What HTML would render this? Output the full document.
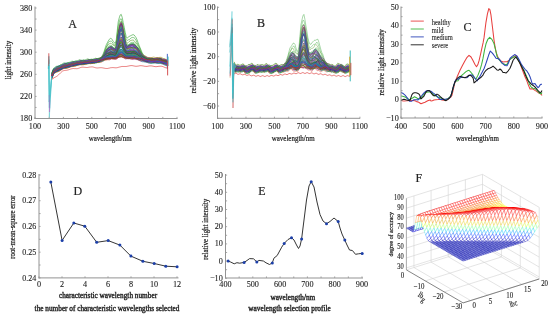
<!DOCTYPE html>
<html><head><meta charset="utf-8"><style>
html,body{margin:0;padding:0;background:#fff;}
svg{display:block;font-family:"Liberation Serif",serif;will-change:transform;}
text{stroke:#2a2a2a;stroke-width:0.12px;}
</style></head><body>
<svg width="550" height="317" viewBox="0 0 550 317" xmlns="http://www.w3.org/2000/svg">
<defs>
<clipPath id="clipA"><rect x="35" y="0" width="145" height="118"/></clipPath>
<clipPath id="clipB"><rect x="218" y="0" width="145" height="118"/></clipPath>
</defs>
<rect width="550" height="317" fill="#fff"/>
<g fill="none" stroke-linejoin="round" clip-path="url(#clipA)">
<path d="M51.6,76.3l1-2.6 1-2.5 1-.6 1-.9 1-.5 1,.1 1-.3 1-.8 1-.6 1-.4 .9-.7 1-.7 1,0 1,.3 1-.2 1-.5 1-.3 1-.2 1-.5 1-.5 1,.1 1,.2 1-.2 1-.4 1-.2 1-.3 1-.5 .9-.3 1,.3 1,.2 1-.2 1-.2 1,0 1-.3 1-.5 1-.2 1,.3 1,.1 1-.2 1-.1 1,.1 1-.3 1-.5 .9,0 1,.2 1-.2 1-.7 1-.4 1-.8 1-1.5 1-1.9 1-2 1-2.6 1-3.3 1-2.9 1-1.9 1-1.8 1-1.7 1-.9 1,.1 .9,1.2 1,1.6 1,1.4 1,.6 1-3 1-9 1-9.3 1-4 1-3 1-.7 1,3.1 1,5.1 1,4.7 1,5.1 1,4.4 1,1.4 1-.9 .9-.7 1-.5 1-.5 1-.5 1-.4 1,.4 1,1.2 1,1.5 1,2.2 1,2.8 1,2.6 1,2.4 1,2.5 1,2.5 1,1.6 1,1 1,1.4 .9,1.4 1,.9 1,.4 1,.3 1,.3 1-.1 1-.1 1,.4 1,.5 1-.1 1-.3 1,0 1,0 1-.4 1-.1 1,.7 .9,.7 1,.2 1,.1 1,.4 1,.2 1-.1" stroke="#2f9f2f" stroke-width="0.65" stroke-opacity="0.9"/>
<path d="M51.6,76.5l1-2.2 1-2.6 1-.9 1-.4 1-.1 1-.4 1-.8 1-.6 1-.4 1-.7 .9-.6 1-.1 1,.2 1-.3 1-.5 1-.3 1-.2 1-.6 1-.4 1,.2 1,.2 1-.4 1-.4 1-.2 1-.3 1-.7 1-.1 .9,.3 1,.1 1-.2 1-.2 1,0 1-.4 1-.5 1,0 1,.3 1,0 1-.2 1-.1 1,0 1-.5 1-.4 1,.2 .9,.3 1-.2 1-.4 1-.2 1-.7 1-1.2 1-1.4 1-1.1 1-1.6 1-2.7 1-2.8 1-2.3 1-2.1 1-2.2 1-1.2 1-.3 1,0 .9,.8 1,1.7 1,1.4 1,0 1-3.1 1-7.7 1-8 1-4.1 1-3.1 1-.3 1,2.9 1,4.2 1,4.2 1,5.2 1,4.1 1,1.1 1-.7 .9-.1 1-.7 1-1.1 1-.5 1,.1 1,.3 1,.9 1,1.7 1,2.4 1,2.1 1,1.7 1,2.2 1,2.6 1,2 1,1.3 1,1.5 1,1.5 .9,.8 1,.4 1,.6 1,.4 1-.1 1,0 1,.5 1,.4 1-.1 1-.3 1,0 1-.1 1-.4 1,0 1,.5 1,.6 .9,.1 1,.2 1,.4 1,.1 1-.1 1,.4" stroke="#3aa83a" stroke-width="0.65" stroke-opacity="0.9"/>
<path d="M51.6,76.6l1-2.5 1-2.6 1-.3 1-.2 1-.6 1-.9 1-.5 1-.4 1-.7 1-.6 .9,0 1-.1 1-.4 1-.5 1-.1 1-.4 1-.5 1-.3 1,.3 1,0 1-.4 1-.4 1-.1 1-.5 1-.6 1-.1 1,.4 .9,0 1-.3 1-.1 1,0 1-.5 1-.5 1,.2 1,.3 1-.1 1-.2 1,0 1-.1 1-.6 1-.4 1,.3 1,.3 .9-.2 1-.1 1-.1 1-.5 1-1 1-.8 1-.6 1-.9 1-1.6 1-1.9 1-2.1 1-2.3 1-2.1 1-1.3 1-.6 1-.4 1-.2 .9,1 1,1.4 1,.5 1-.4 1-2.1 1-6.2 1-7.7 1-5 1-3.9 1-1.3 1,2.6 1,5.1 1,5.6 1,5.2 1,3.5 1,1.3 1-.1 .9-.5 1-1 1-.7 1-.1 1-.1 1,.2 1,1.1 1,1.7 1,1.4 1,1.3 1,1.6 1,2 1,1.7 1,1.7 1,1.6 1,1.3 1,.7 .9,.4 1,.6 1,.5 1,0 1,.2 1,.6 1,.3 1-.2 1-.2 1,.1 1-.2 1-.4 1,.2 1,.5 1,.1 1,.1 .9,.3 1,.3 1,0 1,0 1,.6 1,.8" stroke="#48b048" stroke-width="0.65" stroke-opacity="0.9"/>
<path d="M51.6,75.3l1-2.3 1-2.1 1-.3 1-.8 1-.9 1-.5 1-.4 1-.8 1-.4 1,0 .9-.2 1-.7 1-.4 1-.1 1-.4 1-.6 1,0 1,.3 1-.2 1-.4 1-.3 1-.2 1-.5 1-.5 1,0 1,.2 1-.1 .9-.3 1,0 1-.1 1-.5 1-.4 1,.3 1,.2 1-.2 1-.1 1,0 1-.2 1-.6 1-.2 1,.3 1,.1 1-.1 .9,0 1,.1 1-.6 1-.9 1-.6 1-.3 1-.8 1-1.2 1-1.5 1-2.1 1-2.8 1-2.8 1-1.6 1-1.1 1-.9 1-.5 1,.2 .9,.9 1,.8 1,.6 1,.3 1-2.1 1-6.8 1-7.4 1-3.7 1-3.4 1-1.4 1,2.4 1,4.8 1,4.6 1,4.8 1,3.9 1,1.5 1-.7 .9-1 1-.8 1-.4 1-.3 1-.1 1,.7 1,1.3 1,1 1,1.3 1,1.9 1,1.8 1,1.9 1,2.2 1,2.4 1,1.5 1,.7 1,.7 .9,.8 1,.6 1,.3 1,.5 1,.7 1,.2 1-.2 1-.1 1,.1 1-.3 1-.3 1,.3 1,.5 1,0 1-.2 1,.3 .9,.3 1,0 1,.1 1,.7 1,.7 1,.2" stroke="#5a9a2a" stroke-width="0.65" stroke-opacity="0.9"/>
<path d="M51.6,75.7l1-2.1 1-2.8 1-.9 1-.6 1-.6 1-.7 1-.3 1,0 1-.3 1-.8 .9-.6 1-.4 1-.5 1-.5 1,.1 1,.3 1-.3 1-.5 1-.2 1-.3 1-.6 1-.4 1,.2 1,.1 1-.3 1-.4 1,0 .9-.3 1-.5 1-.2 1,.3 1,.2 1-.3 1-.1 1,0 1-.4 1-.5 1-.1 1,.3 1,0 1-.2 1,0 1,0 .9-.5 1-.5 1-.1 1,.1 1-.2 1-.4 1-.2 1-.5 1-1.2 1-1.3 1-.8 1-.7 1-.8 1-.4 1-.1 1-.3 1-.6 .9,0 1,.6 1,.4 1-.1 1-.7 1-2.3 1-3.5 1-2.9 1-2.2 1-.5 1,1.3 1,2.6 1,2.8 1,2.6 1,1.3 1,0 1-.2 .9,0 1-.4 1-.1 1,.4 1,.2 1-.2 1,0 1,.7 1,.6 1,.5 1,1 1,1.3 1,.9 1,.4 1,.4 1,.5 1,.3 .9,.1 1,.6 1,.8 1,.1 1-.3 1,0 1,.1 1-.3 1-.2 1,.4 1,.4 1-.1 1-.2 1,0 1-.1 1-.1 .9,.3 1,.8 1,.6 1,.1 1,.2 1,.4" stroke="#1878a0" stroke-width="0.65" stroke-opacity="0.9"/>
<path d="M51.6,76.9l1-2.7 1-2.8 1-.5 1-.8 1-.8 1-.2 1,0 1-.4 1-.8 1-.6 .9-.4 1-.7 1-.4 1,.1 1,.2 1-.3 1-.5 1-.2 1-.3 1-.6 1-.3 1,.2 1,.1 1-.4 1-.4 1-.1 1-.3 .9-.5 1-.2 1,.4 1,.1 1-.3 1-.1 1,0 1-.4 1-.6 1,0 1,.3 1,0 1-.2 1,0 1,0 1-.6 .9-.5 1,.1 1,.2 1-.2 1-.2 1,0 1-.3 1-.8 1-.7 1-.2 1-.3 1-.5 1-.2 1,0 1-.3 1-.6 1-.3 .9,.3 1,.2 1,0 1,.2 1-.1 1-1.3 1-1.7 1-.8 1-.5 1-.2 1,.5 1,1.2 1,1 1,.5 1,.1 1,.3 1,0 .9-.2 1,.1 1,.4 1,.1 1-.3 1-.2 1,.2 1,.3 1,.1 1,.6 1,.8 1,.4 1,.1 1,.2 1,.3 1,.1 1,0 .9,.5 1,.7 1,.1 1-.2 1,0 1,0 1-.3 1-.1 1,.4 1,.4 1-.2 1-.2 1,0 1-.1 1-.4 1,.3 .9,.8 1,.6 1,.1 1,.2 1,.4 1,.1" stroke="#d85028" stroke-width="0.65" stroke-opacity="0.9"/>
<path d="M51.6,77.1l1-1.9 1-2.6 1-1 1-.7 1-.5 1-.7 1-.6 1-.1 1-.1 1-.6 .9-.7 1-.5 1-.3 1-.5 1-.3 1,.2 1,.1 1-.4 1-.4 1-.2 1-.4 1-.6 1-.2 1,.3 1-.1 1-.4 1-.2 .9-.1 1-.4 1-.5 1,.1 1,.3 1,0 1-.3 1,0 1-.1 1-.6 1-.4 1,.1 1,.3 1-.2 1-.1 1,0 .9-.2 1-.6 1-.4 1,.2 1,.1 1-.2 1-.2 1,0 1-.4 1-.9 1-.3 1,0 1,0 1-.2 1,.1 1,.1 1-.4 .9-.5 1,0 1,.2 1-.1 1-.2 1,0 1-.3 1-.7 1-.6 1,.1 1,.3 1,.1 1,.4 1,.7 1,.2 1-.3 1-.3 .9,.1 1,0 1-.1 1,.3 1,.5 1-.1 1-.3 1,.1 1,.2 1,0 1,.1 1,.6 1,.6 1,0 1-.2 1,.2 1,.1 .9-.1 1,.1 1,.6 1,.4 1-.3 1-.2 1,0 1-.1 1-.3 1,0 1,.5 1,.2 1-.2 1-.1 1,0 1,.1 .9-.1 1,.5 1,.8 1,.4 1,.1 1,.3" stroke="#2626b0" stroke-width="0.65" stroke-opacity="0.9"/>
<path d="M51.6,76.1l1-2.3 1-2.8 1-.6 1-.1 1-.4 1-.7 1-.7 1-.5 1-.5 1-.8 .9-.3 1,.1 1-.2 1-.5 1-.3 1-.2 1-.5 1-.5 1,0 1,.2 1-.2 1-.5 1-.2 1-.2 1-.7 1-.4 1,.2 .9,.3 1-.2 1-.3 1,0 1-.2 1-.6 1-.2 1,.3 1,.1 1-.2 1-.1 1,0 1-.4 1-.6 1,0 1,.3 .9,0 1-.2 1-.1 1-.2 1-.7 1-.9 1-.5 1-.4 1-.9 1-1.3 1-1.2 1-1.2 1-1.5 1-1.1 1-.3 1-.1 1-.2 .9,.5 1,.9 1,.4 1-.5 1-1.6 1-4 1-5.3 1-4.5 1-3.9 1-1.1 1,2.3 1,4.3 1,4.5 1,4.1 1,2.4 1,.7 1,.1 .9,0 1-.6 1-.7 1-.1 1,.1 1,0 1,.6 1,1.2 1,1.1 1,.7 1,.7 1,1.3 1,1.1 1,.8 1,.9 1,1.1 1,.6 .9,.1 1,.3 1,.4 1,0 1-.2 1,.4 1,.5 1,0 1-.3 1,0 1-.1 1-.3 1-.2 1,.4 1,.4 1,.2 .9,.1 1,.4 1,.2 1-.1 1,.2 1,.7" stroke="#a08a10" stroke-width="0.65" stroke-opacity="0.9"/>
<path d="M51.6,77.6l1-2 1-2.9 1-.9 1-.5 1-.7 1-.7 1-.3 1,.1 1-.4 1-.7 .9-.7 1-.3 1-.5 1-.4 1,0 1,.3 1-.3 1-.5 1-.2 1-.2 1-.6 1-.4 1,.1 1,.2 1-.3 1-.4 1,0 .9-.3 1-.5 1-.2 1,.3 1,.2 1-.2 1-.2 1,0 1-.3 1-.6 1-.1 1,.3 1,.1 1-.2 1,0 1,.1 .9-.5 1-.5 1-.2 1,0 1-.3 1-.6 1-.4 1-.8 1-1.7 1-1.9 1-1.6 1-1.4 1-1.2 1-.9 1-.3 1-.4 1-.6 .9,.2 1,1.1 1,.7 1,0 1-1.4 1-4.3 1-5.7 1-3.8 1-2.9 1-.6 1,2 1,3.6 1,4 1,3.9 1,2.3 1,.4 1-.4 .9-.3 1-.5 1-.4 1,.4 1,.2 1-.1 1,.3 1,1 1,1.2 1,1 1,1.5 1,1.9 1,1.6 1,1 1,.8 1,.8 1,.5 .9,.3 1,.7 1,1 1,.2 1-.2 1,.1 1,0 1-.2 1-.2 1,.4 1,.4 1-.1 1-.2 1,0 1-.1 1,0 .9,.2 1,.7 1,.7 1,.1 1,.3 1,.4" stroke="#3a3a3a" stroke-width="0.65" stroke-opacity="0.9"/>
<path d="M51.6,76.7l1-2.3 1-2.7 1-.7 1-.2 1-.2 1-.6 1-.8 1-.5 1-.5 1-.8 .9-.5 1,.1 1,0 1-.4 1-.5 1-.1 1-.4 1-.6 1-.2 1,.3 1,0 1-.5 1-.3 1-.2 1-.5 1-.6 1,.1 .9,.3 1,0 1-.3 1-.1 1-.1 1-.5 1-.4 1,.1 1,.3 1-.1 1-.2 1,0 1-.2 1-.6 1-.3 1,.2 .9,.1 1-.2 1-.1 1,.1 1-.4 1-.8 1-.4 1,0 1-.3 1-.6 1-.4 1-.3 1-.7 1-.8 1-.2 1,.2 1-.1 .9,0 1,.5 1,.2 1-.4 1-.9 1-1.1 1-1.4 1-1.1 1-.9 1,.2 1,.6 1,.7 1,.8 1,1.2 1,.7 1,.1 1,.2 .9,.3 1-.1 1-.5 1-.2 1,.2 1-.1 1,.1 1,.7 1,.8 1,.2 1,0 1,.4 1,.5 1,.2 1,.2 1,.8 1,.5 .9,0 1-.1 1,.2 1,.1 1-.3 1,.1 1,.5 1,.2 1-.3 1-.1 1,0 1-.2 1-.3 1,.1 1,.5 1,.4 .9,.1 1,.3 1,.3 1,0 1,0 1,.6" stroke="#c02020" stroke-width="0.65" stroke-opacity="0.9"/>
<path d="M51.6,74.8l1-2.6 1-2.8 1-.6 1-.6 1-.8 1-.4 1,0 1-.2 1-.7 1-.7 .9-.3 1-.6 1-.5 1-.1 1,.3 1,0 1-.5 1-.3 1-.2 1-.5 1-.5 1,.1 1,.3 1-.3 1-.4 1-.1 1-.2 .9-.5 1-.3 1,.3 1,.3 1-.2 1-.2 1,.1 1-.3 1-.5 1-.2 1,.3 1,.1 1-.2 1,0 1,.1 1-.3 .9-.6 1-.1 1,.2 1-.1 1-.4 1-.1 1-.3 1-.9 1-1.1 1-.8 1-.7 1-.9 1-.7 1-.2 1-.3 1-.7 1-.4 .9,.4 1,.7 1,.2 1,.1 1-.6 1-2.8 1-4.2 1-3.2 1-2.6 1-.9 1,1.6 1,3.5 1,3.6 1,2.5 1,1.2 1,.5 1,0 .9-.2 1-.3 1,.2 1,.4 1-.3 1-.2 1,.4 1,.6 1,.5 1,.8 1,1.2 1,1.1 1,.6 1,.5 1,.6 1,.4 1,.1 .9,.6 1,.8 1,.4 1-.1 1,0 1,.1 1-.2 1-.2 1,.3 1,.5 1,0 1-.3 1,.1 1,0 1-.4 1,.2 .9,.7 1,.7 1,.3 1,.1 1,.5 1,.2" stroke="#3a3a3a" stroke-width="0.65" stroke-opacity="0.9"/>
<path d="M51.6,74.9l1-2.6 1-2.8 1-.6 1-.6 1-.8 1-.4 1,.1 1-.3 1-.7 1-.7 .9-.3 1-.6 1-.5 1,0 1,.3 1-.2 1-.5 1-.2 1-.2 1-.5 1-.5 1,.1 1,.2 1-.2 1-.4 1-.2 1-.1 .9-.5 1-.3 1,.3 1,.2 1-.2 1-.1 1,0 1-.3 1-.5 1-.2 1,.4 1,.1 1-.2 1-.1 1,.1 1-.4 .9-.6 1-.1 1,.3 1,0 1-.2 1,0 1-.1 1-.6 1-.7 1-.1 1,0 1-.3 1-.1 1,.1 1-.1 1-.5 1-.4 .9,.2 1,.2 1-.1 1,.1 1,.2 1-.5 1-1.1 1-.5 1-.1 1,0 1,.1 1,.7 1,.8 1,.1 1-.2 1,.1 1,.1 .9,0 1,0 1,.4 1,.3 1-.2 1-.3 1,.2 1,.2 1,0 1,.3 1,.8 1,.4 1-.1 1,0 1,.3 1,0 1,0 .9,.4 1,.6 1,.2 1-.2 1,0 1,0 1-.2 1-.2 1,.3 1,.5 1,0 1-.3 1,.1 1,0 1-.4 1,.2 .9,.7 1,.7 1,.2 1,.2 1,.5 1,.1" stroke="#1878a0" stroke-width="0.65" stroke-opacity="0.9"/>
<path d="M51.6,76.1l1-2.2 1-2.9 1-.8 1-.5 1-.8 1-.6 1-.3 1,.1 1-.5 1-.8 .9-.6 1-.4 1-.5 1-.4 1,.2 1,.1 1-.3 1-.5 1-.2 1-.3 1-.6 1-.3 1,.2 1,.1 1-.4 1-.4 1,0 .9-.3 1-.6 1-.1 1,.4 1,.1 1-.3 1-.1 1,0 1-.5 1-.5 1,0 1,.3 1,0 1-.3 1,.1 1-.1 .9-.5 1-.5 1,0 1,.1 1-.2 1-.2 1-.1 1-.5 1-1 1-.8 1-.4 1-.4 1-.5 1-.2 1,.1 1-.4 1-.6 .9,0 1,.4 1,.2 1-.1 1-.2 1-1.2 1-1.9 1-1.5 1-.9 1-.1 1,.6 1,1.1 1,1.5 1,1.3 1,.4 1-.1 1-.1 .9,0 1-.2 1,0 1,.4 1,.2 1-.3 1,0 1,.4 1,.3 1,.3 1,.7 1,1 1,.5 1,.1 1,.2 1,.4 1,0 .9,.1 1,.6 1,.6 1,0 1-.3 1,0 1,0 1-.3 1-.1 1,.5 1,.3 1-.2 1-.2 1,.1 1-.2 1-.1 .9,.4 1,.8 1,.5 1,.1 1,.3 1,.4" stroke="#1878a0" stroke-width="0.65" stroke-opacity="0.9"/>
<path d="M51.6,76.5l1-2 1-2.9 1-.9 1-.6 1-.6 1-.7 1-.4 1,.1 1-.4 1-.7 .9-.7 1-.3 1-.5 1-.5 1,0 1,.3 1-.2 1-.5 1-.3 1-.2 1-.6 1-.5 1,.2 1,.1 1-.3 1-.4 1,0 .9-.2 1-.6 1-.2 1,.3 1,.1 1-.2 1-.2 1,.1 1-.4 1-.6 1-.1 1,.3 1,0 1-.2 1,0 1,.1 .9-.4 1-.6 1-.2 1,0 1-.3 1-.5 1-.5 1-.7 1-1.6 1-1.9 1-1.5 1-1.2 1-1.2 1-.8 1-.3 1-.4 1-.6 .9,.2 1,1 1,.6 1-.1 1-1.5 1-4.7 1-6.9 1-6.5 1-5.8 1-1.9 1,3.2 1,6.3 1,6.6 1,5.4 1,2.9 1,.5 1-.4 .9-.2 1-.5 1-.4 1,.4 1,.2 1-.1 1,.2 1,1 1,1 1,1 1,1.3 1,1.9 1,1.5 1,.9 1,.6 1,.8 1,.4 .9,.3 1,.7 1,.9 1,.3 1-.2 1,0 1,0 1-.2 1-.2 1,.3 1,.4 1-.1 1-.2 1,0 1-.1 1,0 .9,.2 1,.7 1,.6 1,.2 1,.2 1,.4" stroke="#7a3aa0" stroke-width="0.65" stroke-opacity="0.9"/>
<path d="M51.6,76.2l1-2.2 1-2 1-.4 1-1 1-.8 1-.3 1-.6 1-.7 1-.3 1,.1 .9-.4 1-.7 1-.3 1-.2 1-.5 1-.4 1,.1 1,.2 1-.2 1-.5 1-.2 1-.2 1-.6 1-.4 1,.2 1,.1 1-.2 .9-.2 1,0 1-.3 1-.5 1-.2 1,.4 1,.1 1-.2 1-.1 1,0 1-.3 1-.6 1-.1 1,.4 1,0 1-.2 .9,.1 1,0 1-.6 1-.7 1-.1 1,.1 1-.4 1-.6 1-.4 1-.9 1-1.4 1-1.2 1-.4 1-.3 1-.5 1-.1 1,.3 .9,.1 1-.1 1,.1 1,.2 1-.7 1-2.6 1-2.7 1-1.7 1-2 1-1 1,1.1 1,2.4 1,2.1 1,2.1 1,1.8 1,.7 1-.4 .9-.6 1-.2 1,0 1-.2 1,.1 1,.6 1,.6 1,.2 1,.3 1,.8 1,.7 1,.6 1,1 1,1.3 1,.6 1,.1 1,.2 .9,.4 1,.1 1,.1 1,.5 1,.5 1,.1 1-.3 1,0 1,0 1-.3 1-.1 1,.4 1,.4 1-.1 1-.2 1,.4 .9,.2 1-.1 1,.3 1,.8 1,.6 1,.1" stroke="#d85028" stroke-width="0.65" stroke-opacity="0.9"/>
<path d="M51.6,78.7l1-2.5 1-2.4 1-.9 1-.7 1-.2 1-.1 1-.6 1-.8 1-.5 1-.5 .9-.8 1-.4 1,.2 1,0 1-.4 1-.5 1-.2 1-.4 1-.6 1-.1 1,.3 1-.1 1-.5 1-.3 1-.2 1-.5 1-.5 .9,.1 1,.3 1-.1 1-.3 1,0 1-.1 1-.6 1-.4 1,.2 1,.2 1-.2 1-.1 1,0 1-.2 1-.6 1-.4 .9,.3 1,.1 1-.3 1-.1 1,0 1-.5 1-.8 1-.4 1-.2 1-.4 1-.7 1-.3 1-.2 1-.6 1-.7 1-.2 1,.2 .9,0 1,.2 1,.4 1,.1 1-.9 1-1.8 1-1.5 1-1.2 1-1.2 1-.3 1,1.1 1,1.4 1,.8 1,.9 1,.9 1,.3 1-.2 .9,.2 1,.3 1-.2 1-.4 1-.1 1,.1 1,.1 1,.2 1,.8 1,.8 1,.2 1,0 1,.5 1,.4 1,.1 1,.2 1,.7 .9,.5 1,0 1-.1 1,.1 1-.1 1-.3 1,.1 1,.5 1,.2 1-.3 1-.1 1,0 1-.2 1-.4 1,.2 1,.8 .9,.4 1,0 1,.4 1,.3 1-.1 1,0" stroke="#a08a10" stroke-width="0.65" stroke-opacity="0.9"/>
<path d="M51.6,76.9l1-2.3 1-2.7 1-.6 1-.2 1-.3 1-.7 1-.8 1-.4 1-.6 1-.7 .9-.4 1,.1 1-.1 1-.5 1-.4 1-.2 1-.4 1-.6 1,0 1,.3 1-.2 1-.5 1-.2 1-.3 1-.6 1-.4 1,.2 .9,.2 1-.1 1-.3 1,0 1-.2 1-.6 1-.3 1,.3 1,.2 1-.3 1-.1 1,.1 1-.4 1-.6 1-.2 1,.3 .9,.1 1-.3 1,0 1,0 1-.6 1-.7 1-.2 1,0 1-.4 1-.5 1-.3 1-.5 1-.7 1-.7 1-.1 1,.1 1-.1 .9,.1 1,.5 1,0 1-.5 1-.7 1-1 1-1.4 1-1.1 1-.7 1,.1 1,.4 1,.6 1,1 1,1.1 1,.6 1,.2 1,.3 .9,.3 1-.3 1-.5 1-.1 1,.1 1-.1 1,.3 1,.7 1,.6 1,.1 1,.1 1,.4 1,.4 1,.1 1,.5 1,.7 1,.4 .9-.1 1,0 1,.2 1-.1 1-.2 1,.3 1,.5 1,0 1-.3 1-.1 1,0 1-.3 1-.2 1,.3 1,.5 1,.2 .9,.1 1,.4 1,.2 1-.1 1,.2 1,.7" stroke="#1878a0" stroke-width="0.65" stroke-opacity="0.9"/>
<path d="M51.6,76.6l1-2.3 1-2.1 1-.3 1-.9 1-.9 1-.4 1-.5 1-.8 1-.4 1,0 .9-.2 1-.7 1-.5 1-.1 1-.5 1-.5 1,0 1,.2 1-.1 1-.5 1-.3 1-.2 1-.6 1-.5 1,.1 1,.2 1-.2 .9-.3 1,0 1-.2 1-.5 1-.3 1,.2 1,.2 1-.2 1-.1 1,0 1-.3 1-.6 1-.2 1,.3 1,0 1-.2 .9,0 1,0 1-.4 1-.7 1-.1 1,.1 1-.2 1-.4 1-.2 1-.3 1-.9 1-.9 1-.1 1,0 1-.3 1,0 1,.2 .9,.1 1-.4 1-.3 1,.1 1-.2 1-1.1 1-1.1 1-.5 1-.9 1-.7 1,.3 1,1.1 1,.9 1,.8 1,.9 1,.5 1-.2 .9-.5 1-.1 1,0 1-.1 1,0 1,.5 1,.5 1,0 1-.1 1,.4 1,.3 1,.2 1,.4 1,.9 1,.4 1-.1 1,0 .9,.3 1,0 1-.1 1,.3 1,.5 1,.1 1-.3 1-.1 1,.1 1-.3 1-.3 1,.3 1,.5 1,0 1-.3 1,.4 .9,.2 1-.1 1,.2 1,.7 1,.6 1,.2" stroke="#2a60d8" stroke-width="0.65" stroke-opacity="0.9"/>
<path d="M51.6,77.5l1-2.5 1-2.6 1-.3 1-.2 1-.7 1-.8 1-.5 1-.4 1-.8 1-.5 .9,.1 1-.1 1-.5 1-.4 1-.2 1-.4 1-.5 1-.2 1,.3 1,0 1-.5 1-.3 1-.1 1-.5 1-.6 1,0 1,.3 .9,0 1-.3 1-.1 1,0 1-.5 1-.4 1,.1 1,.3 1-.1 1-.2 1,.1 1-.2 1-.6 1-.3 1,.2 1,.3 .9-.2 1-.1 1,0 1-.5 1-.8 1-.5 1-.2 1-.5 1-1.1 1-1 1-1.1 1-1.6 1-1.4 1-.7 1-.2 1-.3 1-.1 .9,.7 1,.8 1,0 1-.4 1-1.2 1-3.9 1-5.3 1-4.4 1-3.7 1-1.5 1,2 1,4.5 1,4.9 1,3.9 1,2.3 1,1 1,.2 .9-.3 1-.8 1-.4 1,0 1,0 1,0 1,.9 1,1.1 1,.8 1,.6 1,.9 1,1.2 1,.9 1,1 1,1.2 1,.9 1,.3 .9,.1 1,.5 1,.3 1-.1 1,.1 1,.6 1,.3 1-.3 1-.1 1,0 1-.2 1-.3 1,.2 1,.5 1,.1 1,.1 .9,.3 1,.4 1-.1 1,.1 1,.6 1,.7" stroke="#28a848" stroke-width="0.65" stroke-opacity="0.9"/>
<path d="M51.6,76.7l1-1.9 1-2.2 1-1 1-.9 1-.5 1-.5 1-.8 1-.3 1,.1 1-.4 .9-.8 1-.5 1-.2 1-.5 1-.4 1,0 1,.3 1-.3 1-.5 1-.2 1-.2 1-.6 1-.5 1,.2 1,.2 1-.4 1-.2 .9-.1 1-.2 1-.5 1-.3 1,.4 1,.1 1-.2 1-.2 1,.1 1-.4 1-.6 1-.1 1,.3 1,.1 1-.2 1,0 .9,0 1-.5 1-.6 1-.1 1,.1 1-.2 1-.4 1-.1 1-.5 1-1.1 1-1.1 1-.4 1-.2 1-.4 1-.2 1,.2 1-.2 .9-.4 1,0 1,.4 1,0 1-.7 1-1.6 1-2.2 1-2.6 1-2.7 1-.9 1,1.4 1,2.5 1,2.4 1,2.2 1,1.5 1,.1 1-.5 .9-.1 1,0 1-.3 1,.1 1,.5 1,.3 1-.1 1,.1 1,.5 1,.4 1,.3 1,.7 1,1.1 1,.6 1,0 1,.2 1,.3 .9,.1 1,0 1,.5 1,.6 1,0 1-.2 1-.1 1,.1 1-.4 1-.1 1,.3 1,.5 1-.1 1-.3 1,.1 1,.2 .9-.1 1,.3 1,.7 1,.6 1,.2 1,.2" stroke="#2626b0" stroke-width="0.65" stroke-opacity="0.9"/>
<path d="M51.6,77.5l1-2.7 1-2.6 1-.6 1-.8 1-.7 1-.1 1,0 1-.6 1-.8 1-.4 .9-.5 1-.7 1-.3 1,.2 1,.1 1-.4 1-.4 1-.2 1-.3 1-.6 1-.2 1,.3 1-.1 1-.4 1-.3 1-.1 1-.4 .9-.5 1,0 1,.4 1,0 1-.3 1,0 1-.1 1-.5 1-.4 1,.1 1,.3 1-.1 1-.2 1,.1 1-.2 1-.5 .9-.4 1,.2 1,.1 1-.3 1-.2 1-.1 1-.6 1-1.1 1-.8 1-.6 1-.9 1-.9 1-.5 1-.3 1-.6 1-.8 1,0 .9,.5 1,.4 1,.2 1,.4 1-.7 1-3 1-3.4 1-2 1-1.7 1-.6 1,1.3 1,2.7 1,2.3 1,1.6 1,1.2 1,.6 1-.2 .9-.3 1,0 1,.3 1,0 1-.5 1,0 1,.5 1,.4 1,.6 1,1.1 1,1.1 1,.7 1,.5 1,.7 1,.5 1,.2 1,.4 .9,.8 1,.6 1,.1 1-.1 1,.1 1,0 1-.3 1,.1 1,.5 1,.2 1-.2 1-.2 1,.1 1-.2 1-.4 1,.5 .9,.8 1,.5 1,.1 1,.3 1,.3 1,0" stroke="#2a60d8" stroke-width="0.65" stroke-opacity="0.9"/>
<path d="M51.6,76.9l1-2.5 1-2.2 1-.1 1-.6 1-.9 1-.6 1-.4 1-.7 1-.6 1-.1 .9,0 1-.5 1-.5 1-.2 1-.2 1-.6 1-.3 1,.2 1,.2 1-.4 1-.4 1-.1 1-.4 1-.6 1-.2 1,.3 1,.1 .9-.3 1-.1 1,0 1-.4 1-.5 1,0 1,.4 1,0 1-.2 1,0 1-.1 1-.5 1-.4 1,.1 1,.3 1-.1 .9-.1 1,.1 1-.2 1-.7 1-.6 1,0 1-.2 1-.6 1-.7 1-.7 1-1.2 1-1.5 1-.9 1-.2 1-.3 1-.3 1,.2 .9,.5 1,.2 1-.2 1,0 1-.7 1-2.7 1-3.1 1-1.5 1-1.4 1-.8 1,.8 1,2.1 1,2.2 1,2 1,1.6 1,.9 1,0 .9-.6 1-.5 1-.1 1,0 1-.2 1,.4 1,.9 1,.6 1,.4 1,.6 1,.9 1,.7 1,.8 1,1.2 1,1 1,.4 1,.1 .9,.3 1,.4 1,0 1,.1 1,.5 1,.5 1-.2 1-.2 1,.1 1-.1 1-.4 1,.1 1,.5 1,.3 1-.2 1,.2 .9,.4 1,.1 1-.1 1,.5 1,.8 1,.5" stroke="#138a13" stroke-width="0.65" stroke-opacity="0.9"/>
<path d="M51.6,76.2l1-2.5 1-2.6 1-.2 1-.3 1-.7 1-.8 1-.5 1-.5 1-.7 1-.5 .9,0 1-.1 1-.5 1-.4 1-.2 1-.4 1-.6 1-.1 1,.3 1-.1 1-.4 1-.3 1-.2 1-.5 1-.6 1,0 1,.4 .9-.1 1-.3 1-.1 1-.1 1-.5 1-.4 1,.2 1,.3 1-.2 1-.2 1,.1 1-.3 1-.6 1-.2 1,.2 1,.2 .9-.2 1-.1 1,0 1-.4 1-.8 1-.3 1-.1 1-.4 1-.7 1-.6 1-.8 1-1.1 1-1.1 1-.4 1-.1 1-.2 1-.1 .9,.6 1,.4 1-.2 1-.4 1-.7 1-2.3 1-3.3 1-2.6 1-2 1-.9 1,1 1,2.6 1,2.9 1,2.4 1,1.4 1,.7 1,.3 .9-.3 1-.6 1-.3 1,.1 1-.1 1,0 1,.8 1,.8 1,.4 1,.3 1,.6 1,.8 1,.5 1,.7 1,.9 1,.7 1,.1 .9,.1 1,.3 1,.1 1-.1 1,.2 1,.5 1,.2 1-.3 1-.1 1,.1 1-.3 1-.3 1,.3 1,.5 1,0 1,.1 .9,.3 1,.3 1-.1 1,.1 1,.7 1,.7" stroke="#a08a10" stroke-width="0.65" stroke-opacity="0.9"/>
<path d="M51.6,76.3l1-2.3 1-2.8 1-.6 1-.1 1-.3 1-.8 1-.7 1-.5 1-.5 1-.8 .9-.3 1,0 1,0 1-.6 1-.4 1-.1 1-.5 1-.5 1,0 1,.2 1-.2 1-.5 1-.2 1-.2 1-.6 1-.5 1,.2 .9,.3 1-.2 1-.3 1,0 1-.2 1-.6 1-.3 1,.3 1,.2 1-.2 1-.2 1,.1 1-.4 1-.6 1-.2 1,.3 .9,.1 1-.3 1,0 1,0 1-.6 1-.7 1-.2 1,0 1-.4 1-.5 1-.3 1-.4 1-.8 1-.7 1,0 1,0 1-.1 .9,.1 1,.5 1,.1 1-.6 1-.8 1-1.1 1-1.6 1-1.7 1-1.3 1-.1 1,.7 1,1.1 1,1.5 1,1.5 1,.7 1,.2 1,.3 .9,.3 1-.3 1-.5 1-.1 1,.2 1-.1 1,.2 1,.7 1,.6 1,.1 1,.1 1,.4 1,.4 1,.1 1,.4 1,.8 1,.4 .9-.2 1,.1 1,.2 1-.1 1-.2 1,.2 1,.5 1,.1 1-.3 1-.1 1,0 1-.3 1-.3 1,.4 1,.4 1,.3 .9,.1 1,.3 1,.3 1-.2 1,.2 1,.7" stroke="#2626b0" stroke-width="0.65" stroke-opacity="0.9"/>
<path d="M51.6,75.9l1-2.4 1-2.7 1-.2 1-.2 1-.6 1-.8 1-.5 1-.5 1-.7 1-.5 .9,0 1-.1 1-.3 1-.5 1-.2 1-.3 1-.6 1-.2 1,.3 1,0 1-.4 1-.3 1-.2 1-.4 1-.6 1-.1 1,.4 .9,0 1-.2 1-.1 1-.1 1-.4 1-.5 1,.2 1,.3 1-.1 1-.2 1,.1 1-.2 1-.5 1-.4 1,.2 1,.2 .9-.1 1-.1 1,.1 1-.3 1-.7 1-.4 1,.1 1-.2 1-.4 1-.4 1-.2 1-.8 1-.8 1-.3 1,.1 1-.1 1-.1 .9,.4 1,.4 1-.3 1-.5 1-.4 1-.9 1-1.4 1-1 1-.5 1-.1 1,.2 1,.7 1,1.2 1,1.1 1,.5 1,.4 1,.4 .9,0 1-.5 1-.2 1,.1 1,0 1,0 1,.5 1,.8 1,.2 1,0 1,.3 1,.5 1,.3 1,.3 1,.7 1,.7 1,0 .9-.1 1,.3 1,.1 1-.1 1,0 1,.5 1,.3 1-.2 1-.2 1,.1 1-.1 1-.4 1,.2 1,.5 1,.2 1,.1 .9,.2 1,.4 1,.1 1-.1 1,.6 1,.8" stroke="#d85028" stroke-width="0.65" stroke-opacity="0.9"/>
<path d="M51.6,79.3l1-2.4 1-3 1-.7 1-.6 1-.7 1-.6 1-.1 1-.1 1-.6 1-.8 .9-.5 1-.5 1-.5 1-.3 1,.2 1,.1 1-.4 1-.5 1-.2 1-.4 1-.6 1-.1 1,.2 1,0 1-.5 1-.3 1,0 .9-.5 1-.5 1,.1 1,.3 1,0 1-.3 1,0 1-.2 1-.5 1-.4 1,.1 1,.3 1-.2 1-.2 1,.1 1-.2 .9-.6 1-.4 1,.2 1,.1 1-.3 1-.1 1,0 1-.5 1-.8 1-.5 1-.1 1-.2 1-.3 1,0 1,.1 1-.5 1-.5 .9,0 1,.2 1,0 1,0 1,0 1-.6 1-1.3 1-1.2 1-.7 1,0 1,.3 1,.9 1,1.2 1,.7 1,0 1-.1 1,.1 .9-.1 1-.1 1,.2 1,.5 1-.1 1-.4 1,.1 1,.3 1,0 1,.2 1,.6 1,.7 1,.1 1-.1 1,.2 1,.2 1-.1 .9,.1 1,.6 1,.5 1-.2 1-.2 1,0 1-.1 1-.3 1,.1 1,.5 1,.1 1-.2 1-.1 1,0 1-.2 1-.1 .9,.5 1,.8 1,.4 1,.1 1,.3 1,.3" stroke="#d85028" stroke-width="0.65" stroke-opacity="0.9"/>
<path d="M51.6,77.9l1-1.9 1-2.8 1-.9 1-.6 1-.6 1-.7 1-.4 1,0 1-.2 1-.7 .9-.7 1-.4 1-.3 1-.6 1-.1 1,.3 1-.1 1-.4 1-.3 1-.2 1-.5 1-.5 1,0 1,.2 1-.2 1-.4 1-.1 .9-.1 1-.5 1-.3 1,.2 1,.3 1-.2 1-.2 1,0 1-.2 1-.6 1-.2 1,.3 1,.1 1-.2 1,0 1,.1 .9-.4 1-.6 1-.2 1,.1 1-.1 1-.4 1-.3 1-.4 1-1.1 1-1.4 1-1 1-.7 1-.7 1-.5 1-.1 1-.1 1-.6 .9-.1 1,.6 1,.5 1-.1 1-.9 1-2.6 1-3.8 1-3.7 1-3.1 1-.9 1,1.8 1,3.3 1,3.6 1,3.2 1,1.6 1,.1 1-.2 .9-.1 1-.3 1-.2 1,.3 1,.4 1-.1 1,0 1,.6 1,.7 1,.6 1,.8 1,1.3 1,1.2 1,.5 1,.3 1,.5 1,.4 .9,.1 1,.4 1,.8 1,.4 1-.3 1-.1 1,.1 1-.2 1-.2 1,.2 1,.5 1,0 1-.2 1,0 1,0 1,0 .9,.1 1,.6 1,.8 1,.2 1,.2 1,.4" stroke="#28a848" stroke-width="0.65" stroke-opacity="0.9"/>
<path d="M51.6,77.4l1-2.6 1-2.8 1-.5 1-.8 1-.8 1-.2 1,0 1-.4 1-.8 1-.6 .9-.4 1-.7 1-.4 1,.1 1,.2 1-.3 1-.5 1-.2 1-.3 1-.5 1-.4 1,.2 1,.1 1-.3 1-.4 1-.2 1-.3 .9-.5 1-.1 1,.3 1,.1 1-.2 1-.1 1-.1 1-.4 1-.5 1,0 1,.3 1,0 1-.2 1,0 1-.1 1-.5 .9-.5 1,.1 1,.2 1-.2 1-.2 1,0 1-.3 1-.9 1-.7 1-.3 1-.4 1-.6 1-.2 1,0 1-.4 1-.6 1-.3 .9,.4 1,.2 1,0 1,.2 1-.2 1-1.6 1-2.2 1-1.4 1-1.1 1-.4 1,.7 1,1.9 1,1.6 1,.9 1,.4 1,.3 1,.1 .9-.3 1,.1 1,.4 1,.1 1-.4 1-.2 1,.4 1,.2 1,.2 1,.7 1,.9 1,.4 1,.1 1,.3 1,.4 1,0 1,.1 .9,.6 1,.7 1,.1 1-.2 1,0 1,0 1-.3 1-.1 1,.4 1,.4 1-.2 1-.2 1,.1 1-.2 1-.3 1,.3 .9,.8 1,.5 1,.1 1,.3 1,.4 1,0" stroke="#2626b0" stroke-width="0.65" stroke-opacity="0.9"/>
<path d="M51.6,76.7l1-2.7 1-2.6 1-.5 1-.9 1-.6 1,0 1-.1 1-.7 1-.8 1-.4 .9-.5 1-.8 1-.1 1,.2 1,0 1-.5 1-.3 1-.2 1-.5 1-.5 1-.1 1,.3 1-.1 1-.5 1-.2 1-.2 1-.5 .9-.4 1,.2 1,.3 1-.1 1-.3 1,0 1-.2 1-.5 1-.3 1,.2 1,.2 1-.2 1-.1 1,.1 1-.3 1-.6 .9-.2 1,.3 1-.1 1-.3 1-.2 1-.1 1-.9 1-1.1 1-.8 1-.7 1-1.1 1-1.1 1-.6 1-.4 1-.9 1-.7 1,.1 .9,.5 1,.4 1,.4 1,.4 1-1 1-3.6 1-4 1-2.4 1-2.2 1-.8 1,1.7 1,3.2 1,2.7 1,2.1 1,1.5 1,.7 1-.2 .9-.3 1,0 1,.2 1-.2 1-.4 1,.1 1,.5 1,.4 1,.8 1,1.3 1,1.1 1,.8 1,.6 1,.9 1,.6 1,.3 1,.5 .9,.9 1,.5 1,0 1,0 1,.2 1-.1 1-.3 1,.2 1,.5 1,.1 1-.3 1,0 1,0 1-.3 1-.3 1,.6 .9,.8 1,.3 1,.1 1,.4 1,.3 1-.1" stroke="#28a848" stroke-width="0.65" stroke-opacity="0.9"/>
<path d="M51.6,76.2l1-2.1 1-2.9 1-.8 1-.5 1-.7 1-.6 1-.2 1,0 1-.4 1-.8 .9-.5 1-.3 1-.5 1-.4 1,.2 1,.2 1-.3 1-.4 1-.2 1-.3 1-.5 1-.3 1,.2 1,.1 1-.3 1-.3 1,0 .9-.3 1-.5 1-.1 1,.4 1,.1 1-.2 1-.1 1,0 1-.4 1-.5 1,.1 1,.3 1,0 1-.2 1,.1 1-.1 .9-.5 1-.4 1,.1 1,.2 1-.2 1-.1 1,0 1-.2 1-.8 1-.6 1-.1 1-.1 1-.2 1,0 1,.2 1-.2 1-.6 .9-.1 1,.3 1,.1 1-.1 1,0 1-.2 1-1 1-.9 1-.4 1,.1 1,.2 1,.6 1,.9 1,.7 1,0 1-.2 1,.1 .9,.1 1-.2 1,.2 1,.5 1,.2 1-.3 1-.1 1,.3 1,.2 1,.1 1,.5 1,.8 1,.3 1-.1 1,.1 1,.3 1,0 .9,0 1,.6 1,.6 1,0 1-.3 1,.1 1,0 1-.3 1-.1 1,.5 1,.4 1-.1 1-.2 1,.1 1-.1 1-.1 .9,.4 1,.8 1,.6 1,.1 1,.3 1,.5" stroke="#a020a0" stroke-width="0.65" stroke-opacity="0.9"/>
<path d="M51.6,76.0l1-2.5 1-2.7 1-.3 1-.1 1-.7 1-.8 1-.5 1-.5 1-.7 1-.6 .9,0 1,0 1-.4 1-.5 1-.2 1-.3 1-.6 1-.3 1,.3 1,0 1-.4 1-.4 1-.1 1-.5 1-.6 1-.1 1,.4 .9,0 1-.3 1-.1 1-.1 1-.4 1-.5 1,.1 1,.3 1-.1 1-.2 1,0 1-.1 1-.5 1-.5 1,.2 1,.2 .9-.1 1-.2 1,.1 1-.3 1-.6 1-.4 1,0 1-.1 1-.4 1-.2 1-.2 1-.6 1-.8 1-.3 1,.1 1,0 1-.1 .9,.2 1,.3 1-.3 1-.5 1-.3 1-.7 1-1.1 1-.9 1-.5 1-.1 1,.1 1,.6 1,1 1,.9 1,.4 1,.4 1,.4 .9,0 1-.5 1-.2 1,.1 1,0 1-.1 1,.5 1,.7 1,.2 1-.1 1,.2 1,.4 1,.1 1,.2 1,.6 1,.6 1,.1 .9-.2 1,.2 1,.1 1-.2 1,.1 1,.4 1,.3 1-.2 1-.2 1,.1 1-.2 1-.3 1,.1 1,.5 1,.1 1,.1 .9,.3 1,.4 1,0 1-.1 1,.6 1,.7" stroke="#138a13" stroke-width="0.65" stroke-opacity="0.9"/>
<path d="M51.6,74.8l1-2.2 1-2.7 1-.8 1-.3 1-.1 1-.5 1-.8 1-.6 1-.4 1-.7 .9-.6 1-.1 1,.2 1-.3 1-.5 1-.2 1-.3 1-.6 1-.3 1,.3 1,.1 1-.4 1-.4 1-.2 1-.4 1-.6 1-.1 .9,.4 1,.1 1-.3 1-.1 1-.1 1-.4 1-.5 1,0 1,.4 1-.1 1-.2 1,0 1-.1 1-.5 1-.5 1,.2 .9,.2 1-.1 1-.2 1,.1 1-.3 1-.7 1-.5 1,0 1-.2 1-.5 1-.4 1-.1 1-.5 1-.8 1-.3 1,.2 1,0 .9,0 1,.3 1,.4 1-.4 1-.9 1-1 1-1 1-1 1-.9 1,.1 1,.8 1,.6 1,.6 1,1 1,.7 1,0 1,.1 .9,.4 1,.1 1-.5 1-.2 1,.1 1,0 1,.1 1,.5 1,.8 1,.3 1,0 1,.2 1,.5 1,.1 1,.2 1,.6 1,.6 .9,.1 1-.2 1,.2 1,.1 1-.3 1,0 1,.5 1,.3 1-.2 1-.2 1,.1 1-.2 1-.3 1,0 1,.5 1,.5 .9,.1 1,.3 1,.4 1,0 1-.1 1,.5" stroke="#109a9a" stroke-width="0.65" stroke-opacity="0.9"/>
<path d="M51.6,77.0l1-2.2 1-2.9 1-.8 1-.6 1-.7 1-.7 1-.2 1,0 1-.4 1-.8 .9-.6 1-.4 1-.4 1-.5 1,.1 1,.3 1-.3 1-.5 1-.2 1-.3 1-.6 1-.4 1,.2 1,.1 1-.3 1-.4 1,0 .9-.3 1-.6 1-.1 1,.4 1,.1 1-.3 1-.1 1,0 1-.4 1-.6 1,0 1,.3 1,0 1-.2 1,0 1,0 .9-.6 1-.5 1,.1 1,.2 1-.2 1-.2 1,0 1-.3 1-.8 1-.6 1-.1 1-.1 1-.2 1-.1 1,.2 1-.3 1-.6 .9-.1 1,.2 1,.1 1-.1 1,0 1-.3 1-1.1 1-1.1 1-.7 1,0 1,.3 1,.7 1,1.1 1,.8 1,0 1-.3 1,.1 .9,.1 1-.2 1,.1 1,.5 1,.2 1-.4 1-.1 1,.3 1,.2 1,0 1,.5 1,.7 1,.3 1-.1 1,0 1,.3 1-.1 .9,0 1,.5 1,.6 1,0 1-.3 1,0 1,0 1-.3 1-.1 1,.4 1,.4 1-.2 1-.2 1,.1 1-.1 1-.1 .9,.3 1,.8 1,.5 1,.2 1,.2 1,.4" stroke="#3a3a3a" stroke-width="0.65" stroke-opacity="0.9"/>
<path d="M51.6,75.6l1-2.5 1-2.3 1-.1 1-.6 1-1 1-.5 1-.4 1-.7 1-.6 1-.1 .9,0 1-.5 1-.5 1-.3 1-.2 1-.6 1-.3 1,.3 1,.1 1-.4 1-.4 1-.2 1-.3 1-.7 1-.1 1,.2 1,.1 .9-.3 1-.1 1,0 1-.4 1-.5 1,0 1,.4 1,0 1-.3 1,0 1,0 1-.6 1-.4 1,.2 1,.3 1-.1 .9-.1 1,.1 1-.4 1-.8 1-.7 1-.2 1-.5 1-1.1 1-1.2 1-1.5 1-2.2 1-2.3 1-1.4 1-.8 1-.7 1-.4 1,.2 .9,.8 1,.6 1,.3 1,.1 1-1.7 1-5.7 1-7 1-4.8 1-4.4 1-2 1,2.5 1,5.7 1,5.7 1,4.8 1,3.4 1,1.5 1-.4 .9-.8 1-.8 1-.3 1-.1 1-.2 1,.6 1,1.1 1,1 1,.9 1,1.4 1,1.5 1,1.5 1,1.5 1,1.9 1,1.5 1,.7 1,.4 .9,.6 1,.5 1,.2 1,.2 1,.6 1,.5 1-.2 1-.1 1,0 1-.1 1-.4 1,.1 1,.5 1,.2 1-.2 1,.2 .9,.4 1,.1 1-.1 1,.5 1,.8 1,.4" stroke="#c02020" stroke-width="0.65" stroke-opacity="0.9"/>
<path d="M51.6,78.2l1-2.3 1-2.7 1-.8 1-.3 1-.2 1-.5 1-.8 1-.6 1-.4 1-.8 .9-.6 1,0 1,.1 1-.4 1-.5 1-.2 1-.4 1-.6 1-.3 1,.3 1,0 1-.4 1-.4 1-.2 1-.4 1-.7 1-.1 .9,.4 1,0 1-.3 1-.1 1-.1 1-.5 1-.5 1,.1 1,.3 1-.1 1-.3 1,0 1-.1 1-.6 1-.4 1,.1 .9,.2 1-.2 1-.2 1,.1 1-.3 1-.7 1-.5 1,0 1-.1 1-.5 1-.3 1-.1 1-.5 1-.7 1-.2 1,.1 1,0 .9-.1 1,.3 1,.2 1-.4 1-.7 1-.8 1-.7 1-.7 1-.6 1,.3 1,.5 1,.2 1,.3 1,.7 1,.4 1,0 1,.1 .9,.5 1,0 1-.5 1-.2 1,.1 1,0 1-.1 1,.5 1,.7 1,.2 1-.1 1,.1 1,.4 1,0 1,.1 1,.6 1,.6 .9,0 1-.2 1,.1 1,.1 1-.3 1-.1 1,.5 1,.3 1-.3 1-.2 1,.1 1-.2 1-.4 1,.1 1,.5 1,.4 .9,.1 1,.2 1,.4 1,0 1-.1 1,.5" stroke="#a08a10" stroke-width="0.65" stroke-opacity="0.9"/>
<path d="M51.6,77.3l1-2.6 1-2.4 1-.7 1-.8 1-.4 1,0 1-.3 1-.8 1-.6 1-.4 .9-.7 1-.7 1,.1 1,.3 1-.3 1-.5 1-.2 1-.3 1-.5 1-.4 1,.1 1,.2 1-.3 1-.4 1-.2 1-.3 1-.5 .9-.2 1,.3 1,.2 1-.2 1-.2 1,0 1-.3 1-.6 1-.1 1,.4 1,0 1-.2 1,0 1,0 1-.5 1-.5 .9,0 1,.3 1-.1 1-.3 1-.1 1-.3 1-.9 1-.8 1-.5 1-.7 1-1 1-.9 1-.3 1-.6 1-.9 1-.5 1,.2 .9,.4 1,.3 1,.5 1,.3 1-1.1 1-3.2 1-3.5 1-2.3 1-2.3 1-.9 1,1.8 1,3.1 1,2.4 1,2 1,1.5 1,.7 1-.3 .9-.1 1,.2 1,0 1-.4 1-.3 1,.2 1,.4 1,.4 1,.8 1,1.2 1,.9 1,.4 1,.7 1,.8 1,.4 1,.2 1,.7 .9,.8 1,.3 1,0 1,.1 1,.1 1-.3 1-.1 1,.4 1,.5 1-.2 1-.2 1,0 1,0 1-.4 1-.1 1,.8 .9,.6 1,.2 1,.2 1,.4 1,.1 1-.1" stroke="#c02020" stroke-width="0.65" stroke-opacity="0.9"/>
<path d="M51.6,76.6l1-2.1 1-2.8 1-.9 1-.6 1-.6 1-.7 1-.3 1,0 1-.4 1-.8 .9-.5 1-.4 1-.5 1-.4 1,0 1,.3 1-.3 1-.5 1-.2 1-.3 1-.6 1-.4 1,.2 1,.2 1-.4 1-.4 1,0 .9-.2 1-.6 1-.2 1,.4 1,.1 1-.2 1-.2 1,0 1-.3 1-.6 1-.1 1,.4 1,0 1-.3 1,0 1,0 .9-.5 1-.5 1,0 1,.2 1-.2 1-.2 1,0 1-.3 1-.8 1-.7 1-.2 1-.1 1-.3 1-.1 1,.1 1-.2 1-.6 .9-.2 1,.3 1,.2 1-.2 1-.1 1-.5 1-1.4 1-1.5 1-1 1-.2 1,.6 1,1 1,1.4 1,1.1 1,.2 1-.2 1,0 .9,.1 1-.2 1,.1 1,.4 1,.3 1-.3 1-.2 1,.3 1,.3 1,0 1,.5 1,.8 1,.4 1-.1 1,.1 1,.3 1,0 .9,0 1,.5 1,.6 1,0 1-.3 1,0 1,0 1-.3 1-.1 1,.4 1,.4 1-.1 1-.3 1,.1 1-.1 1-.1 .9,.3 1,.8 1,.5 1,.2 1,.2 1,.4" stroke="#a020a0" stroke-width="0.65" stroke-opacity="0.9"/>
<path d="M51.6,76.5l1-2.6 1-2.8 1-.7 1-.6 1-.8 1-.4 1,0 1-.2 1-.7 1-.7 .9-.4 1-.5 1-.6 1-.1 1,.3 1,0 1-.5 1-.4 1-.1 1-.5 1-.5 1,0 1,.3 1-.2 1-.5 1-.2 1-.1 .9-.5 1-.3 1,.2 1,.3 1-.2 1-.2 1,0 1-.2 1-.5 1-.3 1,.3 1,.2 1-.2 1-.1 1,.1 1-.3 .9-.6 1-.2 1,.2 1-.1 1-.4 1-.1 1-.3 1-.9 1-1.2 1-.9 1-.7 1-.9 1-.7 1-.2 1-.3 1-.7 1-.5 .9,.4 1,.7 1,.2 1,.1 1-.7 1-3.1 1-4.7 1-4.1 1-3.5 1-1.3 1,2 1,4.4 1,4.4 1,3.1 1,1.4 1,.5 1,0 .9-.2 1-.3 1,.2 1,.3 1-.2 1-.3 1,.4 1,.6 1,.5 1,.8 1,1.2 1,1.2 1,.5 1,.5 1,.6 1,.4 1,.2 .9,.5 1,.8 1,.5 1-.2 1-.1 1,.2 1-.2 1-.3 1,.3 1,.5 1,0 1-.2 1-.1 1,.1 1-.4 1,.1 .9,.7 1,.7 1,.3 1,.2 1,.4 1,.2" stroke="#7a3aa0" stroke-width="0.65" stroke-opacity="0.9"/>
<path d="M51.6,76.6l1-2.4 1-2.5 1-.8 1-.8 1-.2 1,0 1-.7 1-.8 1-.5 1-.5 .9-.7 1-.5 1,.2 1,.1 1-.5 1-.4 1-.2 1-.4 1-.6 1-.2 1,.3 1-.1 1-.4 1-.3 1-.2 1-.5 1-.6 .9,.1 1,.3 1,0 1-.3 1-.1 1-.1 1-.5 1-.4 1,.1 1,.3 1-.2 1-.2 1,.1 1-.2 1-.6 1-.4 .9,.2 1,.2 1-.3 1-.2 1,0 1-.4 1-.9 1-.6 1-.2 1-.5 1-.8 1-.5 1-.3 1-.7 1-.7 1-.2 1,.1 .9,.2 1,.2 1,.5 1,.1 1-1.1 1-2.2 1-2 1-1.5 1-1.5 1-.3 1,1.2 1,1.8 1,1.2 1,1.2 1,1.1 1,.4 1-.3 .9,.2 1,.3 1-.2 1-.5 1-.1 1,.2 1,.1 1,.3 1,.8 1,.9 1,.4 1,.2 1,.5 1,.5 1,.2 1,.3 1,.7 .9,.6 1,0 1-.1 1,.2 1-.1 1-.3 1,.1 1,.5 1,.2 1-.3 1-.1 1,0 1-.2 1-.4 1,.2 1,.8 .9,.4 1,0 1,.3 1,.4 1-.1 1,0" stroke="#2626b0" stroke-width="0.65" stroke-opacity="0.9"/>
<path d="M51.6,74.9l1-1.8 1-2.3 1-1 1-.8 1-.5 1-.6 1-.7 1-.2 1,.1 1-.4 .9-.8 1-.5 1-.2 1-.5 1-.4 1,.2 1,.2 1-.3 1-.4 1-.2 1-.3 1-.6 1-.3 1,.2 1,.1 1-.3 1-.3 .9,0 1-.2 1-.6 1-.1 1,.4 1,.1 1-.2 1-.1 1,0 1-.4 1-.5 1,0 1,.3 1,0 1-.1 1,.1 .9,0 1-.6 1-.6 1-.2 1-.1 1-.5 1-.8 1-.6 1-1.4 1-2.3 1-2.2 1-1.6 1-1.1 1-1.2 1-.6 1,0 1-.3 .9,.1 1,.8 1,1 1,.2 1-1.9 1-5.2 1-6.1 1-4.4 1-3.9 1-1.2 1,2.7 1,4.5 1,4.5 1,4.7 1,3.3 1,.6 1-.8 .9-.4 1-.4 1-.6 1,0 1,.5 1,.4 1,.3 1,.8 1,1.5 1,1.3 1,1.3 1,1.9 1,2.2 1,1.6 1,.6 1,.7 1,.8 .9,.5 1,.3 1,.9 1,.7 1,.1 1-.2 1,.1 1,0 1-.3 1-.1 1,.4 1,.4 1-.2 1-.1 1,.1 1,.1 .9,0 1,.3 1,.8 1,.6 1,.1 1,.3" stroke="#109a9a" stroke-width="0.65" stroke-opacity="0.9"/>
<path d="M51.6,76.1l1-2 1-2 1-.7 1-1 1-.6 1-.4 1-.7 1-.5 1,0 1-.1 .9-.6 1-.7 1-.1 1-.3 1-.5 1-.2 1,.3 1,0 1-.4 1-.4 1-.1 1-.4 1-.6 1,0 1,.3 1-.1 1-.3 .9-.1 1,0 1-.5 1-.4 1,.2 1,.3 1-.1 1-.2 1,.1 1-.1 1-.6 1-.3 1,.2 1,.2 1-.1 1-.1 .9,.1 1-.2 1-.6 1-.3 1,.1 1,.1 1-.4 1-.2 1-.1 1-.8 1-1 1-.5 1,0 1-.1 1-.3 1,.2 1,.1 .9-.2 1-.3 1,.1 1,.2 1-.4 1-1.1 1-1.1 1-1.1 1-1.5 1-.6 1,.8 1,1.4 1,1.1 1,1.3 1,1.1 1,.3 1-.5 .9-.2 1,.1 1-.1 1-.1 1,.4 1,.5 1,.1 1-.1 1,.3 1,.5 1,.2 1,.4 1,.9 1,.7 1,.1 1,0 1,.3 .9,.2 1-.1 1,.3 1,.6 1,.3 1-.2 1-.1 1,.1 1-.2 1-.3 1,.2 1,.5 1,.2 1-.2 1-.1 1,.4 .9,.1 1,0 1,.6 1,.8 1,.3 1,.2" stroke="#109a9a" stroke-width="0.65" stroke-opacity="0.9"/>
<path d="M51.6,75.9l1-2.4 1-2.4 1-.8 1-.7 1-.2 1,0 1-.6 1-.8 1-.5 1-.4 .9-.8 1-.4 1,.2 1,.1 1-.4 1-.4 1-.2 1-.3 1-.6 1-.1 1,.2 1,0 1-.4 1-.3 1-.1 1-.5 1-.5 .9,.1 1,.4 1,0 1-.3 1,0 1-.1 1-.5 1-.4 1,.2 1,.2 1-.1 1-.1 1,0 1-.1 1-.6 1-.3 .9,.2 1,.1 1-.1 1-.1 1,.1 1-.4 1-.7 1-.3 1,0 1-.1 1-.4 1-.1 1,.1 1-.5 1-.6 1,0 1,.2 .9,0 1,0 1,.3 1,.1 1-.6 1-.8 1-.5 1-.2 1-.4 1,.1 1,.7 1,.4 1-.1 1,.1 1,.5 1,.1 1-.1 .9,.3 1,.4 1,0 1-.4 1-.1 1,.2 1,0 1,.1 1,.6 1,.6 1,.1 1-.1 1,.2 1,.3 1,0 1,.1 1,.6 .9,.5 1,0 1-.1 1,.1 1,0 1-.3 1,.1 1,.5 1,.2 1-.2 1-.1 1,0 1-.2 1-.3 1,.2 1,.8 .9,.5 1,.1 1,.3 1,.4 1-.1 1,.1" stroke="#28a848" stroke-width="0.65" stroke-opacity="0.9"/>
<path d="M51.6,77.8l1-2.6 1-2.4 1-.1 1-.5 1-1 1-.7 1-.4 1-.7 1-.7 1-.2 .9,0 1-.5 1-.6 1-.3 1-.2 1-.6 1-.4 1,.1 1,.1 1-.3 1-.5 1-.2 1-.3 1-.7 1-.4 1,.2 1,.2 .9-.3 1-.3 1,0 1-.3 1-.6 1-.2 1,.3 1,.1 1-.3 1-.1 1,0 1-.5 1-.6 1,0 1,.3 1,0 .9-.2 1,0 1-.3 1-.8 1-.8 1-.4 1-.5 1-.9 1-1.3 1-1.5 1-2 1-2.3 1-1.6 1-.8 1-.6 1-.5 1,0 .9,.9 1,.7 1,.1 1-.1 1-1.6 1-5.6 1-6.9 1-4.8 1-4.3 1-1.9 1,2.4 1,5.5 1,5.5 1,4.7 1,3.2 1,1.3 1-.2 .9-.7 1-.9 1-.4 1-.1 1-.2 1,.3 1,1.1 1,1.1 1,.9 1,1.1 1,1.4 1,1.5 1,1.4 1,1.7 1,1.4 1,.8 1,.3 .9,.4 1,.6 1,.1 1,.1 1,.5 1,.5 1-.1 1-.3 1,0 1-.1 1-.4 1-.1 1,.4 1,.3 1-.2 1,.1 .9,.4 1,.1 1-.1 1,.3 1,.7 1,.5" stroke="#138a13" stroke-width="0.65" stroke-opacity="0.9"/>
<path d="M51.6,78.2l1-1.9 1-2.6 1-1.1 1-.7 1-.5 1-.7 1-.6 1-.1 1-.1 1-.7 .9-.7 1-.5 1-.3 1-.5 1-.3 1,.2 1,.1 1-.5 1-.4 1-.2 1-.5 1-.6 1-.1 1,.2 1-.1 1-.4 1-.2 .9-.1 1-.4 1-.5 1,.1 1,.3 1-.1 1-.3 1,0 1-.2 1-.5 1-.5 1,.2 1,.2 1-.2 1-.1 1,.1 .9-.3 1-.6 1-.4 1,.1 1-.1 1-.3 1-.3 1-.3 1-.9 1-1.3 1-.9 1-.5 1-.5 1-.5 1-.1 1,0 1-.5 .9-.3 1,.3 1,.5 1-.1 1-.8 1-2 1-2.9 1-2.9 1-2.8 1-.7 1,1.5 1,2.5 1,2.8 1,2.6 1,1.4 1-.1 1-.4 .9,0 1-.2 1-.3 1,.3 1,.4 1,0 1-.1 1,.3 1,.6 1,.5 1,.5 1,1 1,1.1 1,.4 1,.1 1,.3 1,.3 .9,.1 1,.2 1,.7 1,.4 1-.2 1-.2 1,.1 1-.2 1-.3 1,0 1,.5 1,.2 1-.3 1-.1 1,0 1,0 .9,0 1,.5 1,.8 1,.3 1,.1 1,.4" stroke="#2a60d8" stroke-width="0.65" stroke-opacity="0.9"/>
<path d="M51.6,76.2l1-2.4 1-2.3 1-.1 1-.7 1-1 1-.5 1-.4 1-.7 1-.6 1-.1 .9,0 1-.6 1-.5 1-.2 1-.4 1-.5 1-.3 1,.3 1,0 1-.4 1-.4 1-.2 1-.4 1-.6 1-.1 1,.2 1,0 .9-.3 1-.1 1,0 1-.5 1-.5 1,.1 1,.4 1-.1 1-.3 1,0 1-.1 1-.5 1-.4 1,.1 1,.3 1-.1 .9-.1 1,0 1-.3 1-.8 1-.5 1-.1 1-.4 1-.7 1-.9 1-1 1-1.5 1-1.8 1-1 1-.4 1-.5 1-.3 1,.2 .9,.5 1,.3 1,0 1,0 1-1.2 1-4.3 1-5.6 1-4.9 1-4.8 1-2.3 1,2.4 1,5.7 1,5.6 1,4.2 1,2.7 1,1.3 1-.2 .9-.7 1-.6 1-.1 1-.2 1-.1 1,.5 1,.9 1,.6 1,.5 1,.9 1,1 1,1 1,1 1,1.4 1,1.1 1,.4 1,.2 .9,.4 1,.4 1,.1 1,.2 1,.5 1,.4 1-.2 1-.2 1,0 1-.1 1-.4 1,.1 1,.5 1,.2 1-.3 1,.3 .9,.4 1,0 1-.1 1,.6 1,.8 1,.3" stroke="#7a3aa0" stroke-width="0.65" stroke-opacity="0.9"/>
<path d="M51.6,75.5l1-2.6 1-2.5 1-.1 1-.4 1-.8 1-.7 1-.5 1-.5 1-.7 1-.4 .9,.1 1-.3 1-.5 1-.4 1-.2 1-.4 1-.5 1,0 1,.3 1-.2 1-.5 1-.2 1-.3 1-.6 1-.4 1,.1 1,.3 .9-.2 1-.2 1-.1 1-.2 1-.5 1-.3 1,.3 1,.2 1-.2 1-.1 1,0 1-.3 1-.6 1-.2 1,.3 1,.1 .9-.2 1,0 1,0 1-.6 1-.6 1-.2 1,.1 1-.4 1-.5 1-.3 1-.6 1-1 1-.7 1-.2 1,0 1-.2 1,0 .9,.4 1,.2 1-.4 1-.3 1-.3 1-1.3 1-1.9 1-1 1-.8 1-.5 1,.3 1,1.2 1,1.5 1,1.2 1,.8 1,.6 1,.3 .9-.4 1-.5 1-.1 1,.1 1-.1 1,.1 1,.7 1,.6 1,.1 1,.1 1,.5 1,.5 1,.3 1,.6 1,.8 1,.4 1,0 .9,0 1,.3 1,0 1-.1 1,.3 1,.5 1,.1 1-.3 1-.1 1,.1 1-.3 1-.3 1,.4 1,.4 1,0 1,.1 .9,.4 1,.2 1-.1 1,.2 1,.7 1,.7" stroke="#28a848" stroke-width="0.65" stroke-opacity="0.9"/>
<path d="M51.6,75.9l1-2.6 1-2.5 1-.6 1-.9 1-.5 1,.1 1-.2 1-.8 1-.6 1-.4 .9-.6 1-.7 1,0 1,.3 1-.1 1-.5 1-.3 1-.2 1-.4 1-.5 1,0 1,.3 1-.2 1-.4 1-.2 1-.2 1-.5 .9-.3 1,.3 1,.2 1-.1 1-.2 1,0 1-.2 1-.6 1-.2 1,.4 1,.1 1-.2 1,0 1,0 1-.3 1-.6 .9-.1 1,.3 1,0 1-.2 1,0 1,0 1-.6 1-.6 1-.2 1,0 1-.3 1-.2 1,.1 1-.1 1-.5 1-.5 1,.2 .9,.2 1-.1 1,.2 1,.3 1-.3 1-.9 1-.8 1-.2 1-.2 1-.2 1,.6 1,.7 1,.3 1-.1 1,.2 1,.3 1-.1 .9,0 1,.4 1,.4 1-.3 1-.3 1,.1 1,.2 1,0 1,.3 1,.7 1,.5 1-.1 1,0 1,.3 1,.2 1-.1 1,.4 .9,.7 1,.2 1-.1 1,0 1,0 1-.2 1-.2 1,.3 1,.5 1,.1 1-.3 1,0 1,.1 1-.4 1-.1 1,.7 .9,.7 1,.3 1,.1 1,.4 1,.3 1-.1" stroke="#c02020" stroke-width="0.65" stroke-opacity="0.9"/>
<path d="M51.6,73.5l1-2.4 1-2.1 1-.2 1-.8 1-.9 1-.4 1-.4 1-.7 1-.4 1,0 .9-.2 1-.6 1-.4 1-.2 1-.3 1-.5 1-.1 1,.3 1,0 1-.5 1-.3 1-.1 1-.5 1-.5 1,.1 1,.2 1-.1 .9-.2 1,0 1-.1 1-.5 1-.4 1,.3 1,.3 1-.2 1-.1 1,.1 1-.2 1-.6 1-.2 1,.3 1,.2 1-.2 .9,0 1,.1 1-.4 1-.7 1-.3 1,.1 1-.3 1-.6 1-.5 1-.7 1-1.3 1-1.4 1-.5 1-.2 1-.4 1-.2 1,.3 .9,.3 1,0 1,0 1,.1 1-.7 1-2.6 1-2.9 1-1.7 1-1.8 1-1.1 1,1.1 1,2.5 1,2.3 1,2 1,1.8 1,.9 1-.3 .9-.6 1-.3 1,0 1-.1 1,0 1,.5 1,.8 1,.3 1,.3 1,.8 1,.8 1,.6 1,.9 1,1.2 1,.9 1,.1 1,.2 .9,.4 1,.3 1,0 1,.3 1,.6 1,.2 1-.2 1-.1 1,.1 1-.2 1-.3 1,.3 1,.6 1,0 1-.2 1,.4 .9,.3 1,0 1,.1 1,.7 1,.7 1,.3" stroke="#138a13" stroke-width="0.65" stroke-opacity="0.9"/>
<path d="M51.6,79.1l1-2.7 1-2.6 1-.6 1-.9 1-.7 1,0 1-.1 1-.7 1-.8 1-.5 .9-.5 1-.7 1-.3 1,.2 1,.1 1-.5 1-.4 1-.2 1-.5 1-.6 1-.1 1,.3 1-.2 1-.4 1-.3 1-.2 1-.5 .9-.4 1,.1 1,.3 1-.1 1-.3 1-.1 1-.1 1-.6 1-.4 1,.2 1,.2 1-.1 1-.2 1,0 1-.2 1-.6 .9-.3 1,.2 1,0 1-.3 1-.2 1,0 1-.7 1-.9 1-.6 1-.4 1-.7 1-.8 1-.3 1-.2 1-.7 1-.6 1-.1 .9,.4 1,.2 1,.2 1,.3 1-.6 1-2.5 1-3.1 1-2.3 1-2.2 1-.9 1,1.4 1,3 1,2.4 1,1.6 1,1 1,.5 1-.1 .9-.3 1,.1 1,.3 1-.1 1-.4 1-.1 1,.4 1,.2 1,.5 1,.9 1,.9 1,.3 1,.3 1,.5 1,.4 1,.1 1,.3 .9,.7 1,.5 1,0 1-.2 1,.1 1-.1 1-.3 1,.1 1,.5 1,.1 1-.3 1-.1 1,.1 1-.3 1-.4 1,.6 .9,.7 1,.4 1,0 1,.4 1,.3 1-.1" stroke="#d85028" stroke-width="0.65" stroke-opacity="0.9"/>
<path d="M51.6,77.0l1-2.1 1-2 1-.6 1-1 1-.7 1-.4 1-.7 1-.6 1-.1 1-.1 .9-.5 1-.8 1-.2 1-.3 1-.5 1-.3 1,.2 1,.1 1-.4 1-.4 1-.2 1-.4 1-.6 1-.2 1,.3 1-.1 1-.3 .9-.1 1-.1 1-.4 1-.5 1,.1 1,.3 1,0 1-.3 1,0 1-.1 1-.5 1-.5 1,.2 1,.2 1,0 1-.1 .9,.1 1-.2 1-.8 1-.6 1-.2 1-.3 1-.8 1-.9 1-1 1-2 1-2.5 1-2 1-1 1-1 1-.8 1-.2 1,.2 .9,.3 1,.5 1,.6 1,.4 1-1.9 1-5.3 1-5.8 1-3.6 1-3.4 1-1.4 1,2.3 1,4.3 1,4 1,4.1 1,3.4 1,1 1-.9 .9-.7 1-.4 1-.4 1-.3 1,.2 1,.7 1,.7 1,.7 1,1.1 1,1.5 1,1.3 1,1.5 1,2.1 1,1.9 1,.9 1,.5 1,.6 .9,.7 1,.2 1,.4 1,.8 1,.4 1-.1 1-.1 1,0 1-.1 1-.3 1,0 1,.5 1,.2 1-.2 1-.1 1,.3 .9,.1 1,0 1,.4 1,.8 1,.4 1,.2" stroke="#1878a0" stroke-width="0.65" stroke-opacity="0.9"/>
<path d="M51.6,76.7l1-2.5 1-2.7 1-.2 1-.2 1-.8 1-.8 1-.5 1-.4 1-.8 1-.5 .9,0 1-.1 1-.5 1-.4 1-.2 1-.4 1-.6 1-.1 1,.3 1-.1 1-.5 1-.3 1-.2 1-.5 1-.5 1,0 1,.3 .9-.1 1-.3 1,0 1-.2 1-.5 1-.4 1,.2 1,.3 1-.2 1-.2 1,.1 1-.3 1-.6 1-.3 1,.3 1,.1 .9-.2 1-.1 1,.1 1-.4 1-.6 1-.3 1,.2 1-.2 1-.3 1-.1 1-.1 1-.6 1-.6 1-.1 1,.2 1-.1 1-.1 .9,.3 1,.1 1-.5 1-.4 1-.1 1-.3 1-.7 1-.4 1-.1 1-.2 1-.2 1,.3 1,.7 1,.5 1,.1 1,.4 1,.4 .9-.1 1-.4 1-.2 1,.2 1-.1 1,0 1,.5 1,.5 1,0 1-.2 1,.2 1,.2 1,0 1,.2 1,.6 1,.4 1-.1 .9-.1 1,.2 1,0 1-.2 1,.1 1,.5 1,.2 1-.3 1-.1 1,0 1-.2 1-.3 1,.2 1,.5 1,0 1,.1 .9,.3 1,.3 1,0 1,0 1,.7 1,.7" stroke="#138a13" stroke-width="0.65" stroke-opacity="0.9"/>
<path d="M51.6,74.9l1-1.8 1-2.6 1-1 1-.7 1-.5 1-.7 1-.5 1-.1 1,0 1-.7 .9-.7 1-.4 1-.3 1-.5 1-.2 1,.2 1,.1 1-.5 1-.3 1-.2 1-.4 1-.6 1-.1 1,.3 1-.1 1-.4 1-.1 .9-.1 1-.4 1-.5 1,.2 1,.3 1-.1 1-.2 1,0 1-.1 1-.5 1-.4 1,.2 1,.2 1-.1 1-.1 1,0 .9-.2 1-.6 1-.3 1,.2 1,.1 1-.3 1-.1 1,0 1-.6 1-.9 1-.4 1,0 1-.1 1-.3 1,.2 1,.1 1-.5 .9-.4 1,.1 1,.3 1-.1 1-.3 1-.4 1-.9 1-1.3 1-1.3 1-.1 1,.6 1,.9 1,1.1 1,1.2 1,.5 1-.3 1-.2 .9,.1 1,0 1-.1 1,.3 1,.5 1-.1 1-.2 1,.1 1,.4 1,.1 1,.2 1,.7 1,.7 1,0 1-.1 1,.2 1,.2 .9-.1 1,.2 1,.7 1,.4 1-.3 1-.2 1,.1 1-.1 1-.3 1,.1 1,.5 1,.2 1-.2 1-.1 1,.1 1,0 .9,0 1,.6 1,.8 1,.3 1,.2 1,.3" stroke="#2a60d8" stroke-width="0.65" stroke-opacity="0.9"/>
<path d="M51.6,76.2l1-2.2 1-2 1-.5 1-.9 1-.8 1-.4 1-.6 1-.7 1-.2 1,0 .9-.4 1-.8 1-.3 1-.2 1-.5 1-.4 1,.2 1,.2 1-.4 1-.4 1-.2 1-.3 1-.6 1-.3 1,.2 1,.1 1-.3 .9-.2 1,0 1-.3 1-.6 1-.1 1,.4 1,.1 1-.3 1-.1 1,0 1-.4 1-.5 1,0 1,.3 1-.1 1-.2 .9,.1 1-.1 1-.6 1-.5 1,.1 1,.1 1-.3 1-.3 1-.1 1-.5 1-1 1-.7 1,0 1-.1 1-.2 1,0 1,.2 .9-.1 1-.4 1-.1 1,.2 1-.3 1-1 1-.7 1-.4 1-.8 1-.6 1,.4 1,.8 1,.6 1,.8 1,.9 1,.4 1-.4 .9-.4 1,0 1,0 1-.1 1,.1 1,.6 1,.3 1-.1 1,.1 1,.4 1,.2 1,.2 1,.6 1,.9 1,.3 1-.2 1,.1 .9,.3 1-.1 1,.1 1,.4 1,.5 1-.1 1-.3 1,.1 1-.1 1-.3 1-.1 1,.5 1,.3 1-.2 1-.1 1,.4 .9,.1 1-.1 1,.4 1,.8 1,.5 1,.1" stroke="#d85028" stroke-width="0.65" stroke-opacity="0.9"/>
<path d="M51.6,76.5l1-2.2 1-2 1-.4 1-1 1-.8 1-.4 1-.6 1-.7 1-.2 1,0 .9-.4 1-.7 1-.3 1-.2 1-.5 1-.4 1,.1 1,.2 1-.3 1-.4 1-.2 1-.3 1-.6 1-.4 1,.2 1,.2 1-.3 .9-.2 1,0 1-.3 1-.5 1-.2 1,.4 1,.1 1-.2 1-.1 1,0 1-.4 1-.6 1,0 1,.3 1,0 1-.1 .9,.1 1-.1 1-.6 1-.7 1-.2 1-.1 1-.6 1-.7 1-.8 1-1.3 1-2 1-1.6 1-.8 1-.6 1-.6 1-.2 1,.3 .9,.3 1,.1 1,.3 1,.3 1-1.3 1-4.2 1-4.7 1-3.3 1-3.4 1-1.6 1,2 1,4.1 1,3.8 1,3.5 1,2.8 1,1 1-.6 .9-.7 1-.3 1-.3 1-.2 1,.1 1,.7 1,.7 1,.4 1,.7 1,1.2 1,1 1,1 1,1.5 1,1.6 1,.8 1,.3 1,.4 .9,.5 1,.3 1,.1 1,.6 1,.6 1,0 1-.3 1,.1 1-.1 1-.3 1-.1 1,.4 1,.4 1-.2 1-.1 1,.4 .9,.2 1-.1 1,.3 1,.8 1,.5 1,.2" stroke="#a020a0" stroke-width="0.65" stroke-opacity="0.9"/>
<path d="M51.6,76.3l1-2.3 1-2.7 1-.5 1-.2 1-.3 1-.8 1-.7 1-.4 1-.5 1-.8 .9-.2 1,0 1-.1 1-.5 1-.3 1-.2 1-.5 1-.5 1,.1 1,.3 1-.3 1-.4 1-.2 1-.3 1-.6 1-.4 1,.3 .9,.2 1-.2 1-.2 1,0 1-.2 1-.6 1-.2 1,.4 1,.1 1-.2 1-.1 1,0 1-.3 1-.6 1-.1 1,.4 .9,0 1-.2 1-.1 1-.2 1-.7 1-.9 1-.5 1-.5 1-1.1 1-1.5 1-1.3 1-1.5 1-1.5 1-1.2 1-.4 1-.2 1-.1 .9,.6 1,1.1 1,.5 1-.5 1-1.8 1-4.6 1-6 1-4.9 1-4.2 1-1.2 1,2.5 1,4.8 1,5 1,4.6 1,2.7 1,.9 1,0 .9,0 1-.6 1-.8 1-.1 1,.1 1,.1 1,.6 1,1.4 1,1.3 1,.8 1,.9 1,1.4 1,1.3 1,1 1,1.1 1,1.2 1,.7 .9,.1 1,.4 1,.4 1,.1 1-.1 1,.3 1,.6 1,0 1-.3 1,0 1,0 1-.4 1-.1 1,.4 1,.4 1,.2 .9,.1 1,.4 1,.2 1-.1 1,.3 1,.8" stroke="#109a9a" stroke-width="0.65" stroke-opacity="0.9"/>
<path d="M51.6,77.0l1-2.6 1-2.6 1-.3 1-.2 1-.7 1-.9 1-.5 1-.5 1-.7 1-.5 .9,0 1-.2 1-.5 1-.4 1-.2 1-.4 1-.6 1-.2 1,.3 1-.1 1-.5 1-.3 1-.2 1-.5 1-.6 1-.1 1,.4 .9-.1 1-.3 1-.1 1-.1 1-.5 1-.5 1,.2 1,.2 1-.1 1-.2 1,0 1-.2 1-.6 1-.4 1,.3 1,.1 .9-.2 1-.1 1,0 1-.5 1-.8 1-.4 1-.2 1-.4 1-.9 1-.8 1-.9 1-1.4 1-1.2 1-.6 1-.1 1-.3 1-.1 .9,.6 1,.5 1-.1 1-.4 1-.9 1-2.6 1-3.3 1-2.1 1-1.4 1-.5 1,.8 1,2 1,2.4 1,2.2 1,1.4 1,.7 1,.2 .9-.3 1-.7 1-.4 1,.1 1-.1 1,0 1,.7 1,1 1,.5 1,.4 1,.7 1,.9 1,.7 1,.8 1,1 1,.7 1,.2 .9,0 1,.4 1,.2 1-.2 1,.2 1,.5 1,.2 1-.3 1-.1 1,0 1-.2 1-.4 1,.2 1,.5 1,0 1,.1 .9,.3 1,.3 1-.1 1,0 1,.6 1,.8" stroke="#a08a10" stroke-width="0.65" stroke-opacity="0.9"/>
<path d="M51.6,77.9l1-2.7 1-2.6 1-.6 1-.8 1-.7 1-.1 1,0 1-.7 1-.8 1-.4 .9-.5 1-.8 1-.2 1,.2 1,.1 1-.5 1-.4 1-.2 1-.4 1-.6 1-.1 1,.2 1,0 1-.5 1-.3 1-.1 1-.5 .9-.4 1,0 1,.4 1-.1 1-.3 1,0 1-.1 1-.5 1-.5 1,.2 1,.3 1-.2 1-.2 1,.1 1-.1 1-.6 .9-.3 1,.2 1,0 1-.5 1-.4 1-.4 1-1 1-1.5 1-1.5 1-1.6 1-2 1-2 1-1.2 1-.9 1-1.1 1-.9 1-.1 .9,.8 1,1 1,.8 1,.4 1-1.8 1-6.3 1-7.3 1-4.6 1-3.8 1-1.4 1,2.8 1,5.5 1,5.1 1,4.2 1,3 1,1.1 1-.4 .9-.6 1-.3 1,0 1-.2 1-.5 1,.1 1,.9 1,.9 1,1.3 1,1.9 1,1.9 1,1.6 1,1.4 1,1.6 1,1.1 1,.6 1,.7 .9,1.1 1,.9 1,.2 1,.1 1,.1 1,0 1-.2 1,.1 1,.5 1,.1 1-.2 1-.2 1,.1 1-.3 1-.3 1,.5 .9,.8 1,.4 1,.1 1,.3 1,.3 1,0" stroke="#3a3a3a" stroke-width="0.65" stroke-opacity="0.9"/>
<path d="M51.6,77.9l1-2.5 1-2.5 1-.8 1-.8 1-.2 1,0 1-.6 1-.8 1-.5 1-.5 .9-.7 1-.6 1,.2 1,.1 1-.4 1-.4 1-.2 1-.4 1-.6 1-.2 1,.2 1,0 1-.4 1-.3 1-.2 1-.5 1-.5 .9,0 1,.3 1,0 1-.3 1,0 1-.1 1-.5 1-.5 1,.1 1,.3 1-.1 1-.2 1,0 1-.1 1-.6 1-.4 .9,.2 1,.2 1-.3 1-.2 1-.1 1-.5 1-.9 1-.8 1-.4 1-.8 1-1.1 1-.8 1-.5 1-.8 1-.9 1-.3 1,.2 .9,.2 1,.4 1,.6 1,.2 1-1.5 1-3.5 1-4.2 1-3.7 1-3.8 1-1.4 1,2.5 1,4.3 1,3.6 1,2.9 1,2 1,.7 1-.3 .9,0 1,.2 1-.2 1-.5 1-.2 1,.3 1,.2 1,.5 1,1 1,1.1 1,.7 1,.4 1,.8 1,.8 1,.3 1,.4 1,.8 .9,.7 1,.1 1,0 1,.2 1,0 1-.3 1,.1 1,.5 1,.2 1-.2 1-.2 1,0 1-.2 1-.3 1,.1 1,.8 .9,.4 1,.1 1,.3 1,.3 1,0 1,0" stroke="#3a3a3a" stroke-width="0.65" stroke-opacity="0.9"/>
<path d="M51.6,76.6l1-2.7 1-2.6 1-.6 1-.9 1-.5 1,0 1-.2 1-.8 1-.7 1-.4 .9-.7 1-.7 1-.1 1,.3 1-.1 1-.6 1-.3 1-.2 1-.5 1-.6 1,.1 1,.2 1-.3 1-.4 1-.2 1-.3 1-.5 .9-.4 1,.3 1,.2 1-.2 1-.2 1,0 1-.3 1-.6 1-.2 1,.2 1,.2 1-.3 1-.1 1,.1 1-.4 1-.6 .9-.1 1,.2 1-.1 1-.3 1,0 1-.2 1-.8 1-.9 1-.5 1-.4 1-.8 1-.7 1-.2 1-.4 1-.8 1-.5 1,.1 .9,.3 1,.2 1,.3 1,.3 1-.8 1-2.4 1-2.7 1-1.7 1-1.6 1-.6 1,1.3 1,2.3 1,1.7 1,1.2 1,1 1,.5 1-.2 .9-.1 1,.2 1,.2 1-.3 1-.4 1,.1 1,.3 1,.2 1,.6 1,1 1,.8 1,.2 1,.4 1,.6 1,.3 1,.1 1,.5 .9,.7 1,.4 1-.1 1,0 1,0 1-.2 1-.2 1,.3 1,.4 1,0 1-.3 1,0 1,0 1-.4 1-.2 1,.7 .9,.7 1,.2 1,.1 1,.4 1,.2 1-.2" stroke="#a020a0" stroke-width="0.65" stroke-opacity="0.9"/>
<path d="M51.6,78.2l1-2.6 1-2.4 1-.7 1-.9 1-.4 1,0 1-.4 1-.8 1-.6 1-.4 .9-.7 1-.7 1,.1 1,.2 1-.2 1-.6 1-.2 1-.3 1-.5 1-.5 1,.2 1,.1 1-.3 1-.4 1-.2 1-.3 1-.6 .9-.2 1,.3 1,.2 1-.3 1-.2 1,0 1-.3 1-.6 1-.1 1,.3 1,0 1-.2 1,0 1,0 1-.5 1-.6 .9,.1 1,.2 1-.2 1-.2 1,0 1-.2 1-.8 1-.8 1-.2 1-.4 1-.7 1-.5 1-.1 1-.5 1-.7 1-.4 1,.1 .9,.2 1,.2 1,.3 1,.3 1-.8 1-2.1 1-1.9 1-1.3 1-1.3 1-.5 1,1.2 1,1.8 1,1.2 1,.9 1,.8 1,.4 1-.2 .9,0 1,.3 1,.1 1-.4 1-.3 1,.2 1,.2 1,.2 1,.6 1,.9 1,.5 1,.1 1,.3 1,.6 1,.2 1,.1 1,.5 .9,.7 1,.2 1-.1 1,0 1,.1 1-.3 1-.2 1,.4 1,.4 1-.1 1-.3 1,.1 1-.1 1-.4 1-.1 1,.8 .9,.6 1,.1 1,.2 1,.4 1,.1 1-.1" stroke="#109a9a" stroke-width="0.65" stroke-opacity="0.9"/>
<path d="M51.6,76.8l1-2.7 1-2.6 1-.6 1-.8 1-.7 1,0 1-.1 1-.6 1-.8 1-.5 .9-.5 1-.7 1-.3 1,.3 1,.1 1-.5 1-.4 1-.2 1-.4 1-.6 1-.1 1,.3 1-.1 1-.4 1-.3 1-.2 1-.4 .9-.5 1,.1 1,.4 1-.1 1-.3 1,0 1-.1 1-.5 1-.4 1,.1 1,.3 1-.1 1-.2 1,.1 1-.2 1-.6 .9-.2 1,.1 1,.1 1-.5 1-.3 1-.2 1-.9 1-1.3 1-1.2 1-1.2 1-1.6 1-1.6 1-.9 1-.7 1-.9 1-.9 1,0 .9,.7 1,.8 1,.5 1,.4 1-1.4 1-5.1 1-6.2 1-4.1 1-3.7 1-1.4 1,2.6 1,5 1,4.6 1,3.5 1,2.5 1,1 1-.4 .9-.4 1-.2 1,.1 1-.2 1-.4 1,.1 1,.7 1,.7 1,1 1,1.6 1,1.6 1,1.2 1,1.1 1,1.2 1,.9 1,.4 1,.6 .9,1 1,.8 1,.1 1,0 1,.2 1,0 1-.3 1,.1 1,.5 1,.2 1-.3 1-.1 1,.1 1-.3 1-.3 1,.5 .9,.8 1,.4 1,.1 1,.3 1,.3 1,0" stroke="#3a3a3a" stroke-width="0.65" stroke-opacity="0.9"/>
<path d="M51.6,75.4l1-2.3 1-2.5 1-.8 1-.5 1,0 1-.3 1-.8 1-.6 1-.4 1-.6 .9-.7 1-.2 1,.3 1-.2 1-.5 1-.2 1-.2 1-.5 1-.4 1,.1 1,.2 1-.2 1-.5 1-.1 1-.3 1-.6 1-.2 .9,.3 1,.2 1-.2 1-.1 1,0 1-.3 1-.6 1,0 1,.3 1,.1 1-.2 1,0 1,0 1-.4 1-.6 1,.1 .9,.3 1-.1 1-.2 1,.1 1-.1 1-.6 1-.7 1-.1 1,0 1-.5 1-.4 1-.1 1-.3 1-.8 1-.4 1,.1 1,.1 .9,0 1,.3 1,.4 1-.1 1-.9 1-1.1 1-.8 1-.7 1-.6 1,.2 1,.7 1,.5 1,.3 1,.8 1,.7 1,.1 1,0 .9,.4 1,.2 1-.4 1-.3 1,.1 1,.1 1,.1 1,.4 1,.8 1,.5 1,0 1,.2 1,.5 1,.2 1,.1 1,.5 1,.7 .9,.3 1-.2 1,.1 1,.2 1-.2 1-.1 1,.4 1,.4 1,0 1-.3 1,.1 1-.1 1-.3 1-.1 1,.5 1,.7 .9,.1 1,.2 1,.5 1,.1 1-.1 1,.4" stroke="#2626b0" stroke-width="0.65" stroke-opacity="0.9"/>
<path d="M51.6,77.7l1-1.9 1-2.2 1-.8 1-1 1-.6 1-.5 1-.7 1-.5 1,0 1-.2 .9-.7 1-.7 1-.2 1-.4 1-.6 1-.1 1,.3 1-.1 1-.5 1-.4 1-.2 1-.5 1-.5 1-.1 1,.3 1-.2 1-.4 .9-.1 1-.1 1-.5 1-.4 1,.2 1,.2 1-.1 1-.3 1,0 1-.2 1-.6 1-.3 1,.2 1,.2 1-.2 1,0 .9,.1 1-.4 1-.8 1-.4 1-.1 1-.4 1-.8 1-.7 1-1 1-2 1-2.3 1-1.6 1-1 1-.9 1-.7 1-.1 1,0 .9,0 1,.5 1,.7 1,.2 1-1.7 1-5 1-5.8 1-4.4 1-4.4 1-1.6 1,2.7 1,4.8 1,4.6 1,4.5 1,3.3 1,.7 1-.8 .9-.6 1-.3 1-.5 1-.2 1,.4 1,.5 1,.5 1,.5 1,1.1 1,1.4 1,1 1,1.5 1,2 1,1.6 1,.7 1,.4 1,.7 .9,.4 1,.2 1,.6 1,.7 1,.3 1-.2 1-.1 1,0 1-.2 1-.4 1,.2 1,.5 1,0 1-.2 1,0 1,.3 .9-.1 1,0 1,.7 1,.7 1,.2 1,.2" stroke="#2626b0" stroke-width="0.65" stroke-opacity="0.9"/>
<path d="M51.6,77.1l1-2.5 1-2.6 1-.2 1-.3 1-.8 1-.8 1-.4 1-.6 1-.7 1-.4 .9,0 1-.2 1-.6 1-.4 1-.2 1-.4 1-.6 1,0 1,.2 1-.1 1-.5 1-.3 1-.2 1-.6 1-.5 1,.1 1,.2 .9-.1 1-.3 1,0 1-.2 1-.6 1-.3 1,.2 1,.3 1-.3 1-.1 1,0 1-.3 1-.6 1-.2 1,.3 1,.1 .9-.3 1,0 1,0 1-.6 1-.8 1-.4 1-.1 1-.6 1-.9 1-.8 1-1.1 1-1.5 1-1.2 1-.5 1-.2 1-.3 1-.1 .9,.6 1,.6 1-.2 1-.3 1-1.1 1-3.5 1-5 1-4.5 1-4.1 1-1.7 1,1.9 1,4.8 1,5 1,3.7 1,2.2 1,1 1,.1 .9-.4 1-.7 1-.3 1,.1 1-.2 1,.1 1,.9 1,.9 1,.5 1,.5 1,.8 1,1 1,.7 1,.9 1,1.1 1,.7 1,.1 .9,.2 1,.4 1,.1 1-.1 1,.3 1,.5 1,.1 1-.3 1,0 1,0 1-.3 1-.3 1,.3 1,.4 1,0 1,.1 .9,.3 1,.3 1-.1 1,.1 1,.7 1,.6" stroke="#1878a0" stroke-width="0.65" stroke-opacity="0.9"/>
<path d="M51.6,75.4l1-2.2 1-2.9 1-.8 1-.6 1-.7 1-.7 1-.2 1,0 1-.5 1-.8 .9-.6 1-.4 1-.5 1-.4 1,.1 1,.2 1-.3 1-.5 1-.2 1-.3 1-.7 1-.3 1,.2 1,.1 1-.4 1-.4 1,0 .9-.3 1-.6 1-.1 1,.4 1,0 1-.3 1-.1 1,0 1-.5 1-.5 1,0 1,.3 1-.1 1-.2 1,.1 1-.1 .9-.5 1-.5 1,0 1,0 1-.3 1-.4 1-.3 1-.7 1-1.4 1-1.3 1-1 1-.9 1-.9 1-.5 1-.2 1-.5 1-.6 .9,.2 1,.8 1,.4 1-.1 1-.8 1-2.8 1-3.8 1-2.6 1-1.8 1-.3 1,1.2 1,2.3 1,2.7 1,2.5 1,1.3 1,.1 1-.1 .9-.2 1-.5 1-.1 1,.4 1,.1 1-.2 1,.2 1,.7 1,.7 1,.7 1,1.1 1,1.5 1,.9 1,.6 1,.5 1,.5 1,.3 .9,.2 1,.7 1,.8 1,0 1-.2 1,0 1,0 1-.3 1-.1 1,.4 1,.3 1-.2 1-.1 1,0 1-.2 1,0 .9,.3 1,.8 1,.5 1,.1 1,.3 1,.3" stroke="#a08a10" stroke-width="0.65" stroke-opacity="0.9"/>
<path d="M51.6,75.7l1-2.5 1-2.9 1-.6 1-.6 1-.8 1-.4 1,.1 1-.3 1-.8 1-.6 .9-.4 1-.6 1-.5 1,0 1,.3 1-.2 1-.5 1-.3 1-.1 1-.6 1-.4 1,0 1,.3 1-.3 1-.4 1-.2 1-.1 .9-.5 1-.3 1,.3 1,.2 1-.2 1-.2 1,0 1-.2 1-.6 1-.2 1,.3 1,.2 1-.3 1,0 1,.1 1-.4 .9-.6 1,0 1,.1 1-.1 1-.4 1-.1 1-.4 1-1.1 1-1.2 1-1 1-.8 1-1.2 1-.7 1-.3 1-.4 1-.8 1-.4 .9,.5 1,.7 1,.3 1,.2 1-.7 1-3.2 1-4.1 1-2.5 1-1.7 1-.6 1,1.3 1,2.9 1,2.8 1,2.2 1,1.3 1,.4 1,0 .9-.4 1-.2 1,.2 1,.2 1-.3 1-.2 1,.5 1,.7 1,.6 1,.9 1,1.4 1,1.2 1,.6 1,.7 1,.7 1,.4 1,.2 .9,.6 1,.9 1,.4 1-.1 1,0 1,.1 1-.2 1-.2 1,.3 1,.5 1-.1 1-.2 1,0 1,0 1-.4 1,.2 .9,.7 1,.7 1,.2 1,.2 1,.4 1,.2" stroke="#7a3aa0" stroke-width="0.65" stroke-opacity="0.9"/>
<path d="M51.6,76.9l1-2 1-2.7 1-1 1-.6 1-.6 1-.7 1-.5 1,0 1-.2 1-.7 .9-.7 1-.4 1-.3 1-.6 1-.1 1,.2 1,0 1-.5 1-.4 1-.2 1-.4 1-.6 1,0 1,.2 1-.2 1-.4 1-.1 .9-.1 1-.5 1-.4 1,.2 1,.2 1-.1 1-.3 1,.1 1-.3 1-.5 1-.3 1,.2 1,.2 1-.2 1-.1 1,0 .9-.3 1-.6 1-.3 1,.2 1-.1 1-.3 1-.1 1-.2 1-.9 1-1 1-.6 1-.2 1-.4 1-.3 1,0 1,0 1-.5 .9-.4 1,.3 1,.3 1-.1 1-.5 1-1.2 1-2.2 1-2.5 1-2.3 1-.5 1,1.1 1,2.1 1,2.3 1,2.1 1,.9 1-.2 1-.2 .9,.1 1-.2 1-.2 1,.4 1,.4 1-.1 1-.2 1,.3 1,.4 1,.2 1,.5 1,.9 1,.8 1,.1 1,0 1,.4 1,.1 .9,0 1,.3 1,.7 1,.3 1-.3 1-.1 1,0 1-.2 1-.3 1,.2 1,.5 1,.1 1-.3 1,0 1,0 1,0 .9,0 1,.6 1,.8 1,.2 1,.2 1,.4" stroke="#109a9a" stroke-width="0.65" stroke-opacity="0.9"/>
<path d="M51.6,75.9l1-2.6 1-2.4 1-.7 1-.9 1-.3 1,0 1-.4 1-.8 1-.6 1-.4 .9-.7 1-.7 1,.2 1,.2 1-.3 1-.5 1-.3 1-.2 1-.6 1-.4 1,.2 1,.2 1-.4 1-.4 1-.2 1-.4 1-.5 .9-.1 1,.3 1,.1 1-.3 1-.1 1,0 1-.4 1-.5 1,0 1,.3 1,0 1-.3 1,0 1,0 1-.5 1-.5 .9,.1 1,.2 1-.2 1-.2 1,0 1-.3 1-.9 1-.7 1-.3 1-.5 1-.8 1-.6 1-.2 1-.6 1-.8 1-.4 1,.2 .9,.2 1,.3 1,.4 1,.2 1-.9 1-2.5 1-2.4 1-1.7 1-1.7 1-.6 1,1.4 1,2.3 1,1.6 1,1.3 1,1.1 1,.5 1-.2 .9,0 1,.3 1,0 1-.5 1-.2 1,.2 1,.2 1,.3 1,.7 1,1 1,.6 1,.2 1,.5 1,.6 1,.3 1,.2 1,.6 .9,.7 1,.2 1-.1 1,.1 1,0 1-.2 1-.1 1,.4 1,.4 1-.2 1-.2 1,0 1-.1 1-.4 1,0 1,.8 .9,.6 1,.1 1,.2 1,.4 1,.1 1-.1" stroke="#138a13" stroke-width="0.65" stroke-opacity="0.9"/>
<path d="M51.6,75.2l1-2.4 1-2.7 1-.4 1-.2 1-.5 1-.8 1-.6 1-.4 1-.7 1-.7 .9-.1 1,0 1-.3 1-.5 1-.3 1-.2 1-.6 1-.4 1,.2 1,.2 1-.4 1-.4 1-.2 1-.4 1-.6 1-.3 1,.4 .9,.1 1-.3 1-.1 1-.1 1-.4 1-.5 1,0 1,.3 1,0 1-.2 1,0 1-.1 1-.5 1-.5 1,.1 1,.3 .9-.1 1-.2 1,0 1-.3 1-.9 1-.8 1-.4 1-.5 1-1.2 1-1.4 1-1.4 1-1.6 1-1.7 1-1 1-.4 1-.2 1-.2 .9,.7 1,1 1,.3 1-.5 1-1.7 1-4.8 1-6.8 1-6 1-5.3 1-1.9 1,2.9 1,6 1,6.3 1,5.1 1,3 1,1 1,.2 .9-.2 1-.8 1-.7 1,0 1,0 1,0 1,.8 1,1.4 1,1.1 1,.7 1,1.1 1,1.4 1,1.2 1,1.1 1,1.2 1,1.1 1,.5 .9,.2 1,.4 1,.4 1,0 1,0 1,.4 1,.5 1-.2 1-.2 1,0 1-.1 1-.4 1,0 1,.5 1,.2 1,.1 .9,.2 1,.4 1,.1 1-.1 1,.4 1,.8" stroke="#a020a0" stroke-width="0.65" stroke-opacity="0.9"/>
<path d="M51.6,75.9l1-2.5 1-2.5 1-.1 1-.3 1-.9 1-.7 1-.4 1-.5 1-.8 1-.3 .9,.1 1-.3 1-.5 1-.4 1-.1 1-.5 1-.5 1,.1 1,.2 1-.1 1-.5 1-.2 1-.2 1-.6 1-.5 1,.2 1,.3 .9-.2 1-.2 1-.1 1-.1 1-.6 1-.2 1,.3 1,.2 1-.2 1-.2 1,.1 1-.3 1-.6 1-.1 1,.3 1,.1 .9-.2 1,0 1,0 1-.7 1-.8 1-.3 1-.2 1-.7 1-1.1 1-1 1-1.4 1-1.8 1-1.3 1-.7 1-.2 1-.4 1,0 .9,.8 1,.6 1,0 1-.2 1-1.3 1-4.4 1-5.9 1-5 1-4.4 1-2 1,2.3 1,5.5 1,5.6 1,4.3 1,2.7 1,1.2 1,.1 .9-.5 1-.8 1-.3 1,0 1-.1 1,.2 1,1 1,1.1 1,.7 1,.7 1,1.1 1,1.2 1,1 1,1.3 1,1.3 1,.8 1,.2 .9,.3 1,.5 1,.2 1,0 1,.3 1,.6 1,.1 1-.3 1,0 1,0 1-.3 1-.2 1,.3 1,.5 1,0 1,.1 .9,.4 1,.2 1-.1 1,.2 1,.8 1,.6" stroke="#2a60d8" stroke-width="0.65" stroke-opacity="0.9"/>
<path d="M51.6,76.6l1-2.5 1-2.9 1-.7 1-.5 1-.8 1-.6 1-.1 1,0 1-.7 1-.8 .9-.4 1-.5 1-.6 1-.2 1,.3 1,0 1-.5 1-.4 1-.1 1-.5 1-.6 1-.1 1,.3 1-.1 1-.4 1-.3 1-.1 .9-.4 1-.5 1,.1 1,.3 1,0 1-.3 1,0 1-.1 1-.6 1-.4 1,.2 1,.2 1-.1 1-.2 1,.1 1-.3 .9-.6 1-.3 1,.2 1,.1 1-.2 1-.1 1,0 1-.5 1-.8 1-.3 1,0 1-.2 1-.2 1,.1 1,.1 1-.5 1-.5 .9,0 1,.2 1,0 1-.1 1,.2 1-.4 1-1 1-.9 1-.4 1,0 1,.1 1,.7 1,1 1,.4 1-.1 1-.2 1,.2 .9-.1 1-.1 1,.3 1,.5 1-.1 1-.4 1,0 1,.3 1,0 1,.1 1,.6 1,.6 1,0 1-.1 1,.1 1,.2 1-.1 .9,.1 1,.6 1,.5 1-.2 1-.2 1,0 1-.1 1-.3 1,.1 1,.5 1,.1 1-.2 1-.1 1,0 1-.3 1,0 .9,.6 1,.8 1,.3 1,.1 1,.4 1,.3" stroke="#c02020" stroke-width="0.65" stroke-opacity="0.9"/>
<path d="M51.6,73.2l1-1.8 1-2.4 1-.9 1-.8 1-.5 1-.5 1-.7 1-.1 1,0 1-.4 .9-.7 1-.5 1-.2 1-.4 1-.4 1,.2 1,.2 1-.3 1-.4 1-.2 1-.2 1-.6 1-.3 1,.3 1,.1 1-.3 1-.2 .9,0 1-.3 1-.5 1,0 1,.3 1,.2 1-.3 1,0 1,0 1-.4 1-.5 1,.1 1,.3 1,0 1-.2 1,.1 .9,0 1-.5 1-.5 1,.1 1,.2 1-.2 1-.2 1,0 1-.3 1-.9 1-.6 1-.1 1,0 1-.2 1,0 1,.2 1-.2 .9-.4 1-.1 1,.3 1,.1 1-.4 1-.4 1-.8 1-1 1-1.2 1-.2 1,.6 1,.9 1,.9 1,1.2 1,.7 1-.2 1-.3 .9,.1 1,0 1-.1 1,.2 1,.5 1,.2 1-.1 1,0 1,.4 1,.2 1,.2 1,.6 1,.8 1,.3 1-.1 1,.2 1,.3 .9,0 1,0 1,.6 1,.6 1-.1 1-.2 1,0 1,0 1-.3 1,0 1,.5 1,.3 1-.1 1-.1 1,.1 1,.2 .9-.1 1,.4 1,.9 1,.5 1,.2 1,.3" stroke="#2a60d8" stroke-width="0.65" stroke-opacity="0.9"/>
<path d="M51.6,75.0l1-2.3 1-2.9 1-.7 1-.6 1-.7 1-.6 1-.2 1,0 1-.5 1-.8 .9-.5 1-.4 1-.5 1-.4 1,.3 1,.1 1-.4 1-.4 1-.2 1-.4 1-.6 1-.2 1,.3 1,0 1-.4 1-.3 1-.1 .9-.3 1-.5 1,0 1,.3 1,.1 1-.3 1-.1 1,0 1-.5 1-.5 1,.2 1,.2 1-.1 1-.1 1,.1 1-.1 .9-.6 1-.4 1,.1 1-.1 1-.5 1-.4 1-.5 1-1 1-1.7 1-1.8 1-1.5 1-1.5 1-1.3 1-.8 1-.4 1-.6 1-.6 .9,.5 1,1.1 1,.6 1,.1 1-1.3 1-4.7 1-6.1 1-4.1 1-3 1-.8 1,2 1,4.1 1,4.4 1,4 1,2.3 1,.5 1-.2 .9-.4 1-.6 1-.2 1,.4 1,0 1-.2 1,.5 1,1 1,1.1 1,1.2 1,1.6 1,2 1,1.4 1,1 1,.9 1,.8 1,.4 .9,.5 1,.9 1,.8 1,.1 1-.1 1,.1 1,0 1-.3 1,0 1,.5 1,.2 1-.2 1-.1 1,0 1-.2 1,0 .9,.4 1,.8 1,.5 1,.1 1,.3 1,.4" stroke="#7a3aa0" stroke-width="0.65" stroke-opacity="0.9"/>
<path d="M51.6,75.6l1-1.9 1-2.2 1-.8 1-.9 1-.6 1-.4 1-.8 1-.3 1,.1 1-.3 .9-.7 1-.6 1-.2 1-.4 1-.5 1,0 1,.3 1-.1 1-.5 1-.3 1-.1 1-.6 1-.5 1,.2 1,.2 1-.3 1-.2 .9-.1 1-.1 1-.5 1-.3 1,.3 1,.2 1-.2 1-.1 1,0 1-.2 1-.6 1-.2 1,.3 1,.2 1-.2 1,.1 .9,.1 1-.5 1-.7 1-.3 1-.1 1-.5 1-.8 1-.7 1-1.2 1-2.3 1-2.4 1-1.7 1-1.1 1-1.1 1-.7 1,0 1-.1 .9,.1 1,.7 1,1 1,.2 1-2 1-5.4 1-6.4 1-4.8 1-4.5 1-1.5 1,2.9 1,5.1 1,5 1,4.9 1,3.6 1,.8 1-.9 .9-.4 1-.4 1-.6 1-.1 1,.4 1,.6 1,.4 1,.8 1,1.4 1,1.4 1,1.3 1,1.8 1,2.3 1,1.7 1,.7 1,.7 1,.8 .9,.5 1,.3 1,.7 1,.8 1,.2 1-.2 1,0 1,.1 1-.2 1-.3 1,.4 1,.4 1,0 1-.2 1,0 1,.3 .9,0 1,.1 1,.8 1,.7 1,.2 1,.2" stroke="#7a3aa0" stroke-width="0.65" stroke-opacity="0.9"/>
<path d="M51.6,76.5l1-2.4 1-2.7 1-.2 1-.2 1-.8 1-.8 1-.4 1-.5 1-.7 1-.5 .9,0 1-.1 1-.5 1-.5 1-.1 1-.4 1-.6 1-.1 1,.3 1-.1 1-.4 1-.3 1-.2 1-.5 1-.6 1,0 1,.3 .9,0 1-.3 1-.1 1-.1 1-.5 1-.4 1,.2 1,.3 1-.1 1-.2 1,0 1-.2 1-.6 1-.3 1,.3 1,.2 .9-.2 1-.1 1,0 1-.5 1-.8 1-.4 1-.2 1-.5 1-.8 1-.9 1-1 1-1.4 1-1.3 1-.6 1-.1 1-.3 1-.1 .9,.6 1,.7 1-.1 1-.4 1-.9 1-3 1-3.8 1-2.5 1-2 1-.7 1,1.1 1,2.6 1,2.9 1,2.7 1,1.6 1,.8 1,.2 .9-.2 1-.8 1-.3 1,0 1,0 1,0 1,.8 1,1 1,.6 1,.5 1,.8 1,1 1,.8 1,.8 1,1.1 1,.8 1,.2 .9,.2 1,.3 1,.3 1-.1 1,.1 1,.6 1,.2 1-.2 1-.2 1,.1 1-.2 1-.4 1,.2 1,.5 1,.1 1,.1 .9,.3 1,.3 1,0 1,0 1,.6 1,.8" stroke="#a020a0" stroke-width="0.65" stroke-opacity="0.9"/>
<path d="M51.6,75.2l1-2 1-2 1-.7 1-1 1-.6 1-.5 1-.6 1-.6 1-.1 1,0 .9-.6 1-.7 1-.3 1-.2 1-.6 1-.3 1,.3 1,.1 1-.4 1-.4 1-.2 1-.4 1-.6 1-.1 1,.2 1,0 1-.3 .9-.2 1,0 1-.4 1-.5 1,.1 1,.3 1,0 1-.3 1,0 1,0 1-.6 1-.4 1,.2 1,.2 1-.1 1,0 .9,.1 1-.2 1-.8 1-.6 1-.1 1-.3 1-.9 1-.8 1-1.2 1-2 1-2.5 1-2 1-1 1-1 1-.8 1-.2 1,.1 .9,.3 1,.5 1,.8 1,.3 1-1.9 1-5.4 1-5.9 1-3.6 1-3.5 1-1.3 1,2.4 1,4.3 1,4 1,4.2 1,3.5 1,.9 1-.8 .9-.7 1-.4 1-.5 1-.3 1,.3 1,.7 1,.7 1,.7 1,1.2 1,1.5 1,1.4 1,1.5 1,2.1 1,2 1,.9 1,.5 1,.7 .9,.6 1,.3 1,.4 1,.8 1,.5 1-.1 1-.2 1,.1 1-.1 1-.4 1,.1 1,.5 1,.2 1-.2 1-.1 1,.4 .9,0 1,0 1,.5 1,.8 1,.4 1,.1" stroke="#28a848" stroke-width="0.65" stroke-opacity="0.9"/>
<path d="M51.6,73.6l1-2.7 1-2.6 1-.6 1-.8 1-.6 1,0 1-.1 1-.6 1-.8 1-.4 .9-.5 1-.7 1-.2 1,.2 1,.1 1-.4 1-.4 1-.2 1-.3 1-.6 1-.1 1,.3 1-.1 1-.4 1-.3 1-.1 1-.4 .9-.5 1,.2 1,.3 1,0 1-.3 1,0 1-.1 1-.5 1-.4 1,.2 1,.3 1-.1 1-.2 1,.1 1-.2 1-.5 .9-.3 1,.2 1,.1 1-.3 1-.1 1-.1 1-.6 1-1 1-.7 1-.4 1-.8 1-.8 1-.4 1-.2 1-.7 1-.6 1,0 .9,.4 1,.3 1,.3 1,.3 1-.6 1-2.8 1-3.3 1-2.2 1-2 1-.8 1,1.4 1,3 1,2.5 1,1.7 1,1.1 1,.6 1-.1 .9-.2 1,.1 1,.3 1-.1 1-.4 1,0 1,.5 1,.3 1,.6 1,1 1,1 1,.6 1,.4 1,.6 1,.5 1,.2 1,.3 .9,.9 1,.5 1,.1 1-.1 1,.1 1,0 1-.3 1,.1 1,.6 1,.1 1-.2 1-.1 1,.1 1-.3 1-.3 1,.6 .9,.8 1,.4 1,.1 1,.4 1,.3 1,0" stroke="#138a13" stroke-width="0.65" stroke-opacity="0.9"/>
<path d="M51.6,76.4l1-2.5 1-2.6 1-.1 1-.4 1-.8 1-.8 1-.4 1-.5 1-.8 1-.3 .9,0 1-.2 1-.6 1-.3 1-.2 1-.5 1-.5 1,0 1,.3 1-.2 1-.5 1-.2 1-.3 1-.5 1-.5 1,.1 1,.3 .9-.2 1-.3 1,0 1-.2 1-.5 1-.3 1,.3 1,.1 1-.2 1-.1 1,0 1-.3 1-.6 1-.2 1,.3 1,.1 .9-.3 1,0 1,.1 1-.5 1-.6 1-.1 1,.2 1-.2 1-.3 1,.1 1-.2 1-.6 1-.5 1,0 1,.2 1-.1 1,0 .9,.2 1,0 1-.5 1-.4 1,.1 1-.2 1-.3 1-.1 1,.1 1-.2 1-.3 1,.1 1,.4 1,.2 1,0 1,.4 1,.4 .9-.2 1-.4 1,0 1,.1 1-.1 1,.1 1,.5 1,.4 1-.1 1-.2 1,.2 1,.1 1-.1 1,.3 1,.6 1,.3 1-.2 .9-.1 1,.2 1,0 1-.2 1,.2 1,.5 1,.1 1-.3 1-.1 1,.1 1-.3 1-.3 1,.4 1,.4 1-.1 1,.1 .9,.4 1,.3 1-.1 1,.1 1,.7 1,.7" stroke="#c02020" stroke-width="0.65" stroke-opacity="0.9"/>
<path d="M51.6,79.6l1-.5 1-1.3 1-.3 1-.5 1-.6 1-.7 1-.9 1-1 1-1 1-.9 .9-.8 1-.4 1-.2 1-.1 1-.1 1-.2 1-.3 1-.3 1-.4 1-.3 1-.2 1-.1 1,.1 1,0 1,.1 1-.1 1-.3 .9-.3 1-.4 1-.3 1-.1 1,0 1,.1 1,.1 1,.1 1,0 1-.2 1-.2 1-.1 1-.1 1,0 1,.2 1,.3 .9,.3 1,.2 1,.1 1-.1 1-.1 1-.1 1,0 1,.1 1,.2 1,.2 1,.2 1,.1 1,0 1-.2 1-.2 1-.3 1-.1 .9-.1 1,0 1,.1 1,.1 1,0 1-.1 1-.3 1-.3 1-.2 1-.3 1-.1 1,0 1,0 1,0 1,0 1-.2 1-.2 .9-.2 1-.2 1-.1 1,0 1,.2 1,.2 1,.2 1,.1 1-.1 1-.1 1-.2 1-.2 1,0 1,.1 1,.1 1,.3 1,.1 .9,.1 1,0 1-.2 1-.2 1-.1 1,0 1,.1 1,.2 1,.2 1,.2 1,.1 1-.1 1-.2 1-.1 1-.1 1,0 .9,.1 1,.3 1,.4 1,.5 1,.3 1,.1" stroke="#e04848" stroke-width="0.7"/>
<path d="M48.8,68.8l.3-9.3 .6,48.8 1.9-30.7 0-1.1" stroke="#48c4cc" stroke-width="0.45"/>
<path d="M48.3,68.8l.3-8.7 .7,47.5 2.3-30 0-1.1" stroke="#40c4cc" stroke-width="0.45"/>
<path d="M48.3,68.8l.3-7.5 .6,40.7 2.4-24.4 0-1.1" stroke="#38b8c0" stroke-width="0.45"/>
<path d="M48.6,68.8l.3-12.9 .5,45.6 2.2-23.9 0-1.1" stroke="#5ac8d0" stroke-width="0.45"/>
<path d="M48.6,68.8l.3-4 .7,31.9 2-19.1 0-1.1" stroke="#48c4cc" stroke-width="0.45"/>
<path d="M48.5,68.8l.3-12.2 .5,60.9 2.3-39.9 0-1.1" stroke="#38b8c0" stroke-width="0.45"/>
<path d="M48.6,66.0l.2-12.7 .2,10.7" stroke="#d04848" stroke-width="0.5"/>
<path d="M49.2,95.0l.3,17 .3-12" stroke="#c050c0" stroke-width="0.4"/>
<line x1="167.34" y1="53.86" x2="167.34" y2="68.78" stroke="#3050c0" stroke-width="0.9"/>
<line x1="168.04" y1="56.62" x2="168.04" y2="66.01" stroke="#20b0b0" stroke-width="0.9"/>
<line x1="167.64" y1="60.49" x2="167.64" y2="75.41" stroke="#d04040" stroke-width="0.9"/>
</g>
<line x1="35.00" y1="6.50" x2="35.00" y2="119.00" stroke="#939393" stroke-width="1.0"/>
<line x1="34.50" y1="118.50" x2="177.50" y2="118.50" stroke="#939393" stroke-width="1.0"/>
<line x1="35.00" y1="118.50" x2="35.00" y2="116.90" stroke="#939393" stroke-width="0.8"/>
<line x1="63.40" y1="118.50" x2="63.40" y2="116.90" stroke="#939393" stroke-width="0.8"/>
<line x1="91.80" y1="118.50" x2="91.80" y2="116.90" stroke="#939393" stroke-width="0.8"/>
<line x1="120.20" y1="118.50" x2="120.20" y2="116.90" stroke="#939393" stroke-width="0.8"/>
<line x1="148.60" y1="118.50" x2="148.60" y2="116.90" stroke="#939393" stroke-width="0.8"/>
<line x1="177.00" y1="118.50" x2="177.00" y2="116.90" stroke="#939393" stroke-width="0.8"/>
<line x1="49.20" y1="118.50" x2="49.20" y2="116.90" stroke="#939393" stroke-width="0.8"/>
<line x1="77.60" y1="118.50" x2="77.60" y2="116.90" stroke="#939393" stroke-width="0.8"/>
<line x1="106.00" y1="118.50" x2="106.00" y2="116.90" stroke="#939393" stroke-width="0.8"/>
<line x1="134.40" y1="118.50" x2="134.40" y2="116.90" stroke="#939393" stroke-width="0.8"/>
<line x1="162.80" y1="118.50" x2="162.80" y2="116.90" stroke="#939393" stroke-width="0.8"/>
<line x1="35.00" y1="118.50" x2="36.60" y2="118.50" stroke="#939393" stroke-width="0.8"/>
<line x1="35.00" y1="96.40" x2="36.60" y2="96.40" stroke="#939393" stroke-width="0.8"/>
<line x1="35.00" y1="74.30" x2="36.60" y2="74.30" stroke="#939393" stroke-width="0.8"/>
<line x1="35.00" y1="52.20" x2="36.60" y2="52.20" stroke="#939393" stroke-width="0.8"/>
<line x1="35.00" y1="30.10" x2="36.60" y2="30.10" stroke="#939393" stroke-width="0.8"/>
<line x1="35.00" y1="8.00" x2="36.60" y2="8.00" stroke="#939393" stroke-width="0.8"/>
<line x1="35.00" y1="107.45" x2="36.60" y2="107.45" stroke="#939393" stroke-width="0.8"/>
<line x1="35.00" y1="85.35" x2="36.60" y2="85.35" stroke="#939393" stroke-width="0.8"/>
<line x1="35.00" y1="63.25" x2="36.60" y2="63.25" stroke="#939393" stroke-width="0.8"/>
<line x1="35.00" y1="41.15" x2="36.60" y2="41.15" stroke="#939393" stroke-width="0.8"/>
<line x1="35.00" y1="19.05" x2="36.60" y2="19.05" stroke="#939393" stroke-width="0.8"/>
<text transform="translate(35.0,125.8) rotate(0) scale(0.9,1)" font-size="9.10" text-anchor="middle" dominant-baseline="central" fill="#222">100</text>
<text transform="translate(63.4,125.8) rotate(0) scale(0.9,1)" font-size="9.10" text-anchor="middle" dominant-baseline="central" fill="#222">300</text>
<text transform="translate(91.8,125.8) rotate(0) scale(0.9,1)" font-size="9.10" text-anchor="middle" dominant-baseline="central" fill="#222">500</text>
<text transform="translate(120.2,125.8) rotate(0) scale(0.9,1)" font-size="9.10" text-anchor="middle" dominant-baseline="central" fill="#222">700</text>
<text transform="translate(148.6,125.8) rotate(0) scale(0.9,1)" font-size="9.10" text-anchor="middle" dominant-baseline="central" fill="#222">900</text>
<text transform="translate(177.0,125.8) rotate(0) scale(0.9,1)" font-size="9.10" text-anchor="middle" dominant-baseline="central" fill="#222">1100</text>
<text transform="translate(32.3,117.9) rotate(0) scale(0.9,1)" font-size="9.10" text-anchor="end" dominant-baseline="central" fill="#222">180</text>
<text transform="translate(32.3,95.8) rotate(0) scale(0.9,1)" font-size="9.10" text-anchor="end" dominant-baseline="central" fill="#222">220</text>
<text transform="translate(32.3,73.7) rotate(0) scale(0.9,1)" font-size="9.10" text-anchor="end" dominant-baseline="central" fill="#222">260</text>
<text transform="translate(32.3,51.6) rotate(0) scale(0.9,1)" font-size="9.10" text-anchor="end" dominant-baseline="central" fill="#222">300</text>
<text transform="translate(32.3,29.5) rotate(0) scale(0.9,1)" font-size="9.10" text-anchor="end" dominant-baseline="central" fill="#222">340</text>
<text transform="translate(32.3,7.4) rotate(0) scale(0.9,1)" font-size="9.10" text-anchor="end" dominant-baseline="central" fill="#222">380</text>
<text transform="translate(110.1,138.2) rotate(0) scale(0.89,1)" font-size="7.84" text-anchor="middle" dominant-baseline="central" fill="#222" style="stroke-width:0.22">wavelength/nm</text>
<text transform="translate(8.3,60.1) rotate(-90) scale(0.89,1)" font-size="7.84" text-anchor="middle" dominant-baseline="central" fill="#222" style="stroke-width:0.22">light intensity</text>
<text x="72.7" y="24.1" font-size="12" text-anchor="middle" dominant-baseline="central" fill="#222" font-weight="normal" style="stroke-width:0.2">A</text>
<g fill="none" stroke-linejoin="round" clip-path="url(#clipB)">
<path d="M234.2,66.9l1,3 1-.7 1-1.8 .9,.3 1,.9 1,.2 1,.2 1-1.1 1-.3 1,1.1 1-.5 1-.3 1,.5 1,.6 1,1.4 1-.2 1-2 1-.6 1-.1 1,.1 1,.6 1-.5 1,.6 1,1.6 1-.2 1-.8 1-.8 1-.5 1,1.4 1,.5 1-1.1 1-.1 1-.3 1,.1 .9,.2 1-1 1,.3 1,1.9 1,.6 1,0 1-1.1 1-1.3 1,.7 1,.1 1-.9 1,.2 1-.1 1,.4 1-.1 1-2.7 1-2.3 1-1.6 1-2.9 1-3 1-3.9 1-3.7 1-1.3 1-1.5 1-1.8 1-.2 1,1.3 1,3.7 1,3.3 1-.4 1-4.1 .9-10.4 1-11.5 1-4.8 1-4.3 1-1.5 1,4.9 1,6.5 1,5.5 1,6.3 1,4.2 1,2.2 1,.4 1-1.5 1-1.2 1-1 1-.6 1,.2 1-.9 1-.1 1,3 1,3.7 1,3.7 1,3.1 1,1.9 1,3.3 1,3.3 1,.7 1,.9 1,1 1,1.5 1,2.4 1,.2 .9-.9 1,.5 1,.4 1,1 1,.6 1-.9 1,.5 1,.6 1-1 1-1 1-1.2 1,.1 1,2 1,.5 1-.3 1,.3 1-.2 1,.3 1-.3" stroke="#2f9f2f" stroke-width="0.55" stroke-opacity="0.75"/>
<path d="M234.2,68.0l1,2.2 1-2 1-.2 .9,.9 1,.3 1,.4 1-1 1-.5 1,1 1-.2 1-.6 1,.3 1,.4 1,1.6 1,.5 1-1.9 1-.9 1-.2 1-.1 1,.6 1-.5 1,.2 1,1.8 1,.2 1-.6 1-.8 1-.9 1,1.1 1,.8 1-.9 1-.2 1-.1 1-.1 1,.4 .9-1.1 1-.2 1,1.8 1,.9 1,.4 1-.8 1-1.6 1,.4 1,.2 1-.8 1,.1 1,.1 1,.6 1,.6 1-2 1-2.1 1-.9 1-1.8 1-2.1 1-3.5 1-4.1 1-1.7 1-1.7 1-2.2 1-1.1 1-.4 1,2.4 1,4 1,1.1 1-.4 1-3.2 .9-9.7 1-9.8 1-5.5 1-4.6 1,.3 1,4.3 1,5.5 1,5.3 1,4.9 1,4.9 1,2.9 1-1.2 1-1 1-.9 1-1.1 1,.2 1-1.1 1-1.3 1,1.6 1,2.8 1,3.3 1,3.1 1,1.4 1,2.7 1,3.5 1,1.5 1,.9 1,.9 1,1.2 1,2.6 1,.8 1-.7 .9,.3 1,.3 1,.9 1,.8 1-.8 1,.4 1,.9 1-.7 1-.9 1-1.4 1-.6 1,1.8 1,.9 1-.2 1,.4 1-.1 1,.3 1,0 1-1.8" stroke="#3aa83a" stroke-width="0.55" stroke-opacity="0.75"/>
<path d="M234.2,68.7l1,.5 1-.7 1,.6 .9,.3 1,.7 1-.7 1-.8 1,1 1,0 1-.7 1,.1 1,.1 1,1.5 1,1.1 1-1.5 1-1 1-.4 1-.4 1,.6 1-.4 1-.2 1,1.8 1,.7 1-.4 1-.7 1-1.3 1,.7 1,1.1 1-.7 1-.2 1-.1 1-.2 1,.6 1-1.1 .9-.7 1,1.5 1,1.1 1,.7 1-.3 1-1.6 1-.1 1,.3 1-.9 1,0 1,.2 1,.7 1,1.2 1-1.2 1-1.8 1-.7 1-.9 1-.9 1-2.2 1-3.7 1-1.9 1-1.3 1-2.4 1-1.5 1-1.2 1,.7 1,3.1 1,1.7 1,.5 1,.1 1-3.2 .9-7.5 1-9.7 1-7.4 1-4.3 1-.4 1,3.8 1,6.7 1,5.2 1,5.9 1,5.7 1,1.2 1-.9 1-.5 1-1 1,0 1-.9 1-2 1,.3 1,1.7 1,2.5 1,2.8 1,1.2 1,1.6 1,3 1,1.4 1,1.1 1,.7 1,.8 1,2.5 1,1.3 1-.6 1,.2 .9,.2 1,.7 1,1 1-.6 1,.1 1,1.2 1-.4 1-.7 1-1.4 1-1.2 1,1.4 1,1.1 1-.1 1,.5 1,0 1,.3 1,.3 1-1.7 1-.7" stroke="#48b048" stroke-width="0.55" stroke-opacity="0.75"/>
<path d="M234.2,65.9l1,1.3 1,.3 1,.2 .9,.8 1-.4 1-1 1,.9 1,.3 1-.8 1-.1 1-.1 1,1.3 1,1.6 1-1 1-1.1 1-.5 1-.6 1,.5 1-.4 1-.5 1,1.6 1,1.1 1-.1 1-.5 1-1.4 1,.2 1,1.2 1-.5 1-.3 1-.1 1-.1 1,.7 1-.9 1-1.2 .9,1.1 1,1.2 1,.9 1,.3 1-1.6 1-.4 1,.4 1-.9 1-.3 1,.1 1,.6 1,1.7 1-.6 1-1.8 1-.7 1-.9 1-.6 1-1.4 1-3.6 1-2.5 1-1.9 1-2.7 1-2.2 1-2 1-.4 1,2.2 1,1.7 1,1.2 1,1.2 1-.4 1-2.6 .9-8.3 1-10.7 1-4.6 1-2.6 1-.6 1,3.5 1,4.5 1,4.7 1,7.1 1,4.4 1,1 1-.6 1-1 1,0 1-.9 1-2.3 1-.6 1,.9 1,1.9 1,2.9 1,1.5 1,1.6 1,3 1,1.8 1,1.6 1,1.4 1,.7 1,2.6 1,1.9 1-.1 1,.3 1,.3 .9,.6 1,1.2 1-.5 1-.1 1,1.3 1,.1 1-.5 1-1.3 1-1.7 1,.9 1,1.2 1,0 1,.6 1,0 1,.4 1,.7 1-1.6 1-1.2 1,.6" stroke="#5a9a2a" stroke-width="0.55" stroke-opacity="0.75"/>
<path d="M234.2,63.9l1,2.4 1,.5 1,.5 .9-1.1 1,.1 1,1 1-.4 1-.4 1-.5 1,.1 1,2 1,.6 1-1 1-.5 1-.9 1,0 1,.1 1-1.2 1,.5 1,1.7 1,.6 1,.3 1-1.1 1-1.1 1,1 1,.1 1-.5 1,.1 1-.4 1,.7 1,.3 1-1.7 1-.2 1,.9 .9,1 1,1.3 1-.7 1-1.1 1,.5 1-.6 1-.9 1-.3 1-.3 1,1.7 1,1.4 1-.9 1-.7 1-.4 1-.2 1,.6 1-1.1 1-1.4 1,.1 1-.9 1-1.4 1-1.6 1-1.9 1,.8 1,1.5 1,.1 1,.5 1,.3 1,.2 1,.5 1-2.6 .9-4.4 1-3 1-2 1-1.4 1-.9 1,.2 1,3.5 1,3.7 1,2.3 1,1.9 1,.2 1,.1 1,.9 1-1.5 1-1.9 1-.2 1,.1 1,1.6 1,1.1 1-.2 1,1.5 1,1.2 1,0 1,.2 1-.5 1,.8 1,2.3 1,.5 1-.2 1,.1 1-.1 1,1.1 .9,.3 1-.9 1,.8 1,.9 1,.1 1-.3 1-2.1 1-.7 1,1.1 1,.3 1,.4 1,.4 1,.1 1,1.2 1-.3 1-1.9 1-.3 1,.1 1,.8" stroke="#1878a0" stroke-width="0.55" stroke-opacity="0.75"/>
<path d="M234.2,65.4l1,2.6 1,.8 1-.8 .9-.4 1,1.1 1,0 1-.4 1-.6 1-.5 1,1.7 1,1.3 1-.7 1-.5 1-.8 1-.4 1,.4 1-1.2 1-.3 1,1.6 1,1 1,.7 1-.7 1-1.5 1,.5 1,.5 1-.5 1,0 1-.3 1,.4 1,.8 1-1.3 1-1 1,.7 1,.8 .9,1.4 1,.1 1-1.2 1,.3 1-.2 1-1 1-.5 1-.7 1,1 1,2 1-.3 1-.6 1-.3 1-.4 1,.8 1-.3 1-1.2 1,.5 1,.1 1-.6 1-1 1-1.8 1,.1 1,1.6 1,.3 1,.3 1,.1 1-.1 1,.7 1-1 1-2.1 .9-.9 1-.6 1,.1 1-.1 1-1.5 1,.4 1,1.9 1,.6 1,.9 1,.4 1,.2 1,1.3 1-.6 1-1.8 1-.7 1-.2 1,1.1 1,1.3 1-.5 1,.7 1,1.1 1-.2 1-.3 1-1.1 1-.4 1,1.9 1,.8 1-.3 1,.1 1-.4 1,.7 1,.6 .9-1 1,.3 1,1 1,.4 1,.2 1-1.7 1-1.5 1,.8 1,.4 1,.2 1,.6 1-.1 1,1.2 1,.6 1-1.8 1-.9 1-.1 1,.5 1,1.1" stroke="#d85028" stroke-width="0.55" stroke-opacity="0.75"/>
<path d="M234.2,66.2l1,2.5 1,.1 1,.9 .9-.6 1-.7 1,1 1,0 1-.5 1-.3 1-.4 1,1.5 1,1.5 1-.9 1-.7 1-.7 1-.5 1,.4 1-.8 1-.4 1,1.7 1,1 1,.3 1-.5 1-1.6 1,.4 1,.9 1-.6 1-.1 1-.2 1,.1 1,.8 1-1.1 1-1.1 1,.9 .9,.9 1,1.3 1,.2 1-1.5 1,0 1,.1 1-1.1 1-.3 1-.4 1,.8 1,2 1-.3 1-1 1-.1 1-.2 1,.7 1,.1 1-1.2 1,.4 1,.5 1-.7 1-.6 1-1.4 1,.2 1,2 1,.5 1,0 1,.1 1-.5 1,.3 1-.8 .9-2.1 1-.1 1,.8 1,.6 1,.5 1-1.1 1-.1 1,1.3 1,.2 1,.1 1,0 1-.2 1,1.1 1-.4 1-1.9 1-.5 1,.1 1,1.1 1,1.4 1-.5 1,.2 1,1 1-.5 1-.6 1-1 1-.7 1,1.7 1,.9 1-.7 1-.1 1-.4 1,.4 .9,.9 1-.9 1,0 1,1.2 1,.2 1-.1 1-1.5 1-1.6 1,.9 1,.7 1,.1 1,.7 1,0 1,.7 1,.6 1-1.7 1-1 1,.3 1,.4" stroke="#2626b0" stroke-width="0.55" stroke-opacity="0.75"/>
<path d="M234.2,66.8l1,1.1 1-1.5 1,.6 .9,.4 1,.5 1-.1 1-1.2 1,.5 1,.7 1-.8 1-.1 1,.2 1,.9 1,1.7 1-.8 1-1.6 1-.4 1-.5 1,.4 1,.2 1-.7 1,1.3 1,1.3 1-.3 1-.5 1-1.2 1-.2 1,1.5 1-.2 1-.7 1,.1 1-.4 1,.5 1-.3 .9-1.3 1,1 1,1.5 1,.6 1,.3 1-1.5 1-.9 1,.7 1-.7 1-.5 1,.3 1,.3 1,1.4 1,0 1-2 1-.6 1-.3 1-.5 1-.7 1-2.5 1-1.7 1-.2 1-1.5 1-1.3 1-.8 1,0 1,2.6 1,2 1-.2 1-.1 1-2.1 .9-5.2 1-6.3 1-6.7 1-5 1-.2 1,3.4 1,5.9 1,4.7 1,3.7 1,4.1 1,1.5 1-.8 1-.2 1-.7 1-.1 1,0 1-1.9 1-.6 1,1.4 1,1.7 1,2.3 1,1 1,.3 1,1.9 1,1.2 1,0 1,.3 1,0 1,1.6 1,1.8 1-.6 1-.5 .9,.2 1,.3 1,1.1 1-.1 1-.6 1,1.1 1,.3 1-.9 1-1 1-1.5 1,.6 1,1.7 1,0 1,.3 1,.2 1,0 1,.6 1-1.1 1-1.5" stroke="#a08a10" stroke-width="0.55" stroke-opacity="0.75"/>
<path d="M234.2,68.0l1,2.3 1,.5 1,.5 .9-1 1,0 1,1 1-.4 1-.3 1-.6 1,.1 1,2 1,.6 1-1 1-.5 1-.9 1,0 1,.2 1-1.2 1,.4 1,1.7 1,.6 1,.4 1-1.2 1-1.1 1,1 1,.2 1-.5 1,0 1-.3 1,.6 1,.3 1-1.6 1-.3 1,.9 .9,1 1,1.3 1-.6 1-1.1 1,.4 1-.5 1-.9 1-.3 1-.3 1,1.7 1,1.4 1-1 1-.8 1-.5 1-.5 1,.3 1-1.4 1-1.9 1-.8 1-1.8 1-2.2 1-2.2 1-2.3 1,.4 1,1.3 1,.1 1,.9 1,.8 1,.5 1,.6 1-3.3 .9-6.9 1-5.7 1-3.1 1-2.3 1-1 1,1 1,4.8 1,5 1,4 1,3.2 1,.6 1-.2 1,.6 1-1.7 1-2.1 1-.4 1,.2 1,1.6 1,1.4 1,.4 1,1.9 1,1.9 1,.7 1,.9 1,.3 1,1.5 1,2.8 1,.8 1,.1 1,.3 1,.1 1,1.3 .9,.4 1-.9 1,.9 1,.9 1,.2 1-.4 1-2 1-.8 1,1.1 1,.3 1,.4 1,.4 1,.1 1,1.2 1-.2 1-1.9 1-.4 1,.2 1,.7" stroke="#3a3a3a" stroke-width="0.55" stroke-opacity="0.75"/>
<path d="M234.2,68.1l1,1.6 1-1.8 1,.2 .9,.6 1,.4 1,.3 1-1.2 1,0 1,.9 1-.6 1-.3 1,.3 1,.6 1,1.7 1-.2 1-1.8 1-.6 1-.4 1,.2 1,.4 1-.6 1,.8 1,1.6 1-.1 1-.6 1-1 1-.6 1,1.4 1,.3 1-.9 1,0 1-.3 1,.3 1,.1 .9-1.4 1,.4 1,1.8 1,.7 1,.4 1-1.2 1-1.3 1,.5 1-.3 1-.7 1,.3 1,.3 1,1.3 1,.7 1-1.7 1-.7 1,.2 1,0 1,.4 1-1.1 1-1.2 1,.5 1-.5 1-1.2 1-.5 1-.3 1,1.9 1,2 1-.5 1-.4 1-.8 .9-1.9 1-1.5 1-2.3 1-1.7 1,1.1 1,1.5 1,1.4 1,.8 1,0 1,1.5 1,1.4 1-.6 1-.1 1-.2 1-.2 1,.4 1-1.5 1-1.3 1,1 1,1.2 1,1.6 1,.7 1-.7 1,.8 1,.6 1-.8 1-.3 1-.3 1,.8 1,1.7 1-.4 1-1 .9,.1 1,.1 1,1 1,.3 1-.8 1,.8 1,.6 1-.8 1-.9 1-1.5 1,0 1,1.8 1,.4 1,0 1,.4 1-.2 1,.6 1-.6 1-1.7" stroke="#c02020" stroke-width="0.55" stroke-opacity="0.75"/>
<path d="M234.2,64.0l1,2.4 1,.9 1-.4 .9-.8 1,1 1,.2 1-.5 1-.3 1-.8 1,1.3 1,1.7 1-.5 1-.6 1-.7 1-.6 1,.4 1-.8 1-.8 1,1.5 1,1.1 1,.7 1-.2 1-1.7 1,.1 1,.8 1-.5 1,0 1-.3 1,.1 1,1 1-.9 1-1.3 1,.5 1,.8 .9,1.3 1,.6 1-1.3 1-.1 1,.2 1-1 1-.6 1-.6 1,.6 1,2.1 1,.2 1-.9 1-.4 1-.5 1,.4 1-.1 1-1.6 1-.2 1-.1 1-1.4 1-1.3 1-2.2 1-.8 1,1.5 1,.5 1,.1 1,.5 1,.1 1,.8 1-.4 1-3 .9-3.4 1-3.5 1-2.7 1-2.4 1-2.3 1,1.4 1,4.8 1,3.7 1,3.1 1,1.9 1,.3 1,1 1-.1 1-2.2 1-1 1-.3 1,.8 1,1.6 1,0 1,.5 1,1.8 1,.4 1,.1 1-.3 1-.3 1,2.2 1,1.5 1-.1 1,.3 1-.2 1,.5 1,1.1 .9-.8 1-.1 1,1.2 1,.4 1,.2 1-1.2 1-1.9 1,.5 1,.7 1,.1 1,.6 1,0 1,.9 1,.9 1-1.5 1-1.2 1-.1 1,.3 1,1.1" stroke="#3a3a3a" stroke-width="0.55" stroke-opacity="0.75"/>
<path d="M234.2,63.9l1,2.5 1,.9 1-.6 .9-.7 1,1.1 1,.1 1-.4 1-.4 1-.7 1,1.4 1,1.6 1-.6 1-.5 1-.8 1-.5 1,.4 1-1 1-.6 1,1.5 1,1.1 1,.7 1-.4 1-1.6 1,.2 1,.8 1-.5 1-.1 1-.2 1,.1 1,1 1-1.1 1-1.2 1,.6 1,.7 .9,1.5 1,.4 1-1.3 1,0 1,.1 1-1 1-.5 1-.7 1,.6 1,2.1 1,.1 1-.8 1-.2 1-.4 1,.7 1,.1 1-1.3 1,.5 1,.5 1-.5 1-.5 1-1.7 1-.2 1,1.8 1,.6 1,.2 1,.1 1-.4 1,.6 1-.6 1-2.1 .9-.4 1,.2 1,.6 1,.5 1-1.2 1-.3 1,1.4 1,.2 1,.3 1,.2 1-.2 1,1.2 1,0 1-1.9 1-.7 1-.2 1,.8 1,1.5 1-.4 1,.2 1,1.2 1-.2 1-.5 1-1.1 1-1 1,1.6 1,1 1-.4 1-.1 1-.4 1,.4 1,.9 .9-1 1-.1 1,1.2 1,.3 1,.3 1-1.4 1-1.8 1,.6 1,.6 1,.1 1,.7 1,0 1,.9 1,.9 1-1.6 1-1.2 1,0 1,.3 1,1.1" stroke="#1878a0" stroke-width="0.55" stroke-opacity="0.75"/>
<path d="M234.2,64.1l1,2.3 1,.6 1,.4 .9-1.1 1,.3 1,.9 1-.5 1-.3 1-.6 1,.2 1,2.1 1,.3 1-.9 1-.5 1-.9 1,.1 1,0 1-1.2 1,.7 1,1.6 1,.6 1,.3 1-1.3 1-.9 1,1 1,0 1-.4 1,0 1-.3 1,.8 1,0 1-1.6 1-.1 1,.9 .9,1.1 1,1.2 1-.9 1-.9 1,.5 1-.7 1-.8 1-.4 1-.2 1,1.8 1,1.2 1-1 1-.5 1-.3 1,0 1,.7 1-1.1 1-.8 1,.5 1-.6 1-1 1-1.3 1-1.5 1,1.2 1,1.4 1,0 1,.5 1-.1 1,.1 1,.3 1-2.2 .9-2.6 1-1 1-.4 1,.1 1-.6 1-.6 1,1.9 1,1.8 1,.9 1,1.1 1-.2 1,.4 1,.9 1-1.6 1-1.5 1-.2 1,.2 1,1.6 1,.7 1-.3 1,1.3 1,.7 1-.4 1-.3 1-.9 1,.8 1,2 1,0 1-.2 1-.1 1-.1 1,1.1 .9,0 1-.9 1,1 1,.7 1,.2 1-.5 1-2.1 1-.5 1,1.2 1,.1 1,.5 1,.3 1,.2 1,1.3 1-.6 1-1.8 1-.2 1,.1 1,.9" stroke="#1878a0" stroke-width="0.55" stroke-opacity="0.75"/>
<path d="M234.2,64.9l1,2.4 1,.4 1,.6 .9-1 1,0 1,1 1-.4 1-.4 1-.5 1,0 1,2 1,.7 1-1 1-.5 1-.9 1-.1 1,.2 1-1.2 1,.5 1,1.6 1,.7 1,.3 1-1.1 1-1.2 1,1 1,.3 1-.6 1,.1 1-.4 1,.6 1,.4 1-1.6 1-.4 1,1 .9,1 1,1.2 1-.5 1-1.2 1,.5 1-.5 1-.9 1-.3 1-.3 1,1.6 1,1.5 1-1 1-.8 1-.5 1-.4 1,.3 1-1.3 1-1.9 1-.6 1-1.7 1-2.1 1-2 1-2.3 1,.4 1,1.4 1,.1 1,.8 1,.7 1,.5 1,.5 1-3.4 .9-7.3 1-7.3 1-6.4 1-5.7 1-2.5 1,2.4 1,8.1 1,8.3 1,5.7 1,3.8 1,.8 1-.1 1,.7 1-1.7 1-2.1 1-.3 1,.1 1,1.7 1,1.4 1,.2 1,1.9 1,1.8 1,.5 1,.8 1,.2 1,1.4 1,2.6 1,.8 1,.1 1,.3 1,0 1,1.3 .9,.4 1-.9 1,.8 1,1 1,.1 1-.3 1-2 1-.9 1,1.2 1,.3 1,.3 1,.5 1,.1 1,1.2 1-.2 1-1.9 1-.4 1,.1 1,.7" stroke="#7a3aa0" stroke-width="0.55" stroke-opacity="0.75"/>
<path d="M234.2,67.9l1,1.6 1,.4 1,.2 .9,.8 1-.7 1-.7 1,1 1,0 1-.7 1-.1 1-.1 1,1.6 1,1.3 1-1.2 1-.9 1-.6 1-.4 1,.5 1-.7 1-.2 1,1.8 1,.8 1,0 1-.7 1-1.5 1,.7 1,.9 1-.6 1-.1 1-.2 1,0 1,.6 1-1.1 1-.9 .9,1.2 1,1.1 1,1 1-.1 1-1.6 1,0 1,.1 1-1 1-.2 1,0 1,.9 1,1.7 1-.7 1-1.3 1-.2 1-.3 1,.4 1-.6 1-2 1-.3 1-.5 1-1.4 1-1.2 1-1.3 1,.3 1,2.2 1,.6 1,.3 1,.3 1-.5 1-.7 .9-3.7 1-5.1 1-1.7 1-.9 1-.1 1,1.7 1,1.3 1,2.3 1,3.6 1,1.5 1,.4 1-.2 1-.4 1,.6 1-.8 1-2.1 1-.2 1,.6 1,1.5 1,1.7 1,0 1,.7 1,1.5 1,.1 1,0 1-.1 1,.1 1,2.1 1,.9 1-.7 1,.1 1-.1 .9,.6 1,.9 1-.8 1,.2 1,1.2 1-.1 1-.5 1-1.5 1-1.4 1,1.2 1,.9 1,.1 1,.6 1-.1 1,.6 1,.4 1-1.8 1-.8 1,.6" stroke="#d85028" stroke-width="0.55" stroke-opacity="0.75"/>
<path d="M234.2,70.0l1,2.9 1-1.6 1-1.2 .9,.9 1,.4 1,.4 1-.3 1-1.2 1,.7 1,.5 1-.8 1,.2 1,.3 1,1.1 1,1.3 1-1.3 1-1.6 1-.2 1-.3 1,.5 1,.2 1-.5 1,1.4 1,1.1 1-.7 1-.7 1-1 1,.3 1,1.5 1-.5 1-.7 1,0 1-.3 1,.4 .9-.4 1-1 1,1.3 1,1.5 1,.4 1-.2 1-1.6 1-.7 1,.7 1-.7 1-.3 1,.5 1,.4 1,1.4 1-.4 1-1.8 1-.1 1,.2 1,.1 1,0 1-1.6 1-.5 1,.5 1-1.1 1-.8 1-.2 1,.5 1,2.5 1,.9 1-1 1-.8 .9-2.1 1-2.1 1-1.4 1-2.6 1-.1 1,2.4 1,1.8 1,1.4 1,.5 1,.1 1,1.7 1,.4 1-.7 1,.1 1-.5 1,.2 1-.1 1-1.9 1-.2 1,1.6 1,1.3 1,1.5 1-.1 1-.5 1,1.1 1,.1 1-.9 1-.1 1-.1 1,1.4 1,1.1 1-1.2 .9-.5 1,.2 1,.4 1,1.1 1-.3 1-.5 1,1.1 1-.1 1-1.1 1-1 1-1.2 1,1.1 1,1.7 1-.2 1,.2 1,.1 1-.1 1,.5 1-1.3" stroke="#a08a10" stroke-width="0.55" stroke-opacity="0.75"/>
<path d="M234.2,68.3l1,1.2 1-1.6 1,.5 .9,.5 1,.5 1,0 1-1.2 1,.4 1,.7 1-.8 1-.1 1,.2 1,.8 1,1.7 1-.6 1-1.7 1-.4 1-.5 1,.4 1,.2 1-.7 1,1.2 1,1.4 1-.3 1-.5 1-1.2 1-.2 1,1.5 1-.1 1-.8 1,.1 1-.3 1,.4 1-.2 .9-1.4 1,.9 1,1.6 1,.6 1,.3 1-1.5 1-.9 1,.6 1-.6 1-.6 1,.3 1,.4 1,1.5 1,.3 1-1.7 1-.4 1,.1 1,.2 1,.3 1-1.4 1-.8 1,.5 1-.8 1-1 1-.5 1-.1 1,2.1 1,1.5 1-.6 1-.2 1-.9 .9-1.7 1-1.5 1-2.5 1-1.3 1,1.2 1,1.3 1,1.4 1,.5 1,.1 1,1.9 1,.9 1-.6 1,.1 1-.4 1,.1 1,.2 1-1.8 1-.9 1,1.1 1,1.2 1,1.6 1,.3 1-.6 1,1 1,.3 1-.8 1-.2 1-.4 1,1.1 1,1.6 1-.8 1-.7 .9,.1 1,.1 1,1.1 1,0 1-.7 1,1.1 1,.3 1-.8 1-1 1-1.6 1,.5 1,1.8 1,.1 1,.2 1,.2 1-.1 1,.7 1-1.1 1-1.5" stroke="#1878a0" stroke-width="0.55" stroke-opacity="0.75"/>
<path d="M234.2,66.6l1,1.4 1,.4 1,.2 .9,.7 1-.4 1-.9 1,.9 1,.2 1-.7 1-.1 1-.2 1,1.4 1,1.5 1-1 1-1.1 1-.5 1-.5 1,.5 1-.5 1-.4 1,1.6 1,1.1 1-.1 1-.5 1-1.5 1,.3 1,1.2 1-.6 1-.2 1-.1 1-.1 1,.6 1-.9 1-1.1 .9,1.1 1,1.2 1,.9 1,.2 1-1.6 1-.3 1,.3 1-1 1-.3 1,0 1,.7 1,1.8 1-.3 1-1.3 1-.1 1-.2 1,.6 1,.1 1-1.5 1-.1 1,.4 1-1 1-.8 1-1.1 1,.1 1,2.2 1,.7 1-.2 1,.2 1-.6 1-.3 .9-1.5 1-3.1 1-.6 1,.4 1,.3 1,.9 1,0 1,.4 1,2.2 1,.7 1,0 1,0 1-.3 1,.7 1-.3 1-2.1 1-.5 1,.6 1,1.1 1,1.6 1-.2 1,0 1,1.1 1-.2 1-.6 1-.5 1-.4 1,1.6 1,1.1 1-.8 1-.2 1-.2 .9,.4 1,1 1-.7 1-.1 1,1.2 1,.1 1-.5 1-1.3 1-1.6 1,.9 1,1.2 1,0 1,.6 1,0 1,.4 1,.6 1-1.6 1-1.1 1,.6" stroke="#2a60d8" stroke-width="0.55" stroke-opacity="0.75"/>
<path d="M234.2,70.7l1,.5 1-.6 1,.6 .9,.3 1,.6 1-.8 1-.7 1,1.1 1-.2 1-.6 1,.1 1,.1 1,1.6 1,1 1-1.5 1-1 1-.4 1-.3 1,.6 1-.6 1,0 1,1.8 1,.6 1-.4 1-.7 1-1.3 1,.9 1,.9 1-.7 1-.2 1-.1 1-.1 1,.5 1-1.1 .9-.6 1,1.5 1,1.1 1,.7 1-.4 1-1.7 1,.1 1,.2 1-1 1,0 1,.2 1,.8 1,1.4 1-1.1 1-1.5 1-.2 1-.5 1-.1 1-1.3 1-2.5 1-.8 1-.6 1-1.8 1-1 1-1 1,.8 1,2.7 1,.9 1,.1 1-.1 1-2.2 .9-4.6 1-6.9 1-6.6 1-4.1 1-.6 1,3.2 1,5.8 1,4.3 1,4.5 1,4.2 1,.7 1-.5 1-.3 1-.6 1,.3 1-.9 1-1.9 1,.2 1,1.4 1,1.8 1,2.1 1,.2 1,.9 1,2 1,.3 1,.3 1,.1 1,.4 1,2.2 1,.8 1-.8 1,.1 .9,0 1,.7 1,.9 1-.8 1,.2 1,1.2 1-.4 1-.7 1-1.5 1-1 1,1.5 1,.9 1,0 1,.5 1-.1 1,.4 1,.2 1-1.8 1-.6" stroke="#28a848" stroke-width="0.55" stroke-opacity="0.75"/>
<path d="M234.2,66.5l1,2.5 1,.1 1,.7 .9,0 1-1.1 1,.7 1,.5 1-.6 1-.2 1-.5 1,.9 1,1.9 1-.3 1-1.1 1-.6 1-.7 1,.3 1-.2 1-.9 1,1.3 1,1.4 1,.3 1-.2 1-1.5 1-.3 1,1.2 1-.3 1-.4 1,0 1-.2 1,.8 1-.5 1-1.5 1,.5 .9,1.1 1,1.1 1,.7 1-1.3 1-.6 1,.4 1-.9 1-.6 1-.2 1,.3 1,2 1,.4 1-1.3 1-.3 1-.3 1,.2 1,.4 1-1.5 1-.6 1,.4 1-1 1-1 1-1.4 1-.8 1,1.8 1,1.2 1,0 1,.4 1-.3 1,.1 1-.8 .9-3.9 1-3.4 1-1.5 1-1.9 1-.3 1,.7 1,1.9 1,3.9 1,2.6 1,1 1,.6 1-.5 1,.6 1,.3 1-2.1 1-1 1,.2 1,.7 1,1.8 1,.3 1-.1 1,1.4 1,.4 1-.4 1-.3 1-.6 1,1.4 1,1.7 1-.4 1-.3 1-.1 1,.1 .9,1.2 1-.4 1-.6 1,1.2 1,.5 1-.2 1-.9 1-2 1,.2 1,1.3 1,.1 1,.5 1,.2 1,.3 1,1 1-1.2 1-1.5 1,.2 1,.3" stroke="#2626b0" stroke-width="0.55" stroke-opacity="0.75"/>
<path d="M234.2,67.6l1,2.8 1,.6 1-1 .9,0 1,1.1 1-.3 1-.3 1-.7 1-.3 1,2 1,.8 1-.7 1-.4 1-.9 1-.1 1,.1 1-1.3 1,.2 1,1.5 1,.9 1,.7 1-1 1-1.3 1,.8 1,.2 1-.5 1,0 1-.4 1,.8 1,.5 1-1.6 1-.6 1,.7 1,.9 .9,1.5 1-.4 1-1 1,.4 1-.4 1-.9 1-.6 1-.6 1,1.5 1,1.7 1-.5 1-.5 1-.5 1-.3 1,.7 1-1 1-1.2 1,.4 1-.7 1-1.2 1-1.7 1-2.3 1,.3 1,1.2 1,.1 1,.3 1,.2 1,.4 1,.9 1-1.3 1-2.5 .9-2.5 1-2.9 1-1.3 1-1.8 1-2 1,1.7 1,3.3 1,2.3 1,2.5 1,1.3 1,.8 1,1.1 1-1.1 1-1.9 1-.7 1-.2 1,1.3 1,1 1-.3 1,1.3 1,1.3 1,.2 1,.1 1-.8 1,.6 1,2.5 1,.7 1,.1 1,.2 1-.2 1,1.1 1,.4 .9-1 1,.7 1,.9 1,.4 1,0 1-1.9 1-1.1 1,.9 1,.2 1,.3 1,.5 1,.1 1,1.4 1,0 1-1.8 1-.6 1-.1 1,.6 1,1" stroke="#2a60d8" stroke-width="0.55" stroke-opacity="0.75"/>
<path d="M234.2,70.2l1,.7 1,.2 1,.3 .9,.6 1,.2 1-1.2 1,.4 1,.7 1-.7 1-.2 1-.1 1,.7 1,1.9 1-.3 1-1.5 1-.5 1-.6 1,.2 1,.2 1-.8 1,1.1 1,1.5 1,0 1-.3 1-1.3 1-.5 1,1.4 1-.1 1-.6 1,.1 1-.3 1,.5 1-.2 1-1.5 .9,.6 1,1.4 1,.9 1,.6 1-1.3 1-1 1,.5 1-.6 1-.7 1,.2 1,.2 1,1.6 1,.5 1-1.6 1-.6 1-.3 1-.1 1,.1 1-1.9 1-1.4 1-.1 1-1.2 1-1.4 1-1.1 1-.6 1,1.8 1,1.8 1,.2 1,.4 1-.4 1-1.4 .9-3 1-5.2 1-2.7 1-.5 1,.1 1,1.9 1,1.8 1,1.3 1,3.3 1,2.5 1,0 1-.1 1-.5 1,0 1,.2 1-1.8 1-1.2 1,.7 1,1.1 1,2.1 1,.9 1,0 1,1.5 1,.9 1-.1 1,.2 1-.3 1,1.3 1,2 1-.4 1-.4 1,.1 .9,.1 1,1.1 1,0 1-.7 1,1.1 1,.5 1-.5 1-.9 1-1.8 1,.1 1,1.6 1,.2 1,.3 1,.3 1,0 1,.8 1-.9 1-1.7 1,.4" stroke="#138a13" stroke-width="0.55" stroke-opacity="0.75"/>
<path d="M234.2,67.5l1,.5 1-.5 1,.6 .9,.3 1,.6 1-.9 1-.5 1,1 1-.2 1-.6 1,.1 1,.2 1,1.7 1,.7 1-1.5 1-.9 1-.5 1-.2 1,.6 1-.7 1,.2 1,1.8 1,.5 1-.4 1-.8 1-1.2 1,1 1,.8 1-.8 1-.1 1-.2 1,0 1,.5 1-1.2 .9-.5 1,1.6 1,1 1,.7 1-.5 1-1.6 1,.1 1,.1 1-1 1,.1 1,.1 1,1 1,1.4 1-1.1 1-1.3 1-.1 1-.2 1,.3 1-.9 1-2 1-.1 1-.4 1-1.4 1-.9 1-.9 1,1 1,2.5 1,.4 1-.1 1-.1 1-1.6 .9-2.7 1-4.5 1-4.5 1-1.8 1,0 1,2.1 1,3.4 1,1.9 1,2.8 1,3.1 1,.2 1-.3 1-.1 1-.5 1,.5 1-1 1-1.9 1,.4 1,1.1 1,1.6 1,1.6 1-.2 1,.6 1,1.5 1-.2 1-.1 1-.2 1,.3 1,2 1,.5 1-.9 1,0 .9,0 1,.7 1,.8 1-.9 1,.4 1,1.1 1-.4 1-.7 1-1.6 1-.9 1,1.6 1,.8 1,0 1,.5 1-.1 1,.5 1,0 1-1.8 1-.4" stroke="#a08a10" stroke-width="0.55" stroke-opacity="0.75"/>
<path d="M234.2,67.1l1,1.2 1-1.6 1,.5 .9,.4 1,.5 1,0 1-1.2 1,.4 1,.7 1-.7 1-.1 1,.2 1,.8 1,1.7 1-.7 1-1.7 1-.4 1-.4 1,.3 1,.2 1-.6 1,1.2 1,1.4 1-.3 1-.5 1-1.2 1-.3 1,1.5 1-.1 1-.7 1,0 1-.3 1,.4 1-.2 .9-1.3 1,.8 1,1.6 1,.7 1,.2 1-1.4 1-1 1,.6 1-.6 1-.6 1,.4 1,.3 1,1.5 1,.3 1-1.7 1-.4 1,.2 1,.1 1,.3 1-1.3 1-.9 1,.6 1-.8 1-1 1-.6 1-.1 1,2.2 1,1.5 1-.6 1-.2 1-1 .9-1.8 1-1.9 1-3.2 1-1.9 1,.9 1,1.5 1,2.1 1,1.2 1,.4 1,2.1 1,1 1-.6 1,.1 1-.4 1,.1 1,.2 1-1.8 1-.9 1,1.1 1,1.1 1,1.7 1,.3 1-.6 1,1 1,.3 1-.8 1-.3 1-.3 1,1.1 1,1.6 1-.8 1-.8 .9,.1 1,.2 1,1 1,0 1-.7 1,1.1 1,.3 1-.8 1-1 1-1.5 1,.4 1,1.8 1,.1 1,.2 1,.3 1-.1 1,.6 1-1 1-1.5" stroke="#2626b0" stroke-width="0.55" stroke-opacity="0.75"/>
<path d="M234.2,68.9l1,.5 1-.7 1,.6 .9,.3 1,.6 1-.6 1-.9 1,1 1,0 1-.7 1,.1 1,.2 1,1.4 1,1.2 1-1.5 1-1 1-.5 1-.3 1,.6 1-.4 1-.2 1,1.8 1,.7 1-.4 1-.7 1-1.3 1,.7 1,1.1 1-.7 1-.3 1-.1 1-.1 1,.6 1-1 .9-.8 1,1.4 1,1.2 1,.7 1-.3 1-1.7 1-.1 1,.3 1-.9 1-.2 1,.2 1,.9 1,1.5 1-.7 1-1.4 1,0 1,0 1,.5 1-.3 1-1.6 1,.1 1,.2 1-1.2 1-.7 1-.8 1,.6 1,2.4 1,.5 1-.4 1-.1 1-1.1 .9-1.2 1-2.1 1-2.6 1-.2 1,.9 1,1 1,1.4 1,0 1,.7 1,2.2 1,.2 1-.4 1,.1 1-.4 1,.5 1-.6 1-2 1,0 1,1.1 1,1.3 1,1.4 1-.4 1,0 1,1.2 1-.4 1-.6 1-.3 1-.1 1,1.8 1,.7 1-1.1 1-.2 .9,0 1,.5 1,1 1-.8 1,.1 1,1.2 1-.3 1-.7 1-1.4 1-1.2 1,1.4 1,1.1 1-.1 1,.5 1-.1 1,.4 1,.3 1-1.7 1-.8" stroke="#d85028" stroke-width="0.55" stroke-opacity="0.75"/>
<path d="M234.2,69.0l1,2.3 1,.7 1,.1 .9-1.1 1,.7 1,.6 1-.5 1-.3 1-.7 1,.7 1,2 1-.1 1-.8 1-.6 1-.8 1,.3 1-.4 1-1.1 1,1.2 1,1.4 1,.6 1,.1 1-1.6 1-.4 1,1 1-.3 1-.2 1-.1 1-.2 1,.9 1-.3 1-1.6 1,.2 1,.9 .9,1.1 1,1 1-1.1 1-.5 1,.4 1-.9 1-.7 1-.5 1,0 1,2.1 1,.7 1-1 1-.2 1-.5 1,.4 1,.6 1-1.2 1-.2 1,.7 1-.4 1-.6 1-1.4 1-1 1,1.6 1,1.1 1,0 1,.4 1-.4 1,.3 1,0 1-2.1 .9-1.4 1-.2 1-.1 1,.3 1-.9 1-.6 1,1.8 1,1.2 1,.4 1,.6 1-.3 1,.8 1,.7 1-1.8 1-1.2 1-.1 1,.4 1,1.7 1,.1 1-.2 1,1.2 1,.2 1-.6 1-.7 1-1.2 1,1 1,1.6 1-.2 1-.2 1-.3 1,0 1,1.1 .9-.5 1-.6 1,1.1 1,.6 1,.2 1-.8 1-2.1 1,0 1,1 1,0 1,.6 1,.2 1,.4 1,1.3 1-1 1-1.6 1-.2 1,.2 1,1" stroke="#d85028" stroke-width="0.55" stroke-opacity="0.75"/>
<path d="M234.2,69.0l1,2.4 1,.3 1,.8 .9-.9 1-.3 1,1 1-.2 1-.5 1-.4 1-.2 1,1.9 1,1 1-1 1-.6 1-.8 1-.3 1,.4 1-1.1 1,.1 1,1.7 1,.8 1,.3 1-.8 1-1.4 1,.7 1,.6 1-.6 1,0 1-.3 1,.4 1,.6 1-1.5 1-.7 1,1 .9,1 1,1.3 1-.3 1-1.3 1,.3 1-.3 1-1 1-.3 1-.3 1,1.2 1,1.8 1-.7 1-.9 1-.3 1-.4 1,.6 1-.8 1-1.6 1-.1 1-.8 1-1.5 1-1.4 1-2 1,.4 1,1.7 1,.2 1,.5 1,.4 1,0 1,.5 1-2.2 .9-5.1 1-3.9 1-2.8 1-2.5 1-1 1,.6 1,4.1 1,4.9 1,3 1,2.2 1,.4 1-.2 1,.9 1-1.1 1-2.1 1-.4 1,.2 1,1.4 1,1.4 1-.1 1,1.1 1,1.5 1,.1 1,.2 1-.3 1,.5 1,2.3 1,.8 1-.3 1,.2 1-.2 1,.9 .9,.6 1-.9 1,.5 1,1.1 1,.1 1-.2 1-1.8 1-1.2 1,1.1 1,.4 1,.3 1,.5 1,0 1,1.1 1,.2 1-1.9 1-.7 1,.3 1,.5" stroke="#28a848" stroke-width="0.55" stroke-opacity="0.75"/>
<path d="M234.2,66.6l1,2.7 1,.8 1-.9 .9-.3 1,1.1 1-.1 1-.3 1-.6 1-.5 1,1.7 1,1.2 1-.7 1-.4 1-.8 1-.4 1,.4 1-1.3 1-.2 1,1.6 1,.9 1,.7 1-.6 1-1.5 1,.5 1,.5 1-.5 1,0 1-.4 1,.5 1,.8 1-1.4 1-.9 1,.6 1,.9 .9,1.4 1,.1 1-1.3 1,.4 1-.2 1-1 1-.5 1-.7 1,1.1 1,1.9 1-.3 1-.6 1-.4 1-.3 1,.8 1-.5 1-1.2 1,.5 1,0 1-.7 1-1 1-2 1,.1 1,1.6 1,.3 1,.3 1,.1 1-.1 1,.8 1-1 1-2.3 .9-1.2 1-1.3 1-.5 1-.9 1-1.8 1,.8 1,2.6 1,1.4 1,1.4 1,.7 1,.3 1,1.2 1-.6 1-1.8 1-.7 1-.2 1,1.1 1,1.2 1-.4 1,.7 1,1.2 1-.1 1-.2 1-1.1 1-.3 1,2 1,.8 1-.2 1,.1 1-.4 1,.8 1,.6 .9-1.1 1,.4 1,1 1,.4 1,.1 1-1.7 1-1.4 1,.8 1,.3 1,.3 1,.5 1,0 1,1.3 1,.4 1-1.7 1-.9 1-.1 1,.5 1,1.1" stroke="#2626b0" stroke-width="0.55" stroke-opacity="0.75"/>
<path d="M234.2,65.7l1,3.1 1,.3 1-1.1 .9,.4 1,.9 1-.4 1-.2 1-.9 1,.1 1,2 1,.5 1-.7 1-.4 1-.9 1,.1 1-.1 1-1.4 1,.6 1,1.4 1,.9 1,.6 1-1.3 1-1 1,.9 1-.1 1-.3 1-.1 1-.3 1,1 1,.1 1-1.6 1-.3 1,.6 1,1 .9,1.4 1-.7 1-.7 1,.5 1-.7 1-.8 1-.6 1-.5 1,1.8 1,1.4 1-.7 1-.3 1-.7 1-.1 1,.6 1-1.3 1-1 1,.2 1-.9 1-1.4 1-2.1 1-2.3 1,.5 1,1 1-.1 1,.4 1,.1 1,.7 1,.9 1-1.6 1-2.4 .9-3.1 1-3.7 1-1.8 1-2.7 1-2.1 1,2.3 1,3.8 1,2.9 1,3.1 1,1.6 1,1.2 1,.9 1-1.5 1-1.7 1-.8 1-.1 1,1.5 1,.7 1-.2 1,1.7 1,1.2 1,.4 1,.1 1-.7 1,1.2 1,2.5 1,.6 1,.3 1,.2 1,0 1,1.3 1,0 .9-.8 1,.9 1,.8 1,.5 1-.2 1-2.1 1-.7 1,.8 1,.1 1,.5 1,.3 1,.3 1,1.4 1-.3 1-1.8 1-.4 1-.2 1,.9 1,.7" stroke="#28a848" stroke-width="0.55" stroke-opacity="0.75"/>
<path d="M234.2,67.8l1,2.3 1,.6 1,.4 .9-1.1 1,.3 1,.9 1-.5 1-.3 1-.6 1,.2 1,2.1 1,.3 1-.9 1-.5 1-.9 1,.1 1,0 1-1.2 1,.7 1,1.6 1,.6 1,.3 1-1.3 1-.9 1,1 1,0 1-.4 1,0 1-.3 1,.8 1,.1 1-1.7 1-.1 1,.9 .9,1.1 1,1.2 1-.9 1-.9 1,.5 1-.7 1-.8 1-.4 1-.2 1,1.7 1,1.3 1-1 1-.4 1-.3 1,.1 1,.8 1-1 1-.6 1,.9 1-.3 1-.6 1-1.1 1-1.3 1,1.3 1,1.5 1,0 1,.3 1-.3 1,0 1,.3 1-1.9 .9-1.6 1,.1 1,.3 1,.6 1-.4 1-1 1,1.1 1,1.2 1,.1 1,.5 1-.3 1,.5 1,.9 1-1.4 1-1.5 1-.2 1,.3 1,1.6 1,.6 1-.5 1,1 1,.4 1-.5 1-.6 1-1.3 1,.5 1,1.8 1,0 1-.3 1-.2 1-.2 1,1 .9-.1 1-.9 1,1 1,.7 1,.2 1-.5 1-2.1 1-.5 1,1.2 1,.1 1,.5 1,.3 1,.2 1,1.3 1-.6 1-1.8 1-.2 1,.1 1,.8" stroke="#a020a0" stroke-width="0.55" stroke-opacity="0.75"/>
<path d="M234.2,67.3l1,.6 1-.9 1,.7 .9,.3 1,.6 1-.6 1-.9 1,1 1,0 1-.7 1,.1 1,.2 1,1.4 1,1.2 1-1.5 1-1.1 1-.4 1-.3 1,.6 1-.4 1-.2 1,1.7 1,.8 1-.4 1-.7 1-1.3 1,.6 1,1.2 1-.7 1-.3 1-.1 1-.1 1,.5 1-.9 .9-.9 1,1.5 1,1.2 1,.7 1-.3 1-1.6 1-.2 1,.3 1-1 1-.1 1,.2 1,.8 1,1.6 1-.7 1-1.4 1,.1 1,.1 1,.5 1-.1 1-1.5 1,.2 1,.3 1-1.1 1-.7 1-.8 1,.7 1,2.3 1,.5 1-.5 1-.1 1-1 .9-.9 1-1.7 1-2.5 1-.2 1,.9 1,1 1,1.2 1-.2 1,.6 1,1.9 1,.2 1-.3 1,.1 1-.4 1,.6 1-.6 1-2 1,0 1,1 1,1.2 1,1.4 1-.5 1-.1 1,1.1 1-.5 1-.7 1-.4 1-.2 1,1.8 1,.7 1-1.1 1-.2 .9-.1 1,.5 1,.9 1-.7 1,0 1,1.2 1-.2 1-.7 1-1.4 1-1.2 1,1.3 1,1.2 1-.1 1,.5 1-.1 1,.4 1,.3 1-1.7 1-.8" stroke="#138a13" stroke-width="0.55" stroke-opacity="0.75"/>
<path d="M234.2,65.4l1,2.1 1-2 1-.1 .9,.8 1,.3 1,.4 1-1 1-.4 1,1 1-.3 1-.5 1,.3 1,.4 1,1.6 1,.3 1-1.8 1-.8 1-.3 1-.1 1,.7 1-.6 1,.4 1,1.8 1,0 1-.6 1-.8 1-.9 1,1.3 1,.6 1-.9 1-.1 1-.2 1,0 1,.4 .9-1.3 1,0 1,1.8 1,.9 1,.3 1-.8 1-1.6 1,.4 1,0 1-.9 1,.2 1,.3 1,1.1 1,1 1-1.4 1-1 1,.3 1,0 1,.5 1-.7 1-1.4 1,.5 1-.2 1-1.2 1-.4 1-.4 1,1.5 1,2.2 1-.3 1-.6 1-.6 .9-1.8 1-1.2 1-1.9 1-1.9 1,1 1,1.6 1,1.2 1,.9 1-.3 1,1 1,1.6 1-.5 1-.2 1,0 1-.3 1,.5 1-1.2 1-1.6 1,.8 1,1.2 1,1.4 1,.9 1-.7 1,.3 1,.9 1-.8 1-.5 1-.3 1,.4 1,1.8 1,0 1-1.2 .9,0 1,.1 1,.8 1,.6 1-.9 1,.5 1,.9 1-.7 1-.9 1-1.4 1-.4 1,1.8 1,.7 1-.1 1,.4 1-.2 1,.4 1-.2 1-1.8" stroke="#109a9a" stroke-width="0.55" stroke-opacity="0.75"/>
<path d="M234.2,66.1l1,2.3 1,.6 1,.4 .9-1.1 1,.3 1,.9 1-.5 1-.3 1-.6 1,.2 1,2.1 1,.4 1-1 1-.5 1-.9 1,.1 1,0 1-1.2 1,.7 1,1.6 1,.6 1,.3 1-1.3 1-.9 1,1 1,0 1-.4 1,0 1-.3 1,.8 1,.1 1-1.7 1-.1 1,.9 .9,1.1 1,1.2 1-.8 1-1 1,.5 1-.7 1-.8 1-.4 1-.2 1,1.7 1,1.3 1-.9 1-.5 1-.3 1,.1 1,.8 1-.9 1-.6 1,.8 1-.3 1-.6 1-1 1-1.3 1,1.2 1,1.5 1,.1 1,.3 1-.3 1-.1 1,.4 1-1.9 .9-1.7 1,0 1,0 1,.4 1-.4 1-1 1,1.4 1,1.4 1,.2 1,.6 1-.3 1,.5 1,.9 1-1.4 1-1.5 1-.2 1,.3 1,1.5 1,.7 1-.6 1,1 1,.5 1-.6 1-.6 1-1.2 1,.4 1,1.9 1-.1 1-.3 1-.2 1-.2 1,1 .9,0 1-.9 1,.9 1,.7 1,.2 1-.5 1-2 1-.6 1,1.2 1,.1 1,.5 1,.3 1,.2 1,1.3 1-.5 1-1.9 1-.2 1,.1 1,.8" stroke="#3a3a3a" stroke-width="0.55" stroke-opacity="0.75"/>
<path d="M234.2,66.9l1,.8 1,.3 1,.2 .9,.7 1,0 1-1.1 1,.4 1,.7 1-.7 1-.2 1-.1 1,.8 1,1.9 1-.5 1-1.4 1-.5 1-.6 1,.3 1,0 1-.8 1,1.3 1,1.4 1,0 1-.3 1-1.4 1-.4 1,1.4 1-.1 1-.6 1,.1 1-.3 1,.5 1-.3 1-1.4 .9,.6 1,1.4 1,.9 1,.5 1-1.3 1-.9 1,.5 1-.6 1-.6 1,.2 1,.2 1,1.6 1,.2 1-1.8 1-.8 1-.6 1-.5 1-.7 1-2.9 1-2.4 1-1.1 1-2 1-2 1-1.5 1-.8 1,1.9 1,2.1 1,.7 1,.9 1-.4 1-2.4 .9-6.7 1-9.9 1-6.5 1-4.1 1-1.3 1,3.9 1,6.1 1,5.4 1,6.9 1,4.5 1,.8 1-.4 1-.8 1-.2 1-.2 1-2.1 1-1 1,.8 1,1.5 1,2.6 1,1.6 1,.8 1,2.4 1,1.7 1,.9 1,1 1,.3 1,1.8 1,2.2 1-.1 1-.1 1,.3 .9,.3 1,1.2 1-.1 1-.6 1,1.2 1,.4 1-.5 1-1 1-1.8 1,.3 1,1.5 1,.1 1,.4 1,.3 1,0 1,.9 1-1.1 1-1.6 1,.4" stroke="#c02020" stroke-width="0.55" stroke-opacity="0.75"/>
<path d="M234.2,69.1l1,2 1-2 1,0 .9,.7 1,.4 1,.3 1-1 1-.3 1,1 1-.5 1-.4 1,.3 1,.5 1,1.6 1,.2 1-1.9 1-.7 1-.3 1,0 1,.6 1-.6 1,.5 1,1.7 1,.1 1-.6 1-.9 1-.8 1,1.3 1,.5 1-.9 1-.1 1-.2 1,.1 1,.3 .9-1.3 1,.1 1,1.8 1,.8 1,.4 1-1 1-1.5 1,.4 1,0 1-.9 1,.2 1,.3 1,1.2 1,1 1-1.5 1-.9 1,.4 1,.1 1,.6 1-.7 1-1.2 1,.6 1-.3 1-1.1 1-.4 1-.4 1,1.6 1,2 1-.4 1-.5 1-.6 .9-1.3 1-.8 1-1.6 1-1.5 1,1.2 1,1.3 1,.9 1,.4 1-.6 1,.9 1,1.4 1-.4 1-.2 1,0 1-.3 1,.5 1-1.3 1-1.5 1,.8 1,1.2 1,1.3 1,.8 1-.8 1,.3 1,.7 1-.9 1-.5 1-.3 1,.4 1,1.8 1-.2 1-1.2 .9,.1 1,0 1,.9 1,.5 1-.9 1,.6 1,.9 1-.8 1-.9 1-1.4 1-.4 1,1.9 1,.6 1-.1 1,.4 1-.2 1,.5 1-.3 1-1.8" stroke="#a08a10" stroke-width="0.55" stroke-opacity="0.75"/>
<path d="M234.2,69.2l1,3.1 1-1 1-1.7 .9,.5 1,.8 1,.2 1,.1 1-1.2 1,0 1,1 1-.6 1-.2 1,.5 1,.6 1,1.5 1-.5 1-2 1-.4 1-.2 1,.2 1,.6 1-.6 1,.8 1,1.6 1-.5 1-.7 1-.9 1-.3 1,1.5 1,.2 1-1 1-.1 1-.2 1,.1 .9,.2 1-1.2 1,.6 1,1.9 1,.5 1,0 1-1.3 1-1.2 1,.6 1-.1 1-.8 1,.5 1,.2 1,1 1,.4 1-2 1-.9 1,0 1-.5 1-.3 1-1.6 1-1.6 1,.3 1-.8 1-1.2 1-.2 1,.4 1,2.4 1,1.9 1-.9 1-1.6 .9-3.5 1-4.4 1-2.8 1-3.7 1-1.4 1,3.3 1,3.9 1,3.1 1,2.2 1,.8 1,1.4 1,1 1-.8 1-.4 1-.3 1-.3 1,.3 1-1.4 1-.8 1,1.7 1,1.8 1,1.8 1,.9 1-.4 1,1.2 1,1.1 1-.7 1-.1 1,.2 1,.9 1,1.7 1-.6 .9-1 1,.3 1,.2 1,1 1,.4 1-.9 1,.8 1,.4 1-1 1-1 1-1.2 1,.3 1,2 1,.3 1-.2 1,.3 1-.2 1,.4 1-.6" stroke="#c02020" stroke-width="0.55" stroke-opacity="0.75"/>
<path d="M234.2,65.7l1,2.3 1,.5 1,.5 .9-1.1 1,.2 1,1 1-.5 1-.3 1-.6 1,.1 1,2.1 1,.5 1-1 1-.5 1-.9 1,0 1,.1 1-1.2 1,.6 1,1.6 1,.7 1,.3 1-1.2 1-1.1 1,1 1,.2 1-.5 1,0 1-.3 1,.7 1,.2 1-1.6 1-.3 1,1 .9,1 1,1.2 1-.7 1-1 1,.4 1-.5 1-.9 1-.4 1-.3 1,1.7 1,1.4 1-.9 1-.5 1-.3 1,0 1,.8 1-.9 1-.7 1,.7 1-.2 1-.7 1-1.1 1-1.4 1,1.1 1,1.6 1,0 1,.4 1-.2 1-.1 1,.3 1-1.8 .9-2.1 1-.5 1-.3 1-.1 1-.5 1-.8 1,1.8 1,1.9 1,.6 1,.7 1-.2 1,.3 1,1.1 1-1.4 1-1.6 1-.2 1,.2 1,1.6 1,.7 1-.5 1,1 1,.6 1-.5 1-.5 1-1.2 1,.4 1,1.9 1,.1 1-.4 1-.1 1-.3 1,1 .9,.1 1-1 1,.9 1,.8 1,.1 1-.3 1-2.1 1-.7 1,1.2 1,.2 1,.4 1,.4 1,.1 1,1.3 1-.4 1-1.8 1-.4 1,.2 1,.8" stroke="#a020a0" stroke-width="0.55" stroke-opacity="0.75"/>
<path d="M234.2,65.9l1,2.3 1,.9 1-.4 .9-.8 1,1 1,.3 1-.5 1-.4 1-.7 1,1.2 1,1.7 1-.4 1-.6 1-.7 1-.7 1,.4 1-.7 1-.8 1,1.4 1,1.2 1,.6 1-.2 1-1.6 1,0 1,.9 1-.5 1-.1 1-.2 1,0 1,1 1-.8 1-1.4 1,.5 1,.8 .9,1.3 1,.7 1-1.3 1-.2 1,.3 1-1.1 1-.5 1-.6 1,.4 1,2.2 1,.2 1-.9 1-.3 1-.6 1,.4 1,0 1-1.6 1-.3 1-.2 1-1.3 1-1.4 1-2.1 1-1 1,1.5 1,.6 1,.1 1,.5 1,.1 1,.8 1-.3 1-3.2 .9-3.8 1-4.1 1-3.7 1-3.4 1-2.7 1,1.7 1,6 1,4.7 1,3.7 1,2.2 1,.3 1,1 1,0 1-2.2 1-1.1 1-.2 1,.7 1,1.6 1,.1 1,.5 1,1.7 1,.5 1,.2 1-.3 1-.3 1,2.1 1,1.6 1-.1 1,.3 1-.2 1,.5 1,1.1 .9-.7 1-.2 1,1.2 1,.4 1,.3 1-1.2 1-1.9 1,.4 1,.7 1,.1 1,.6 1,.1 1,.7 1,1 1-1.4 1-1.3 1,0 1,.2 1,1.1" stroke="#7a3aa0" stroke-width="0.55" stroke-opacity="0.75"/>
<path d="M234.2,66.4l1,2.9 1-1.5 1-1.3 .9,.8 1,.6 1,.3 1-.2 1-1.2 1,.5 1,.6 1-.7 1,.1 1,.4 1,.9 1,1.4 1-1.2 1-1.7 1-.2 1-.3 1,.5 1,.2 1-.5 1,1.4 1,1.1 1-.7 1-.6 1-1 1,.1 1,1.6 1-.5 1-.7 1,0 1-.3 1,.4 .9-.3 1-1.1 1,1.3 1,1.5 1,.4 1-.1 1-1.7 1-.7 1,.8 1-.7 1-.4 1,.5 1,.4 1,1.3 1-.3 1-1.9 1-.2 1,.1 1-.1 1-.1 1-1.7 1-.8 1,.4 1-1 1-.9 1-.2 1,.5 1,2.5 1,1.1 1-1 1-1 .9-2.5 1-2.7 1-1.8 1-2.9 1-.4 1,2.7 1,2.3 1,1.8 1,.9 1,.4 1,1.7 1,.5 1-.8 1,0 1-.5 1,.1 1,0 1-1.8 1-.3 1,1.7 1,1.4 1,1.6 1,.1 1-.3 1,1.2 1,.2 1-.8 1,0 1,0 1,1.3 1,1.3 1-1.1 .9-.7 1,.3 1,.4 1,1.1 1-.3 1-.5 1,1.1 1-.1 1-1 1-1 1-1.3 1,1 1,1.8 1-.1 1,.1 1,.1 1-.1 1,.5 1-1.2" stroke="#2626b0" stroke-width="0.55" stroke-opacity="0.75"/>
<path d="M234.2,65.0l1,2.6 1,0 1,.8 .9-.2 1-1 1,.9 1,.3 1-.6 1-.2 1-.5 1,1.1 1,1.8 1-.5 1-1 1-.6 1-.7 1,.4 1-.4 1-.8 1,1.5 1,1.2 1,.3 1-.2 1-1.6 1-.1 1,1.1 1-.4 1-.2 1-.1 1-.2 1,.9 1-.7 1-1.4 1,.7 .9,1 1,1.2 1,.5 1-1.4 1-.4 1,.4 1-1 1-.5 1-.2 1,.5 1,2 1,.1 1-1.5 1-.5 1-.8 1-.1 1-.4 1-2.6 1-1.7 1-1.4 1-2.5 1-2 1-2.4 1-1.1 1,1.6 1,.9 1,.6 1,1.3 1,.4 1,.3 1-2.4 .9-8.3 1-7.8 1-3.7 1-3.4 1-.7 1,2 1,4.5 1,6.4 1,5.4 1,3.3 1,1.2 1-.9 1,.3 1-.4 1-2.5 1-1 1,.1 1,1.1 1,2.2 1,1 1,1.1 1,2.6 1,1.3 1,1 1,1 1,.7 1,2.3 1,2.1 1,.1 1,.3 1,.2 1,.5 .9,1.3 1-.4 1-.3 1,1.3 1,.4 1-.2 1-1.1 1-2 1,.5 1,1.1 1,.1 1,.6 1,.1 1,.4 1,1 1-1.4 1-1.4 1,.2 1,.4" stroke="#109a9a" stroke-width="0.55" stroke-opacity="0.75"/>
<path d="M234.2,68.6l1,2.3 1,.1 1,.5 .9,.5 1-1.1 1,.1 1,.9 1-.5 1-.4 1-.3 1,.3 1,2 1,.4 1-1.3 1-.6 1-.8 1,0 1,.3 1-1 1,.6 1,1.8 1,.4 1-.1 1-1.1 1-1 1,1.1 1,.3 1-.6 1,.1 1-.4 1,.5 1,.2 1-1.6 1-.1 .9,1.3 1,1 1,1 1-.8 1-1.3 1,.5 1-.5 1-.9 1-.1 1,0 1,1.5 1,1.3 1-1.2 1-.7 1-.1 1,0 1,.7 1-.9 1-1.1 1,.6 1-.5 1-1 1-1 1-1.1 1,1.3 1,1.8 1,0 1,.2 1-.1 1-.4 1-.1 .9-2.8 1-2.8 1-.2 1-.3 1,.2 1,.6 1,.1 1,1.9 1,2.1 1,.4 1,.3 1-.3 1,.2 1,.7 1-1.5 1-1.6 1,.2 1,.5 1,1.6 1,.9 1-.5 1,.9 1,.7 1-.6 1-.3 1-.8 1,.5 1,2 1,0 1-.6 1,0 1-.2 .9,1 1,.2 1-.9 1,.8 1,.9 1-.2 1-.6 1-1.9 1-.6 1,1.4 1,.4 1,.3 1,.4 1,0 1,1 1-.4 1-1.9 1-.2 1,.5" stroke="#109a9a" stroke-width="0.55" stroke-opacity="0.75"/>
<path d="M234.2,68.2l1,3 1-1.6 1-1.3 .9,.9 1,.5 1,.4 1-.3 1-1.2 1,.6 1,.6 1-.8 1,.1 1,.4 1,1 1,1.3 1-1.2 1-1.7 1-.2 1-.2 1,.5 1,.2 1-.6 1,1.4 1,1.1 1-.6 1-.7 1-1 1,.2 1,1.5 1-.4 1-.8 1,.1 1-.3 1,.4 .9-.4 1-1 1,1.2 1,1.6 1,.3 1-.1 1-1.6 1-.7 1,.7 1-.7 1-.4 1,.5 1,.5 1,1.4 1-.2 1-1.7 1,0 1,.4 1,.3 1,.3 1-1.2 1-.4 1,.7 1-.9 1-.8 1-.2 1,.4 1,2.2 1,.9 1-1.1 1-.4 .9-1.1 1-.8 1-.3 1-1.5 1,.1 1,1.8 1,.7 1,.3 1-.5 1-.5 1,1.4 1,.6 1-.6 1,.1 1-.3 1,.1 1,0 1-1.9 1-.4 1,1.4 1,1.1 1,1.3 1-.3 1-.8 1,.9 1-.2 1-1 1-.2 1-.2 1,1.2 1,1.2 1-1.3 .9-.6 1,.2 1,.3 1,1.1 1-.2 1-.6 1,1.1 1,0 1-1.1 1-1 1-1.2 1,1 1,1.7 1-.1 1,.1 1,.2 1-.1 1,.4 1-1.2" stroke="#28a848" stroke-width="0.55" stroke-opacity="0.75"/>
<path d="M234.2,66.9l1,.6 1,.1 1,.4 .9,.5 1,.3 1-1.1 1,0 1,1 1-.7 1-.3 1,0 1,.5 1,1.9 1,0 1-1.6 1-.5 1-.6 1,.1 1,.3 1-.8 1,.8 1,1.7 1,.1 1-.3 1-1.2 1-.8 1,1.4 1,.2 1-.7 1,0 1-.3 1,.4 1,.1 1-1.5 .9,.2 1,1.5 1,.9 1,.7 1-1.1 1-1.2 1,.5 1-.4 1-.8 1,.2 1,.2 1,1.4 1,.6 1-1.7 1-1.1 1-.5 1-.6 1-.5 1-2.6 1-2.7 1-1 1-1.7 1-2 1-1.4 1-1 1,1.6 1,2.4 1,.8 1,.8 1-.3 1-2.6 .9-6.3 1-9.5 1-6.8 1-4.1 1-1.2 1,3.9 1,6.2 1,5.2 1,6.5 1,4.7 1,.7 1-.4 1-.7 1-.5 1,.1 1-1.8 1-1.4 1,.8 1,1.4 1,2.5 1,1.9 1,.6 1,2.1 1,2 1,.7 1,1 1,.3 1,1.3 1,2.5 1,.1 1-.4 1,.4 .9,.1 1,1.1 1,.3 1-.7 1,.9 1,.7 1-.5 1-.9 1-1.8 1-.1 1,1.6 1,.3 1,.3 1,.4 1-.1 1,.8 1-.6 1-1.9 1,.2" stroke="#138a13" stroke-width="0.55" stroke-opacity="0.75"/>
<path d="M234.2,66.8l1,2.5 1,.1 1,.9 .9-.7 1-.6 1,1 1,0 1-.5 1-.3 1-.4 1,1.6 1,1.4 1-.9 1-.7 1-.7 1-.5 1,.4 1-.8 1-.3 1,1.7 1,.9 1,.3 1-.6 1-1.5 1,.5 1,.8 1-.6 1-.1 1-.2 1,.1 1,.8 1-1.2 1-1 1,.9 .9,1 1,1.2 1,.1 1-1.4 1,.1 1,0 1-1.1 1-.3 1-.4 1,.9 1,2 1-.4 1-1 1-.3 1-.4 1,.6 1-.3 1-1.7 1-.1 1-.2 1-1.3 1-1.1 1-1.8 1,0 1,1.9 1,.4 1,.3 1,.4 1-.2 1,.4 1-1.6 .9-4.4 1-3.1 1-2 1-1.9 1-.5 1,.3 1,2.9 1,4.1 1,2.5 1,1.5 1,.4 1-.3 1,.9 1-.6 1-2.1 1-.5 1,.1 1,1.2 1,1.6 1-.2 1,.7 1,1.5 1,0 1-.1 1-.4 1-.1 1,2.1 1,1.1 1-.5 1,.1 1-.3 1,.7 .9,.9 1-.9 1,.1 1,1.2 1,.2 1-.1 1-1.6 1-1.5 1,.9 1,.7 1,.1 1,.7 1,0 1,.8 1,.5 1-1.7 1-1 1,.3 1,.4" stroke="#2a60d8" stroke-width="0.55" stroke-opacity="0.75"/>
<path d="M234.2,66.7l1,.9 1,.3 1,.3 .9,.6 1,0 1-1.1 1,.6 1,.5 1-.7 1-.2 1-.1 1,.9 1,1.9 1-.6 1-1.4 1-.5 1-.6 1,.4 1-.1 1-.7 1,1.3 1,1.4 1-.1 1-.3 1-1.4 1-.3 1,1.4 1-.2 1-.5 1,0 1-.3 1,.6 1-.4 1-1.4 .9,.7 1,1.4 1,.9 1,.5 1-1.4 1-.8 1,.5 1-.8 1-.5 1,.1 1,.3 1,1.8 1,.1 1-1.7 1-.5 1-.4 1-.2 1-.2 1-2.3 1-1.6 1-.4 1-1.6 1-1.4 1-1.4 1-.5 1,2 1,1.7 1,.3 1,.6 1-.5 1-1.8 .9-5 1-8.4 1-6.4 1-4.5 1-1.7 1,3.8 1,5.9 1,5.5 1,6.2 1,3.6 1,.5 1-.1 1-.6 1,.1 1-.1 1-2.1 1-.9 1,.7 1,1.3 1,2.3 1,.9 1,.3 1,1.9 1,1 1,.2 1,.5 1-.1 1,1.6 1,1.9 1-.4 1-.2 1,.1 .9,.2 1,1.2 1-.2 1-.5 1,1.2 1,.3 1-.5 1-1 1-1.8 1,.4 1,1.5 1,.1 1,.4 1,.2 1,.1 1,.8 1-1.2 1-1.5 1,.5" stroke="#7a3aa0" stroke-width="0.55" stroke-opacity="0.75"/>
<path d="M234.2,66.3l1,.5 1-.2 1,.5 .9,.4 1,.5 1-1 1-.3 1,1.1 1-.5 1-.5 1,.1 1,.3 1,1.8 1,.5 1-1.7 1-.7 1-.5 1-.1 1,.5 1-.8 1,.5 1,1.8 1,.3 1-.4 1-1 1-1 1,1.2 1,.6 1-.8 1,0 1-.3 1,.2 1,.3 1-1.4 .9-.1 1,1.6 1,.9 1,.7 1-.8 1-1.5 1,.4 1-.2 1-.9 1,.1 1,.1 1,1.3 1,1.2 1-1.3 1-1 1,.1 1-.1 1,.6 1-.9 1-1.5 1,.4 1-.4 1-1.2 1-.8 1-.8 1,1.3 1,2.2 1,0 1,0 1-.3 1-1.1 .9-1.4 1-3.1 1-2.5 1-.1 1,.5 1,1.3 1,1.4 1,.1 1,1.8 1,2.1 1-.1 1-.1 1-.2 1-.1 1,.5 1-1.2 1-1.7 1,.4 1,1 1,1.6 1,1.1 1-.6 1,.7 1,1 1-.6 1-.3 1-.4 1,.4 1,2 1,0 1-.9 1,.1 .9-.1 1,.8 1,.5 1-.8 1,.6 1,.9 1-.5 1-.7 1-1.7 1-.6 1,1.7 1,.6 1,.1 1,.4 1-.1 1,.7 1-.3 1-1.9 1-.1" stroke="#28a848" stroke-width="0.55" stroke-opacity="0.75"/>
<path d="M234.2,66.5l1,3.2 1,.1 1-1.1 .9,.7 1,.7 1-.4 1-.2 1-1 1,.3 1,2.1 1,.2 1-.6 1-.4 1-.9 1,.2 1-.3 1-1.4 1,.8 1,1.4 1,.9 1,.4 1-1.4 1-.7 1,.9 1-.2 1-.3 1-.1 1-.3 1,1.1 1-.1 1-1.6 1-.1 1,.6 1,1.1 .9,1.3 1-.9 1-.5 1,.4 1-.8 1-.7 1-.7 1-.4 1,2 1,1.1 1-.7 1-.3 1-.5 1,.3 1,.7 1-1.2 1-.3 1,.9 1-.2 1-.3 1-1.3 1-1.4 1,1.3 1,1.1 1,.2 1,.4 1-.4 1,.3 1,.3 1-1.8 1-1.1 .9,0 1,.1 1,1 1-.7 1-1.2 1,.9 1,.8 1,.1 1,.4 1-.2 1,.9 1,1 1-1.5 1-1.2 1-.5 1,.1 1,1.6 1,.2 1-.3 1,1.2 1,.4 1-.4 1-.7 1-1.6 1,.6 1,1.6 1,0 1,0 1-.3 1-.1 1,1.1 1-.4 .9-.8 1,.9 1,.6 1,.6 1-.5 1-2.1 1-.4 1,.8 1,0 1,.6 1,.1 1,.5 1,1.5 1-.7 1-1.6 1-.4 1-.2 1,1 1,.6" stroke="#c02020" stroke-width="0.55" stroke-opacity="0.75"/>
<path d="M234.2,65.0l1,1.2 1,.4 1,.2 .9,.7 1-.3 1-1 1,.9 1,.2 1-.7 1-.1 1-.1 1,1.2 1,1.6 1-.9 1-1.1 1-.6 1-.5 1,.5 1-.4 1-.5 1,1.6 1,1.1 1-.1 1-.5 1-1.4 1,.1 1,1.3 1-.5 1-.3 1-.1 1-.2 1,.7 1-.8 1-1.2 .9,1.1 1,1.2 1,.9 1,.3 1-1.6 1-.4 1,.4 1-1 1-.3 1,0 1,.6 1,1.8 1-.2 1-1.6 1-.3 1-.3 1,.2 1-.2 1-2 1-.8 1-.1 1-1.5 1-1.1 1-1.3 1-.1 1,2.1 1,1.1 1,.2 1,.4 1-.6 1-.9 .9-3.3 1-5.3 1-2.3 1-.8 1-.2 1,1.9 1,1.7 1,1.9 1,3.7 1,1.9 1,.2 1-.1 1-.5 1,.4 1-.3 1-2.1 1-.6 1,.7 1,1.2 1,2 1,.3 1,.3 1,1.6 1,.4 1-.1 1,0 1-.2 1,1.8 1,1.5 1-.7 1-.1 1,0 .9,.3 1,1.1 1-.5 1-.3 1,1.3 1,.1 1-.5 1-1.2 1-1.7 1,.9 1,1.2 1,0 1,.6 1,0 1,.4 1,.6 1-1.5 1-1.2 1,.6" stroke="#138a13" stroke-width="0.55" stroke-opacity="0.75"/>
<path d="M234.2,67.8l1,3 1,.5 1-1.1 .9,.2 1,1 1-.3 1-.3 1-.8 1-.1 1,2 1,.6 1-.6 1-.4 1-1 1,.1 1,0 1-1.4 1,.4 1,1.5 1,.8 1,.7 1-1.2 1-1.1 1,.9 1,0 1-.4 1,0 1-.4 1,.9 1,.3 1-1.6 1-.4 1,.6 1,1 .9,1.4 1-.5 1-.9 1,.5 1-.6 1-.8 1-.7 1-.5 1,1.6 1,1.6 1-.7 1-.3 1-.6 1-.1 1,.8 1-1.1 1-.9 1,.6 1-.5 1-.9 1-1.5 1-2 1,.6 1,1.3 1,0 1,.4 1,0 1,.3 1,.8 1-1.6 1-2.1 .9-1.8 1-2.5 1-1.6 1-2.5 1-2.3 1,1.9 1,3.6 1,2.6 1,2.5 1,.9 1,1 1,1.1 1-1.3 1-1.6 1-.7 1-.1 1,1.5 1,.7 1-.3 1,1.2 1,1 1,0 1-.2 1-1.1 1,.6 1,2.2 1,.4 1,.1 1,0 1-.2 1,1.1 1,.2 .9-1 1,.8 1,.8 1,.5 1-.2 1-2 1-.9 1,.9 1,.1 1,.5 1,.3 1,.2 1,1.5 1-.2 1-1.8 1-.5 1-.2 1,.8 1,.9" stroke="#d85028" stroke-width="0.55" stroke-opacity="0.75"/>
<path d="M234.2,67.5l1,2.1 1,.2 1,.4 .9,.6 1-1 1-.2 1,1 1-.4 1-.4 1-.2 1,.1 1,1.9 1,.7 1-1.3 1-.7 1-.7 1-.2 1,.4 1-.9 1,.3 1,1.8 1,.5 1,0 1-1 1-1.2 1,1.1 1,.5 1-.7 1,0 1-.3 1,.4 1,.4 1-1.5 1-.4 .9,1.3 1,1 1,1 1-.5 1-1.5 1,.4 1-.3 1-.9 1,0 1-.1 1,1.3 1,1.4 1-1.3 1-1.2 1-.5 1-.6 1,0 1-1.8 1-2.8 1-1.3 1-1.9 1-2.3 1-1.9 1-1.8 1,.7 1,1.9 1,.8 1,1.1 1,.7 1-.3 1-1.7 .9-7.6 1-8.6 1-3.4 1-2.7 1-.5 1,2.7 1,3.5 1,5.1 1,5.9 1,3.1 1,1.1 1-.7 1-.5 1,.3 1-1.7 1-1.9 1,0 1,.7 1,2.1 1,2 1,.7 1,2 1,2.2 1,.9 1,1.2 1,.6 1,1.1 1,2.7 1,.8 1-.2 1,.4 1,.1 .9,1 1,.7 1-.9 1,.7 1,1 1-.2 1-.5 1-1.8 1-.9 1,1.4 1,.5 1,.2 1,.5 1,0 1,.9 1-.2 1-1.9 1-.3 1,.5" stroke="#1878a0" stroke-width="0.55" stroke-opacity="0.75"/>
<path d="M234.2,67.9l1,.4 1-.4 1,.5 .9,.4 1,.6 1-.9 1-.6 1,1.1 1-.3 1-.6 1,.1 1,.2 1,1.7 1,.8 1-1.6 1-.8 1-.5 1-.3 1,.6 1-.6 1,.1 1,1.9 1,.4 1-.3 1-.9 1-1.1 1,.9 1,.9 1-.8 1-.1 1-.2 1,0 1,.5 1-1.2 .9-.5 1,1.5 1,1 1,.8 1-.5 1-1.7 1,.2 1,.1 1-1 1,0 1,.1 1,1.1 1,1.5 1-1 1-1.1 1,.1 1,.1 1,.8 1-.3 1-1.2 1,.6 1,.1 1-1 1-.6 1-.7 1,1 1,2.2 1,0 1-.4 1-.2 1-.8 .9-.2 1-1.4 1-1.9 1,.5 1,.9 1,.7 1,.6 1-.8 1,.5 1,1.6 1-.1 1-.2 1,0 1-.2 1,.7 1-.9 1-1.9 1,.3 1,.8 1,1.3 1,1.1 1-.8 1,.1 1,.8 1-.8 1-.7 1-.6 1,0 1,1.8 1,.3 1-1.1 1-.1 .9-.2 1,.7 1,.7 1-.8 1,.3 1,1.1 1-.4 1-.7 1-1.5 1-1 1,1.6 1,.9 1-.1 1,.5 1-.1 1,.5 1,.1 1-1.8 1-.5" stroke="#138a13" stroke-width="0.55" stroke-opacity="0.75"/>
<path d="M234.2,64.3l1,2.5 1,.2 1,.8 .9-.7 1-.6 1,1.1 1-.1 1-.5 1-.3 1-.4 1,1.6 1,1.4 1-.9 1-.7 1-.7 1-.5 1,.4 1-.8 1-.3 1,1.7 1,.9 1,.3 1-.6 1-1.5 1,.5 1,.8 1-.6 1,0 1-.3 1,.2 1,.7 1-1.2 1-1 1,.9 .9,1 1,1.3 1,0 1-1.4 1,.1 1,0 1-1.1 1-.3 1-.4 1,.9 1,2 1-.4 1-1 1-.1 1-.3 1,.8 1-.1 1-1.3 1,.4 1,.3 1-.7 1-.8 1-1.4 1,.2 1,2 1,.4 1,.1 1,.1 1-.5 1,.4 1-1 .9-2.6 1-.8 1,0 1-.2 1,.2 1-.8 1,.8 1,2.2 1,.7 1,.5 1,.1 1-.2 1,1.1 1-.5 1-2 1-.5 1,.2 1,1.1 1,1.4 1-.4 1,.3 1,1 1-.4 1-.5 1-.9 1-.5 1,1.8 1,.8 1-.6 1-.1 1-.4 1,.6 .9,.8 1-1 1,.2 1,1.1 1,.2 1-.1 1-1.6 1-1.5 1,.9 1,.7 1,.2 1,.6 1,0 1,.8 1,.5 1-1.7 1-1 1,.3 1,.4" stroke="#2a60d8" stroke-width="0.55" stroke-opacity="0.75"/>
<path d="M234.2,66.7l1,1.9 1,.3 1,.3 .9,.7 1-.8 1-.6 1,1.1 1-.2 1-.6 1-.1 1-.1 1,1.8 1,1 1-1.3 1-.7 1-.7 1-.3 1,.5 1-.8 1,0 1,1.8 1,.7 1,0 1-.8 1-1.4 1,.8 1,.8 1-.7 1,0 1-.3 1,.2 1,.5 1-1.3 1-.7 .9,1.3 1,1 1,1.1 1-.3 1-1.6 1,.2 1,0 1-1.1 1-.1 1-.1 1,1.1 1,1.7 1-.8 1-1.1 1,0 1-.2 1,.7 1-.3 1-1.4 1,.4 1,0 1-1 1-.8 1-1.2 1,.7 1,2.1 1,.3 1,0 1,0 1-.6 1,0 .9-1.9 1-2.7 1,.1 1,.5 1,.4 1,.7 1-.6 1,.6 1,2 1,.3 1,.1 1-.1 1-.1 1,.8 1-.9 1-1.9 1-.1 1,.5 1,1.4 1,1.3 1-.5 1,.4 1,1 1-.5 1-.5 1-.6 1-.1 1,1.9 1,.6 1-.9 1-.1 1-.2 .9,.7 1,.7 1-.9 1,.3 1,1.2 1-.2 1-.4 1-1.7 1-1.2 1,1.4 1,.7 1,.1 1,.6 1-.1 1,.7 1,.2 1-1.8 1-.7 1,.6" stroke="#d85028" stroke-width="0.55" stroke-opacity="0.75"/>
<path d="M234.2,67.7l1,1.7 1,.4 1,.2 .9,.8 1-.8 1-.6 1,1.1 1-.2 1-.6 1-.1 1-.1 1,1.7 1,1.2 1-1.3 1-.8 1-.6 1-.4 1,.5 1-.7 1-.1 1,1.8 1,.7 1,0 1-.8 1-1.4 1,.7 1,.9 1-.7 1,0 1-.2 1,0 1,.6 1-1.2 1-.8 .9,1.3 1,1 1,1 1-.1 1-1.6 1,.1 1,0 1-1 1-.1 1-.1 1,1 1,1.7 1-.9 1-1.3 1-.4 1-.5 1,.1 1-1 1-2.5 1-.9 1-1 1-1.9 1-1.4 1-1.7 1,.4 1,2.1 1,.8 1,.7 1,.5 1-.5 1-1.3 .9-5.6 1-7.5 1-3.6 1-2.6 1-.8 1,2.7 1,3.4 1,4.4 1,5.3 1,2.6 1,.8 1-.4 1-.5 1,.4 1-1 1-2.1 1-.2 1,.7 1,1.6 1,2.1 1,.3 1,1.2 1,1.9 1,.6 1,.6 1,.3 1,.4 1,2.3 1,1.1 1-.5 1,.2 1,0 .9,.7 1,.9 1-.8 1,.3 1,1.2 1-.1 1-.5 1-1.6 1-1.3 1,1.3 1,.8 1,.1 1,.6 1-.1 1,.7 1,.3 1-1.9 1-.7 1,.6" stroke="#a020a0" stroke-width="0.55" stroke-opacity="0.75"/>
<path d="M234.2,69.0l1,1 1-1.5 1,.6 .9,.4 1,.5 1,0 1-1.2 1,.5 1,.6 1-.8 1,0 1,.1 1,1 1,1.6 1-.8 1-1.6 1-.4 1-.5 1,.4 1,.2 1-.7 1,1.4 1,1.3 1-.4 1-.5 1-1.2 1-.1 1,1.5 1-.3 1-.6 1,0 1-.3 1,.4 1-.3 .9-1.3 1,1 1,1.5 1,.7 1,.2 1-1.5 1-.9 1,.7 1-.7 1-.4 1,.3 1,.3 1,1.4 1-.2 1-2 1-.7 1-.4 1-.7 1-.9 1-2.8 1-1.8 1-.4 1-1.7 1-1.4 1-.8 1-.1 1,2.8 1,2 1,0 1-.1 1-2.4 .9-5.8 1-7.2 1-7.2 1-5.3 1-.5 1,3.7 1,6.5 1,5.3 1,4.2 1,4.6 1,1.6 1-.9 1-.3 1-.8 1-.1 1-.1 1-1.9 1-.6 1,1.6 1,1.8 1,2.5 1,1.2 1,.4 1,2.2 1,1.3 1,.2 1,.4 1,.2 1,1.7 1,1.8 1-.6 1-.3 .9,.2 1,.3 1,1.2 1-.2 1-.5 1,1.1 1,.2 1-.8 1-1.1 1-1.5 1,.6 1,1.7 1,0 1,.3 1,.2 1,0 1,.6 1-1.1 1-1.5" stroke="#109a9a" stroke-width="0.55" stroke-opacity="0.75"/>
<path d="M234.2,67.0l1,.5 1-.6 1,.6 .9,.3 1,.6 1-.7 1-.7 1,1 1-.1 1-.7 1,.1 1,.2 1,1.6 1,.9 1-1.5 1-.9 1-.5 1-.3 1,.6 1-.5 1,0 1,1.8 1,.5 1-.3 1-.8 1-1.2 1,.8 1,1 1-.8 1-.1 1-.2 1,0 1,.5 1-1.2 .9-.6 1,1.6 1,1 1,.7 1-.4 1-1.6 1,.1 1,.1 1-1 1,0 1,.2 1,.9 1,1.4 1-1.1 1-1.4 1-.1 1-.3 1,.1 1-1 1-2.2 1-.5 1-.4 1-1.6 1-.9 1-.9 1,.8 1,2.6 1,.7 1-.1 1,0 1-1.8 .9-3 1-4.5 1-3.9 1-1.1 1,.5 1,1.8 1,2.8 1,1.3 1,2.5 1,3.1 1,.4 1-.4 1-.2 1-.5 1,.4 1-.9 1-2 1,.3 1,1.2 1,1.7 1,1.8 1,0 1,.7 1,1.7 1,0 1,.1 1-.1 1,.3 1,2.1 1,.7 1-.9 1,0 .9,0 1,.7 1,.8 1-.8 1,.3 1,1.1 1-.4 1-.7 1-1.5 1-1 1,1.5 1,1 1-.1 1,.5 1-.1 1,.5 1,.1 1-1.8 1-.5" stroke="#a08a10" stroke-width="0.55" stroke-opacity="0.75"/>
<path d="M234.2,67.1l1,2.9 1,.6 1-1.1 .9,.1 1,1 1-.3 1-.2 1-.8 1-.2 1,2 1,.7 1-.7 1-.3 1-1 1,0 1,.1 1-1.4 1,.2 1,1.6 1,.8 1,.7 1-1 1-1.3 1,.9 1,.1 1-.5 1,.1 1-.4 1,.7 1,.5 1-1.6 1-.5 1,.6 1,.9 .9,1.5 1-.4 1-1 1,.5 1-.5 1-.9 1-.6 1-.5 1,1.6 1,1.7 1-.6 1-.6 1-.7 1-.4 1,.3 1-1.4 1-1.7 1-.5 1-1.9 1-2.5 1-2.9 1-3.2 1-.4 1,.7 1-.2 1,.3 1,.6 1,1.2 1,1.5 1-1.3 1-3.7 .9-6.5 1-7.6 1-4.3 1-4.5 1-2.9 1,3.5 1,6.8 1,5.6 1,5.7 1,3.5 1,1.5 1,.7 1-1.5 1-2.2 1-1.1 1-.3 1,1.3 1,1.1 1,.2 1,2 1,2.1 1,1.2 1,1.1 1,.3 1,1.8 1,3.4 1,1.4 1,.6 1,.6 1,.2 1,1.5 1,.5 .9-.8 1,.8 1,1 1,.5 1,0 1-2 1-1 1,.9 1,.1 1,.4 1,.4 1,.1 1,1.4 1,0 1-1.8 1-.6 1-.1 1,.7 1,.9" stroke="#3a3a3a" stroke-width="0.55" stroke-opacity="0.75"/>
<path d="M234.2,68.9l1,3 1-1.5 1-1.4 .9,.9 1,.5 1,.3 1-.1 1-1.2 1,.4 1,.7 1-.8 1,.1 1,.4 1,.9 1,1.4 1-1.1 1-1.7 1-.3 1-.2 1,.4 1,.3 1-.5 1,1.2 1,1.2 1-.6 1-.6 1-1 1,0 1,1.6 1-.3 1-.9 1,.1 1-.3 1,.3 .9-.2 1-1.1 1,1.2 1,1.6 1,.3 1-.1 1-1.5 1-.8 1,.7 1-.5 1-.5 1,.4 1,.4 1,1.2 1-.3 1-2 1-.5 1-.1 1-.5 1-.4 1-2 1-1.2 1,.3 1-1.2 1-1 1-.2 1,.6 1,2.7 1,1.4 1-1 1-1.5 .9-4.2 1-5.3 1-4.5 1-5.6 1-1.7 1,4.1 1,5.4 1,4.7 1,3 1,1.4 1,2 1,.5 1-.8 1-.2 1-.5 1,0 1,0 1-1.8 1-.2 1,1.9 1,1.7 1,1.8 1,.6 1-.2 1,1.6 1,.6 1-.6 1,.1 1,.1 1,1.3 1,1.5 1-1 .9-.7 1,.4 1,.3 1,1.1 1-.1 1-.7 1,1.1 1,0 1-1.1 1-.9 1-1.3 1,.9 1,1.8 1-.1 1,.1 1,.2 1-.1 1,.4 1-1.1" stroke="#3a3a3a" stroke-width="0.55" stroke-opacity="0.75"/>
<path d="M234.2,63.8l1,3.2 1,.1 1-1.1 .9,.6 1,.8 1-.4 1-.2 1-1 1,.3 1,2.1 1,.2 1-.6 1-.4 1-.9 1,.2 1-.3 1-1.4 1,.8 1,1.4 1,.9 1,.4 1-1.4 1-.7 1,.9 1-.2 1-.3 1-.1 1-.3 1,1.1 1-.1 1-1.6 1-.1 1,.6 1,1.1 .9,1.3 1-.9 1-.5 1,.4 1-.8 1-.7 1-.7 1-.4 1,2 1,1.1 1-.7 1-.2 1-.6 1,.1 1,.6 1-1.3 1-.6 1,.5 1-.6 1-.8 1-1.9 1-1.7 1,.9 1,.9 1,.1 1,.4 1-.2 1,.7 1,.5 1-1.8 1-1.7 .9-1.7 1-2.1 1-.8 1-2.3 1-1.8 1,1.9 1,2.7 1,1.9 1,2.1 1,.7 1,1.3 1,.8 1-1.5 1-1.4 1-.7 1,.1 1,1.5 1,.4 1-.2 1,1.5 1,.7 1,.1 1-.4 1-1.1 1,1.1 1,2 1,.3 1,.2 1-.1 1,0 1,1.2 1-.3 .9-.7 1,.9 1,.7 1,.6 1-.5 1-2.1 1-.4 1,.8 1,0 1,.6 1,.1 1,.5 1,1.5 1-.7 1-1.6 1-.4 1-.2 1,1 1,.6" stroke="#a020a0" stroke-width="0.55" stroke-opacity="0.75"/>
<path d="M234.2,69.1l1,3.1 1-1 1-1.8 .9,.6 1,.8 1,.2 1,.1 1-1.2 1,0 1,1 1-.6 1-.2 1,.5 1,.6 1,1.5 1-.5 1-2 1-.5 1-.1 1,.2 1,.6 1-.6 1,.8 1,1.6 1-.5 1-.7 1-.9 1-.3 1,1.5 1,.2 1-1 1-.1 1-.2 1,.1 .9,.1 1-1.1 1,.7 1,1.8 1,.5 1,0 1-1.3 1-1.3 1,.7 1-.2 1-.7 1,.4 1,.4 1,1.1 1,.4 1-1.9 1-.7 1,.4 1-.2 1,.2 1-1.3 1-1.2 1,.5 1-.6 1-1.1 1-.2 1,.3 1,2.1 1,1.7 1-.9 1-1.2 .9-2.1 1-2.6 1-1.5 1-2.4 1-1 1,2.6 1,2.4 1,1.6 1,1 1-.1 1,1.3 1,1 1-.7 1-.2 1-.3 1-.2 1,.3 1-1.5 1-.9 1,1.5 1,1.5 1,1.5 1,.5 1-.7 1,.8 1,.7 1-.9 1-.2 1,0 1,.8 1,1.6 1-.7 .9-1.1 1,.3 1,.2 1,1 1,.3 1-.8 1,.8 1,.4 1-1.1 1-.9 1-1.3 1,.4 1,2 1,.2 1-.1 1,.3 1-.2 1,.4 1-.6" stroke="#109a9a" stroke-width="0.55" stroke-opacity="0.75"/>
<path d="M234.2,65.7l1,3 1,.5 1-1.1 .9,.2 1,1 1-.3 1-.3 1-.8 1-.1 1,2 1,.7 1-.7 1-.4 1-1 1,0 1,.1 1-1.4 1,.3 1,1.5 1,.9 1,.7 1-1.1 1-1.2 1,.8 1,.1 1-.4 1,0 1-.4 1,.8 1,.4 1-1.6 1-.5 1,.7 1,.9 .9,1.5 1-.5 1-.9 1,.5 1-.6 1-.9 1-.5 1-.6 1,1.6 1,1.7 1-.6 1-.5 1-.7 1-.3 1,.5 1-1.4 1-1.4 1-.2 1-1.4 1-1.9 1-2.6 1-2.7 1-.1 1,.9 1-.2 1,.4 1,.4 1,.9 1,1.3 1-1.4 1-3.2 .9-5.1 1-6.2 1-3.8 1-4.3 1-2.9 1,3.2 1,6.1 1,5.1 1,4.9 1,2.7 1,1.4 1,.8 1-1.4 1-2 1-1 1-.2 1,1.4 1,.9 1,0 1,1.8 1,1.8 1,.8 1,.6 1-.1 1,1.4 1,3 1,1.1 1,.4 1,.4 1,.1 1,1.4 1,.4 .9-.9 1,.8 1,1 1,.4 1,0 1-2 1-1 1,.9 1,.1 1,.4 1,.4 1,.2 1,1.4 1-.1 1-1.8 1-.5 1-.2 1,.8 1,.9" stroke="#3a3a3a" stroke-width="0.55" stroke-opacity="0.75"/>
<path d="M234.2,68.4l1,2.4 1-2 1-.4 .9,.9 1,.3 1,.4 1-.8 1-.7 1,1 1-.1 1-.6 1,.3 1,.3 1,1.5 1,.7 1-1.8 1-1 1-.3 1-.1 1,.6 1-.3 1,0 1,1.8 1,.4 1-.7 1-.8 1-1 1,1 1,1 1-.9 1-.2 1-.1 1-.2 1,.5 .9-1 1-.4 1,1.7 1,1 1,.4 1-.6 1-1.7 1,.1 1,.3 1-.9 1,.1 1,.3 1,.9 1,1.2 1-1.1 1-1.3 1,.2 1,.1 1,.4 1-.4 1-1.5 1,.2 1,.1 1-1.2 1-.5 1-.4 1,1.2 1,2.4 1,0 1-.8 1-.5 .9-1.8 1-1.1 1-1.3 1-1.8 1,.9 1,1.7 1,.9 1,.7 1-.4 1,.5 1,1.7 1-.2 1-.4 1,0 1-.4 1,.5 1-.8 1-1.8 1,.5 1,1.3 1,1.3 1,1.2 1-.7 1,.1 1,1 1-.6 1-.7 1-.2 1,.2 1,1.7 1,.4 1-1.3 .9-.1 1,.1 1,.6 1,.9 1-.8 1,.2 1,1 1-.6 1-.9 1-1.3 1-.8 1,1.8 1,1 1-.2 1,.4 1-.2 1,.3 1,.1 1-1.7" stroke="#2626b0" stroke-width="0.55" stroke-opacity="0.75"/>
<path d="M234.2,66.9l1,2.4 1,.1 1,.6 .9,.3 1-1.1 1,.3 1,.8 1-.6 1-.3 1-.3 1,.4 1,2 1,.2 1-1.3 1-.5 1-.8 1,.1 1,.1 1-1 1,.9 1,1.6 1,.3 1,0 1-1.3 1-.8 1,1.2 1,.1 1-.5 1,0 1-.3 1,.6 1,0 1-1.6 1,.1 .9,1.3 1,.9 1,1 1-1 1-1.1 1,.5 1-.6 1-.8 1,0 1,0 1,1.7 1,1 1-1.5 1-.8 1-.6 1-.4 1,0 1-2 1-2.2 1-1 1-2 1-2 1-1.9 1-1.6 1,1.2 1,1.6 1,.5 1,1.2 1,.4 1-.1 1-1.8 .9-7.5 1-8.2 1-4.1 1-3.8 1-.8 1,2.6 1,4.4 1,6.3 1,5.8 1,3 1,1.2 1-.8 1-.1 1,.2 1-2 1-1.6 1,.1 1,.8 1,2.2 1,1.4 1,.6 1,2.1 1,1.7 1,.7 1,1 1,.4 1,1.5 1,2.5 1,.3 1-.1 1,.3 1,.2 .9,1.2 1,.2 1-.8 1,1.1 1,.7 1-.2 1-.7 1-2 1-.3 1,1.4 1,.2 1,.4 1,.4 1,.1 1,1 1-.7 1-1.8 1,0 1,.4" stroke="#2626b0" stroke-width="0.55" stroke-opacity="0.75"/>
<path d="M234.2,67.7l1,.5 1-.3 1,.5 .9,.4 1,.5 1-.9 1-.5 1,1.1 1-.4 1-.5 1,.1 1,.2 1,1.8 1,.6 1-1.6 1-.8 1-.5 1-.2 1,.6 1-.7 1,.3 1,1.8 1,.4 1-.4 1-.9 1-1.1 1,1.1 1,.7 1-.8 1,0 1-.3 1,.1 1,.4 1-1.3 .9-.3 1,1.6 1,.9 1,.8 1-.7 1-1.5 1,.2 1,0 1-.9 1,0 1,.2 1,1.1 1,1.2 1-1.3 1-1.2 1-.2 1-.4 1,.1 1-1.3 1-2.2 1-.3 1-.8 1-1.6 1-.9 1-1 1,1.2 1,2.4 1,.6 1,.1 1-.2 1-2 .9-4 1-6.8 1-6.7 1-4.1 1-1 1,3.3 1,5.8 1,4.4 1,4.7 1,3.9 1,.5 1-.3 1-.3 1-.5 1,.5 1-1.2 1-1.9 1,.5 1,1.2 1,1.9 1,1.7 1-.1 1,1 1,1.7 1,0 1,.2 1-.1 1,.5 1,2.2 1,.5 1-.9 1,.2 .9-.1 1,.9 1,.7 1-.9 1,.5 1,1 1-.4 1-.8 1-1.6 1-.7 1,1.6 1,.7 1,0 1,.5 1-.1 1,.6 1-.1 1-1.9 1-.2" stroke="#1878a0" stroke-width="0.55" stroke-opacity="0.75"/>
<path d="M234.2,62.1l1,2.3 1,.7 1,.3 .9-1.1 1,.4 1,.8 1-.5 1-.3 1-.6 1,.3 1,2.1 1,.2 1-.9 1-.5 1-.9 1,.2 1-.1 1-1.2 1,.8 1,1.5 1,.7 1,.2 1-1.4 1-.8 1,1.1 1-.1 1-.4 1,0 1-.3 1,.8 1,0 1-1.6 1-.1 1,1 .9,1 1,1.2 1-.9 1-.9 1,.5 1-.7 1-.8 1-.4 1-.1 1,1.8 1,1.2 1-1.1 1-.5 1-.5 1-.1 1,.4 1-1.4 1-1.2 1-.1 1-1.3 1-1.6 1-1.9 1-1.8 1,1 1,1.2 1,0 1,.7 1,.3 1,.5 1,.3 1-2.9 .9-4.6 1-3.2 1-1.7 1-1 1-.9 1,.2 1,3.4 1,3.2 1,2.4 1,2.1 1,.2 1,.3 1,.6 1-1.8 1-1.7 1-.3 1,.3 1,1.7 1,.9 1,0 1,1.8 1,1.1 1,.2 1,.3 1-.3 1,1.3 1,2.3 1,.3 1,.1 1,.1 1,0 1,1.3 .9,0 1-.8 1,1 1,.8 1,.1 1-.5 1-2.1 1-.4 1,1.1 1,.1 1,.5 1,.3 1,.3 1,1.2 1-.6 1-1.8 1-.2 1,.1 1,.9" stroke="#a08a10" stroke-width="0.55" stroke-opacity="0.75"/>
<path d="M234.2,64.6l1,2.4 1,.9 1-.5 .9-.7 1,1 1,.2 1-.5 1-.4 1-.7 1,1.4 1,1.6 1-.5 1-.6 1-.7 1-.6 1,.4 1-.9 1-.6 1,1.4 1,1.1 1,.7 1-.3 1-1.6 1,.2 1,.7 1-.5 1,0 1-.3 1,.1 1,1 1-1 1-1.3 1,.6 1,.8 .9,1.4 1,.4 1-1.3 1,.1 1,.1 1-1.1 1-.5 1-.6 1,.6 1,2.2 1,0 1-.8 1-.4 1-.6 1,.5 1-.3 1-1.7 1-.3 1-.4 1-1.5 1-1.5 1-2.4 1-.9 1,1.5 1,.4 1,.1 1,.6 1,.2 1,1 1-.5 1-3.1 .9-3.7 1-3.4 1-1.8 1-1.4 1-1.8 1,1 1,4 1,2.8 1,2.8 1,1.9 1,.3 1,1 1-.3 1-2.2 1-1 1-.3 1,.8 1,1.6 1,0 1,.7 1,1.9 1,.5 1,.3 1-.2 1,0 1,2.3 1,1.6 1,0 1,.3 1-.1 1,.6 1,1.1 .9-.8 1,0 1,1.2 1,.4 1,.3 1-1.4 1-1.8 1,.5 1,.6 1,.2 1,.6 1,0 1,.9 1,.9 1-1.6 1-1.1 1-.1 1,.3 1,1.2" stroke="#7a3aa0" stroke-width="0.55" stroke-opacity="0.75"/>
<path d="M234.2,65.6l1,2.4 1,.3 1,.7 .9-.8 1-.4 1,1.1 1-.2 1-.5 1-.3 1-.3 1,1.8 1,1.1 1-1 1-.6 1-.8 1-.3 1,.4 1-1 1-.1 1,1.8 1,.8 1,.3 1-.8 1-1.4 1,.7 1,.6 1-.6 1,0 1-.3 1,.3 1,.7 1-1.4 1-.8 1,1 .9,.9 1,1.3 1-.2 1-1.3 1,.2 1-.2 1-1 1-.3 1-.4 1,1.2 1,1.8 1-.6 1-.8 1-.3 1-.3 1,.8 1-.5 1-1.3 1,.4 1-.2 1-1 1-1 1-1.6 1,.4 1,1.9 1,.2 1,.3 1,.2 1-.3 1,.4 1-1.6 .9-3.4 1-2 1-1.5 1-1.4 1-.5 1-.1 1,2.5 1,3.5 1,1.7 1,1.1 1,.2 1-.1 1,1.1 1-.8 1-2 1-.4 1,.2 1,1.2 1,1.4 1-.4 1,.7 1,1.1 1-.3 1-.2 1-.8 1-.1 1,2 1,.7 1-.5 1,0 1-.3 1,.8 .9,.6 1-1 1,.4 1,1.1 1,.2 1-.2 1-1.8 1-1.3 1,1.1 1,.5 1,.3 1,.5 1,0 1,1 1,.3 1-1.9 1-.7 1,.2 1,.6" stroke="#109a9a" stroke-width="0.55" stroke-opacity="0.75"/>
<path d="M234.2,65.8l1,3.1 1-1.2 1-1.6 .9,.7 1,.7 1,.2 1,0 1-1.2 1,.2 1,.9 1-.7 1-.1 1,.5 1,.7 1,1.5 1-.8 1-1.9 1-.3 1-.2 1,.3 1,.4 1-.5 1,1 1,1.4 1-.6 1-.6 1-1 1-.2 1,1.6 1,0 1-1 1,0 1-.3 1,.3 .9,0 1-1.2 1,.9 1,1.7 1,.5 1,0 1-1.5 1-1.1 1,.8 1-.4 1-.6 1,.5 1,.3 1,1.2 1,.1 1-1.9 1-.6 1,.2 1-.3 1,0 1-1.5 1-1.2 1,.4 1-.8 1-1 1-.2 1,.3 1,2.4 1,1.6 1-1 1-1.2 .9-2.7 1-3.2 1-2 1-3 1-1 1,2.9 1,2.9 1,2.1 1,1.4 1,.3 1,1.5 1,.8 1-.8 1-.1 1-.4 1-.1 1,.2 1-1.6 1-.7 1,1.6 1,1.6 1,1.6 1,.5 1-.5 1,1.1 1,.6 1-.8 1-.1 1,0 1,1 1,1.6 1-.9 .9-.9 1,.3 1,.3 1,1 1,.2 1-.8 1,.9 1,.3 1-1.1 1-1 1-1.2 1,.5 1,2 1,.1 1-.1 1,.3 1-.2 1,.4 1-.8" stroke="#138a13" stroke-width="0.55" stroke-opacity="0.75"/>
<path d="M234.2,65.5l1,.7 1-1.1 1,.7 .9,.3 1,.6 1-.4 1-1 1,.8 1,.3 1-.8 1,.1 1,.1 1,1.2 1,1.4 1-1.2 1-1.3 1-.4 1-.4 1,.5 1-.2 1-.4 1,1.7 1,.9 1-.4 1-.6 1-1.3 1,.4 1,1.3 1-.6 1-.4 1,0 1-.2 1,.5 1-.7 .9-1 1,1.3 1,1.3 1,.6 1,0 1-1.7 1-.3 1,.5 1-.9 1-.2 1,.2 1,.5 1,1.5 1-.7 1-1.9 1-.4 1-.6 1-.5 1-1.2 1-2.9 1-1.4 1-.6 1-1.9 1-1.2 1-1 1,.3 1,2.9 1,1.6 1,0 1,0 1-2.6 .9-6 1-8.3 1-8.6 1-6.3 1-1.1 1,4.2 1,7.8 1,6.4 1,5.4 1,5.1 1,1.3 1-.8 1-.2 1-.8 1,0 1-.4 1-2 1-.1 1,1.5 1,1.9 1,2.4 1,.8 1,.8 1,2.3 1,.9 1,.4 1,.4 1,.3 1,2 1,1.4 1-.7 1-.1 .9,.2 1,.4 1,1.1 1-.5 1-.2 1,1.2 1-.1 1-.7 1-1.3 1-1.4 1,1.2 1,1.3 1-.1 1,.5 1,0 1,.2 1,.5 1-1.6 1-1" stroke="#a020a0" stroke-width="0.55" stroke-opacity="0.75"/>
<path d="M234.2,68.3l1,.5 1-.2 1,.4 .9,.4 1,.5 1-1 1-.3 1,1.1 1-.5 1-.4 1,0 1,.3 1,1.8 1,.5 1-1.6 1-.7 1-.6 1-.1 1,.5 1-.7 1,.4 1,1.8 1,.3 1-.3 1-1 1-1 1,1.1 1,.6 1-.8 1,0 1-.3 1,.2 1,.4 1-1.4 .9-.2 1,1.6 1,.9 1,.7 1-.7 1-1.5 1,.3 1-.1 1-.9 1,.1 1,.2 1,1.1 1,1.1 1-1.5 1-1.2 1-.3 1-.5 1-.1 1-1.8 1-2.4 1-.6 1-1.1 1-1.8 1-1.1 1-1 1,1.3 1,2.5 1,.6 1,.4 1-.2 1-2.3 .9-5 1-8.1 1-7.2 1-4.6 1-1.2 1,3.7 1,6.5 1,5 1,5.6 1,4.4 1,.6 1-.3 1-.4 1-.5 1,.3 1-1.4 1-1.7 1,.5 1,1.3 1,2.1 1,1.9 1,.2 1,1.4 1,1.8 1,.3 1,.5 1,.1 1,.8 1,2.3 1,.4 1-.7 1,.2 .9,0 1,1 1,.6 1-.9 1,.7 1,.9 1-.5 1-.7 1-1.7 1-.6 1,1.6 1,.6 1,.1 1,.5 1-.2 1,.7 1-.2 1-1.9 1-.2" stroke="#2a60d8" stroke-width="0.55" stroke-opacity="0.75"/>
<path d="M234.2,64.8l1,2.3 1,.8 1-.1 .9-1 1,.8 1,.5 1-.5 1-.3 1-.7 1,.8 1,1.9 1-.2 1-.7 1-.6 1-.8 1,.3 1-.4 1-1.1 1,1.2 1,1.4 1,.6 1,.1 1-1.6 1-.4 1,1 1-.3 1-.2 1-.1 1-.2 1,1 1-.5 1-1.6 1,.4 1,.8 .9,1.2 1,.9 1-1.2 1-.4 1,.4 1-1 1-.6 1-.5 1,.1 1,2 1,.7 1-1 1-.2 1-.4 1,.4 1,.6 1-1.2 1-.1 1,.8 1-.4 1-.4 1-1.4 1-.8 1,1.7 1,1 1,0 1,.3 1-.4 1,.2 1,0 1-2.1 .9-.9 1,.2 1,.2 1,.5 1-.9 1-.7 1,1.5 1,.8 1,.2 1,.4 1-.3 1,.9 1,.6 1-1.8 1-1.1 1-.1 1,.5 1,1.6 1,0 1-.2 1,1.1 1,.1 1-.6 1-.8 1-1.3 1,1.1 1,1.4 1-.3 1-.2 1-.3 1,0 1,1.1 .9-.6 1-.6 1,1.2 1,.5 1,.2 1-.9 1-2 1,.1 1,.9 1,.1 1,.6 1,.1 1,.5 1,1.2 1-1.1 1-1.6 1,0 1,.1 1,1.1" stroke="#c02020" stroke-width="0.55" stroke-opacity="0.75"/>
<path d="M234.2,64.0l1,2.6 1,0 1,.8 .9-.2 1-1 1,.9 1,.3 1-.6 1-.3 1-.4 1,1.1 1,1.8 1-.6 1-.9 1-.6 1-.7 1,.4 1-.4 1-.8 1,1.5 1,1.2 1,.3 1-.3 1-1.6 1,0 1,1.1 1-.4 1-.2 1-.1 1-.1 1,.8 1-.8 1-1.3 1,.7 .9,1 1,1.2 1,.5 1-1.4 1-.4 1,.3 1-1 1-.5 1-.2 1,.4 1,2.1 1,.1 1-1.2 1-.2 1-.3 1,.6 1,.3 1-1.3 1,0 1,.5 1-.8 1-.7 1-1.3 1-.4 1,2 1,.9 1-.1 1,.2 1-.4 1,.1 1-.5 .9-2.8 1-1.2 1,.2 1-.1 1,.5 1-.5 1,.1 1,2.1 1,1 1,.2 1,.3 1-.4 1,.9 1,.1 1-2 1-.8 1,.2 1,.8 1,1.6 1-.1 1-.1 1,1.2 1-.1 1-.6 1-.7 1-.8 1,1.5 1,1.3 1-.6 1-.2 1-.3 1,.3 .9,1 1-.6 1-.4 1,1.3 1,.3 1-.1 1-1.2 1-1.9 1,.5 1,1.1 1,.1 1,.6 1,.1 1,.5 1,.8 1-1.4 1-1.3 1,.2 1,.4" stroke="#2a60d8" stroke-width="0.55" stroke-opacity="0.75"/>
<path d="M234.2,63.2l1,2.3 1,.7 1,.2 .9-1.1 1,.6 1,.7 1-.6 1-.2 1-.7 1,.5 1,2.1 1,0 1-.9 1-.5 1-.9 1,.3 1-.3 1-1.1 1,1 1,1.5 1,.6 1,.1 1-1.4 1-.7 1,1.1 1-.2 1-.3 1,0 1-.3 1,.9 1-.2 1-1.7 1,.2 1,.9 .9,1.1 1,1.1 1-1.1 1-.7 1,.5 1-.8 1-.7 1-.5 1,.1 1,2 1,.9 1-1.1 1-.6 1-.7 1-.2 1,.2 1-1.9 1-1.5 1-.7 1-2.1 1-2.2 1-2.5 1-2.1 1,.9 1,.9 1,0 1,.9 1,.7 1,.9 1,.3 1-3.7 .9-6.6 1-5.9 1-3.6 1-2.6 1-1.7 1,1.4 1,5.6 1,5.1 1,4.3 1,3.3 1,.5 1,.3 1,.3 1-2.2 1-1.7 1-.3 1,.3 1,1.8 1,.9 1,.5 1,2.4 1,1.5 1,.7 1,.8 1,.3 1,2.2 1,2.6 1,.4 1,.4 1,.2 1,.3 1,1.4 .9-.1 1-.6 1,1.1 1,.7 1,.3 1-.7 1-2.1 1-.2 1,1 1,.1 1,.5 1,.3 1,.3 1,1.3 1-.9 1-1.7 1-.1 1,.1 1,1" stroke="#7a3aa0" stroke-width="0.55" stroke-opacity="0.75"/>
<path d="M234.2,66.6l1,2.5 1,.1 1,.6 .9,.2 1-1.1 1,.5 1,.7 1-.7 1-.2 1-.5 1,.7 1,2.1 1-.2 1-1.2 1-.5 1-.8 1,.3 1-.1 1-1 1,1.1 1,1.5 1,.3 1-.1 1-1.4 1-.5 1,1.2 1-.2 1-.4 1,.1 1-.3 1,.7 1-.3 1-1.6 1,.4 .9,1.2 1,1 1,.9 1-1.2 1-.9 1,.5 1-.8 1-.6 1-.1 1,.2 1,1.9 1,.5 1-1.5 1-.7 1-.7 1-.4 1-.1 1-2.4 1-2.3 1-1.2 1-2.4 1-2.1 1-2.3 1-1.5 1,1.4 1,1.3 1,.6 1,1.4 1,.4 1,.1 1-2.1 .9-8.5 1-8.6 1-4.4 1-4 1-.9 1,2.6 1,4.9 1,6.8 1,6.1 1,3.4 1,1.3 1-.9 1,.1 1-.1 1-2.3 1-1.4 1,.2 1,.8 1,2.3 1,1.4 1,.8 1,2.5 1,1.7 1,1 1,1.1 1,.6 1,2 1,2.4 1,.3 1,.1 1,.3 1,.3 .9,1.4 1-.1 1-.6 1,1.2 1,.5 1-.1 1-.9 1-2 1,0 1,1.3 1,.2 1,.4 1,.3 1,.2 1,1 1-.9 1-1.7 1,.1 1,.4" stroke="#7a3aa0" stroke-width="0.55" stroke-opacity="0.75"/>
<path d="M234.2,68.4l1,.5 1-.6 1,.6 .9,.3 1,.6 1-.7 1-.7 1,1 1-.1 1-.7 1,.1 1,.2 1,1.6 1,.9 1-1.5 1-.9 1-.5 1-.3 1,.6 1-.5 1,0 1,1.8 1,.5 1-.3 1-.8 1-1.2 1,.8 1,1 1-.8 1-.1 1-.2 1,0 1,.5 1-1.2 .9-.6 1,1.6 1,1 1,.7 1-.4 1-1.6 1,0 1,.2 1-.9 1,0 1,.1 1,.9 1,1.4 1-1.1 1-1.4 1-.2 1-.4 1,.1 1-1.1 1-2.3 1-.6 1-.5 1-1.6 1-1 1-.9 1,.8 1,2.6 1,.8 1,0 1-.1 1-1.8 .9-3.5 1-5.2 1-4.4 1-1.8 1,.2 1,2.2 1,3.4 1,2.1 1,2.9 1,3.4 1,.5 1-.5 1-.2 1-.5 1,.4 1-.9 1-2 1,.3 1,1.2 1,1.8 1,1.9 1,0 1,.8 1,1.8 1,.1 1,.1 1,0 1,.3 1,2.2 1,.7 1-.9 1,.1 .9,0 1,.7 1,.8 1-.8 1,.3 1,1.1 1-.3 1-.8 1-1.4 1-1.1 1,1.5 1,1 1-.1 1,.5 1-.1 1,.5 1,.1 1-1.8 1-.5" stroke="#a020a0" stroke-width="0.55" stroke-opacity="0.75"/>
<path d="M234.2,65.1l1,2.1 1,.2 1,.5 .9,.6 1-1.1 1-.1 1,1 1-.4 1-.5 1-.2 1,.1 1,2 1,.6 1-1.3 1-.7 1-.7 1-.1 1,.4 1-1 1,.4 1,1.8 1,.5 1,0 1-1.1 1-1.1 1,1 1,.5 1-.7 1,.1 1-.3 1,.3 1,.4 1-1.5 1-.3 .9,1.3 1,.9 1,1.1 1-.7 1-1.3 1,.3 1-.3 1-.9 1,0 1,0 1,1.4 1,1.2 1-1.3 1-1.1 1-.6 1-.6 1,0 1-1.9 1-2.9 1-1.2 1-2 1-2.3 1-2 1-1.8 1,.8 1,1.8 1,.8 1,1.2 1,.7 1-.3 1-1.8 .9-7.7 1-8.7 1-3.5 1-2.7 1-.5 1,2.7 1,3.5 1,5.3 1,5.9 1,3.2 1,1.1 1-.7 1-.5 1,.3 1-1.8 1-1.9 1,0 1,.8 1,2.1 1,2 1,.7 1,2.1 1,2.1 1,1 1,1.2 1,.7 1,1.2 1,2.7 1,.8 1-.2 1,.4 1,.1 .9,1.1 1,.6 1-.9 1,.8 1,1 1-.2 1-.6 1-1.8 1-.9 1,1.5 1,.4 1,.3 1,.5 1-.1 1,.9 1-.2 1-1.9 1-.3 1,.5" stroke="#28a848" stroke-width="0.55" stroke-opacity="0.75"/>
<path d="M234.2,61.8l1,3 1,.5 1-1.1 .9,.2 1,1 1-.3 1-.3 1-.8 1-.1 1,2 1,.6 1-.6 1-.4 1-1 1,.1 1,0 1-1.4 1,.3 1,1.6 1,.8 1,.7 1-1.2 1-1.1 1,.9 1,0 1-.4 1,0 1-.4 1,.8 1,.4 1-1.6 1-.4 1,.6 1,.9 .9,1.5 1-.5 1-.9 1,.5 1-.6 1-.9 1-.6 1-.5 1,1.6 1,1.6 1-.6 1-.5 1-.5 1-.1 1,.7 1-1.1 1-1 1,.5 1-.6 1-1 1-1.7 1-2.1 1,.5 1,1.2 1,0 1,.4 1,0 1,.4 1,.9 1-1.5 1-2.3 .9-2.2 1-2.8 1-1.5 1-2.4 1-2.3 1,2 1,3.6 1,2.6 1,2.6 1,1.1 1,.9 1,1.1 1-1.2 1-1.8 1-.6 1-.2 1,1.4 1,.8 1-.3 1,1.4 1,1.1 1,.1 1-.1 1-.9 1,.6 1,2.3 1,.6 1,.1 1,0 1-.1 1,1.1 1,.2 .9-.9 1,.7 1,.9 1,.4 1-.1 1-2 1-.9 1,.9 1,.1 1,.5 1,.3 1,.2 1,1.4 1-.1 1-1.8 1-.5 1-.2 1,.8 1,.9" stroke="#138a13" stroke-width="0.55" stroke-opacity="0.75"/>
<path d="M234.2,67.5l1,.5 1-.2 1,.5 .9,.3 1,.6 1-1 1-.4 1,1.1 1-.4 1-.5 1,0 1,.3 1,1.8 1,.5 1-1.6 1-.7 1-.6 1-.1 1,.6 1-.8 1,.4 1,1.8 1,.3 1-.3 1-1 1-1 1,1.1 1,.6 1-.8 1,0 1-.2 1,.1 1,.4 1-1.4 .9-.2 1,1.6 1,.9 1,.8 1-.8 1-1.5 1,.3 1-.1 1-1 1,.1 1,.1 1,1.3 1,1.3 1-1.2 1-.9 1,.3 1,.1 1,.8 1-.4 1-1 1,.8 1,0 1-.9 1-.6 1-.7 1,1.2 1,2 1-.2 1-.3 1-.2 1-.7 .9,.1 1-1.3 1-1.4 1,1 1,.9 1,.5 1,.2 1-1.2 1,.5 1,1.3 1-.3 1,0 1-.1 1,0 1,.7 1-1.2 1-1.7 1,.4 1,.8 1,1.3 1,.8 1-.9 1,.3 1,.6 1-1 1-.7 1-.7 1,.2 1,1.9 1,0 1-1.1 1-.1 .9-.1 1,.8 1,.5 1-.9 1,.6 1,1 1-.5 1-.7 1-1.7 1-.6 1,1.6 1,.6 1,.1 1,.5 1-.1 1,.6 1-.2 1-1.9 1-.2" stroke="#c02020" stroke-width="0.55" stroke-opacity="0.75"/>
<path d="M234.2,73.8l1-.5 1,0 1,.7 .9,.4 1-.4 1-.3 1,.5 1,.6 1,0 1-.5 1,.1 1,.7 1,.3 1-.4 1-.3 1,.5 1,.7 1-.1 1-.6 1,.1 1,.7 1,.3 1-.5 1-.3 1,.4 1,.6 1-.2 1-.6 1,0 1,.7 1,.1 1-.5 1-.5 1,.5 .9,.4 1-.3 1-.7 1,0 1,.6 1,.1 1-.7 1-.5 1,.4 1,.4 1-.4 1-.7 1-.1 1,.6 1,0 1-.7 1-.5 1,.4 1,.4 1-.5 1-.7 1,0 1,.5 1,.1 1-.7 1-.4 1,.4 1,.4 1-.4 1-.7 1,.1 .9,.6 1,.1 1-.6 1-.4 1,.5 1,.5 1-.3 1-.6 1,.2 1,.7 1,.1 1-.6 1-.2 1,.6 1,.5 1-.2 1-.5 1,.2 1,.8 1,.2 1-.5 1-.2 1,.6 1,.6 1-.2 1-.5 1,.3 1,.7 1,.2 1-.5 1-.1 1,.6 .9,.5 1-.3 1-.4 1,.2 1,.7 1,.1 1-.5 1-.2 1,.6 1,.4 1-.3 1-.6 1,.2 1,.7 1,0 1-.7 1-.2 1,.5 1,.3" stroke="#e04848" stroke-width="0.7"/>
<path d="M230.1,78.0l2.3-50 .6,53.7 1-18.5 1.6,3.8" stroke="#d0a020" stroke-width="0.42"/>
<path d="M230.0,76.5l2.1-49.5 .6,48.7 1.3-11.2 1.6,2.5" stroke="#b040b0" stroke-width="0.42"/>
<path d="M229.4,52.6l2.7-23.3 .8,57.5 1.1-19.2 1.6-.6" stroke="#38b8c0" stroke-width="0.42"/>
<path d="M229.5,66.6l2.6-48.8 .3,62.3 1.6-11.9 1.6-1.2" stroke="#40c4cc" stroke-width="0.42"/>
<path d="M230.3,75.5l1.8-56.2 .9,88.7 1-41.8 1.6,.8" stroke="#c03030" stroke-width="0.42"/>
<path d="M230.2,69.2l2.3-35.9 .4,64.6 1.1-33.1 1.6,2.2" stroke="#38b8c0" stroke-width="0.42"/>
<path d="M229.5,47.3l2.7-23.5 .6,75.2 1.2-36 1.6,4" stroke="#30aab4" stroke-width="0.42"/>
<path d="M229.7,73.6l2.5-40.3 .4,60.6 1.4-28 1.6,1.1" stroke="#40c8d0" stroke-width="0.42"/>
<path d="M230.3,45.8l2.1-11.7 .5,68.2 1.1-39.2 1.6,3.9" stroke="#38b8c0" stroke-width="0.42"/>
<path d="M229.9,45.3l2.1-33.9 .5,81.6 1.5-24.3 1.6-1.7" stroke="#40c4cc" stroke-width="0.42"/>
<line x1="350.22" y1="50.49" x2="350.22" y2="81.34" stroke="#20b0b0" stroke-width="0.9"/>
<line x1="350.82" y1="62.83" x2="350.82" y2="75.17" stroke="#d04040" stroke-width="0.9"/>
<line x1="349.72" y1="56.66" x2="349.72" y2="76.40" stroke="#d0a020" stroke-width="0.9"/>
</g>
<line x1="217.50" y1="6.50" x2="217.50" y2="118.80" stroke="#939393" stroke-width="1.0"/>
<line x1="217.00" y1="118.30" x2="360.20" y2="118.30" stroke="#939393" stroke-width="1.0"/>
<line x1="217.50" y1="118.30" x2="217.50" y2="116.70" stroke="#939393" stroke-width="0.8"/>
<line x1="245.98" y1="118.30" x2="245.98" y2="116.70" stroke="#939393" stroke-width="0.8"/>
<line x1="274.46" y1="118.30" x2="274.46" y2="116.70" stroke="#939393" stroke-width="0.8"/>
<line x1="302.94" y1="118.30" x2="302.94" y2="116.70" stroke="#939393" stroke-width="0.8"/>
<line x1="331.42" y1="118.30" x2="331.42" y2="116.70" stroke="#939393" stroke-width="0.8"/>
<line x1="359.90" y1="118.30" x2="359.90" y2="116.70" stroke="#939393" stroke-width="0.8"/>
<line x1="231.74" y1="118.30" x2="231.74" y2="116.70" stroke="#939393" stroke-width="0.8"/>
<line x1="260.22" y1="118.30" x2="260.22" y2="116.70" stroke="#939393" stroke-width="0.8"/>
<line x1="288.70" y1="118.30" x2="288.70" y2="116.70" stroke="#939393" stroke-width="0.8"/>
<line x1="317.18" y1="118.30" x2="317.18" y2="116.70" stroke="#939393" stroke-width="0.8"/>
<line x1="345.66" y1="118.30" x2="345.66" y2="116.70" stroke="#939393" stroke-width="0.8"/>
<line x1="217.50" y1="106.02" x2="219.10" y2="106.02" stroke="#939393" stroke-width="0.8"/>
<line x1="217.50" y1="81.34" x2="219.10" y2="81.34" stroke="#939393" stroke-width="0.8"/>
<line x1="217.50" y1="56.66" x2="219.10" y2="56.66" stroke="#939393" stroke-width="0.8"/>
<line x1="217.50" y1="31.98" x2="219.10" y2="31.98" stroke="#939393" stroke-width="0.8"/>
<line x1="217.50" y1="7.30" x2="219.10" y2="7.30" stroke="#939393" stroke-width="0.8"/>
<line x1="217.50" y1="118.36" x2="219.10" y2="118.36" stroke="#939393" stroke-width="0.8"/>
<line x1="217.50" y1="93.68" x2="219.10" y2="93.68" stroke="#939393" stroke-width="0.8"/>
<line x1="217.50" y1="69.00" x2="219.10" y2="69.00" stroke="#939393" stroke-width="0.8"/>
<line x1="217.50" y1="44.32" x2="219.10" y2="44.32" stroke="#939393" stroke-width="0.8"/>
<line x1="217.50" y1="19.64" x2="219.10" y2="19.64" stroke="#939393" stroke-width="0.8"/>
<text transform="translate(217.5,125.8) rotate(0) scale(0.9,1)" font-size="9.10" text-anchor="middle" dominant-baseline="central" fill="#222">100</text>
<text transform="translate(246.0,125.8) rotate(0) scale(0.9,1)" font-size="9.10" text-anchor="middle" dominant-baseline="central" fill="#222">300</text>
<text transform="translate(274.5,125.8) rotate(0) scale(0.9,1)" font-size="9.10" text-anchor="middle" dominant-baseline="central" fill="#222">500</text>
<text transform="translate(302.9,125.8) rotate(0) scale(0.9,1)" font-size="9.10" text-anchor="middle" dominant-baseline="central" fill="#222">700</text>
<text transform="translate(331.4,125.8) rotate(0) scale(0.9,1)" font-size="9.10" text-anchor="middle" dominant-baseline="central" fill="#222">900</text>
<text transform="translate(359.9,125.8) rotate(0) scale(0.9,1)" font-size="9.10" text-anchor="middle" dominant-baseline="central" fill="#222">1100</text>
<text transform="translate(215.5,105.4) rotate(0) scale(0.9,1)" font-size="9.10" text-anchor="end" dominant-baseline="central" fill="#222">−60</text>
<text transform="translate(215.5,80.7) rotate(0) scale(0.9,1)" font-size="9.10" text-anchor="end" dominant-baseline="central" fill="#222">−20</text>
<text transform="translate(215.5,56.1) rotate(0) scale(0.9,1)" font-size="9.10" text-anchor="end" dominant-baseline="central" fill="#222">20</text>
<text transform="translate(215.5,31.4) rotate(0) scale(0.9,1)" font-size="9.10" text-anchor="end" dominant-baseline="central" fill="#222">60</text>
<text transform="translate(215.5,6.7) rotate(0) scale(0.9,1)" font-size="9.10" text-anchor="end" dominant-baseline="central" fill="#222">100</text>
<text transform="translate(293.2,138.2) rotate(0) scale(0.89,1)" font-size="7.84" text-anchor="middle" dominant-baseline="central" fill="#222" style="stroke-width:0.22">wavelength/nm</text>
<text transform="translate(193.7,60.4) rotate(-90) scale(0.89,1)" font-size="8.40" text-anchor="middle" dominant-baseline="central" fill="#222" style="stroke-width:0.22">relative light intensity</text>
<text x="260.9" y="22.7" font-size="12" text-anchor="middle" dominant-baseline="central" fill="#222" font-weight="normal" style="stroke-width:0.2">B</text>
<polyline points="401.00,100.14 402.12,100.71 404.00,100.92 406.88,100.82 410.00,100.58 412.69,100.40 415.00,100.71 416.62,101.65 418.00,101.86 419.44,102.69 421.00,103.70 422.88,102.90 425.00,102.20 427.69,100.78 430.00,99.98 430.62,100.17 431.00,101.08 432.31,100.82 434.00,100.01 435.94,99.81 438.00,99.60 439.94,99.34 442.00,99.95 444.56,100.13 447.00,99.88 448.69,98.64 450.00,97.72 451.00,96.89 452.00,95.13 453.31,89.30 455.00,82.13 457.38,76.18 460.00,70.24 462.56,65.36 465.00,60.77 467.06,57.26 469.00,55.33 471.03,57.00 473.00,60.58 474.84,64.19 476.50,66.78 477.78,64.79 479.00,60.88 480.53,54.32 482.00,47.60 483.06,42.91 484.00,37.91 484.95,30.29 486.00,22.05 487.39,14.09 488.80,8.61 489.89,9.60 491.00,15.21 492.51,27.49 494.00,40.10 495.00,46.59 496.00,51.62 497.38,56.02 499.00,59.24 500.94,60.94 503.00,61.93 505.06,61.78 507.00,61.70 508.50,60.71 510.00,59.37 512.06,57.72 514.00,56.81 515.06,55.91 516.00,55.45 517.44,58.15 519.00,61.25 520.50,64.77 522.00,68.78 523.50,72.87 525.00,76.72 526.56,80.15 528.00,84.07 529.00,86.60 530.00,88.93 531.38,88.82 533.00,89.03 535.00,90.37 537.00,91.60 538.62,92.91 540.00,93.39 541.19,94.31 542.00,95.46" fill="none" stroke="#e8403f" stroke-width="1.05" stroke-linejoin="round"/>
<polyline points="401.00,96.08 402.69,96.29 405.00,96.92 407.56,98.79 410.00,99.69 411.62,98.56 413.00,97.83 414.44,96.80 416.00,97.41 417.88,98.70 420.00,98.89 422.44,96.15 425.00,93.02 427.50,92.04 430.00,92.09 432.50,93.62 435.00,95.61 437.50,96.97 440.00,97.51 442.50,98.89 445.00,100.00 447.69,98.62 450.00,96.82 451.12,95.38 452.00,92.02 453.44,86.81 455.00,81.56 456.44,81.00 458.00,80.77 459.94,77.52 462.00,75.10 464.06,73.37 466.00,71.60 467.50,70.78 469.00,70.27 471.00,72.47 473.00,74.87 474.50,77.91 476.00,79.01 478.00,75.13 480.00,69.90 481.56,64.66 483.00,58.42 484.46,50.30 486.00,43.76 487.77,39.45 489.70,37.34 491.89,39.37 494.00,43.63 495.58,49.93 497.00,56.19 498.44,58.81 500.00,60.69 502.00,63.22 504.00,64.07 505.56,64.82 507.00,64.21 508.38,61.73 510.00,59.25 512.44,57.75 515.00,56.36 517.00,57.89 519.00,61.24 521.50,65.93 524.00,70.44 526.12,75.51 528.00,80.05 529.50,84.32 531.00,86.84 532.88,88.29 535.00,88.50 537.62,91.18 540.00,93.64 541.31,93.64 542.00,92.46" fill="none" stroke="#3cb43c" stroke-width="1.05" stroke-linejoin="round"/>
<polyline points="401.00,92.45 402.72,93.14 405.00,95.03 407.22,97.87 409.50,101.18 411.78,101.15 414.00,99.72 416.03,99.83 418.00,99.88 420.00,97.63 422.00,95.28 424.00,92.81 426.00,91.07 428.06,90.55 430.00,91.06 431.56,91.52 433.00,92.86 434.44,93.93 436.00,95.13 437.88,97.12 440.00,99.38 442.44,99.39 445.00,99.15 447.69,99.05 450.00,97.34 451.12,95.46 452.00,91.94 453.44,86.72 455.00,81.38 456.44,79.19 458.00,79.22 459.88,78.07 462.00,77.05 464.56,77.47 467.00,77.71 468.56,76.25 470.00,74.75 472.00,75.14 474.00,76.98 475.56,79.02 477.00,80.98 478.44,78.65 480.00,76.36 482.00,72.61 484.00,68.78 485.54,64.56 487.00,60.26 488.67,55.07 490.30,51.06 491.67,52.31 493.00,53.90 494.48,56.03 496.00,58.15 497.44,58.47 499.00,58.92 500.94,61.66 503.00,63.80 505.06,65.47 507.00,65.78 508.44,62.96 510.00,58.48 512.44,56.09 515.00,54.57 517.06,56.12 519.00,59.53 521.00,63.60 523.00,66.70 525.06,69.28 527.00,71.18 528.62,73.75 530.00,76.79 531.00,79.66 532.00,83.22 533.44,84.05 535.00,83.59 536.56,85.93 538.00,87.59 539.06,86.72 540.00,84.93 541.12,84.30 542.00,84.25" fill="none" stroke="#2c44b8" stroke-width="1.05" stroke-linejoin="round"/>
<polyline points="401.00,100.45 402.19,99.71 404.00,99.16 406.56,100.07 409.00,100.61 410.19,99.75 411.00,97.32 411.94,94.55 413.00,93.30 414.44,92.69 416.00,92.83 417.62,93.22 419.00,94.13 419.62,94.95 420.00,95.87 420.38,97.53 421.00,98.85 422.44,97.60 424.00,96.05 425.00,94.08 426.00,91.89 427.50,90.67 429.00,90.51 430.00,91.24 431.00,92.59 432.44,94.74 434.00,95.89 435.50,95.33 437.00,94.11 438.44,94.88 440.00,96.39 442.06,98.09 444.00,99.68 445.00,100.30 446.00,100.67 448.00,99.37 450.00,97.27 451.06,95.22 452.00,92.18 453.31,86.65 455.00,81.93 457.38,78.19 460.00,76.34 462.56,77.15 465.00,77.79 467.06,76.75 469.00,75.26 471.19,75.76 473.00,77.87 473.62,80.21 474.00,82.88 474.81,82.26 476.00,81.05 477.94,79.63 480.00,78.05 481.56,76.78 483.00,75.06 484.44,72.23 486.00,70.38 488.00,68.73 490.00,68.08 491.50,67.34 493.00,66.09 495.00,67.98 497.00,69.94 498.56,70.20 500.00,69.01 501.50,70.23 503.00,72.51 504.44,72.58 506.00,73.01 508.00,71.01 510.00,68.30 511.56,64.49 513.00,60.47 514.44,58.44 516.00,57.18 517.94,59.93 520.00,63.21 522.00,67.46 524.00,71.35 526.06,76.47 528.00,80.59 529.56,82.12 531.00,83.84 532.50,85.01 534.00,86.20 535.50,87.51 537.00,89.41 538.56,91.23 540.00,92.60 541.19,91.95 542.00,90.50" fill="none" stroke="#1a1a1a" stroke-width="1.05" stroke-linejoin="round"/>
<line x1="401.00" y1="6.50" x2="401.00" y2="118.50" stroke="#939393" stroke-width="1.0"/>
<line x1="400.50" y1="118.00" x2="542.50" y2="118.00" stroke="#939393" stroke-width="1.0"/>
<line x1="401.00" y1="118.00" x2="401.00" y2="116.40" stroke="#939393" stroke-width="0.8"/>
<line x1="429.20" y1="118.00" x2="429.20" y2="116.40" stroke="#939393" stroke-width="0.8"/>
<line x1="457.40" y1="118.00" x2="457.40" y2="116.40" stroke="#939393" stroke-width="0.8"/>
<line x1="485.60" y1="118.00" x2="485.60" y2="116.40" stroke="#939393" stroke-width="0.8"/>
<line x1="513.80" y1="118.00" x2="513.80" y2="116.40" stroke="#939393" stroke-width="0.8"/>
<line x1="542.00" y1="118.00" x2="542.00" y2="116.40" stroke="#939393" stroke-width="0.8"/>
<line x1="415.10" y1="118.00" x2="415.10" y2="116.40" stroke="#939393" stroke-width="0.8"/>
<line x1="443.30" y1="118.00" x2="443.30" y2="116.40" stroke="#939393" stroke-width="0.8"/>
<line x1="471.50" y1="118.00" x2="471.50" y2="116.40" stroke="#939393" stroke-width="0.8"/>
<line x1="499.70" y1="118.00" x2="499.70" y2="116.40" stroke="#939393" stroke-width="0.8"/>
<line x1="527.90" y1="118.00" x2="527.90" y2="116.40" stroke="#939393" stroke-width="0.8"/>
<line x1="401.00" y1="118.40" x2="402.60" y2="118.40" stroke="#939393" stroke-width="0.8"/>
<line x1="401.00" y1="99.90" x2="402.60" y2="99.90" stroke="#939393" stroke-width="0.8"/>
<line x1="401.00" y1="81.40" x2="402.60" y2="81.40" stroke="#939393" stroke-width="0.8"/>
<line x1="401.00" y1="62.90" x2="402.60" y2="62.90" stroke="#939393" stroke-width="0.8"/>
<line x1="401.00" y1="44.40" x2="402.60" y2="44.40" stroke="#939393" stroke-width="0.8"/>
<line x1="401.00" y1="25.90" x2="402.60" y2="25.90" stroke="#939393" stroke-width="0.8"/>
<line x1="401.00" y1="7.40" x2="402.60" y2="7.40" stroke="#939393" stroke-width="0.8"/>
<line x1="401.00" y1="109.15" x2="402.60" y2="109.15" stroke="#939393" stroke-width="0.8"/>
<line x1="401.00" y1="90.65" x2="402.60" y2="90.65" stroke="#939393" stroke-width="0.8"/>
<line x1="401.00" y1="72.15" x2="402.60" y2="72.15" stroke="#939393" stroke-width="0.8"/>
<line x1="401.00" y1="53.65" x2="402.60" y2="53.65" stroke="#939393" stroke-width="0.8"/>
<line x1="401.00" y1="35.15" x2="402.60" y2="35.15" stroke="#939393" stroke-width="0.8"/>
<line x1="401.00" y1="16.65" x2="402.60" y2="16.65" stroke="#939393" stroke-width="0.8"/>
<text transform="translate(401.0,125.8) rotate(0) scale(0.9,1)" font-size="9.10" text-anchor="middle" dominant-baseline="central" fill="#222">400</text>
<text transform="translate(429.2,125.8) rotate(0) scale(0.9,1)" font-size="9.10" text-anchor="middle" dominant-baseline="central" fill="#222">500</text>
<text transform="translate(457.4,125.8) rotate(0) scale(0.9,1)" font-size="9.10" text-anchor="middle" dominant-baseline="central" fill="#222">600</text>
<text transform="translate(485.6,125.8) rotate(0) scale(0.9,1)" font-size="9.10" text-anchor="middle" dominant-baseline="central" fill="#222">700</text>
<text transform="translate(513.8,125.8) rotate(0) scale(0.9,1)" font-size="9.10" text-anchor="middle" dominant-baseline="central" fill="#222">800</text>
<text transform="translate(542.0,125.8) rotate(0) scale(0.9,1)" font-size="9.10" text-anchor="middle" dominant-baseline="central" fill="#222">900</text>
<text transform="translate(398.8,117.8) rotate(0) scale(0.9,1)" font-size="9.10" text-anchor="end" dominant-baseline="central" fill="#222">−10</text>
<text transform="translate(398.8,99.3) rotate(0) scale(0.9,1)" font-size="9.10" text-anchor="end" dominant-baseline="central" fill="#222">0</text>
<text transform="translate(398.8,80.8) rotate(0) scale(0.9,1)" font-size="9.10" text-anchor="end" dominant-baseline="central" fill="#222">10</text>
<text transform="translate(398.8,62.3) rotate(0) scale(0.9,1)" font-size="9.10" text-anchor="end" dominant-baseline="central" fill="#222">20</text>
<text transform="translate(398.8,43.8) rotate(0) scale(0.9,1)" font-size="9.10" text-anchor="end" dominant-baseline="central" fill="#222">30</text>
<text transform="translate(398.8,25.3) rotate(0) scale(0.9,1)" font-size="9.10" text-anchor="end" dominant-baseline="central" fill="#222">40</text>
<text transform="translate(398.8,6.8) rotate(0) scale(0.9,1)" font-size="9.10" text-anchor="end" dominant-baseline="central" fill="#222">50</text>
<text transform="translate(477.5,138.2) rotate(0) scale(0.89,1)" font-size="7.84" text-anchor="middle" dominant-baseline="central" fill="#222" style="stroke-width:0.22">wavelength/nm</text>
<text transform="translate(381.0,62.3) rotate(-90) scale(0.89,1)" font-size="8.51" text-anchor="middle" dominant-baseline="central" fill="#222" style="stroke-width:0.22">relative light intensity</text>
<text x="467.6" y="26.8" font-size="12" text-anchor="middle" dominant-baseline="central" fill="#222" font-weight="normal" style="stroke-width:0.2">C</text>
<line x1="410.70" y1="21.10" x2="423.80" y2="21.10" stroke="#e8403f" stroke-width="0.9"/>
<text transform="translate(431.7,22.0) rotate(0) scale(0.89,1)" font-size="7.28" text-anchor="start" dominant-baseline="central" fill="#222" style="stroke-width:0.1">healthy</text>
<line x1="410.70" y1="29.00" x2="423.80" y2="29.00" stroke="#3cb43c" stroke-width="0.9"/>
<text transform="translate(431.7,29.9) rotate(0) scale(0.89,1)" font-size="7.28" text-anchor="start" dominant-baseline="central" fill="#222" style="stroke-width:0.1">mild</text>
<line x1="410.70" y1="36.90" x2="423.80" y2="36.90" stroke="#2c44b8" stroke-width="0.9"/>
<text transform="translate(431.7,37.8) rotate(0) scale(0.89,1)" font-size="7.28" text-anchor="start" dominant-baseline="central" fill="#222" style="stroke-width:0.1">medium</text>
<line x1="410.70" y1="44.80" x2="423.80" y2="44.80" stroke="#1a1a1a" stroke-width="0.9"/>
<text transform="translate(431.7,45.7) rotate(0) scale(0.89,1)" font-size="7.28" text-anchor="start" dominant-baseline="central" fill="#222" style="stroke-width:0.1">severe</text>
<polyline points="50.80,181.90 62.10,240.40 73.80,223.00 84.80,226.20 96.70,242.30 108.20,240.60 119.90,245.10 130.90,256.10 142.90,261.30 154.20,263.50 165.80,266.20 177.10,266.80" fill="none" stroke="#2a2a2a" stroke-width="0.95" stroke-linejoin="round"/>
<circle cx="50.8" cy="181.9" r="1.5" fill="#1c3fa8"/>
<circle cx="62.1" cy="240.4" r="1.5" fill="#1c3fa8"/>
<circle cx="73.8" cy="223.0" r="1.5" fill="#1c3fa8"/>
<circle cx="84.8" cy="226.2" r="1.5" fill="#1c3fa8"/>
<circle cx="96.7" cy="242.3" r="1.5" fill="#1c3fa8"/>
<circle cx="108.2" cy="240.6" r="1.5" fill="#1c3fa8"/>
<circle cx="119.9" cy="245.1" r="1.5" fill="#1c3fa8"/>
<circle cx="130.9" cy="256.1" r="1.5" fill="#1c3fa8"/>
<circle cx="142.9" cy="261.3" r="1.5" fill="#1c3fa8"/>
<circle cx="154.2" cy="263.5" r="1.5" fill="#1c3fa8"/>
<circle cx="165.8" cy="266.2" r="1.5" fill="#1c3fa8"/>
<circle cx="177.1" cy="266.8" r="1.5" fill="#1c3fa8"/>
<line x1="39.00" y1="174.00" x2="39.00" y2="278.40" stroke="#939393" stroke-width="1.0"/>
<line x1="38.50" y1="277.90" x2="178.50" y2="277.90" stroke="#939393" stroke-width="1.0"/>
<line x1="39.00" y1="277.90" x2="39.00" y2="276.30" stroke="#939393" stroke-width="0.8"/>
<line x1="62.00" y1="277.90" x2="62.00" y2="276.30" stroke="#939393" stroke-width="0.8"/>
<line x1="85.00" y1="277.90" x2="85.00" y2="276.30" stroke="#939393" stroke-width="0.8"/>
<line x1="108.00" y1="277.90" x2="108.00" y2="276.30" stroke="#939393" stroke-width="0.8"/>
<line x1="131.00" y1="277.90" x2="131.00" y2="276.30" stroke="#939393" stroke-width="0.8"/>
<line x1="154.00" y1="277.90" x2="154.00" y2="276.30" stroke="#939393" stroke-width="0.8"/>
<line x1="177.00" y1="277.90" x2="177.00" y2="276.30" stroke="#939393" stroke-width="0.8"/>
<line x1="39.00" y1="277.88" x2="40.60" y2="277.88" stroke="#939393" stroke-width="0.8"/>
<line x1="39.00" y1="252.16" x2="40.60" y2="252.16" stroke="#939393" stroke-width="0.8"/>
<line x1="39.00" y1="226.44" x2="40.60" y2="226.44" stroke="#939393" stroke-width="0.8"/>
<line x1="39.00" y1="200.72" x2="40.60" y2="200.72" stroke="#939393" stroke-width="0.8"/>
<line x1="39.00" y1="175.00" x2="40.60" y2="175.00" stroke="#939393" stroke-width="0.8"/>
<line x1="39.00" y1="265.02" x2="40.60" y2="265.02" stroke="#939393" stroke-width="0.8"/>
<line x1="39.00" y1="239.30" x2="40.60" y2="239.30" stroke="#939393" stroke-width="0.8"/>
<line x1="39.00" y1="213.58" x2="40.60" y2="213.58" stroke="#939393" stroke-width="0.8"/>
<line x1="39.00" y1="187.86" x2="40.60" y2="187.86" stroke="#939393" stroke-width="0.8"/>
<text transform="translate(39.0,283.6) rotate(0) scale(0.9,1)" font-size="9.10" text-anchor="middle" dominant-baseline="central" fill="#222">0</text>
<text transform="translate(62.0,283.6) rotate(0) scale(0.9,1)" font-size="9.10" text-anchor="middle" dominant-baseline="central" fill="#222">2</text>
<text transform="translate(85.0,283.6) rotate(0) scale(0.9,1)" font-size="9.10" text-anchor="middle" dominant-baseline="central" fill="#222">4</text>
<text transform="translate(108.0,283.6) rotate(0) scale(0.9,1)" font-size="9.10" text-anchor="middle" dominant-baseline="central" fill="#222">6</text>
<text transform="translate(131.0,283.6) rotate(0) scale(0.9,1)" font-size="9.10" text-anchor="middle" dominant-baseline="central" fill="#222">8</text>
<text transform="translate(154.0,283.6) rotate(0) scale(0.9,1)" font-size="9.10" text-anchor="middle" dominant-baseline="central" fill="#222">10</text>
<text transform="translate(177.0,283.6) rotate(0) scale(0.9,1)" font-size="9.10" text-anchor="middle" dominant-baseline="central" fill="#222">12</text>
<text transform="translate(36.2,277.4) rotate(0) scale(0.9,1)" font-size="8.90" text-anchor="end" dominant-baseline="central" fill="#222">0.24</text>
<text transform="translate(36.2,251.7) rotate(0) scale(0.9,1)" font-size="8.90" text-anchor="end" dominant-baseline="central" fill="#222">0.25</text>
<text transform="translate(36.2,225.9) rotate(0) scale(0.9,1)" font-size="8.90" text-anchor="end" dominant-baseline="central" fill="#222">0.26</text>
<text transform="translate(36.2,200.2) rotate(0) scale(0.9,1)" font-size="8.90" text-anchor="end" dominant-baseline="central" fill="#222">0.27</text>
<text transform="translate(36.2,174.5) rotate(0) scale(0.9,1)" font-size="8.90" text-anchor="end" dominant-baseline="central" fill="#222">0.28</text>
<text transform="translate(108.0,295.4) rotate(0) scale(0.89,1)" font-size="8.18" text-anchor="middle" dominant-baseline="central" fill="#222" style="stroke-width:0.42">characteristic wavelength number</text>
<text transform="translate(107.0,308.2) rotate(0) scale(0.89,1)" font-size="8.18" text-anchor="middle" dominant-baseline="central" fill="#222" style="stroke-width:0.42">the number of characteristic wavelengths selected</text>
<text transform="translate(12.5,227.1) rotate(-90) scale(0.89,1)" font-size="7.73" text-anchor="middle" dominant-baseline="central" fill="#222" style="stroke-width:0.22">root-mean-square error</text>
<text x="77.8" y="190.7" font-size="12" text-anchor="middle" dominant-baseline="central" fill="#222" font-weight="normal" style="stroke-width:0.2">D</text>
<polyline points="228.10,261.00 230.80,262.10 234.20,263.80 236.90,262.70 239.70,263.20 244.10,262.40 247.00,260.50 249.60,258.60 253.50,258.80 256.80,261.90 259.00,260.40 263.40,261.00 266.00,262.80 269.50,264.50 272.30,262.90 273.90,258.20 277.20,255.50 281.70,247.20 284.20,243.40 288.00,239.50 291.50,237.70 294.00,240.00 296.50,245.00 298.50,248.50 300.00,246.00 301.60,239.00 304.00,220.00 306.50,200.00 309.00,186.00 311.20,181.70 314.00,187.00 317.00,202.00 320.00,214.50 323.00,221.00 326.50,223.70 330.00,221.50 334.00,218.00 338.20,221.50 340.00,228.00 342.00,234.00 344.80,240.10 347.00,245.00 349.50,250.00 352.40,250.50 355.50,254.30 358.50,253.80 362.20,253.40" fill="none" stroke="#2a2a2a" stroke-width="0.95" stroke-linejoin="round"/>
<circle cx="228.1" cy="261.0" r="1.5" fill="#1c3fa8"/>
<circle cx="244.1" cy="262.4" r="1.5" fill="#1c3fa8"/>
<circle cx="256.8" cy="261.9" r="1.5" fill="#1c3fa8"/>
<circle cx="272.3" cy="262.9" r="1.5" fill="#1c3fa8"/>
<circle cx="284.2" cy="243.4" r="1.5" fill="#1c3fa8"/>
<circle cx="291.5" cy="237.7" r="1.5" fill="#1c3fa8"/>
<circle cx="301.6" cy="239.0" r="1.5" fill="#1c3fa8"/>
<circle cx="311.2" cy="181.7" r="1.5" fill="#1c3fa8"/>
<circle cx="326.5" cy="223.7" r="1.5" fill="#1c3fa8"/>
<circle cx="338.2" cy="221.5" r="1.5" fill="#1c3fa8"/>
<circle cx="344.8" cy="240.1" r="1.5" fill="#1c3fa8"/>
<circle cx="362.2" cy="253.4" r="1.5" fill="#1c3fa8"/>
<line x1="225.50" y1="174.00" x2="225.50" y2="278.50" stroke="#939393" stroke-width="1.0"/>
<line x1="225.00" y1="278.00" x2="363.00" y2="278.00" stroke="#939393" stroke-width="1.0"/>
<line x1="225.50" y1="278.00" x2="225.50" y2="276.40" stroke="#939393" stroke-width="0.8"/>
<line x1="252.80" y1="278.00" x2="252.80" y2="276.40" stroke="#939393" stroke-width="0.8"/>
<line x1="280.10" y1="278.00" x2="280.10" y2="276.40" stroke="#939393" stroke-width="0.8"/>
<line x1="307.40" y1="278.00" x2="307.40" y2="276.40" stroke="#939393" stroke-width="0.8"/>
<line x1="334.70" y1="278.00" x2="334.70" y2="276.40" stroke="#939393" stroke-width="0.8"/>
<line x1="362.00" y1="278.00" x2="362.00" y2="276.40" stroke="#939393" stroke-width="0.8"/>
<line x1="239.15" y1="278.00" x2="239.15" y2="276.40" stroke="#939393" stroke-width="0.8"/>
<line x1="266.45" y1="278.00" x2="266.45" y2="276.40" stroke="#939393" stroke-width="0.8"/>
<line x1="293.75" y1="278.00" x2="293.75" y2="276.40" stroke="#939393" stroke-width="0.8"/>
<line x1="321.05" y1="278.00" x2="321.05" y2="276.40" stroke="#939393" stroke-width="0.8"/>
<line x1="348.35" y1="278.00" x2="348.35" y2="276.40" stroke="#939393" stroke-width="0.8"/>
<line x1="225.50" y1="278.30" x2="227.10" y2="278.30" stroke="#939393" stroke-width="0.8"/>
<line x1="225.50" y1="261.10" x2="227.10" y2="261.10" stroke="#939393" stroke-width="0.8"/>
<line x1="225.50" y1="243.90" x2="227.10" y2="243.90" stroke="#939393" stroke-width="0.8"/>
<line x1="225.50" y1="226.70" x2="227.10" y2="226.70" stroke="#939393" stroke-width="0.8"/>
<line x1="225.50" y1="209.50" x2="227.10" y2="209.50" stroke="#939393" stroke-width="0.8"/>
<line x1="225.50" y1="192.30" x2="227.10" y2="192.30" stroke="#939393" stroke-width="0.8"/>
<line x1="225.50" y1="175.10" x2="227.10" y2="175.10" stroke="#939393" stroke-width="0.8"/>
<line x1="225.50" y1="269.70" x2="227.10" y2="269.70" stroke="#939393" stroke-width="0.8"/>
<line x1="225.50" y1="252.50" x2="227.10" y2="252.50" stroke="#939393" stroke-width="0.8"/>
<line x1="225.50" y1="235.30" x2="227.10" y2="235.30" stroke="#939393" stroke-width="0.8"/>
<line x1="225.50" y1="218.10" x2="227.10" y2="218.10" stroke="#939393" stroke-width="0.8"/>
<line x1="225.50" y1="200.90" x2="227.10" y2="200.90" stroke="#939393" stroke-width="0.8"/>
<line x1="225.50" y1="183.70" x2="227.10" y2="183.70" stroke="#939393" stroke-width="0.8"/>
<text transform="translate(225.5,283.9) rotate(0) scale(0.9,1)" font-size="9.10" text-anchor="middle" dominant-baseline="central" fill="#222">400</text>
<text transform="translate(252.8,283.9) rotate(0) scale(0.9,1)" font-size="9.10" text-anchor="middle" dominant-baseline="central" fill="#222">500</text>
<text transform="translate(280.1,283.9) rotate(0) scale(0.9,1)" font-size="9.10" text-anchor="middle" dominant-baseline="central" fill="#222">600</text>
<text transform="translate(307.4,283.9) rotate(0) scale(0.9,1)" font-size="9.10" text-anchor="middle" dominant-baseline="central" fill="#222">700</text>
<text transform="translate(334.7,283.9) rotate(0) scale(0.9,1)" font-size="9.10" text-anchor="middle" dominant-baseline="central" fill="#222">800</text>
<text transform="translate(362.0,283.9) rotate(0) scale(0.9,1)" font-size="9.10" text-anchor="middle" dominant-baseline="central" fill="#222">900</text>
<text transform="translate(222.8,277.7) rotate(0) scale(0.9,1)" font-size="9.10" text-anchor="end" dominant-baseline="central" fill="#222">−10</text>
<text transform="translate(222.8,260.5) rotate(0) scale(0.9,1)" font-size="9.10" text-anchor="end" dominant-baseline="central" fill="#222">0</text>
<text transform="translate(222.8,243.3) rotate(0) scale(0.9,1)" font-size="9.10" text-anchor="end" dominant-baseline="central" fill="#222">10</text>
<text transform="translate(222.8,226.1) rotate(0) scale(0.9,1)" font-size="9.10" text-anchor="end" dominant-baseline="central" fill="#222">20</text>
<text transform="translate(222.8,208.9) rotate(0) scale(0.9,1)" font-size="9.10" text-anchor="end" dominant-baseline="central" fill="#222">30</text>
<text transform="translate(222.8,191.7) rotate(0) scale(0.9,1)" font-size="9.10" text-anchor="end" dominant-baseline="central" fill="#222">40</text>
<text transform="translate(222.8,174.5) rotate(0) scale(0.9,1)" font-size="9.10" text-anchor="end" dominant-baseline="central" fill="#222">50</text>
<text transform="translate(292.8,297.3) rotate(0) scale(0.89,1)" font-size="8.18" text-anchor="middle" dominant-baseline="central" fill="#222" style="stroke-width:0.42">wavelength/nm</text>
<text transform="translate(289.5,308.6) rotate(0) scale(0.89,1)" font-size="8.18" text-anchor="middle" dominant-baseline="central" fill="#222" style="stroke-width:0.42">wavelength selection profile</text>
<text transform="translate(205.2,229.3) rotate(-90) scale(0.89,1)" font-size="7.84" text-anchor="middle" dominant-baseline="central" fill="#222" style="stroke-width:0.22">relative light intensity</text>
<text x="261.9" y="190.7" font-size="12" text-anchor="middle" dominant-baseline="central" fill="#222" font-weight="normal" style="stroke-width:0.2">E</text>
<line x1="406.40" y1="267.91" x2="482.50" y2="244.00" stroke="#d2d2d2" stroke-width="0.6"/>
<line x1="482.50" y1="244.00" x2="539.20" y2="277.00" stroke="#d2d2d2" stroke-width="0.6"/>
<line x1="406.40" y1="257.96" x2="482.50" y2="234.05" stroke="#d2d2d2" stroke-width="0.6"/>
<line x1="482.50" y1="234.05" x2="539.20" y2="267.05" stroke="#d2d2d2" stroke-width="0.6"/>
<line x1="406.40" y1="248.01" x2="482.50" y2="224.10" stroke="#d2d2d2" stroke-width="0.6"/>
<line x1="482.50" y1="224.10" x2="539.20" y2="257.10" stroke="#d2d2d2" stroke-width="0.6"/>
<line x1="406.40" y1="238.06" x2="482.50" y2="214.15" stroke="#d2d2d2" stroke-width="0.6"/>
<line x1="482.50" y1="214.15" x2="539.20" y2="247.15" stroke="#d2d2d2" stroke-width="0.6"/>
<line x1="406.40" y1="228.11" x2="482.50" y2="204.20" stroke="#d2d2d2" stroke-width="0.6"/>
<line x1="482.50" y1="204.20" x2="539.20" y2="237.20" stroke="#d2d2d2" stroke-width="0.6"/>
<line x1="406.40" y1="218.16" x2="482.50" y2="194.25" stroke="#d2d2d2" stroke-width="0.6"/>
<line x1="482.50" y1="194.25" x2="539.20" y2="227.25" stroke="#d2d2d2" stroke-width="0.6"/>
<line x1="406.40" y1="208.21" x2="482.50" y2="184.30" stroke="#d2d2d2" stroke-width="0.6"/>
<line x1="482.50" y1="184.30" x2="539.20" y2="217.30" stroke="#d2d2d2" stroke-width="0.6"/>
<line x1="406.40" y1="198.26" x2="482.50" y2="174.35" stroke="#d2d2d2" stroke-width="0.6"/>
<line x1="482.50" y1="174.35" x2="539.20" y2="207.35" stroke="#d2d2d2" stroke-width="0.6"/>
<line x1="413.94" y1="267.53" x2="413.94" y2="195.89" stroke="#d2d2d2" stroke-width="0.6"/>
<line x1="431.08" y1="262.15" x2="431.08" y2="190.51" stroke="#d2d2d2" stroke-width="0.6"/>
<line x1="448.22" y1="256.76" x2="448.22" y2="185.12" stroke="#d2d2d2" stroke-width="0.6"/>
<line x1="465.36" y1="251.38" x2="465.36" y2="179.74" stroke="#d2d2d2" stroke-width="0.6"/>
<line x1="482.50" y1="245.99" x2="482.50" y2="174.35" stroke="#d2d2d2" stroke-width="0.6"/>
<line x1="501.40" y1="256.99" x2="501.40" y2="185.35" stroke="#d2d2d2" stroke-width="0.6"/>
<line x1="520.30" y1="267.99" x2="520.30" y2="196.35" stroke="#d2d2d2" stroke-width="0.6"/>
<line x1="539.20" y1="278.99" x2="539.20" y2="207.35" stroke="#d2d2d2" stroke-width="0.6"/>
<line x1="406.40" y1="269.90" x2="406.40" y2="198.26" stroke="#939393" stroke-width="0.8"/>
<line x1="413.94" y1="267.53" x2="470.64" y2="300.53" stroke="#d2d2d2" stroke-width="0.6"/>
<line x1="431.08" y1="262.15" x2="487.78" y2="295.15" stroke="#d2d2d2" stroke-width="0.6"/>
<line x1="448.22" y1="256.76" x2="504.92" y2="289.76" stroke="#d2d2d2" stroke-width="0.6"/>
<line x1="465.36" y1="251.38" x2="522.06" y2="284.38" stroke="#d2d2d2" stroke-width="0.6"/>
<line x1="482.50" y1="245.99" x2="539.20" y2="278.99" stroke="#d2d2d2" stroke-width="0.6"/>
<line x1="425.30" y1="280.90" x2="501.40" y2="256.99" stroke="#d2d2d2" stroke-width="0.6"/>
<line x1="444.20" y1="291.90" x2="520.30" y2="267.99" stroke="#d2d2d2" stroke-width="0.6"/>
<line x1="463.10" y1="302.90" x2="539.20" y2="278.99" stroke="#d2d2d2" stroke-width="0.6"/>
<line x1="406.40" y1="269.90" x2="482.50" y2="245.99" stroke="#d2d2d2" stroke-width="0.6"/>
<line x1="406.40" y1="269.90" x2="463.10" y2="302.90" stroke="#666" stroke-width="0.8"/>
<line x1="463.10" y1="302.90" x2="539.20" y2="278.99" stroke="#666" stroke-width="0.8"/>
<text transform="translate(403.8,266.6) rotate(0) scale(0.9,1)" font-size="7.20" text-anchor="end" dominant-baseline="central" fill="#222">30</text>
<text transform="translate(403.8,256.7) rotate(0) scale(0.9,1)" font-size="7.20" text-anchor="end" dominant-baseline="central" fill="#222">40</text>
<text transform="translate(403.8,246.7) rotate(0) scale(0.9,1)" font-size="7.20" text-anchor="end" dominant-baseline="central" fill="#222">50</text>
<text transform="translate(403.8,236.8) rotate(0) scale(0.9,1)" font-size="7.20" text-anchor="end" dominant-baseline="central" fill="#222">60</text>
<text transform="translate(403.8,226.8) rotate(0) scale(0.9,1)" font-size="7.20" text-anchor="end" dominant-baseline="central" fill="#222">70</text>
<text transform="translate(403.8,216.9) rotate(0) scale(0.9,1)" font-size="7.20" text-anchor="end" dominant-baseline="central" fill="#222">80</text>
<text transform="translate(403.8,206.9) rotate(0) scale(0.9,1)" font-size="7.20" text-anchor="end" dominant-baseline="central" fill="#222">90</text>
<text transform="translate(403.8,197.0) rotate(0) scale(0.9,1)" font-size="7.20" text-anchor="end" dominant-baseline="central" fill="#222">100</text>
<text transform="translate(402.4,274.8) rotate(0) scale(0.8,1)" font-size="8.60" text-anchor="middle" dominant-baseline="central" fill="#222">0</text>
<text transform="translate(419.0,285.9) rotate(0) scale(0.8,1)" font-size="8.60" text-anchor="middle" dominant-baseline="central" fill="#222">−10</text>
<text transform="translate(438.0,296.2) rotate(0) scale(0.8,1)" font-size="8.60" text-anchor="middle" dominant-baseline="central" fill="#222">−20</text>
<text transform="translate(456.9,306.4) rotate(0) scale(0.8,1)" font-size="8.60" text-anchor="middle" dominant-baseline="central" fill="#222">−30</text>
<text transform="translate(474.2,305.5) rotate(0) scale(0.8,1)" font-size="8.60" text-anchor="middle" dominant-baseline="central" fill="#222">0</text>
<text transform="translate(490.4,301.4) rotate(0) scale(0.8,1)" font-size="8.60" text-anchor="middle" dominant-baseline="central" fill="#222">5</text>
<text transform="translate(509.7,295.2) rotate(0) scale(0.8,1)" font-size="8.60" text-anchor="middle" dominant-baseline="central" fill="#222">10</text>
<text transform="translate(527.4,289.3) rotate(0) scale(0.8,1)" font-size="8.60" text-anchor="middle" dominant-baseline="central" fill="#222">15</text>
<text transform="translate(544.6,283.2) rotate(0) scale(0.8,1)" font-size="8.60" text-anchor="middle" dominant-baseline="central" fill="#222">20</text>
<g fill="#fff" stroke-width="0.32">
<path d="M481.5 205.7L483.8 205.0L482.5 204.2L480.2 204.9z" stroke="#0000a8" fill="#aab2e6"/>
<path d="M479.2 206.4L481.5 205.7L480.2 204.9L477.9 205.6z" stroke="#0000a8" fill="#aab2e6"/>
<path d="M482.8 206.4L485.1 205.7L483.8 205.0L481.5 205.7z" stroke="#0000a8" fill="#aab2e6"/>
<path d="M476.9 207.1L479.2 206.4L477.9 205.6L475.6 206.4z" stroke="#0000a8" fill="#aab2e6"/>
<path d="M480.5 207.1L482.8 206.4L481.5 205.7L479.2 206.4z" stroke="#0000a8" fill="#aab2e6"/>
<path d="M484.1 207.2L486.4 206.5L485.1 205.7L482.8 206.4z" stroke="#0000a8" fill="#aab2e6"/>
<path d="M474.6 207.8L476.9 207.1L475.6 206.4L473.3 207.1z" stroke="#0000a8" fill="#aab2e6"/>
<path d="M478.2 207.9L480.5 207.1L479.2 206.4L476.9 207.1z" stroke="#0000a8" fill="#aab2e6"/>
<path d="M481.8 207.9L484.1 207.2L482.8 206.4L480.5 207.1z" stroke="#0000a8" fill="#aab2e6"/>
<path d="M485.4 207.9L487.7 207.2L486.4 206.5L484.1 207.2z" stroke="#0000a8" fill="#aab2e6"/>
<path d="M472.3 208.6L474.6 207.8L473.3 207.1L471.0 207.8z" stroke="#0000a8" fill="#aab2e6"/>
<path d="M475.9 208.6L478.2 207.9L476.9 207.1L474.6 207.8z" stroke="#0000a8" fill="#aab2e6"/>
<path d="M479.4 208.6L481.8 207.9L480.5 207.1L478.2 207.9z" stroke="#0000a8" fill="#aab2e6"/>
<path d="M483.0 208.6L485.4 207.9L484.1 207.2L481.8 207.9z" stroke="#0000a8" fill="#aab2e6"/>
<path d="M486.6 208.7L488.9 208.0L487.7 207.2L485.4 207.9z" stroke="#0000a8" fill="#aab2e6"/>
<path d="M470.0 209.3L472.3 208.6L471.0 207.8L468.7 208.5z" stroke="#0000a8" fill="#aab2e6"/>
<path d="M473.5 209.3L475.9 208.6L474.6 207.8L472.3 208.6z" stroke="#0000a8" fill="#aab2e6"/>
<path d="M477.1 209.3L479.4 208.6L478.2 207.9L475.9 208.6z" stroke="#0000a8" fill="#aab2e6"/>
<path d="M480.7 209.4L483.0 208.6L481.8 207.9L479.4 208.6z" stroke="#0000a8" fill="#aab2e6"/>
<path d="M484.3 209.4L486.6 208.7L485.4 207.9L483.0 208.6z" stroke="#0000a8" fill="#aab2e6"/>
<path d="M487.9 206.5L490.2 205.8L488.9 208.0L486.6 208.7z" stroke="#0000e4"/>
<path d="M467.6 210.0L470.0 209.3L468.7 208.5L466.4 209.3z" stroke="#0000a8" fill="#aab2e6"/>
<path d="M471.2 210.0L473.5 209.3L472.3 208.6L470.0 209.3z" stroke="#0000a8" fill="#aab2e6"/>
<path d="M474.8 210.1L477.1 209.3L475.9 208.6L473.5 209.3z" stroke="#0000a8" fill="#aab2e6"/>
<path d="M478.4 210.1L480.7 209.4L479.4 208.6L477.1 209.3z" stroke="#0000a8" fill="#aab2e6"/>
<path d="M482.0 210.1L484.3 209.4L483.0 208.6L480.7 209.4z" stroke="#0000a8" fill="#aab2e6"/>
<path d="M485.6 207.2L487.9 206.5L486.6 208.7L484.3 209.4z" stroke="#0000e4"/>
<path d="M465.3 210.7L467.6 210.0L466.4 209.3L464.1 210.0z" stroke="#0000a8" fill="#aab2e6"/>
<path d="M468.9 210.8L471.2 210.0L470.0 209.3L467.6 210.0z" stroke="#0000a8" fill="#aab2e6"/>
<path d="M472.5 210.8L474.8 210.1L473.5 209.3L471.2 210.0z" stroke="#0000a8" fill="#aab2e6"/>
<path d="M476.1 210.8L478.4 210.1L477.1 209.3L474.8 210.1z" stroke="#0000a8" fill="#aab2e6"/>
<path d="M479.7 210.8L482.0 210.1L480.7 209.4L478.4 210.1z" stroke="#0000a8" fill="#aab2e6"/>
<path d="M483.3 207.9L485.6 207.2L484.3 209.4L482.0 210.1z" stroke="#0000e4"/>
<path d="M463.0 211.5L465.3 210.7L464.1 210.0L461.7 210.7z" stroke="#0000a8" fill="#aab2e6"/>
<path d="M466.6 211.5L468.9 210.8L467.6 210.0L465.3 210.7z" stroke="#0000a8" fill="#aab2e6"/>
<path d="M470.2 211.5L472.5 210.8L471.2 210.0L468.9 210.8z" stroke="#0000a8" fill="#aab2e6"/>
<path d="M473.8 211.5L476.1 210.8L474.8 210.1L472.5 210.8z" stroke="#0000a8" fill="#aab2e6"/>
<path d="M477.4 211.6L479.7 210.8L478.4 210.1L476.1 210.8z" stroke="#0000a8" fill="#aab2e6"/>
<path d="M489.2 199.4L491.5 198.7L490.2 205.8L487.9 206.5z" stroke="#3dffc1"/>
<path d="M481.0 208.6L483.3 207.9L482.0 210.1L479.7 210.8z" stroke="#0000e4"/>
<path d="M460.7 212.2L463.0 211.5L461.7 210.7L459.4 211.4z" stroke="#0000a8" fill="#aab2e6"/>
<path d="M464.3 212.2L466.6 211.5L465.3 210.7L463.0 211.5z" stroke="#0000a8" fill="#aab2e6"/>
<path d="M467.9 212.2L470.2 211.5L468.9 210.8L466.6 211.5z" stroke="#0000a8" fill="#aab2e6"/>
<path d="M471.5 212.3L473.8 211.5L472.5 210.8L470.2 211.5z" stroke="#0000a8" fill="#aab2e6"/>
<path d="M475.1 212.3L477.4 211.6L476.1 210.8L473.8 211.5z" stroke="#0000a8" fill="#aab2e6"/>
<path d="M486.9 200.2L489.2 199.4L487.9 206.5L485.6 207.2z" stroke="#3dffc1"/>
<path d="M478.7 209.4L481.0 208.6L479.7 210.8L477.4 211.6z" stroke="#0000e4"/>
<path d="M458.4 212.9L460.7 212.2L459.4 211.4L457.1 212.2z" stroke="#0000a8" fill="#aab2e6"/>
<path d="M462.0 212.9L464.3 212.2L463.0 211.5L460.7 212.2z" stroke="#0000a8" fill="#aab2e6"/>
<path d="M465.6 213.0L467.9 212.2L466.6 211.5L464.3 212.2z" stroke="#0000a8" fill="#aab2e6"/>
<path d="M469.2 213.0L471.5 212.3L470.2 211.5L467.9 212.2z" stroke="#0000a8" fill="#aab2e6"/>
<path d="M472.8 213.0L475.1 212.3L473.8 211.5L471.5 212.3z" stroke="#0000a8" fill="#aab2e6"/>
<path d="M484.6 200.9L486.9 200.2L485.6 207.2L483.3 207.9z" stroke="#3dffc1"/>
<path d="M476.4 210.1L478.7 209.4L477.4 211.6L475.1 212.3z" stroke="#0000e4"/>
<path d="M456.1 213.6L458.4 212.9L457.1 212.2L454.8 212.9z" stroke="#0000a8" fill="#aab2e6"/>
<path d="M459.7 213.7L462.0 212.9L460.7 212.2L458.4 212.9z" stroke="#0000a8" fill="#aab2e6"/>
<path d="M463.3 213.7L465.6 213.0L464.3 212.2L462.0 212.9z" stroke="#0000a8" fill="#aab2e6"/>
<path d="M466.9 213.7L469.2 213.0L467.9 212.2L465.6 213.0z" stroke="#0000a8" fill="#aab2e6"/>
<path d="M470.5 213.7L472.8 213.0L471.5 212.3L469.2 213.0z" stroke="#0000a8" fill="#aab2e6"/>
<path d="M482.3 201.6L484.6 200.9L483.3 207.9L481.0 208.6z" stroke="#3dffc1"/>
<path d="M474.1 210.8L476.4 210.1L475.1 212.3L472.8 213.0z" stroke="#0000e4"/>
<path d="M490.5 192.6L492.8 191.9L491.5 198.7L489.2 199.4z" stroke="#ff8500"/>
<path d="M453.8 214.4L456.1 213.6L454.8 212.9L452.5 213.6z" stroke="#0000a8" fill="#aab2e6"/>
<path d="M457.4 214.4L459.7 213.7L458.4 212.9L456.1 213.6z" stroke="#0000a8" fill="#aab2e6"/>
<path d="M461.0 214.4L463.3 213.7L462.0 212.9L459.7 213.7z" stroke="#0000a8" fill="#aab2e6"/>
<path d="M464.6 214.4L466.9 213.7L465.6 213.0L463.3 213.7z" stroke="#0000a8" fill="#aab2e6"/>
<path d="M468.2 214.5L470.5 213.7L469.2 213.0L466.9 213.7z" stroke="#0000a8" fill="#aab2e6"/>
<path d="M480.0 202.3L482.3 201.6L481.0 208.6L478.7 209.4z" stroke="#3dffc1"/>
<path d="M471.8 211.5L474.1 210.8L472.8 213.0L470.5 213.7z" stroke="#0000e4"/>
<path d="M488.2 193.3L490.5 192.6L489.2 199.4L486.9 200.2z" stroke="#ff8500"/>
<path d="M451.5 215.1L453.8 214.4L452.5 213.6L450.2 214.3z" stroke="#0000a8" fill="#aab2e6"/>
<path d="M455.1 215.1L457.4 214.4L456.1 213.6L453.8 214.4z" stroke="#0000a8" fill="#aab2e6"/>
<path d="M458.7 215.1L461.0 214.4L459.7 213.7L457.4 214.4z" stroke="#0000a8" fill="#aab2e6"/>
<path d="M462.3 215.2L464.6 214.4L463.3 213.7L461.0 214.4z" stroke="#0000a8" fill="#aab2e6"/>
<path d="M465.9 215.2L468.2 214.5L466.9 213.7L464.6 214.4z" stroke="#0000a8" fill="#aab2e6"/>
<path d="M477.7 203.1L480.0 202.3L478.7 209.4L476.4 210.1z" stroke="#3dffc1"/>
<path d="M469.5 212.3L471.8 211.5L470.5 213.7L468.2 214.5z" stroke="#0000e4"/>
<path d="M485.9 194.0L488.2 193.3L486.9 200.2L484.6 200.9z" stroke="#ff8500"/>
<path d="M449.2 215.8L451.5 215.1L450.2 214.3L447.9 215.1z" stroke="#0000a8" fill="#aab2e6"/>
<path d="M452.8 215.8L455.1 215.1L453.8 214.4L451.5 215.1z" stroke="#0000a8" fill="#aab2e6"/>
<path d="M456.4 215.9L458.7 215.1L457.4 214.4L455.1 215.1z" stroke="#0000a8" fill="#aab2e6"/>
<path d="M460.0 215.9L462.3 215.2L461.0 214.4L458.7 215.1z" stroke="#0000a8" fill="#aab2e6"/>
<path d="M463.6 215.9L465.9 215.2L464.6 214.4L462.3 215.2z" stroke="#0000a8" fill="#aab2e6"/>
<path d="M491.8 191.1L494.1 190.4L492.8 191.9L490.5 192.6z" stroke="#f90000"/>
<path d="M475.4 203.8L477.7 203.1L476.4 210.1L474.1 210.8z" stroke="#3dffc1"/>
<path d="M467.2 213.0L469.5 212.3L468.2 214.5L465.9 215.2z" stroke="#0000e4"/>
<path d="M483.6 194.8L485.9 194.0L484.6 200.9L482.3 201.6z" stroke="#ff8500"/>
<path d="M446.9 216.5L449.2 215.8L447.9 215.1L445.6 215.8z" stroke="#0000a8" fill="#aab2e6"/>
<path d="M450.5 216.6L452.8 215.8L451.5 215.1L449.2 215.8z" stroke="#0000a8" fill="#aab2e6"/>
<path d="M454.1 216.6L456.4 215.9L455.1 215.1L452.8 215.8z" stroke="#0000a8" fill="#aab2e6"/>
<path d="M457.7 216.6L460.0 215.9L458.7 215.1L456.4 215.9z" stroke="#0000a8" fill="#aab2e6"/>
<path d="M461.3 216.6L463.6 215.9L462.3 215.2L460.0 215.9z" stroke="#0000a8" fill="#aab2e6"/>
<path d="M489.5 191.9L491.8 191.1L490.5 192.6L488.2 193.3z" stroke="#f90000"/>
<path d="M473.1 204.5L475.4 203.8L474.1 210.8L471.8 211.5z" stroke="#3dffc1"/>
<path d="M493.1 193.7L495.4 193.0L494.1 190.4L491.8 191.1z" stroke="#f90000"/>
<path d="M464.9 213.7L467.2 213.0L465.9 215.2L463.6 215.9z" stroke="#0000e4"/>
<path d="M481.3 195.5L483.6 194.8L482.3 201.6L480.0 202.3z" stroke="#ff8500"/>
<path d="M494.4 196.1L496.7 195.4L495.4 193.0L493.1 193.7z" stroke="#fa0000"/>
<path d="M444.6 217.3L446.9 216.5L445.6 215.8L443.3 216.5z" stroke="#0000a8" fill="#aab2e6"/>
<path d="M448.2 217.3L450.5 216.6L449.2 215.8L446.9 216.5z" stroke="#0000a8" fill="#aab2e6"/>
<path d="M451.8 217.3L454.1 216.6L452.8 215.8L450.5 216.6z" stroke="#0000a8" fill="#aab2e6"/>
<path d="M455.4 217.3L457.7 216.6L456.4 215.9L454.1 216.6z" stroke="#0000a8" fill="#aab2e6"/>
<path d="M459.0 217.4L461.3 216.6L460.0 215.9L457.7 216.6z" stroke="#0000a8" fill="#aab2e6"/>
<path d="M487.2 192.6L489.5 191.9L488.2 193.3L485.9 194.0z" stroke="#f90000"/>
<path d="M470.8 205.2L473.1 204.5L471.8 211.5L469.5 212.3z" stroke="#3dffc1"/>
<path d="M490.8 194.4L493.1 193.7L491.8 191.1L489.5 191.9z" stroke="#f90000"/>
<path d="M495.7 198.3L498.0 197.6L496.7 195.4L494.4 196.1z" stroke="#ff3b00"/>
<path d="M462.6 214.4L464.9 213.7L463.6 215.9L461.3 216.6z" stroke="#0000e4"/>
<path d="M479.0 196.2L481.3 195.5L480.0 202.3L477.7 203.1z" stroke="#ff8500"/>
<path d="M492.1 196.8L494.4 196.1L493.1 193.7L490.8 194.4z" stroke="#f90000"/>
<path d="M442.3 218.0L444.6 217.3L443.3 216.5L441.0 217.2z" stroke="#0000a8" fill="#aab2e6"/>
<path d="M445.9 218.0L448.2 217.3L446.9 216.5L444.6 217.3z" stroke="#0000a8" fill="#aab2e6"/>
<path d="M496.9 200.3L499.3 199.7L498.0 197.6L495.7 198.3z" stroke="#ff7300"/>
<path d="M449.5 218.0L451.8 217.3L450.5 216.6L448.2 217.3z" stroke="#0000a8" fill="#aab2e6"/>
<path d="M453.1 218.1L455.4 217.3L454.1 216.6L451.8 217.3z" stroke="#0000a8" fill="#aab2e6"/>
<path d="M456.7 218.1L459.0 217.4L457.7 216.6L455.4 217.3z" stroke="#0000a8" fill="#aab2e6"/>
<path d="M484.9 193.3L487.2 192.6L485.9 194.0L483.6 194.8z" stroke="#f90000"/>
<path d="M468.5 206.0L470.8 205.2L469.5 212.3L467.2 213.0z" stroke="#3dffc1"/>
<path d="M488.5 195.1L490.8 194.4L489.5 191.9L487.2 192.6z" stroke="#f90000"/>
<path d="M493.4 199.0L495.7 198.3L494.4 196.1L492.1 196.8z" stroke="#ff3900"/>
<path d="M460.3 215.2L462.6 214.4L461.3 216.6L459.0 217.4z" stroke="#0000e4"/>
<path d="M498.2 202.0L500.5 201.4L499.3 199.7L496.9 200.3z" stroke="#ffa200"/>
<path d="M476.7 196.9L479.0 196.2L477.7 203.1L475.4 203.8z" stroke="#ff8500"/>
<path d="M489.8 197.5L492.1 196.8L490.8 194.4L488.5 195.1z" stroke="#f90000"/>
<path d="M440.0 218.7L442.3 218.0L441.0 217.2L438.7 218.0z" stroke="#0000a8" fill="#aab2e6"/>
<path d="M443.6 218.7L445.9 218.0L444.6 217.3L442.3 218.0z" stroke="#0000a8" fill="#aab2e6"/>
<path d="M494.6 200.9L496.9 200.3L495.7 198.3L493.4 199.0z" stroke="#ff7000"/>
<path d="M447.2 218.8L449.5 218.0L448.2 217.3L445.9 218.0z" stroke="#0000a8" fill="#aab2e6"/>
<path d="M450.8 218.8L453.1 218.1L451.8 217.3L449.5 218.0z" stroke="#0000a8" fill="#aab2e6"/>
<path d="M454.4 218.8L456.7 218.1L455.4 217.3L453.1 218.1z" stroke="#0000a8" fill="#aab2e6"/>
<path d="M482.6 194.0L484.9 193.3L483.6 194.8L481.3 195.5z" stroke="#f90000"/>
<path d="M466.2 206.7L468.5 206.0L467.2 213.0L464.9 213.7z" stroke="#3dffc1"/>
<path d="M486.2 195.8L488.5 195.1L487.2 192.6L484.9 193.3z" stroke="#f90000"/>
<path d="M491.0 199.6L493.4 199.0L492.1 196.8L489.8 197.5z" stroke="#ff3700"/>
<path d="M499.5 203.5L501.8 203.0L500.5 201.4L498.2 202.0z" stroke="#ffc700"/>
<path d="M457.9 215.9L460.3 215.2L459.0 217.4L456.7 218.1z" stroke="#0000e4"/>
<path d="M474.4 197.7L476.7 196.9L475.4 203.8L473.1 204.5z" stroke="#ff8500"/>
<path d="M495.9 202.6L498.2 202.0L496.9 200.3L494.6 200.9z" stroke="#ff9d00"/>
<path d="M487.5 198.1L489.8 197.5L488.5 195.1L486.2 195.8z" stroke="#f90000"/>
<path d="M437.7 219.4L440.0 218.7L438.7 218.0L436.4 218.7z" stroke="#0000a8" fill="#aab2e6"/>
<path d="M441.3 219.5L443.6 218.7L442.3 218.0L440.0 218.7z" stroke="#0000a8" fill="#aab2e6"/>
<path d="M444.9 219.5L447.2 218.8L445.9 218.0L443.6 218.7z" stroke="#0000a8" fill="#aab2e6"/>
<path d="M492.3 201.5L494.6 200.9L493.4 199.0L491.0 199.6z" stroke="#ff6c00"/>
<path d="M448.5 219.5L450.8 218.8L449.5 218.0L447.2 218.8z" stroke="#0000a8" fill="#aab2e6"/>
<path d="M452.0 219.5L454.4 218.8L453.1 218.1L450.8 218.8z" stroke="#0000a8" fill="#aab2e6"/>
<path d="M480.3 194.8L482.6 194.0L481.3 195.5L479.0 196.2z" stroke="#f90000"/>
<path d="M500.8 204.8L503.1 204.3L501.8 203.0L499.5 203.5z" stroke="#ffe200"/>
<path d="M463.8 207.4L466.2 206.7L464.9 213.7L462.6 214.4z" stroke="#3dffc1"/>
<path d="M483.9 196.5L486.2 195.8L484.9 193.3L482.6 194.0z" stroke="#f90000"/>
<path d="M488.7 200.3L491.0 199.6L489.8 197.5L487.5 198.1z" stroke="#ff3500"/>
<path d="M497.2 204.0L499.5 203.5L498.2 202.0L495.9 202.6z" stroke="#ffc000"/>
<path d="M455.6 216.6L457.9 215.9L456.7 218.1L454.4 218.8z" stroke="#0000e4"/>
<path d="M472.1 198.4L474.4 197.7L473.1 204.5L470.8 205.2z" stroke="#ff8500"/>
<path d="M493.6 203.1L495.9 202.6L494.6 200.9L492.3 201.5z" stroke="#ff9700"/>
<path d="M485.1 198.8L487.5 198.1L486.2 195.8L483.9 196.5z" stroke="#f90000"/>
<path d="M435.4 220.2L437.7 219.4L436.4 218.7L434.1 219.4z" stroke="#0000a8" fill="#aab2e6"/>
<path d="M439.0 220.2L441.3 219.5L440.0 218.7L437.7 219.4z" stroke="#0000a8" fill="#aab2e6"/>
<path d="M442.6 220.2L444.9 219.5L443.6 218.7L441.3 219.5z" stroke="#0000a8" fill="#aab2e6"/>
<path d="M446.1 220.2L448.5 219.5L447.2 218.8L444.9 219.5z" stroke="#0000a8" fill="#aab2e6"/>
<path d="M490.0 202.1L492.3 201.5L491.0 199.6L488.7 200.3z" stroke="#ff6800"/>
<path d="M449.7 220.3L452.0 219.5L450.8 218.8L448.5 219.5z" stroke="#0000a8" fill="#aab2e6"/>
<path d="M502.1 205.8L504.4 205.4L503.1 204.3L500.8 204.8z" stroke="#fff300"/>
<path d="M478.0 195.5L480.3 194.8L479.0 196.2L476.7 196.9z" stroke="#f90000"/>
<path d="M461.5 208.1L463.8 207.4L462.6 214.4L460.3 215.2z" stroke="#3dffc1"/>
<path d="M481.6 197.2L483.9 196.5L482.6 194.0L480.3 194.8z" stroke="#f90000"/>
<path d="M498.5 205.2L500.8 204.8L499.5 203.5L497.2 204.0z" stroke="#ffd800"/>
<path d="M486.4 200.9L488.7 200.3L487.5 198.1L485.1 198.8z" stroke="#ff3200"/>
<path d="M494.9 204.5L497.2 204.0L495.9 202.6L493.6 203.1z" stroke="#ffb800"/>
<path d="M453.3 217.3L455.6 216.6L454.4 218.8L452.0 219.5z" stroke="#0000e4"/>
<path d="M469.7 199.1L472.1 198.4L470.8 205.2L468.5 206.0z" stroke="#ff8500"/>
<path d="M491.3 203.7L493.6 203.1L492.3 201.5L490.0 202.1z" stroke="#ff9100"/>
<path d="M482.8 199.5L485.1 198.8L483.9 196.5L481.6 197.2z" stroke="#f90000"/>
<path d="M433.1 220.9L435.4 220.2L434.1 219.4L431.8 220.1z" stroke="#0000a8" fill="#aab2e6"/>
<path d="M436.7 220.9L439.0 220.2L437.7 219.4L435.4 220.2z" stroke="#0000a8" fill="#aab2e6"/>
<path d="M440.2 220.9L442.6 220.2L441.3 219.5L439.0 220.2z" stroke="#0000a8" fill="#aab2e6"/>
<path d="M443.8 221.0L446.1 220.2L444.9 219.5L442.6 220.2z" stroke="#0000a8" fill="#aab2e6"/>
<path d="M447.4 221.0L449.7 220.3L448.5 219.5L446.1 220.2z" stroke="#0000a8" fill="#aab2e6"/>
<path d="M487.7 202.7L490.0 202.1L488.7 200.3L486.4 200.9z" stroke="#ff6400"/>
<path d="M503.4 206.6L505.7 206.3L504.4 205.4L502.1 205.8z" stroke="#fffb00"/>
<path d="M475.7 196.2L478.0 195.5L476.7 196.9L474.4 197.7z" stroke="#f90000"/>
<path d="M499.8 206.2L502.1 205.8L500.8 204.8L498.5 205.2z" stroke="#ffe600"/>
<path d="M459.2 208.9L461.5 208.1L460.3 215.2L457.9 215.9z" stroke="#3dffc1"/>
<path d="M479.2 197.9L481.6 197.2L480.3 194.8L478.0 195.5z" stroke="#f90000"/>
<path d="M496.2 205.6L498.5 205.2L497.2 204.0L494.9 204.5z" stroke="#ffcd00"/>
<path d="M484.1 201.6L486.4 200.9L485.1 198.8L482.8 199.5z" stroke="#ff3000"/>
<path d="M451.0 218.1L453.3 217.3L452.0 219.5L449.7 220.3z" stroke="#0000e4"/>
<path d="M492.6 205.0L494.9 204.5L493.6 203.1L491.3 203.7z" stroke="#ffaf00"/>
<path d="M467.4 199.8L469.7 199.1L468.5 206.0L466.2 206.7z" stroke="#ff8500"/>
<path d="M489.0 204.2L491.3 203.7L490.0 202.1L487.7 202.7z" stroke="#ff8b00"/>
<path d="M480.5 200.2L482.8 199.5L481.6 197.2L479.2 197.9z" stroke="#f90000"/>
<path d="M430.7 221.6L433.1 220.9L431.8 220.1L429.5 220.9z" stroke="#0000a8" fill="#aab2e6"/>
<path d="M434.3 221.6L436.7 220.9L435.4 220.2L433.1 220.9z" stroke="#0000a8" fill="#aab2e6"/>
<path d="M437.9 221.7L440.2 220.9L439.0 220.2L436.7 220.9z" stroke="#0000a8" fill="#aab2e6"/>
<path d="M441.5 221.7L443.8 221.0L442.6 220.2L440.2 220.9z" stroke="#0000a8" fill="#aab2e6"/>
<path d="M445.1 221.7L447.4 221.0L446.1 220.2L443.8 221.0z" stroke="#0000a8" fill="#aab2e6"/>
<path d="M485.4 203.3L487.7 202.7L486.4 200.9L484.1 201.6z" stroke="#ff6000"/>
<path d="M504.7 207.2L507.0 206.9L505.7 206.3L503.4 206.6z" stroke="#fffa00"/>
<path d="M473.3 196.9L475.7 196.2L474.4 197.7L472.1 198.4z" stroke="#f90000"/>
<path d="M501.1 206.9L503.4 206.6L502.1 205.8L499.8 206.2z" stroke="#ffeb00"/>
<path d="M456.9 209.6L459.2 208.9L457.9 215.9L455.6 216.6z" stroke="#3dffc1"/>
<path d="M476.9 198.7L479.2 197.9L478.0 195.5L475.7 196.2z" stroke="#f90000"/>
<path d="M497.5 206.5L499.8 206.2L498.5 205.2L496.2 205.6z" stroke="#ffd900"/>
<path d="M481.8 202.2L484.1 201.6L482.8 199.5L480.5 200.2z" stroke="#ff2e00"/>
<path d="M493.9 206.0L496.2 205.6L494.9 204.5L492.6 205.0z" stroke="#ffc200"/>
<path d="M448.7 218.8L451.0 218.1L449.7 220.3L447.4 221.0z" stroke="#0000e4"/>
<path d="M465.1 200.5L467.4 199.8L466.2 206.7L463.8 207.4z" stroke="#ff8500"/>
<path d="M490.3 205.5L492.6 205.0L491.3 203.7L489.0 204.2z" stroke="#ffa600"/>
<path d="M478.2 200.9L480.5 200.2L479.2 197.9L476.9 198.7z" stroke="#f90000"/>
<path d="M486.7 204.8L489.0 204.2L487.7 202.7L485.4 203.3z" stroke="#ff8500"/>
<path d="M428.4 222.3L430.7 221.6L429.5 220.9L427.2 221.6z" stroke="#0000a8" fill="#aab2e6"/>
<path d="M432.0 222.4L434.3 221.6L433.1 220.9L430.7 221.6z" stroke="#0000a8" fill="#aab2e6"/>
<path d="M435.6 222.4L437.9 221.7L436.7 220.9L434.3 221.6z" stroke="#0000a8" fill="#aab2e6"/>
<path d="M439.2 222.4L441.5 221.7L440.2 220.9L437.9 221.7z" stroke="#0000a8" fill="#aab2e6"/>
<path d="M442.8 222.4L445.1 221.7L443.8 221.0L441.5 221.7z" stroke="#0000a8" fill="#aab2e6"/>
<path d="M483.1 203.9L485.4 203.3L484.1 201.6L481.8 202.2z" stroke="#ff5d00"/>
<path d="M471.0 197.7L473.3 196.9L472.1 198.4L469.7 199.1z" stroke="#f90000"/>
<path d="M454.6 210.3L456.9 209.6L455.6 216.6L453.3 217.3z" stroke="#3dffc1"/>
<path d="M506.0 207.6L508.3 207.4L507.0 206.9L504.7 207.2z" stroke="#fff200"/>
<path d="M502.4 207.4L504.7 207.2L503.4 206.6L501.1 206.9z" stroke="#ffe800"/>
<path d="M474.6 199.4L476.9 198.7L475.7 196.2L473.3 196.9z" stroke="#f90000"/>
<path d="M498.8 207.2L501.1 206.9L499.8 206.2L497.5 206.5z" stroke="#ffdb00"/>
<path d="M479.5 202.9L481.8 202.2L480.5 200.2L478.2 200.9z" stroke="#ff2d00"/>
<path d="M495.2 206.8L497.5 206.5L496.2 205.6L493.9 206.0z" stroke="#ffca00"/>
<path d="M446.4 219.5L448.7 218.8L447.4 221.0L445.1 221.7z" stroke="#0000e4"/>
<path d="M491.6 206.4L493.9 206.0L492.6 205.0L490.3 205.5z" stroke="#ffb600"/>
<path d="M462.8 201.3L465.1 200.5L463.8 207.4L461.5 208.1z" stroke="#ff8500"/>
<path d="M488.0 205.9L490.3 205.5L489.0 204.2L486.7 204.8z" stroke="#ff9d00"/>
<path d="M475.9 201.7L478.2 200.9L476.9 198.7L474.6 199.4z" stroke="#f90000"/>
<path d="M484.4 205.3L486.7 204.8L485.4 203.3L483.1 203.9z" stroke="#ff7f00"/>
<path d="M426.1 223.1L428.4 222.3L427.2 221.6L424.8 222.3z" stroke="#0000a8" fill="#aab2e6"/>
<path d="M429.7 223.1L432.0 222.4L430.7 221.6L428.4 222.3z" stroke="#0000a8" fill="#aab2e6"/>
<path d="M433.3 223.1L435.6 222.4L434.3 221.6L432.0 222.4z" stroke="#0000a8" fill="#aab2e6"/>
<path d="M436.9 223.1L439.2 222.4L437.9 221.7L435.6 222.4z" stroke="#0000a8" fill="#aab2e6"/>
<path d="M440.5 223.2L442.8 222.4L441.5 221.7L439.2 222.4z" stroke="#0000a8" fill="#aab2e6"/>
<path d="M480.8 204.6L483.1 203.9L481.8 202.2L479.5 202.9z" stroke="#ff5a00"/>
<path d="M468.7 198.4L471.0 197.7L469.7 199.1L467.4 199.8z" stroke="#f90000"/>
<path d="M452.3 211.0L454.6 210.3L453.3 217.3L451.0 218.1z" stroke="#3dffc1"/>
<path d="M472.3 200.1L474.6 199.4L473.3 196.9L471.0 197.7z" stroke="#f90000"/>
<path d="M507.3 208.0L509.6 207.8L508.3 207.4L506.0 207.6z" stroke="#ffe400"/>
<path d="M503.7 207.8L506.0 207.6L504.7 207.2L502.4 207.4z" stroke="#ffdd00"/>
<path d="M500.1 207.6L502.4 207.4L501.1 206.9L498.8 207.2z" stroke="#ffd400"/>
<path d="M477.2 203.6L479.5 202.9L478.2 200.9L475.9 201.7z" stroke="#ff2c00"/>
<path d="M496.5 207.4L498.8 207.2L497.5 206.5L495.2 206.8z" stroke="#ffc900"/>
<path d="M444.1 220.2L446.4 219.5L445.1 221.7L442.8 222.4z" stroke="#0000e4"/>
<path d="M492.9 207.1L495.2 206.8L493.9 206.0L491.6 206.4z" stroke="#ffbb00"/>
<path d="M460.5 202.0L462.8 201.3L461.5 208.1L459.2 208.9z" stroke="#ff8500"/>
<path d="M489.3 206.8L491.6 206.4L490.3 205.5L488.0 205.9z" stroke="#ffaa00"/>
<path d="M485.7 206.4L488.0 205.9L486.7 204.8L484.4 205.3z" stroke="#ff9500"/>
<path d="M473.6 202.4L475.9 201.7L474.6 199.4L472.3 200.1z" stroke="#f90000"/>
<path d="M423.8 223.8L426.1 223.1L424.8 222.3L422.5 223.0z" stroke="#0000a8" fill="#aab2e6"/>
<path d="M482.1 205.9L484.4 205.3L483.1 203.9L480.8 204.6z" stroke="#ff7a00"/>
<path d="M427.4 223.8L429.7 223.1L428.4 222.3L426.1 223.1z" stroke="#0000a8" fill="#aab2e6"/>
<path d="M431.0 223.8L433.3 223.1L432.0 222.4L429.7 223.1z" stroke="#0000a8" fill="#aab2e6"/>
<path d="M434.6 223.9L436.9 223.1L435.6 222.4L433.3 223.1z" stroke="#0000a8" fill="#aab2e6"/>
<path d="M438.2 223.9L440.5 223.2L439.2 222.4L436.9 223.1z" stroke="#0000a8" fill="#aab2e6"/>
<path d="M478.5 205.3L480.8 204.6L479.5 202.9L477.2 203.6z" stroke="#ff5800"/>
<path d="M466.4 199.1L468.7 198.4L467.4 199.8L465.1 200.5z" stroke="#f90000"/>
<path d="M450.0 211.8L452.3 211.0L451.0 218.1L448.7 218.8z" stroke="#3dffc1"/>
<path d="M470.0 200.9L472.3 200.1L471.0 197.7L468.7 198.4z" stroke="#f90000"/>
<path d="M474.9 204.3L477.2 203.6L475.9 201.7L473.6 202.4z" stroke="#ff2c00"/>
<path d="M441.8 221.0L444.1 220.2L442.8 222.4L440.5 223.2z" stroke="#0000e4"/>
<path d="M505.0 208.0L507.3 208.0L506.0 207.6L503.7 207.8z" stroke="#ffcd00"/>
<path d="M508.5 208.1L510.9 208.1L509.6 207.8L507.3 208.0z" stroke="#ffd100"/>
<path d="M501.4 207.9L503.7 207.8L502.4 207.4L500.1 207.6z" stroke="#ffc700"/>
<path d="M497.8 207.8L500.1 207.6L498.8 207.2L496.5 207.4z" stroke="#ffc000"/>
<path d="M494.2 207.6L496.5 207.4L495.2 206.8L492.9 207.1z" stroke="#ffb700"/>
<path d="M458.2 202.7L460.5 202.0L459.2 208.9L456.9 209.6z" stroke="#ff8500"/>
<path d="M490.6 207.5L492.9 207.1L491.6 206.4L489.3 206.8z" stroke="#ffac00"/>
<path d="M487.0 207.3L489.3 206.8L488.0 205.9L485.7 206.4z" stroke="#ff9f00"/>
<path d="M471.3 203.2L473.6 202.4L472.3 200.1L470.0 200.9z" stroke="#f90000"/>
<path d="M483.4 207.0L485.7 206.4L484.4 205.3L482.1 205.9z" stroke="#ff8d00"/>
<path d="M421.5 224.5L423.8 223.8L422.5 223.0L420.2 223.8z" stroke="#0000a8" fill="#aab2e6"/>
<path d="M425.1 224.5L427.4 223.8L426.1 223.1L423.8 223.8z" stroke="#0000a8" fill="#aab2e6"/>
<path d="M479.8 206.5L482.1 205.9L480.8 204.6L478.5 205.3z" stroke="#ff7600"/>
<path d="M428.7 224.6L431.0 223.8L429.7 223.1L427.4 223.8z" stroke="#0000a8" fill="#aab2e6"/>
<path d="M432.3 224.6L434.6 223.9L433.3 223.1L431.0 223.8z" stroke="#0000a8" fill="#aab2e6"/>
<path d="M435.9 224.6L438.2 223.9L436.9 223.1L434.6 223.9z" stroke="#0000a8" fill="#aab2e6"/>
<path d="M476.2 205.9L478.5 205.3L477.2 203.6L474.9 204.3z" stroke="#ff5700"/>
<path d="M464.1 199.9L466.4 199.1L465.1 200.5L462.8 201.3z" stroke="#f90000"/>
<path d="M447.7 212.5L450.0 211.8L448.7 218.8L446.4 219.5z" stroke="#3dffc1"/>
<path d="M467.7 201.7L470.0 200.9L468.7 198.4L466.4 199.1z" stroke="#f90000"/>
<path d="M472.6 205.1L474.9 204.3L473.6 202.4L471.3 203.2z" stroke="#ff2d00"/>
<path d="M439.5 221.7L441.8 221.0L440.5 223.2L438.2 223.9z" stroke="#0000e4"/>
<path d="M455.9 203.4L458.2 202.7L456.9 209.6L454.6 210.3z" stroke="#ff8500"/>
<path d="M499.0 208.0L501.4 207.9L500.1 207.6L497.8 207.8z" stroke="#ffaf00"/>
<path d="M495.5 207.9L497.8 207.8L496.5 207.4L494.2 207.6z" stroke="#ffaa00"/>
<path d="M502.6 208.1L505.0 208.0L503.7 207.8L501.4 207.9z" stroke="#ffb300"/>
<path d="M491.9 207.9L494.2 207.6L492.9 207.1L490.6 207.5z" stroke="#ffa500"/>
<path d="M506.2 208.2L508.5 208.1L507.3 208.0L505.0 208.0z" stroke="#ffb700"/>
<path d="M488.3 207.8L490.6 207.5L489.3 206.8L487.0 207.3z" stroke="#ff9e00"/>
<path d="M509.8 208.3L512.1 208.2L510.9 208.1L508.5 208.1z" stroke="#ffb900"/>
<path d="M469.0 203.9L471.3 203.2L470.0 200.9L467.7 201.7z" stroke="#f90000"/>
<path d="M484.7 207.7L487.0 207.3L485.7 206.4L483.4 207.0z" stroke="#ff9400"/>
<path d="M481.1 207.5L483.4 207.0L482.1 205.9L479.8 206.5z" stroke="#ff8700"/>
<path d="M419.2 225.2L421.5 224.5L420.2 223.8L417.9 224.5z" stroke="#0000a8" fill="#aab2e6"/>
<path d="M422.8 225.3L425.1 224.5L423.8 223.8L421.5 224.5z" stroke="#0000a8" fill="#aab2e6"/>
<path d="M426.4 225.3L428.7 224.6L427.4 223.8L425.1 224.5z" stroke="#0000a8" fill="#aab2e6"/>
<path d="M477.5 207.2L479.8 206.5L478.5 205.3L476.2 205.9z" stroke="#ff7300"/>
<path d="M430.0 225.3L432.3 224.6L431.0 223.8L428.7 224.6z" stroke="#0000a8" fill="#aab2e6"/>
<path d="M433.6 225.3L435.9 224.6L434.6 223.9L432.3 224.6z" stroke="#0000a8" fill="#aab2e6"/>
<path d="M473.9 206.6L476.2 205.9L474.9 204.3L472.6 205.1z" stroke="#ff5600"/>
<path d="M461.8 200.6L464.1 199.9L462.8 201.3L460.5 202.0z" stroke="#f90000"/>
<path d="M445.4 213.2L447.7 212.5L446.4 219.5L444.1 220.2z" stroke="#3dffc1"/>
<path d="M465.4 202.4L467.7 201.7L466.4 199.1L464.1 199.9z" stroke="#f90000"/>
<path d="M470.3 205.8L472.6 205.1L471.3 203.2L469.0 203.9z" stroke="#ff2e00"/>
<path d="M437.2 222.4L439.5 221.7L438.2 223.9L435.9 224.6z" stroke="#0000e4"/>
<path d="M453.6 204.2L455.9 203.4L454.6 210.3L452.3 211.0z" stroke="#ff8500"/>
<path d="M466.7 204.7L469.0 203.9L467.7 201.7L465.4 202.4z" stroke="#f90000"/>
<path d="M486.0 208.2L488.3 207.8L487.0 207.3L484.7 207.7z" stroke="#ff9000"/>
<path d="M482.4 208.2L484.7 207.7L483.4 207.0L481.1 207.5z" stroke="#ff8b00"/>
<path d="M489.6 208.1L491.9 207.9L490.6 207.5L488.3 207.8z" stroke="#ff9300"/>
<path d="M416.9 226.0L419.2 225.2L417.9 224.5L415.6 225.2z" stroke="#0000a8" fill="#aab2e6"/>
<path d="M493.1 208.1L495.5 207.9L494.2 207.6L491.9 207.9z" stroke="#ff9500"/>
<path d="M478.8 208.1L481.1 207.5L479.8 206.5L477.5 207.2z" stroke="#ff8100"/>
<path d="M496.7 208.1L499.0 208.0L497.8 207.8L495.5 207.9z" stroke="#ff9600"/>
<path d="M420.5 226.0L422.8 225.3L421.5 224.5L419.2 225.2z" stroke="#0000a8" fill="#aab2e6"/>
<path d="M500.3 208.1L502.6 208.1L501.4 207.9L499.0 208.0z" stroke="#ff9800"/>
<path d="M503.9 208.2L506.2 208.2L505.0 208.0L502.6 208.1z" stroke="#ff9b00"/>
<path d="M424.1 226.0L426.4 225.3L425.1 224.5L422.8 225.3z" stroke="#0000a8" fill="#aab2e6"/>
<path d="M507.5 208.2L509.8 208.3L508.5 208.1L506.2 208.2z" stroke="#ff9d00"/>
<path d="M475.2 207.8L477.5 207.2L476.2 205.9L473.9 206.6z" stroke="#ff7100"/>
<path d="M427.7 226.0L430.0 225.3L428.7 224.6L426.4 225.3z" stroke="#0000a8" fill="#aab2e6"/>
<path d="M511.1 208.3L513.4 208.3L512.1 208.2L509.8 208.3z" stroke="#ff9f00"/>
<path d="M431.3 226.1L433.6 225.3L432.3 224.6L430.0 225.3z" stroke="#0000a8" fill="#aab2e6"/>
<path d="M471.6 207.4L473.9 206.6L472.6 205.1L470.3 205.8z" stroke="#ff5600"/>
<path d="M459.5 201.3L461.8 200.6L460.5 202.0L458.2 202.7z" stroke="#f90000"/>
<path d="M443.1 213.9L445.4 213.2L444.1 220.2L441.8 221.0z" stroke="#3dffc1"/>
<path d="M463.1 203.2L465.4 202.4L464.1 199.9L461.8 200.6z" stroke="#f90000"/>
<path d="M468.0 206.6L470.3 205.8L469.0 203.9L466.7 204.7z" stroke="#ff3000"/>
<path d="M434.9 223.1L437.2 222.4L435.9 224.6L433.6 225.3z" stroke="#0000e4"/>
<path d="M451.3 204.9L453.6 204.2L452.3 211.0L450.0 211.8z" stroke="#ff8500"/>
<path d="M464.4 205.5L466.7 204.7L465.4 202.4L463.1 203.2z" stroke="#f90000"/>
<path d="M414.6 226.7L416.9 226.0L415.6 225.2L413.3 225.9z" stroke="#0000a8" fill="#aab2e6"/>
<path d="M480.1 208.7L482.4 208.2L481.1 207.5L478.8 208.1z" stroke="#ff8300"/>
<path d="M418.2 226.7L420.5 226.0L419.2 225.2L416.9 226.0z" stroke="#0000a8" fill="#aab2e6"/>
<path d="M476.5 208.7L478.8 208.1L477.5 207.2L475.2 207.8z" stroke="#ff7d00"/>
<path d="M483.7 208.6L486.0 208.2L484.7 207.7L482.4 208.2z" stroke="#ff8400"/>
<path d="M421.8 226.7L424.1 226.0L422.8 225.3L420.5 226.0z" stroke="#0000a8" fill="#aab2e6"/>
<path d="M425.4 226.8L427.7 226.0L426.4 225.3L424.1 226.0z" stroke="#0000a8" fill="#aab2e6"/>
<path d="M472.9 208.5L475.2 207.8L473.9 206.6L471.6 207.4z" stroke="#ff6f00"/>
<path d="M487.2 208.4L489.6 208.1L488.3 207.8L486.0 208.2z" stroke="#ff8200"/>
<path d="M429.0 226.8L431.3 226.1L430.0 225.3L427.7 226.0z" stroke="#0000a8" fill="#aab2e6"/>
<path d="M490.8 208.3L493.1 208.1L491.9 207.9L489.6 208.1z" stroke="#ff8000"/>
<path d="M494.4 208.2L496.7 208.1L495.5 207.9L493.1 208.1z" stroke="#ff7e00"/>
<path d="M469.3 208.1L471.6 207.4L470.3 205.8L468.0 206.6z" stroke="#ff5700"/>
<path d="M498.0 208.1L500.3 208.1L499.0 208.0L496.7 208.1z" stroke="#ff7d00"/>
<path d="M457.2 202.1L459.5 201.3L458.2 202.7L455.9 203.4z" stroke="#f90000"/>
<path d="M501.6 208.1L503.9 208.2L502.6 208.1L500.3 208.1z" stroke="#ff7d00"/>
<path d="M505.2 208.2L507.5 208.2L506.2 208.2L503.9 208.2z" stroke="#ff7f00"/>
<path d="M440.8 214.7L443.1 213.9L441.8 221.0L439.5 221.7z" stroke="#3dffc1"/>
<path d="M508.8 208.2L511.1 208.3L509.8 208.3L507.5 208.2z" stroke="#ff8000"/>
<path d="M460.8 204.0L463.1 203.2L461.8 200.6L459.5 201.3z" stroke="#f90000"/>
<path d="M512.4 208.3L514.7 208.4L513.4 208.3L511.1 208.3z" stroke="#ff8200"/>
<path d="M465.7 207.4L468.0 206.6L466.7 204.7L464.4 205.5z" stroke="#ff3200"/>
<path d="M432.6 223.9L434.9 223.1L433.6 225.3L431.3 226.1z" stroke="#0000e4"/>
<path d="M449.0 205.6L451.3 204.9L450.0 211.8L447.7 212.5z" stroke="#ff8500"/>
<path d="M462.1 206.3L464.4 205.5L463.1 203.2L460.8 204.0z" stroke="#fc0000"/>
<path d="M412.3 227.4L414.6 226.7L413.3 225.9L411.0 226.7z" stroke="#0000a8" fill="#aab2e6"/>
<path d="M415.9 227.4L418.2 226.7L416.9 226.0L414.6 226.7z" stroke="#0000a8" fill="#aab2e6"/>
<path d="M419.5 227.5L421.8 226.7L420.5 226.0L418.2 226.7z" stroke="#0000a8" fill="#aab2e6"/>
<path d="M474.2 209.3L476.5 208.7L475.2 207.8L472.9 208.5z" stroke="#ff7900"/>
<path d="M477.8 209.2L480.1 208.7L478.8 208.1L476.5 208.7z" stroke="#ff7b00"/>
<path d="M423.1 227.5L425.4 226.8L424.1 226.0L421.8 226.7z" stroke="#0000a8" fill="#aab2e6"/>
<path d="M470.6 209.2L472.9 208.5L471.6 207.4L469.3 208.1z" stroke="#ff6e00"/>
<path d="M426.7 227.5L429.0 226.8L427.7 226.0L425.4 226.8z" stroke="#0000a8" fill="#aab2e6"/>
<path d="M481.3 209.0L483.7 208.6L482.4 208.2L480.1 208.7z" stroke="#ff7800"/>
<path d="M484.9 208.8L487.2 208.4L486.0 208.2L483.7 208.6z" stroke="#ff7300"/>
<path d="M467.0 208.8L469.3 208.1L468.0 206.6L465.7 207.4z" stroke="#ff5800"/>
<path d="M454.9 202.8L457.2 202.1L455.9 203.4L453.6 204.2z" stroke="#f90000"/>
<path d="M488.5 208.5L490.8 208.3L489.6 208.1L487.2 208.4z" stroke="#ff6c00"/>
<path d="M438.5 215.4L440.8 214.7L439.5 221.7L437.2 222.4z" stroke="#3dffc1"/>
<path d="M458.5 204.7L460.8 204.0L459.5 201.3L457.2 202.1z" stroke="#f90000"/>
<path d="M492.1 208.3L494.4 208.2L493.1 208.1L490.8 208.3z" stroke="#ff6600"/>
<path d="M495.7 208.2L498.0 208.1L496.7 208.1L494.4 208.2z" stroke="#ff6200"/>
<path d="M463.4 208.1L465.7 207.4L464.4 205.5L462.1 206.3z" stroke="#ff3300"/>
<path d="M499.3 208.1L501.6 208.1L500.3 208.1L498.0 208.1z" stroke="#ff6000"/>
<path d="M502.9 208.1L505.2 208.2L503.9 208.2L501.6 208.1z" stroke="#ff5f00"/>
<path d="M506.5 208.1L508.8 208.2L507.5 208.2L505.2 208.2z" stroke="#ff6000"/>
<path d="M510.1 208.2L512.4 208.3L511.1 208.3L508.8 208.2z" stroke="#ff6200"/>
<path d="M513.7 208.3L516.0 208.4L514.7 208.4L512.4 208.3z" stroke="#ff6300"/>
<path d="M430.3 224.6L432.6 223.9L431.3 226.1L429.0 226.8z" stroke="#0000e4"/>
<path d="M446.7 206.3L449.0 205.6L447.7 212.5L445.4 213.2z" stroke="#ff8500"/>
<path d="M459.8 207.0L462.1 206.3L460.8 204.0L458.5 204.7z" stroke="#fe0000"/>
<path d="M410.0 228.1L412.3 227.4L411.0 226.7L408.7 227.4z" stroke="#0000a8" fill="#aab2e6"/>
<path d="M413.6 228.2L415.9 227.4L414.6 226.7L412.3 227.4z" stroke="#0000a8" fill="#aab2e6"/>
<path d="M417.2 228.2L419.5 227.5L418.2 226.7L415.9 227.4z" stroke="#0000a8" fill="#aab2e6"/>
<path d="M471.9 209.9L474.2 209.3L472.9 208.5L470.6 209.2z" stroke="#ff7500"/>
<path d="M420.8 228.2L423.1 227.5L421.8 226.7L419.5 227.5z" stroke="#0000a8" fill="#aab2e6"/>
<path d="M468.3 209.8L470.6 209.2L469.3 208.1L467.0 208.8z" stroke="#ff6d00"/>
<path d="M475.4 209.7L477.8 209.2L476.5 208.7L474.2 209.3z" stroke="#ff7500"/>
<path d="M424.4 228.2L426.7 227.5L425.4 226.8L423.1 227.5z" stroke="#0000a8" fill="#aab2e6"/>
<path d="M479.0 209.5L481.3 209.0L480.1 208.7L477.8 209.2z" stroke="#ff6e00"/>
<path d="M464.7 209.5L467.0 208.8L465.7 207.4L463.4 208.1z" stroke="#ff5800"/>
<path d="M452.6 203.5L454.9 202.8L453.6 204.2L451.3 204.9z" stroke="#f90000"/>
<path d="M436.2 216.1L438.5 215.4L437.2 222.4L434.9 223.1z" stroke="#3dffc1"/>
<path d="M456.2 205.5L458.5 204.7L457.2 202.1L454.9 202.8z" stroke="#f90000"/>
<path d="M482.6 209.1L484.9 208.8L483.7 208.6L481.3 209.0z" stroke="#ff6500"/>
<path d="M486.2 208.8L488.5 208.5L487.2 208.4L484.9 208.8z" stroke="#ff5a00"/>
<path d="M461.1 208.9L463.4 208.1L462.1 206.3L459.8 207.0z" stroke="#ff3500"/>
<path d="M489.8 208.5L492.1 208.3L490.8 208.3L488.5 208.5z" stroke="#ff5000"/>
<path d="M428.0 225.3L430.3 224.6L429.0 226.8L426.7 227.5z" stroke="#0000e4"/>
<path d="M493.4 208.3L495.7 208.2L494.4 208.2L492.1 208.3z" stroke="#ff4800"/>
<path d="M444.4 207.1L446.7 206.3L445.4 213.2L443.1 213.9z" stroke="#ff8500"/>
<path d="M497.0 208.1L499.3 208.1L498.0 208.1L495.7 208.2z" stroke="#ff4200"/>
<path d="M500.6 208.0L502.9 208.1L501.6 208.1L499.3 208.1z" stroke="#ff3f00"/>
<path d="M457.5 207.8L459.8 207.0L458.5 204.7L456.2 205.5z" stroke="#ff0000"/>
<path d="M504.2 208.0L506.5 208.1L505.2 208.2L502.9 208.1z" stroke="#ff3f00"/>
<path d="M507.8 208.1L510.1 208.2L508.8 208.2L506.5 208.1z" stroke="#ff4000"/>
<path d="M511.4 208.2L513.7 208.3L512.4 208.3L510.1 208.2z" stroke="#ff4200"/>
<path d="M515.0 208.3L517.3 208.4L516.0 208.4L513.7 208.3z" stroke="#ff4500"/>
<path d="M407.7 228.9L410.0 228.1L408.7 227.4L406.4 228.1z" stroke="#0000a8" fill="#aab2e6"/>
<path d="M411.3 228.9L413.6 228.2L412.3 227.4L410.0 228.1z" stroke="#0000a8" fill="#aab2e6"/>
<path d="M414.9 228.9L417.2 228.2L415.9 227.4L413.6 228.2z" stroke="#0000a8" fill="#aab2e6"/>
<path d="M418.5 228.9L420.8 228.2L419.5 227.5L417.2 228.2z" stroke="#0000a8" fill="#aab2e6"/>
<path d="M469.5 210.5L471.9 209.9L470.6 209.2L468.3 209.8z" stroke="#ff7100"/>
<path d="M466.0 210.5L468.3 209.8L467.0 208.8L464.7 209.5z" stroke="#ff6b00"/>
<path d="M422.1 229.0L424.4 228.2L423.1 227.5L420.8 228.2z" stroke="#0000a8" fill="#aab2e6"/>
<path d="M473.1 210.3L475.4 209.7L474.2 209.3L471.9 209.9z" stroke="#ff6e00"/>
<path d="M462.4 210.2L464.7 209.5L463.4 208.1L461.1 208.9z" stroke="#ff5800"/>
<path d="M450.3 204.3L452.6 203.5L451.3 204.9L449.0 205.6z" stroke="#f90000"/>
<path d="M476.7 210.0L479.0 209.5L477.8 209.2L475.4 209.7z" stroke="#ff6500"/>
<path d="M433.9 216.8L436.2 216.1L434.9 223.1L432.6 223.9z" stroke="#3dffc1"/>
<path d="M453.9 206.3L456.2 205.5L454.9 202.8L452.6 203.5z" stroke="#f90000"/>
<path d="M480.3 209.6L482.6 209.1L481.3 209.0L479.0 209.5z" stroke="#ff5800"/>
<path d="M458.8 209.6L461.1 208.9L459.8 207.0L457.5 207.8z" stroke="#ff3600"/>
<path d="M483.9 209.1L486.2 208.8L484.9 208.8L482.6 209.1z" stroke="#ff4a00"/>
<path d="M425.7 226.0L428.0 225.3L426.7 227.5L424.4 228.2z" stroke="#0000e4"/>
<path d="M487.5 208.7L489.8 208.5L488.5 208.5L486.2 208.8z" stroke="#ff3b00"/>
<path d="M442.1 207.8L444.4 207.1L443.1 213.9L440.8 214.7z" stroke="#ff8500"/>
<path d="M455.2 208.6L457.5 207.8L456.2 205.5L453.9 206.3z" stroke="#ff0200"/>
<path d="M491.1 208.4L493.4 208.3L492.1 208.3L489.8 208.5z" stroke="#ff2f00"/>
<path d="M494.7 208.1L497.0 208.1L495.7 208.2L493.4 208.3z" stroke="#ff2600"/>
<path d="M498.3 208.0L500.6 208.0L499.3 208.1L497.0 208.1z" stroke="#ff2000"/>
<path d="M409.0 229.6L411.3 228.9L410.0 228.1L407.7 228.9z" stroke="#0000a8" fill="#aab2e6"/>
<path d="M412.6 229.6L414.9 228.9L413.6 228.2L411.3 228.9z" stroke="#0000a8" fill="#aab2e6"/>
<path d="M501.9 207.9L504.2 208.0L502.9 208.1L500.6 208.0z" stroke="#ff1d00"/>
<path d="M416.2 229.7L418.5 228.9L417.2 228.2L414.9 228.9z" stroke="#0000a8" fill="#aab2e6"/>
<path d="M505.5 207.9L507.8 208.1L506.5 208.1L504.2 208.0z" stroke="#ff1d00"/>
<path d="M509.1 208.0L511.4 208.2L510.1 208.2L507.8 208.1z" stroke="#ff1f00"/>
<path d="M419.8 229.7L422.1 229.0L420.8 228.2L418.5 228.9z" stroke="#0000a8" fill="#aab2e6"/>
<path d="M512.7 208.1L515.0 208.3L513.7 208.3L511.4 208.2z" stroke="#ff2200"/>
<path d="M516.3 208.3L518.6 208.4L517.3 208.4L515.0 208.3z" stroke="#ff2600"/>
<path d="M463.6 211.1L466.0 210.5L464.7 209.5L462.4 210.2z" stroke="#ff6800"/>
<path d="M467.2 211.0L469.5 210.5L468.3 209.8L466.0 210.5z" stroke="#ff6d00"/>
<path d="M470.8 210.8L473.1 210.3L471.9 209.9L469.5 210.5z" stroke="#ff6800"/>
<path d="M460.1 210.8L462.4 210.2L461.1 208.9L458.8 209.6z" stroke="#ff5700"/>
<path d="M448.0 205.0L450.3 204.3L449.0 205.6L446.7 206.3z" stroke="#f90000"/>
<path d="M451.6 207.0L453.9 206.3L452.6 203.5L450.3 204.3z" stroke="#f90000"/>
<path d="M431.6 217.6L433.9 216.8L432.6 223.9L430.3 224.6z" stroke="#3dffc1"/>
<path d="M474.4 210.4L476.7 210.0L475.4 209.7L473.1 210.3z" stroke="#ff5c00"/>
<path d="M456.5 210.3L458.8 209.6L457.5 207.8L455.2 208.6z" stroke="#ff3700"/>
<path d="M478.0 210.0L480.3 209.6L479.0 209.5L476.7 210.0z" stroke="#ff4d00"/>
<path d="M423.4 226.8L425.7 226.0L424.4 228.2L422.1 229.0z" stroke="#0000e4"/>
<path d="M481.6 209.5L483.9 209.1L482.6 209.1L480.3 209.6z" stroke="#ff3b00"/>
<path d="M439.8 208.5L442.1 207.8L440.8 214.7L438.5 215.4z" stroke="#ff8500"/>
<path d="M452.9 209.3L455.2 208.6L453.9 206.3L451.6 207.0z" stroke="#ff0400"/>
<path d="M485.2 209.0L487.5 208.7L486.2 208.8L483.9 209.1z" stroke="#ff2900"/>
<path d="M488.8 208.6L491.1 208.4L489.8 208.5L487.5 208.7z" stroke="#ff1900"/>
<path d="M410.3 230.4L412.6 229.6L411.3 228.9L409.0 229.6z" stroke="#0000a8" fill="#aab2e6"/>
<path d="M413.9 230.4L416.2 229.7L414.9 228.9L412.6 229.6z" stroke="#0000a8" fill="#aab2e6"/>
<path d="M492.4 208.2L494.7 208.1L493.4 208.3L491.1 208.4z" stroke="#ff0c00"/>
<path d="M417.5 230.4L419.8 229.7L418.5 228.9L416.2 229.7z" stroke="#0000a8" fill="#aab2e6"/>
<path d="M461.3 211.6L463.6 211.1L462.4 210.2L460.1 210.8z" stroke="#ff6400"/>
<path d="M464.9 211.6L467.2 211.0L466.0 210.5L463.6 211.1z" stroke="#ff6700"/>
<path d="M496.0 208.0L498.3 208.0L497.0 208.1L494.7 208.1z" stroke="#ff0200"/>
<path d="M445.7 205.7L448.0 205.0L446.7 206.3L444.4 207.1z" stroke="#f90000"/>
<path d="M457.7 211.5L460.1 210.8L458.8 209.6L456.5 210.3z" stroke="#ff5600"/>
<path d="M468.5 211.3L470.8 210.8L469.5 210.5L467.2 211.0z" stroke="#ff6100"/>
<path d="M449.3 207.8L451.6 207.0L450.3 204.3L448.0 205.0z" stroke="#f90000"/>
<path d="M429.3 218.3L431.6 217.6L430.3 224.6L428.0 225.3z" stroke="#3dffc1"/>
<path d="M499.6 207.8L501.9 207.9L500.6 208.0L498.3 208.0z" stroke="#fb0000"/>
<path d="M503.2 207.8L505.5 207.9L504.2 208.0L501.9 207.9z" stroke="#f90000"/>
<path d="M506.8 207.9L509.1 208.0L507.8 208.1L505.5 207.9z" stroke="#fa0000"/>
<path d="M510.4 208.0L512.7 208.1L511.4 208.2L509.1 208.0z" stroke="#fe0000"/>
<path d="M514.0 208.1L516.3 208.3L515.0 208.3L512.7 208.1z" stroke="#ff0300"/>
<path d="M517.6 208.3L519.9 208.4L518.6 208.4L516.3 208.3z" stroke="#ff0800"/>
<path d="M472.1 210.9L474.4 210.4L473.1 210.3L470.8 210.8z" stroke="#ff5400"/>
<path d="M454.1 211.0L456.5 210.3L455.2 208.6L452.9 209.3z" stroke="#ff3700"/>
<path d="M475.7 210.4L478.0 210.0L476.7 210.0L474.4 210.4z" stroke="#ff4200"/>
<path d="M421.1 227.5L423.4 226.8L422.1 229.0L419.8 229.7z" stroke="#0000e4"/>
<path d="M437.5 209.2L439.8 208.5L438.5 215.4L436.2 216.1z" stroke="#ff8500"/>
<path d="M479.3 209.9L481.6 209.5L480.3 209.6L478.0 210.0z" stroke="#ff2e00"/>
<path d="M450.6 210.0L452.9 209.3L451.6 207.0L449.3 207.8z" stroke="#ff0500"/>
<path d="M482.9 209.4L485.2 209.0L483.9 209.1L481.6 209.5z" stroke="#ff1900"/>
<path d="M411.6 231.1L413.9 230.4L412.6 229.6L410.3 230.4z" stroke="#0000a8" fill="#aab2e6"/>
<path d="M415.1 231.1L417.5 230.4L416.2 229.7L413.9 230.4z" stroke="#0000a8" fill="#aab2e6"/>
<path d="M486.5 208.9L488.8 208.6L487.5 208.7L485.2 209.0z" stroke="#ff0500"/>
<path d="M459.0 212.1L461.3 211.6L460.1 210.8L457.7 211.5z" stroke="#ff5f00"/>
<path d="M443.4 206.5L445.7 205.7L444.4 207.1L442.1 207.8z" stroke="#f90000"/>
<path d="M462.6 212.0L464.9 211.6L463.6 211.1L461.3 211.6z" stroke="#ff6000"/>
<path d="M455.4 212.0L457.7 211.5L456.5 210.3L454.1 211.0z" stroke="#ff5200"/>
<path d="M447.0 208.6L449.3 207.8L448.0 205.0L445.7 205.7z" stroke="#f90000"/>
<path d="M490.1 208.4L492.4 208.2L491.1 208.4L488.8 208.6z" stroke="#f90000"/>
<path d="M427.0 219.0L429.3 218.3L428.0 225.3L425.7 226.0z" stroke="#3dffc1"/>
<path d="M466.2 211.8L468.5 211.3L467.2 211.0L464.9 211.6z" stroke="#ff5800"/>
<path d="M493.7 208.1L496.0 208.0L494.7 208.1L492.4 208.2z" stroke="#f90000"/>
<path d="M451.8 211.6L454.1 211.0L452.9 209.3L450.6 210.0z" stroke="#ff3600"/>
<path d="M469.8 211.4L472.1 210.9L470.8 210.8L468.5 211.3z" stroke="#ff4a00"/>
<path d="M497.3 207.8L499.6 207.8L498.3 208.0L496.0 208.0z" stroke="#f90000"/>
<path d="M500.9 207.7L503.2 207.8L501.9 207.9L499.6 207.8z" stroke="#f90000"/>
<path d="M418.7 228.2L421.1 227.5L419.8 229.7L417.5 230.4z" stroke="#0000e4"/>
<path d="M473.4 210.9L475.7 210.4L474.4 210.4L472.1 210.9z" stroke="#ff3700"/>
<path d="M518.9 208.4L521.2 208.5L519.9 208.4L517.6 208.3z" stroke="#f90000"/>
<path d="M504.5 207.7L506.8 207.9L505.5 207.9L503.2 207.8z" stroke="#f90000"/>
<path d="M515.3 208.2L517.6 208.3L516.3 208.3L514.0 208.1z" stroke="#f90000"/>
<path d="M511.7 208.0L514.0 208.1L512.7 208.1L510.4 208.0z" stroke="#f90000"/>
<path d="M508.1 207.8L510.4 208.0L509.1 208.0L506.8 207.9z" stroke="#f90000"/>
<path d="M435.2 210.0L437.5 209.2L436.2 216.1L433.9 216.8z" stroke="#ff8500"/>
<path d="M448.2 210.8L450.6 210.0L449.3 207.8L447.0 208.6z" stroke="#ff0600"/>
<path d="M477.0 210.3L479.3 209.9L478.0 210.0L475.7 210.4z" stroke="#ff2200"/>
<path d="M480.6 209.8L482.9 209.4L481.6 209.5L479.3 209.9z" stroke="#ff0b00"/>
<path d="M412.8 231.9L415.1 231.1L413.9 230.4L411.6 231.1z" stroke="#0000a8" fill="#aab2e6"/>
<path d="M441.1 207.2L443.4 206.5L442.1 207.8L439.8 208.5z" stroke="#f90000"/>
<path d="M484.2 209.2L486.5 208.9L485.2 209.0L482.9 209.4z" stroke="#f90000"/>
<path d="M456.7 212.6L459.0 212.1L457.7 211.5L455.4 212.0z" stroke="#ff5800"/>
<path d="M444.7 209.3L447.0 208.6L445.7 205.7L443.4 206.5z" stroke="#f90000"/>
<path d="M424.6 219.7L427.0 219.0L425.7 226.0L423.4 226.8z" stroke="#3dffc1"/>
<path d="M453.1 212.6L455.4 212.0L454.1 211.0L451.8 211.6z" stroke="#ff4e00"/>
<path d="M460.3 212.5L462.6 212.0L461.3 211.6L459.0 212.1z" stroke="#ff5600"/>
<path d="M463.9 212.2L466.2 211.8L464.9 211.6L462.6 212.0z" stroke="#ff4d00"/>
<path d="M487.8 208.7L490.1 208.4L488.8 208.6L486.5 208.9z" stroke="#f90000"/>
<path d="M449.5 212.2L451.8 211.6L450.6 210.0L448.2 210.8z" stroke="#ff3500"/>
<path d="M467.5 211.8L469.8 211.4L468.5 211.3L466.2 211.8z" stroke="#ff3f00"/>
<path d="M491.4 208.3L493.7 208.1L492.4 208.2L490.1 208.4z" stroke="#f90000"/>
<path d="M416.4 228.9L418.7 228.2L417.5 230.4L415.1 231.1z" stroke="#0000e4"/>
<path d="M432.9 210.7L435.2 210.0L433.9 216.8L431.6 217.6z" stroke="#ff8500"/>
<path d="M471.1 211.3L473.4 210.9L472.1 210.9L469.8 211.4z" stroke="#ff2c00"/>
<path d="M495.0 207.9L497.3 207.8L496.0 208.0L493.7 208.1z" stroke="#f90000"/>
<path d="M445.9 211.5L448.2 210.8L447.0 208.6L444.7 209.3z" stroke="#ff0700"/>
<path d="M498.6 207.7L500.9 207.7L499.6 207.8L497.3 207.8z" stroke="#f90000"/>
<path d="M520.1 208.5L522.4 208.6L521.2 208.5L518.9 208.4z" stroke="#f90000"/>
<path d="M502.2 207.6L504.5 207.7L503.2 207.8L500.9 207.7z" stroke="#f90000"/>
<path d="M516.5 208.2L518.9 208.4L517.6 208.3L515.3 208.2z" stroke="#f90000"/>
<path d="M513.0 208.0L515.3 208.2L514.0 208.1L511.7 208.0z" stroke="#f90000"/>
<path d="M474.7 210.8L477.0 210.3L475.7 210.4L473.4 210.9z" stroke="#ff1600"/>
<path d="M505.8 207.6L508.1 207.8L506.8 207.9L504.5 207.7z" stroke="#f90000"/>
<path d="M509.4 207.8L511.7 208.0L510.4 208.0L508.1 207.8z" stroke="#f90000"/>
<path d="M478.3 210.2L480.6 209.8L479.3 209.9L477.0 210.3z" stroke="#fd0000"/>
<path d="M438.8 207.9L441.1 207.2L439.8 208.5L437.5 209.2z" stroke="#f90000"/>
<path d="M442.3 210.1L444.7 209.3L443.4 206.5L441.1 207.2z" stroke="#f90000"/>
<path d="M422.3 220.5L424.6 219.7L423.4 226.8L421.1 227.5z" stroke="#3dffc1"/>
<path d="M454.4 213.0L456.7 212.6L455.4 212.0L453.1 212.6z" stroke="#ff4e00"/>
<path d="M450.8 213.0L453.1 212.6L451.8 211.6L449.5 212.2z" stroke="#ff4800"/>
<path d="M481.9 209.6L484.2 209.2L482.9 209.4L480.6 209.8z" stroke="#f90000"/>
<path d="M458.0 212.8L460.3 212.5L459.0 212.1L456.7 212.6z" stroke="#ff4b00"/>
<path d="M447.2 212.8L449.5 212.2L448.2 210.8L445.9 211.5z" stroke="#ff3200"/>
<path d="M461.6 212.5L463.9 212.2L462.6 212.0L460.3 212.5z" stroke="#ff4100"/>
<path d="M485.5 209.0L487.8 208.7L486.5 208.9L484.2 209.2z" stroke="#f90000"/>
<path d="M414.1 229.7L416.4 228.9L415.1 231.1L412.8 231.9z" stroke="#0000e4"/>
<path d="M465.2 212.1L467.5 211.8L466.2 211.8L463.9 212.2z" stroke="#ff3200"/>
<path d="M430.5 211.4L432.9 210.7L431.6 217.6L429.3 218.3z" stroke="#ff8500"/>
<path d="M443.6 212.2L445.9 211.5L444.7 209.3L442.3 210.1z" stroke="#ff0700"/>
<path d="M489.1 208.5L491.4 208.3L490.1 208.4L487.8 208.7z" stroke="#f90000"/>
<path d="M468.8 211.7L471.1 211.3L469.8 211.4L467.5 211.8z" stroke="#ff1f00"/>
<path d="M492.7 208.1L495.0 207.9L493.7 208.1L491.4 208.3z" stroke="#f90000"/>
<path d="M472.4 211.2L474.7 210.8L473.4 210.9L471.1 211.3z" stroke="#ff0900"/>
<path d="M496.3 207.8L498.6 207.7L497.3 207.8L495.0 207.9z" stroke="#f90000"/>
<path d="M521.4 208.6L523.7 208.7L522.4 208.6L520.1 208.5z" stroke="#f90000"/>
<path d="M499.9 207.6L502.2 207.6L500.9 207.7L498.6 207.7z" stroke="#f90000"/>
<path d="M517.8 208.3L520.1 208.5L518.9 208.4L516.5 208.2z" stroke="#f90000"/>
<path d="M514.2 208.0L516.5 208.2L515.3 208.2L513.0 208.0z" stroke="#f90000"/>
<path d="M503.5 207.6L505.8 207.6L504.5 207.7L502.2 207.6z" stroke="#f90000"/>
<path d="M510.6 207.8L513.0 208.0L511.7 208.0L509.4 207.8z" stroke="#f90000"/>
<path d="M507.1 207.6L509.4 207.8L508.1 207.8L505.8 207.6z" stroke="#f90000"/>
<path d="M436.4 208.7L438.8 207.9L437.5 209.2L435.2 210.0z" stroke="#f90000"/>
<path d="M476.0 210.6L478.3 210.2L477.0 210.3L474.7 210.8z" stroke="#f90000"/>
<path d="M440.0 210.8L442.3 210.1L441.1 207.2L438.8 207.9z" stroke="#f90000"/>
<path d="M420.0 221.2L422.3 220.5L421.1 227.5L418.7 228.2z" stroke="#3dffc1"/>
<path d="M448.5 213.5L450.8 213.0L449.5 212.2L447.2 212.8z" stroke="#ff4000"/>
<path d="M452.1 213.4L454.4 213.0L453.1 212.6L450.8 213.0z" stroke="#ff4300"/>
<path d="M479.6 210.1L481.9 209.6L480.6 209.8L478.3 210.2z" stroke="#f90000"/>
<path d="M455.7 213.1L458.0 212.8L456.7 212.6L454.4 213.0z" stroke="#ff3d00"/>
<path d="M444.9 213.3L447.2 212.8L445.9 211.5L443.6 212.2z" stroke="#ff2e00"/>
<path d="M459.3 212.8L461.6 212.5L460.3 212.5L458.0 212.8z" stroke="#ff3200"/>
<path d="M483.2 209.5L485.5 209.0L484.2 209.2L481.9 209.6z" stroke="#f90000"/>
<path d="M428.2 212.1L430.5 211.4L429.3 218.3L427.0 219.0z" stroke="#ff8500"/>
<path d="M441.3 212.8L443.6 212.2L442.3 210.1L440.0 210.8z" stroke="#ff0700"/>
<path d="M462.9 212.5L465.2 212.1L463.9 212.2L461.6 212.5z" stroke="#ff2300"/>
<path d="M486.8 208.9L489.1 208.5L487.8 208.7L485.5 209.0z" stroke="#f90000"/>
<path d="M466.5 212.0L468.8 211.7L467.5 211.8L465.2 212.1z" stroke="#ff1100"/>
<path d="M490.4 208.4L492.7 208.1L491.4 208.3L489.1 208.5z" stroke="#f90000"/>
<path d="M470.1 211.6L472.4 211.2L471.1 211.3L468.8 211.7z" stroke="#fb0000"/>
<path d="M434.1 209.4L436.4 208.7L435.2 210.0L432.9 210.7z" stroke="#f90000"/>
<path d="M494.0 208.0L496.3 207.8L495.0 207.9L492.7 208.1z" stroke="#f90000"/>
<path d="M437.7 211.6L440.0 210.8L438.8 207.9L436.4 208.7z" stroke="#f90000"/>
<path d="M417.7 221.9L420.0 221.2L418.7 228.2L416.4 228.9z" stroke="#3dffc1"/>
<path d="M473.7 211.1L476.0 210.6L474.7 210.8L472.4 211.2z" stroke="#f90000"/>
<path d="M522.7 208.8L525.0 208.9L523.7 208.7L521.4 208.6z" stroke="#f90000"/>
<path d="M497.6 207.7L499.9 207.6L498.6 207.7L496.3 207.8z" stroke="#f90000"/>
<path d="M519.1 208.5L521.4 208.6L520.1 208.5L517.8 208.3z" stroke="#f90000"/>
<path d="M515.5 208.2L517.8 208.3L516.5 208.2L514.2 208.0z" stroke="#f90000"/>
<path d="M501.2 207.6L503.5 207.6L502.2 207.6L499.9 207.6z" stroke="#f90000"/>
<path d="M511.9 207.9L514.2 208.0L513.0 208.0L510.6 207.8z" stroke="#f90000"/>
<path d="M504.7 207.5L507.1 207.6L505.8 207.6L503.5 207.6z" stroke="#f90000"/>
<path d="M508.3 207.7L510.6 207.8L509.4 207.8L507.1 207.6z" stroke="#f90000"/>
<path d="M446.2 213.8L448.5 213.5L447.2 212.8L444.9 213.3z" stroke="#ff3500"/>
<path d="M449.8 213.7L452.1 213.4L450.8 213.0L448.5 213.5z" stroke="#ff3500"/>
<path d="M477.3 210.5L479.6 210.1L478.3 210.2L476.0 210.6z" stroke="#f90000"/>
<path d="M442.6 213.8L444.9 213.3L443.6 212.2L441.3 212.8z" stroke="#ff2900"/>
<path d="M453.4 213.4L455.7 213.1L454.4 213.0L452.1 213.4z" stroke="#ff2d00"/>
<path d="M425.9 212.9L428.2 212.1L427.0 219.0L424.6 219.7z" stroke="#ff8500"/>
<path d="M457.0 213.1L459.3 212.8L458.0 212.8L455.7 213.1z" stroke="#ff2100"/>
<path d="M480.9 209.9L483.2 209.5L481.9 209.6L479.6 210.1z" stroke="#f90000"/>
<path d="M439.0 213.4L441.3 212.8L440.0 210.8L437.7 211.6z" stroke="#ff0700"/>
<path d="M460.6 212.7L462.9 212.5L461.6 212.5L459.3 212.8z" stroke="#ff1200"/>
<path d="M484.5 209.4L486.8 208.9L485.5 209.0L483.2 209.5z" stroke="#f90000"/>
<path d="M464.2 212.4L466.5 212.0L465.2 212.1L462.9 212.5z" stroke="#ff0100"/>
<path d="M488.1 208.8L490.4 208.4L489.1 208.5L486.8 208.9z" stroke="#f90000"/>
<path d="M431.8 210.2L434.1 209.4L432.9 210.7L430.5 211.4z" stroke="#f90000"/>
<path d="M467.8 212.0L470.1 211.6L468.8 211.7L466.5 212.0z" stroke="#f90000"/>
<path d="M435.4 212.4L437.7 211.6L436.4 208.7L434.1 209.4z" stroke="#f90000"/>
<path d="M415.4 222.6L417.7 221.9L416.4 228.9L414.1 229.7z" stroke="#3dffc1"/>
<path d="M491.7 208.3L494.0 208.0L492.7 208.1L490.4 208.4z" stroke="#f90000"/>
<path d="M471.4 211.5L473.7 211.1L472.4 211.2L470.1 211.6z" stroke="#f90000"/>
<path d="M495.3 208.0L497.6 207.7L496.3 207.8L494.0 208.0z" stroke="#f90000"/>
<path d="M524.0 209.1L526.3 209.1L525.0 208.9L522.7 208.8z" stroke="#f90000"/>
<path d="M520.4 208.7L522.7 208.8L521.4 208.6L519.1 208.5z" stroke="#f90000"/>
<path d="M443.9 214.1L446.2 213.8L444.9 213.3L442.6 213.8z" stroke="#ff2900"/>
<path d="M440.3 214.2L442.6 213.8L441.3 212.8L439.0 213.4z" stroke="#ff2200"/>
<path d="M475.0 211.0L477.3 210.5L476.0 210.6L473.7 211.1z" stroke="#f90000"/>
<path d="M498.8 207.7L501.2 207.6L499.9 207.6L497.6 207.7z" stroke="#f90000"/>
<path d="M516.8 208.4L519.1 208.5L517.8 208.3L515.5 208.2z" stroke="#f90000"/>
<path d="M447.5 213.9L449.8 213.7L448.5 213.5L446.2 213.8z" stroke="#ff2400"/>
<path d="M513.2 208.0L515.5 208.2L514.2 208.0L511.9 207.9z" stroke="#f90000"/>
<path d="M423.6 213.6L425.9 212.9L424.6 219.7L422.3 220.5z" stroke="#ff8500"/>
<path d="M502.4 207.6L504.7 207.5L503.5 207.6L501.2 207.6z" stroke="#f90000"/>
<path d="M509.6 207.8L511.9 207.9L510.6 207.8L508.3 207.7z" stroke="#f90000"/>
<path d="M506.0 207.6L508.3 207.7L507.1 207.6L504.7 207.5z" stroke="#f90000"/>
<path d="M451.1 213.6L453.4 213.4L452.1 213.4L449.8 213.7z" stroke="#ff1a00"/>
<path d="M436.7 214.0L439.0 213.4L437.7 211.6L435.4 212.4z" stroke="#ff0500"/>
<path d="M478.6 210.5L480.9 209.9L479.6 210.1L477.3 210.5z" stroke="#f90000"/>
<path d="M454.7 213.3L457.0 213.1L455.7 213.1L453.4 213.4z" stroke="#ff0d00"/>
<path d="M458.3 213.0L460.6 212.7L459.3 212.8L457.0 213.1z" stroke="#fe0000"/>
<path d="M482.2 209.9L484.5 209.4L483.2 209.5L480.9 209.9z" stroke="#f90000"/>
<path d="M461.9 212.6L464.2 212.4L462.9 212.5L460.6 212.7z" stroke="#f90000"/>
<path d="M429.5 210.9L431.8 210.2L430.5 211.4L428.2 212.1z" stroke="#f90000"/>
<path d="M433.1 213.1L435.4 212.4L434.1 209.4L431.8 210.2z" stroke="#f90000"/>
<path d="M485.8 209.3L488.1 208.8L486.8 208.9L484.5 209.4z" stroke="#f90000"/>
<path d="M465.5 212.3L467.8 212.0L466.5 212.0L464.2 212.4z" stroke="#f90000"/>
<path d="M489.4 208.8L491.7 208.3L490.4 208.4L488.1 208.8z" stroke="#f90000"/>
<path d="M469.1 211.9L471.4 211.5L470.1 211.6L467.8 212.0z" stroke="#f90000"/>
<path d="M492.9 208.3L495.3 208.0L494.0 208.0L491.7 208.3z" stroke="#f90000"/>
<path d="M438.0 214.6L440.3 214.2L439.0 213.4L436.7 214.0z" stroke="#ff1900"/>
<path d="M441.6 214.3L443.9 214.1L442.6 213.8L440.3 214.2z" stroke="#ff1a00"/>
<path d="M421.3 214.3L423.6 213.6L422.3 220.5L420.0 221.2z" stroke="#ff8500"/>
<path d="M472.7 211.5L475.0 211.0L473.7 211.1L471.4 211.5z" stroke="#f90000"/>
<path d="M525.3 209.4L527.6 209.4L526.3 209.1L524.0 209.1z" stroke="#f90000"/>
<path d="M521.7 209.0L524.0 209.1L522.7 208.8L520.4 208.7z" stroke="#f90000"/>
<path d="M445.2 214.0L447.5 213.9L446.2 213.8L443.9 214.1z" stroke="#ff1100"/>
<path d="M434.4 214.6L436.7 214.0L435.4 212.4L433.1 213.1z" stroke="#ff0300"/>
<path d="M496.5 208.0L498.8 207.7L497.6 207.7L495.3 208.0z" stroke="#f90000"/>
<path d="M518.1 208.6L520.4 208.7L519.1 208.5L516.8 208.4z" stroke="#f90000"/>
<path d="M500.1 207.7L502.4 207.6L501.2 207.6L498.8 207.7z" stroke="#f90000"/>
<path d="M476.3 211.0L478.6 210.5L477.3 210.5L475.0 211.0z" stroke="#f90000"/>
<path d="M514.5 208.2L516.8 208.4L515.5 208.2L513.2 208.0z" stroke="#f90000"/>
<path d="M448.8 213.7L451.1 213.6L449.8 213.7L447.5 213.9z" stroke="#ff0500"/>
<path d="M510.9 207.9L513.2 208.0L511.9 207.9L509.6 207.8z" stroke="#f90000"/>
<path d="M503.7 207.7L506.0 207.6L504.7 207.5L502.4 207.6z" stroke="#f90000"/>
<path d="M507.3 207.7L509.6 207.8L508.3 207.7L506.0 207.6z" stroke="#f90000"/>
<path d="M452.4 213.5L454.7 213.3L453.4 213.4L451.1 213.6z" stroke="#f90000"/>
<path d="M479.9 210.5L482.2 209.9L480.9 209.9L478.6 210.5z" stroke="#f90000"/>
<path d="M456.0 213.2L458.3 213.0L457.0 213.1L454.7 213.3z" stroke="#f90000"/>
<path d="M427.2 211.7L429.5 210.9L428.2 212.1L425.9 212.9z" stroke="#f90000"/>
<path d="M430.8 213.9L433.1 213.1L431.8 210.2L429.5 210.9z" stroke="#f90000"/>
<path d="M459.6 212.9L461.9 212.6L460.6 212.7L458.3 213.0z" stroke="#f90000"/>
<path d="M483.4 209.9L485.8 209.3L484.5 209.4L482.2 209.9z" stroke="#f90000"/>
<path d="M463.2 212.6L465.5 212.3L464.2 212.4L461.9 212.6z" stroke="#f90000"/>
<path d="M487.0 209.4L489.4 208.8L488.1 208.8L485.8 209.3z" stroke="#f90000"/>
<path d="M466.8 212.3L469.1 211.9L467.8 212.0L465.5 212.3z" stroke="#f90000"/>
<path d="M419.0 215.0L421.3 214.3L420.0 221.2L417.7 221.9z" stroke="#ff8500"/>
<path d="M490.6 208.9L492.9 208.3L491.7 208.3L489.4 208.8z" stroke="#f90000"/>
<path d="M435.7 214.8L438.0 214.6L436.7 214.0L434.4 214.6z" stroke="#ff0c00"/>
<path d="M470.4 212.0L472.7 211.5L471.4 211.5L469.1 211.9z" stroke="#f90000"/>
<path d="M432.1 215.0L434.4 214.6L433.1 213.1L430.8 213.9z" stroke="#fe0000"/>
<path d="M439.3 214.5L441.6 214.3L440.3 214.2L438.0 214.6z" stroke="#ff0700"/>
<path d="M526.6 209.8L528.9 209.8L527.6 209.4L525.3 209.4z" stroke="#f90000"/>
<path d="M494.2 208.4L496.5 208.0L495.3 208.0L492.9 208.3z" stroke="#f90000"/>
<path d="M523.0 209.3L525.3 209.4L524.0 209.1L521.7 209.0z" stroke="#f90000"/>
<path d="M442.9 214.1L445.2 214.0L443.9 214.1L441.6 214.3z" stroke="#fa0000"/>
<path d="M474.0 211.6L476.3 211.0L475.0 211.0L472.7 211.5z" stroke="#f90000"/>
<path d="M519.4 208.9L521.7 209.0L520.4 208.7L518.1 208.6z" stroke="#f90000"/>
<path d="M497.8 208.1L500.1 207.7L498.8 207.7L496.5 208.0z" stroke="#f90000"/>
<path d="M446.5 213.9L448.8 213.7L447.5 213.9L445.2 214.0z" stroke="#f90000"/>
<path d="M515.8 208.5L518.1 208.6L516.8 208.4L514.5 208.2z" stroke="#f90000"/>
<path d="M501.4 207.9L503.7 207.7L502.4 207.6L500.1 207.7z" stroke="#f90000"/>
<path d="M512.2 208.1L514.5 208.2L513.2 208.0L510.9 207.9z" stroke="#f90000"/>
<path d="M477.5 211.1L479.9 210.5L478.6 210.5L476.3 211.0z" stroke="#f90000"/>
<path d="M424.9 212.5L427.2 211.7L425.9 212.9L423.6 213.6z" stroke="#f90000"/>
<path d="M505.0 207.8L507.3 207.7L506.0 207.6L503.7 207.7z" stroke="#f90000"/>
<path d="M508.6 207.9L510.9 207.9L509.6 207.8L507.3 207.7z" stroke="#f90000"/>
<path d="M428.5 214.6L430.8 213.9L429.5 210.9L427.2 211.7z" stroke="#f90000"/>
<path d="M450.1 213.6L452.4 213.5L451.1 213.6L448.8 213.7z" stroke="#f90000"/>
<path d="M453.7 213.4L456.0 213.2L454.7 213.3L452.4 213.5z" stroke="#f90000"/>
<path d="M481.1 210.6L483.4 209.9L482.2 209.9L479.9 210.5z" stroke="#f90000"/>
<path d="M457.3 213.2L459.6 212.9L458.3 213.0L456.0 213.2z" stroke="#f90000"/>
<path d="M460.9 213.0L463.2 212.6L461.9 212.6L459.6 212.9z" stroke="#f90000"/>
<path d="M484.7 210.0L487.0 209.4L485.8 209.3L483.4 209.9z" stroke="#f90000"/>
<path d="M416.7 215.8L419.0 215.0L417.7 221.9L415.4 222.6z" stroke="#ff8500"/>
<path d="M464.5 212.7L466.8 212.3L465.5 212.3L463.2 212.6z" stroke="#f90000"/>
<path d="M488.3 209.5L490.6 208.9L489.4 208.8L487.0 209.4z" stroke="#f90000"/>
<path d="M468.1 212.5L470.4 212.0L469.1 211.9L466.8 212.3z" stroke="#f90000"/>
<path d="M429.8 215.3L432.1 215.0L430.8 213.9L428.5 214.6z" stroke="#f90000"/>
<path d="M433.4 214.9L435.7 214.8L434.4 214.6L432.1 215.0z" stroke="#fb0000"/>
<path d="M491.9 209.0L494.2 208.4L492.9 208.3L490.6 208.9z" stroke="#f90000"/>
<path d="M437.0 214.5L439.3 214.5L438.0 214.6L435.7 214.8z" stroke="#f90000"/>
<path d="M527.9 210.2L530.2 210.2L528.9 209.8L526.6 209.8z" stroke="#f90000"/>
<path d="M471.6 212.1L474.0 211.6L472.7 211.5L470.4 212.0z" stroke="#f90000"/>
<path d="M524.3 209.7L526.6 209.8L525.3 209.4L523.0 209.3z" stroke="#f90000"/>
<path d="M440.6 214.2L442.9 214.1L441.6 214.3L439.3 214.5z" stroke="#f90000"/>
<path d="M495.5 208.6L497.8 208.1L496.5 208.0L494.2 208.4z" stroke="#f90000"/>
<path d="M422.6 213.3L424.9 212.5L423.6 213.6L421.3 214.3z" stroke="#f90000"/>
<path d="M520.7 209.3L523.0 209.3L521.7 209.0L519.4 208.9z" stroke="#f90000"/>
<path d="M426.2 215.2L428.5 214.6L427.2 211.7L424.9 212.5z" stroke="#f90000"/>
<path d="M475.2 211.7L477.5 211.1L476.3 211.0L474.0 211.6z" stroke="#f90000"/>
<path d="M444.2 214.0L446.5 213.9L445.2 214.0L442.9 214.1z" stroke="#f90000"/>
<path d="M517.1 208.8L519.4 208.9L518.1 208.6L515.8 208.5z" stroke="#f90000"/>
<path d="M499.1 208.2L501.4 207.9L500.1 207.7L497.8 208.1z" stroke="#f90000"/>
<path d="M513.5 208.4L515.8 208.5L514.5 208.2L512.2 208.1z" stroke="#f90000"/>
<path d="M502.7 208.1L505.0 207.8L503.7 207.7L501.4 207.9z" stroke="#f90000"/>
<path d="M447.8 213.8L450.1 213.6L448.8 213.7L446.5 213.9z" stroke="#f90000"/>
<path d="M509.9 208.2L512.2 208.1L510.9 207.9L508.6 207.9z" stroke="#f90000"/>
<path d="M478.8 211.3L481.1 210.6L479.9 210.5L477.5 211.1z" stroke="#f90000"/>
<path d="M506.3 208.0L508.6 207.9L507.3 207.7L505.0 207.8z" stroke="#f90000"/>
<path d="M451.4 213.6L453.7 213.4L452.4 213.5L450.1 213.6z" stroke="#f90000"/>
<path d="M482.4 210.8L484.7 210.0L483.4 209.9L481.1 210.6z" stroke="#f90000"/>
<path d="M455.0 213.5L457.3 213.2L456.0 213.2L453.7 213.4z" stroke="#f90000"/>
<path d="M458.6 213.3L460.9 213.0L459.6 212.9L457.3 213.2z" stroke="#f90000"/>
<path d="M486.0 210.3L488.3 209.5L487.0 209.4L484.7 210.0z" stroke="#f90000"/>
<path d="M462.2 213.2L464.5 212.7L463.2 212.6L460.9 213.0z" stroke="#f90000"/>
<path d="M465.7 213.0L468.1 212.5L466.8 212.3L464.5 212.7z" stroke="#f90000"/>
<path d="M427.5 215.3L429.8 215.3L428.5 214.6L426.2 215.2z" stroke="#f90000"/>
<path d="M489.6 209.7L491.9 209.0L490.6 208.9L488.3 209.5z" stroke="#f90000"/>
<path d="M431.1 214.9L433.4 214.9L432.1 215.0L429.8 215.3z" stroke="#f90000"/>
<path d="M469.3 212.7L471.6 212.1L470.4 212.0L468.1 212.5z" stroke="#f90000"/>
<path d="M529.2 210.7L531.5 210.7L530.2 210.2L527.9 210.2z" stroke="#f90000"/>
<path d="M420.3 214.2L422.6 213.3L421.3 214.3L419.0 215.0z" stroke="#f90000"/>
<path d="M434.7 214.6L437.0 214.5L435.7 214.8L433.4 214.9z" stroke="#f90000"/>
<path d="M493.2 209.2L495.5 208.6L494.2 208.4L491.9 209.0z" stroke="#f90000"/>
<path d="M423.9 215.7L426.2 215.2L424.9 212.5L422.6 213.3z" stroke="#f90000"/>
<path d="M525.6 210.2L527.9 210.2L526.6 209.8L524.3 209.7z" stroke="#f90000"/>
<path d="M472.9 212.4L475.2 211.7L474.0 211.6L471.6 212.1z" stroke="#f90000"/>
<path d="M438.3 214.3L440.6 214.2L439.3 214.5L437.0 214.5z" stroke="#f90000"/>
<path d="M522.0 209.7L524.3 209.7L523.0 209.3L520.7 209.3z" stroke="#f90000"/>
<path d="M496.8 208.8L499.1 208.2L497.8 208.1L495.5 208.6z" stroke="#f90000"/>
<path d="M476.5 212.0L478.8 211.3L477.5 211.1L475.2 211.7z" stroke="#f90000"/>
<path d="M518.4 209.2L520.7 209.3L519.4 208.9L517.1 208.8z" stroke="#f90000"/>
<path d="M441.9 214.1L444.2 214.0L442.9 214.1L440.6 214.2z" stroke="#f90000"/>
<path d="M500.4 208.5L502.7 208.1L501.4 207.9L499.1 208.2z" stroke="#f90000"/>
<path d="M514.8 208.8L517.1 208.8L515.8 208.5L513.5 208.4z" stroke="#f90000"/>
<path d="M445.5 214.0L447.8 213.8L446.5 213.9L444.2 214.0z" stroke="#f90000"/>
<path d="M504.0 208.3L506.3 208.0L505.0 207.8L502.7 208.1z" stroke="#f90000"/>
<path d="M511.2 208.5L513.5 208.4L512.2 208.1L509.9 208.2z" stroke="#f90000"/>
<path d="M507.6 208.3L509.9 208.2L508.6 207.9L506.3 208.0z" stroke="#f90000"/>
<path d="M480.1 211.6L482.4 210.8L481.1 210.6L478.8 211.3z" stroke="#f90000"/>
<path d="M449.1 213.9L451.4 213.6L450.1 213.6L447.8 213.8z" stroke="#f90000"/>
<path d="M452.7 213.8L455.0 213.5L453.7 213.4L451.4 213.6z" stroke="#f90000"/>
<path d="M483.7 211.1L486.0 210.3L484.7 210.0L482.4 210.8z" stroke="#f90000"/>
<path d="M456.3 213.8L458.6 213.3L457.3 213.2L455.0 213.5z" stroke="#f90000"/>
<path d="M459.8 213.6L462.2 213.2L460.9 213.0L458.6 213.3z" stroke="#f90000"/>
<path d="M487.3 210.6L489.6 209.7L488.3 209.5L486.0 210.3z" stroke="#f90000"/>
<path d="M463.4 213.5L465.7 213.0L464.5 212.7L462.2 213.2z" stroke="#f90000"/>
<path d="M425.2 215.2L427.5 215.3L426.2 215.2L423.9 215.7z" stroke="#f90000"/>
<path d="M418.0 215.2L420.3 214.2L419.0 215.0L416.7 215.8z" stroke="#f90000"/>
<path d="M467.0 213.4L469.3 212.7L468.1 212.5L465.7 213.0z" stroke="#f90000"/>
<path d="M490.9 210.0L493.2 209.2L491.9 209.0L489.6 209.7z" stroke="#f90000"/>
<path d="M428.8 214.8L431.1 214.9L429.8 215.3L427.5 215.3z" stroke="#f90000"/>
<path d="M530.5 211.3L532.8 211.2L531.5 210.7L529.2 210.7z" stroke="#f90000"/>
<path d="M421.6 215.9L423.9 215.7L422.6 213.3L420.3 214.2z" stroke="#f90000"/>
<path d="M470.6 213.1L472.9 212.4L471.6 212.1L469.3 212.7z" stroke="#f90000"/>
<path d="M526.9 210.7L529.2 210.7L527.9 210.2L525.6 210.2z" stroke="#f90000"/>
<path d="M432.4 214.6L434.7 214.6L433.4 214.9L431.1 214.9z" stroke="#f90000"/>
<path d="M494.5 209.6L496.8 208.8L495.5 208.6L493.2 209.2z" stroke="#f90000"/>
<path d="M474.2 212.8L476.5 212.0L475.2 211.7L472.9 212.4z" stroke="#f90000"/>
<path d="M523.3 210.2L525.6 210.2L524.3 209.7L522.0 209.7z" stroke="#f90000"/>
<path d="M436.0 214.5L438.3 214.3L437.0 214.5L434.7 214.6z" stroke="#f90000"/>
<path d="M498.1 209.1L500.4 208.5L499.1 208.2L496.8 208.8z" stroke="#f90000"/>
<path d="M519.7 209.7L522.0 209.7L520.7 209.3L518.4 209.2z" stroke="#f90000"/>
<path d="M477.8 212.5L480.1 211.6L478.8 211.3L476.5 212.0z" stroke="#f90000"/>
<path d="M439.6 214.4L441.9 214.1L440.6 214.2L438.3 214.3z" stroke="#f90000"/>
<path d="M516.1 209.2L518.4 209.2L517.1 208.8L514.8 208.8z" stroke="#f90000"/>
<path d="M501.7 208.8L504.0 208.3L502.7 208.1L500.4 208.5z" stroke="#f90000"/>
<path d="M443.2 214.4L445.5 214.0L444.2 214.0L441.9 214.1z" stroke="#f90000"/>
<path d="M512.5 208.9L514.8 208.8L513.5 208.4L511.2 208.5z" stroke="#f90000"/>
<path d="M505.3 208.7L507.6 208.3L506.3 208.0L504.0 208.3z" stroke="#f90000"/>
<path d="M508.9 208.7L511.2 208.5L509.9 208.2L507.6 208.3z" stroke="#f90000"/>
<path d="M481.4 212.0L483.7 211.1L482.4 210.8L480.1 211.6z" stroke="#f90000"/>
<path d="M446.8 214.3L449.1 213.9L447.8 213.8L445.5 214.0z" stroke="#f90000"/>
<path d="M450.4 214.3L452.7 213.8L451.4 213.6L449.1 213.9z" stroke="#f90000"/>
<path d="M453.9 214.3L456.3 213.8L455.0 213.5L452.7 213.8z" stroke="#f90000"/>
<path d="M485.0 211.5L487.3 210.6L486.0 210.3L483.7 211.1z" stroke="#f90000"/>
<path d="M457.5 214.2L459.8 213.6L458.6 213.3L456.3 213.8z" stroke="#f90000"/>
<path d="M461.1 214.1L463.4 213.5L462.2 213.2L459.8 213.6z" stroke="#f90000"/>
<path d="M464.7 214.0L467.0 213.4L465.7 213.0L463.4 213.5z" stroke="#f90000"/>
<path d="M488.6 211.0L490.9 210.0L489.6 209.7L487.3 210.6z" stroke="#f90000"/>
<path d="M468.3 213.9L470.6 213.1L469.3 212.7L467.0 213.4z" stroke="#f90000"/>
<path d="M422.9 215.0L425.2 215.2L423.9 215.7L421.6 215.9z" stroke="#f90000"/>
<path d="M531.7 211.9L534.0 211.8L532.8 211.2L530.5 211.3z" stroke="#f90000"/>
<path d="M419.3 215.4L421.6 215.9L420.3 214.2L418.0 215.2z" stroke="#f90000"/>
<path d="M492.2 210.5L494.5 209.6L493.2 209.2L490.9 210.0z" stroke="#f90000"/>
<path d="M471.9 213.7L474.2 212.8L472.9 212.4L470.6 213.1z" stroke="#f90000"/>
<path d="M528.1 211.3L530.5 211.3L529.2 210.7L526.9 210.7z" stroke="#f90000"/>
<path d="M426.5 214.9L428.8 214.8L427.5 215.3L425.2 215.2z" stroke="#f90000"/>
<path d="M475.5 213.4L477.8 212.5L476.5 212.0L474.2 212.8z" stroke="#f90000"/>
<path d="M495.8 210.0L498.1 209.1L496.8 208.8L494.5 209.6z" stroke="#f90000"/>
<path d="M524.6 210.8L526.9 210.7L525.6 210.2L523.3 210.2z" stroke="#f90000"/>
<path d="M430.1 214.9L432.4 214.6L431.1 214.9L428.8 214.8z" stroke="#ff1600"/>
<path d="M521.0 210.2L523.3 210.2L522.0 209.7L519.7 209.7z" stroke="#f90000"/>
<path d="M433.7 214.9L436.0 214.5L434.7 214.6L432.4 214.6z" stroke="#ff0e00"/>
<path d="M479.1 213.0L481.4 212.0L480.1 211.6L477.8 212.5z" stroke="#f90000"/>
<path d="M499.4 209.5L501.7 208.8L500.4 208.5L498.1 209.1z" stroke="#f90000"/>
<path d="M437.3 214.9L439.6 214.4L438.3 214.3L436.0 214.5z" stroke="#ff0800"/>
<path d="M517.4 209.7L519.7 209.7L518.4 209.2L516.1 209.2z" stroke="#f90000"/>
<path d="M503.0 209.3L505.3 208.7L504.0 208.3L501.7 208.8z" stroke="#f90000"/>
<path d="M440.9 214.9L443.2 214.4L441.9 214.1L439.6 214.4z" stroke="#ff0500"/>
<path d="M513.8 209.4L516.1 209.2L514.8 208.8L512.5 208.9z" stroke="#f90000"/>
<path d="M444.4 214.9L446.8 214.3L445.5 214.0L443.2 214.4z" stroke="#ff0200"/>
<path d="M506.6 209.1L508.9 208.7L507.6 208.3L505.3 208.7z" stroke="#f90000"/>
<path d="M482.7 212.6L485.0 211.5L483.7 211.1L481.4 212.0z" stroke="#f90000"/>
<path d="M510.2 209.2L512.5 208.9L511.2 208.5L508.9 208.7z" stroke="#f90000"/>
<path d="M448.0 214.9L450.4 214.3L449.1 213.9L446.8 214.3z" stroke="#fe0000"/>
<path d="M451.6 214.9L453.9 214.3L452.7 213.8L450.4 214.3z" stroke="#fc0000"/>
<path d="M455.2 215.0L457.5 214.2L456.3 213.8L453.9 214.3z" stroke="#f90000"/>
<path d="M458.8 215.3L461.1 214.1L459.8 213.6L457.5 214.2z" stroke="#f90000"/>
<path d="M486.3 212.1L488.6 211.0L487.3 210.6L485.0 211.5z" stroke="#f90000"/>
<path d="M462.4 215.5L464.7 214.0L463.4 213.5L461.1 214.1z" stroke="#f90000"/>
<path d="M466.0 215.7L468.3 213.9L467.0 213.4L464.7 214.0z" stroke="#f90000"/>
<path d="M533.0 214.5L535.3 212.4L534.0 211.8L531.7 211.9z" stroke="#f90000"/>
<path d="M469.6 215.8L471.9 213.7L470.6 213.1L468.3 213.9z" stroke="#f90000"/>
<path d="M489.9 211.5L492.2 210.5L490.9 210.0L488.6 211.0z" stroke="#f90000"/>
<path d="M473.2 215.9L475.5 213.4L474.2 212.8L471.9 213.7z" stroke="#f90000"/>
<path d="M420.6 217.3L422.9 215.0L421.6 215.9L419.3 215.4z" stroke="#ff0e00"/>
<path d="M529.4 213.7L531.7 211.9L530.5 211.3L528.1 211.3z" stroke="#f90000"/>
<path d="M536.9 228.3L539.2 224.6L537.9 220.0L535.6 224.0z" stroke="#baff44"/>
<path d="M476.8 215.9L479.1 213.0L477.8 212.5L475.5 213.4z" stroke="#f90000"/>
<path d="M424.2 217.6L426.5 214.9L425.2 215.2L422.9 215.0z" stroke="#ff0300"/>
<path d="M493.5 211.0L495.8 210.0L494.5 209.6L492.2 210.5z" stroke="#f90000"/>
<path d="M534.6 232.0L536.9 228.3L535.6 224.0L533.3 227.9z" stroke="#3bffc3"/>
<path d="M525.8 212.8L528.1 211.3L526.9 210.7L524.6 210.8z" stroke="#f90000"/>
<path d="M467.6 233.3L469.9 229.5L468.6 225.3L466.3 229.4z" stroke="#0fffef"/>
<path d="M464.0 233.2L466.3 229.4L465.0 225.1L462.7 229.2z" stroke="#14ffea"/>
<path d="M427.8 217.9L430.1 214.9L428.8 214.8L426.5 214.9z" stroke="#fd0000"/>
<path d="M471.2 233.4L473.5 229.7L472.2 225.4L469.9 229.5z" stroke="#0afff4"/>
<path d="M460.4 233.0L462.7 229.2L461.4 224.9L459.1 229.1z" stroke="#1affe4"/>
<path d="M474.8 233.5L477.1 229.8L475.8 225.5L473.5 229.7z" stroke="#07fff7"/>
<path d="M456.8 232.8L459.1 229.1L457.8 224.7L455.5 228.9z" stroke="#20ffde"/>
<path d="M478.4 233.6L480.7 229.8L479.4 225.5L477.1 229.8z" stroke="#05fff9"/>
<path d="M453.2 232.7L455.5 228.9L454.2 224.5L451.9 228.7z" stroke="#27ffd7"/>
<path d="M533.3 227.9L535.6 224.0L534.3 219.4L532.0 223.5z" stroke="#cfff2f"/>
<path d="M431.4 218.1L433.7 214.9L432.4 214.6L430.1 214.9z" stroke="#fc0000"/>
<path d="M466.3 229.4L468.6 225.3L467.3 220.6L465.0 225.1z" stroke="#a0ff5e"/>
<path d="M469.9 229.5L472.2 225.4L470.9 220.8L468.6 225.3z" stroke="#9bff63"/>
<path d="M449.6 232.5L451.9 228.7L450.6 224.3L448.3 228.5z" stroke="#2effd0"/>
<path d="M531.0 231.6L533.3 227.9L532.0 223.5L529.7 227.5z" stroke="#4cffb2"/>
<path d="M462.7 229.2L465.0 225.1L463.7 220.5L461.4 224.9z" stroke="#a6ff58"/>
<path d="M535.6 224.0L537.9 220.0L536.6 215.2L534.3 219.4z" stroke="#ffa600"/>
<path d="M473.5 229.7L475.8 225.5L474.5 220.9L472.2 225.4z" stroke="#97ff67"/>
<path d="M482.0 233.7L484.3 229.9L483.0 225.6L480.7 229.8z" stroke="#03fffb"/>
<path d="M532.3 235.3L534.6 232.0L533.3 227.9L531.0 231.6z" stroke="#00c2ff"/>
<path d="M446.0 232.4L448.3 228.5L447.0 224.1L444.7 228.3z" stroke="#35ffc9"/>
<path d="M459.1 229.1L461.4 224.9L460.1 220.3L457.8 224.7z" stroke="#acff52"/>
<path d="M465.3 236.6L467.6 233.3L466.3 229.4L464.0 233.2z" stroke="#0092ff"/>
<path d="M461.7 236.5L464.0 233.2L462.7 229.2L460.4 233.0z" stroke="#0097ff"/>
<path d="M435.0 218.4L437.3 214.9L436.0 214.5L433.7 214.9z" stroke="#fa0000"/>
<path d="M458.1 236.3L460.4 233.0L459.1 229.1L456.8 232.8z" stroke="#009cff"/>
<path d="M468.9 236.7L471.2 233.4L469.9 229.5L467.6 233.3z" stroke="#008dff"/>
<path d="M480.4 215.9L482.7 212.6L481.4 212.0L479.1 213.0z" stroke="#f90000"/>
<path d="M454.5 236.2L456.8 232.8L455.5 228.9L453.2 232.7z" stroke="#00a1ff"/>
<path d="M477.1 229.8L479.4 225.5L478.1 220.9L475.8 225.5z" stroke="#96ff68"/>
<path d="M472.5 236.8L474.8 233.5L473.5 229.7L471.2 233.4z" stroke="#008aff"/>
<path d="M450.9 236.1L453.2 232.7L451.9 228.7L449.6 232.5z" stroke="#00a7ff"/>
<path d="M442.4 232.2L444.7 228.3L443.4 223.8L441.1 228.1z" stroke="#3cffc2"/>
<path d="M455.5 228.9L457.8 224.7L456.5 220.0L454.2 224.5z" stroke="#b4ff4a"/>
<path d="M447.3 236.0L449.6 232.5L448.3 228.5L446.0 232.4z" stroke="#00adff"/>
<path d="M476.1 236.9L478.4 233.6L477.1 229.8L474.8 233.5z" stroke="#0086ff"/>
<path d="M485.6 233.8L487.9 229.9L486.6 225.5L484.3 229.9z" stroke="#03fffb"/>
<path d="M438.5 218.7L440.9 214.9L439.6 214.4L437.3 214.9z" stroke="#fa0000"/>
<path d="M443.7 235.8L446.0 232.4L444.7 228.3L442.4 232.2z" stroke="#00b3ff"/>
<path d="M438.8 232.0L441.1 228.1L439.8 223.6L437.5 227.9z" stroke="#44ffba"/>
<path d="M534.3 219.4L536.6 215.2L535.3 212.4L533.0 214.5z" stroke="#fc0000"/>
<path d="M440.1 235.7L442.4 232.2L441.1 228.1L438.8 232.0z" stroke="#00b9ff"/>
<path d="M479.7 237.0L482.0 233.7L480.7 229.8L478.4 233.6z" stroke="#0084ff"/>
<path d="M451.9 228.7L454.2 224.5L452.9 219.8L450.6 224.3z" stroke="#bcff42"/>
<path d="M480.7 229.8L483.0 225.6L481.7 220.9L479.4 225.5z" stroke="#95ff69"/>
<path d="M436.5 235.5L438.8 232.0L437.5 227.9L435.2 231.8z" stroke="#00bfff"/>
<path d="M442.1 219.0L444.4 214.9L443.2 214.4L440.9 214.9z" stroke="#f90000"/>
<path d="M528.7 235.1L531.0 231.6L529.7 227.5L527.4 231.3z" stroke="#00ceff"/>
<path d="M522.2 212.0L524.6 210.8L523.3 210.2L521.0 210.2z" stroke="#f90000"/>
<path d="M435.2 231.8L437.5 227.9L436.2 223.3L433.9 227.7z" stroke="#4cffb2"/>
<path d="M432.9 235.4L435.2 231.8L433.9 227.7L431.6 231.6z" stroke="#00c5ff"/>
<path d="M483.2 237.1L485.6 233.8L484.3 229.9L482.0 233.7z" stroke="#0082ff"/>
<path d="M497.1 210.5L499.4 209.5L498.1 209.1L495.8 210.0z" stroke="#f90000"/>
<path d="M489.1 233.8L491.5 229.9L490.2 225.5L487.9 229.9z" stroke="#04fffa"/>
<path d="M448.3 228.5L450.6 224.3L449.3 219.5L447.0 224.1z" stroke="#c4ff3a"/>
<path d="M429.3 235.2L431.6 231.6L430.3 227.4L428.0 231.5z" stroke="#00ccff"/>
<path d="M445.7 219.3L448.0 214.9L446.8 214.3L444.4 214.9z" stroke="#f90000"/>
<path d="M527.4 231.3L529.7 227.5L528.4 222.9L526.1 227.0z" stroke="#5dffa1"/>
<path d="M431.6 231.6L433.9 227.7L432.6 223.1L430.3 227.4z" stroke="#53ffab"/>
<path d="M425.7 235.1L428.0 231.5L426.7 227.2L424.4 231.3z" stroke="#00d2ff"/>
<path d="M484.3 229.9L486.6 225.5L485.3 220.8L483.0 225.6z" stroke="#96ff68"/>
<path d="M486.8 237.2L489.1 233.8L487.9 229.9L485.6 233.8z" stroke="#0081ff"/>
<path d="M529.7 227.5L532.0 223.5L530.7 218.7L528.4 222.9z" stroke="#e5ff19"/>
<path d="M444.7 228.3L447.0 224.1L445.7 219.3L443.4 223.8z" stroke="#cdff31"/>
<path d="M449.3 219.5L451.6 214.9L450.4 214.3L448.0 214.9z" stroke="#f90000"/>
<path d="M428.0 231.5L430.3 227.4L429.1 222.8L426.7 227.2z" stroke="#5bffa3"/>
<path d="M460.1 220.3L462.4 215.5L461.1 214.1L458.8 215.3z" stroke="#ff0b00"/>
<path d="M463.7 220.5L466.0 215.7L464.7 214.0L462.4 215.5z" stroke="#ff1200"/>
<path d="M456.5 220.0L458.8 215.3L457.5 214.2L455.2 215.0z" stroke="#ff0200"/>
<path d="M492.7 233.9L495.0 229.9L493.8 225.4L491.5 229.9z" stroke="#05fff9"/>
<path d="M525.1 234.9L527.4 231.3L526.1 227.0L523.8 231.0z" stroke="#00dbff"/>
<path d="M452.9 219.8L455.2 215.0L453.9 214.3L451.6 214.9z" stroke="#fa0000"/>
<path d="M490.4 237.2L492.7 233.9L491.5 229.9L489.1 233.8z" stroke="#0080ff"/>
<path d="M441.1 228.1L443.4 223.8L442.1 219.0L439.8 223.6z" stroke="#d6ff28"/>
<path d="M424.4 231.3L426.7 227.2L425.5 222.6L423.2 227.0z" stroke="#63ff9b"/>
<path d="M468.6 225.3L470.9 220.8L469.6 215.8L467.3 220.6z" stroke="#ffc300"/>
<path d="M467.3 220.6L469.6 215.8L468.3 213.9L466.0 215.7z" stroke="#ff1700"/>
<path d="M465.0 225.1L467.3 220.6L466.0 215.7L463.7 220.5z" stroke="#ffbe00"/>
<path d="M532.0 223.5L534.3 219.4L533.0 214.5L530.7 218.7z" stroke="#ff8c00"/>
<path d="M472.2 225.4L474.5 220.9L473.2 215.9L470.9 220.8z" stroke="#ffc700"/>
<path d="M461.4 224.9L463.7 220.5L462.4 215.5L460.1 220.3z" stroke="#ffb700"/>
<path d="M487.9 229.9L490.2 225.5L488.9 220.7L486.6 225.5z" stroke="#99ff65"/>
<path d="M494.0 237.3L496.3 233.9L495.0 229.9L492.7 233.9z" stroke="#0080ff"/>
<path d="M496.3 233.9L498.6 229.9L497.4 225.4L495.0 229.9z" stroke="#07fff7"/>
<path d="M437.5 227.9L439.8 223.6L438.5 218.7L436.2 223.3z" stroke="#dfff1f"/>
<path d="M470.9 220.8L473.2 215.9L471.9 213.7L469.6 215.8z" stroke="#ff1b00"/>
<path d="M457.8 224.7L460.1 220.3L458.8 215.3L456.5 220.0z" stroke="#ffb000"/>
<path d="M521.5 234.6L523.8 231.0L522.5 226.6L520.2 230.7z" stroke="#00e7ff"/>
<path d="M475.8 225.5L478.1 220.9L476.8 215.9L474.5 220.9z" stroke="#ffc800"/>
<path d="M484.0 215.7L486.3 212.1L485.0 211.5L482.7 212.6z" stroke="#f90000"/>
<path d="M523.8 231.0L526.1 227.0L524.8 222.4L522.5 226.6z" stroke="#6eff90"/>
<path d="M530.0 238.3L532.3 235.3L531.0 231.6L528.7 235.1z" stroke="#0053ff"/>
<path d="M434.2 238.6L436.5 235.5L435.2 231.8L432.9 235.4z" stroke="#004bff"/>
<path d="M437.8 238.7L440.1 235.7L438.8 232.0L436.5 235.5z" stroke="#0046ff"/>
<path d="M430.6 238.4L432.9 235.4L431.6 231.6L429.3 235.2z" stroke="#0050ff"/>
<path d="M441.4 238.8L443.7 235.8L442.4 232.2L440.1 235.7z" stroke="#0042ff"/>
<path d="M497.6 237.4L499.9 233.9L498.6 229.9L496.3 233.9z" stroke="#007fff"/>
<path d="M427.0 238.3L429.3 235.2L428.0 231.5L425.7 235.1z" stroke="#0055ff"/>
<path d="M433.9 227.7L436.2 223.3L435.0 218.4L432.6 223.1z" stroke="#e8ff16"/>
<path d="M445.0 238.9L447.3 236.0L446.0 232.4L443.7 235.8z" stroke="#003dff"/>
<path d="M518.7 211.2L521.0 210.2L519.7 209.7L517.4 209.7z" stroke="#f90000"/>
<path d="M448.6 239.0L450.9 236.1L449.6 232.5L447.3 236.0z" stroke="#0039ff"/>
<path d="M454.2 224.5L456.5 220.0L455.2 215.0L452.9 219.8z" stroke="#ffa700"/>
<path d="M452.2 239.1L454.5 236.2L453.2 232.7L450.9 236.1z" stroke="#0034ff"/>
<path d="M499.9 233.9L502.2 229.9L500.9 225.3L498.6 229.9z" stroke="#07fff7"/>
<path d="M455.8 239.2L458.1 236.3L456.8 232.8L454.5 236.2z" stroke="#0030ff"/>
<path d="M526.4 238.2L528.7 235.1L527.4 231.3L525.1 234.9z" stroke="#005cff"/>
<path d="M459.4 239.2L461.7 236.5L460.4 233.0L458.1 236.3z" stroke="#002cff"/>
<path d="M491.5 229.9L493.8 225.4L492.5 220.6L490.2 225.5z" stroke="#9cff62"/>
<path d="M530.7 218.7L533.0 214.5L531.7 211.9L529.4 213.7z" stroke="#f90000"/>
<path d="M479.4 225.5L481.7 220.9L480.4 215.9L478.1 220.9z" stroke="#ffc700"/>
<path d="M517.9 234.4L520.2 230.7L518.9 226.2L516.6 230.4z" stroke="#00f1ff"/>
<path d="M463.0 239.3L465.3 236.6L464.0 233.2L461.7 236.5z" stroke="#0028ff"/>
<path d="M500.7 210.0L503.0 209.3L501.7 208.8L499.4 209.5z" stroke="#f90000"/>
<path d="M474.5 220.9L476.8 215.9L475.5 213.4L473.2 215.9z" stroke="#ff1b00"/>
<path d="M450.6 224.3L452.9 219.8L451.6 214.9L449.3 219.5z" stroke="#ff9e00"/>
<path d="M466.6 239.4L468.9 236.7L467.6 233.3L465.3 236.6z" stroke="#0024ff"/>
<path d="M501.2 237.4L503.5 234.0L502.2 229.9L499.9 233.9z" stroke="#007eff"/>
<path d="M526.1 227.0L528.4 222.9L527.1 218.0L524.8 222.4z" stroke="#fbff03"/>
<path d="M430.3 227.4L432.6 223.1L431.4 218.1L429.1 222.8z" stroke="#f1ff0d"/>
<path d="M522.8 238.0L525.1 234.9L523.8 231.0L521.5 234.6z" stroke="#0064ff"/>
<path d="M470.2 239.5L472.5 236.8L471.2 233.4L468.9 236.7z" stroke="#0021ff"/>
<path d="M503.5 234.0L505.8 229.9L504.5 225.4L502.2 229.9z" stroke="#07fff7"/>
<path d="M447.0 224.1L449.3 219.5L448.0 214.9L445.7 219.3z" stroke="#ff9400"/>
<path d="M514.3 234.3L516.6 230.4L515.3 225.9L513.0 230.2z" stroke="#00faff"/>
<path d="M473.7 239.6L476.1 236.9L474.8 233.5L472.5 236.8z" stroke="#001dff"/>
<path d="M504.8 237.5L507.1 234.0L505.8 229.9L503.5 234.0z" stroke="#007dff"/>
<path d="M443.4 223.8L445.7 219.3L444.4 214.9L442.1 219.0z" stroke="#ff8a00"/>
<path d="M519.2 237.9L521.5 234.6L520.2 230.7L517.9 234.4z" stroke="#006bff"/>
<path d="M507.1 234.0L509.4 230.0L508.1 225.5L505.8 229.9z" stroke="#05fff9"/>
<path d="M520.2 230.7L522.5 226.6L521.2 221.8L518.9 226.2z" stroke="#7eff80"/>
<path d="M510.7 234.1L513.0 230.2L511.7 225.6L509.4 230.0z" stroke="#01fffd"/>
<path d="M477.3 239.7L479.7 237.0L478.4 233.6L476.1 236.9z" stroke="#001aff"/>
<path d="M426.7 227.2L429.1 222.8L427.8 217.9L425.5 222.6z" stroke="#faff04"/>
<path d="M508.4 237.6L510.7 234.1L509.4 230.0L507.1 234.0z" stroke="#007aff"/>
<path d="M515.6 237.8L517.9 234.4L516.6 230.4L514.3 234.3z" stroke="#0072ff"/>
<path d="M495.0 229.9L497.4 225.4L496.1 220.5L493.8 225.4z" stroke="#a0ff5e"/>
<path d="M512.0 237.7L514.3 234.3L513.0 230.2L510.7 234.1z" stroke="#0077ff"/>
<path d="M439.8 223.6L442.1 219.0L440.9 214.9L438.5 218.7z" stroke="#ff8000"/>
<path d="M483.0 225.6L485.3 220.8L484.0 215.7L481.7 220.9z" stroke="#ffc400"/>
<path d="M480.9 239.7L483.2 237.1L482.0 233.7L479.7 237.0z" stroke="#0018ff"/>
<path d="M436.2 223.3L438.5 218.7L437.3 214.9L435.0 218.4z" stroke="#ff7500"/>
<path d="M478.1 220.9L480.4 215.9L479.1 213.0L476.8 215.9z" stroke="#ff1900"/>
<path d="M423.2 227.0L425.5 222.6L424.2 217.6L421.9 222.3z" stroke="#fff900"/>
<path d="M484.5 239.8L486.8 237.2L485.6 233.8L483.2 237.1z" stroke="#0016ff"/>
<path d="M515.1 210.5L517.4 209.7L516.1 209.2L513.8 209.4z" stroke="#f90000"/>
<path d="M528.4 222.9L530.7 218.7L529.4 213.7L527.1 218.0z" stroke="#ff7100"/>
<path d="M432.6 223.1L435.0 218.4L433.7 214.9L431.4 218.1z" stroke="#ff6b00"/>
<path d="M488.1 239.9L490.4 237.2L489.1 233.8L486.8 237.2z" stroke="#0014ff"/>
<path d="M516.6 230.4L518.9 226.2L517.6 221.3L515.3 225.9z" stroke="#8bff73"/>
<path d="M498.6 229.9L500.9 225.3L499.7 220.4L497.4 225.4z" stroke="#a2ff5c"/>
<path d="M504.3 209.8L506.6 209.1L505.3 208.7L503.0 209.3z" stroke="#f90000"/>
<path d="M429.1 222.8L431.4 218.1L430.1 214.9L427.8 217.9z" stroke="#ff6000"/>
<path d="M486.6 225.5L488.9 220.7L487.6 215.6L485.3 220.8z" stroke="#ffc000"/>
<path d="M491.7 240.0L494.0 237.3L492.7 233.9L490.4 237.2z" stroke="#0012ff"/>
<path d="M425.5 222.6L427.8 217.9L426.5 214.9L424.2 217.6z" stroke="#ff5500"/>
<path d="M487.6 215.6L489.9 211.5L488.6 211.0L486.3 212.1z" stroke="#f90000"/>
<path d="M522.5 226.6L524.8 222.4L523.5 217.3L521.2 221.8z" stroke="#ffec00"/>
<path d="M421.9 222.3L424.2 217.6L422.9 215.0L420.6 217.3z" stroke="#ff4a00"/>
<path d="M502.2 229.9L504.5 225.4L503.3 220.4L500.9 225.3z" stroke="#a4ff5a"/>
<path d="M511.5 210.0L513.8 209.4L512.5 208.9L510.2 209.2z" stroke="#f90000"/>
<path d="M513.0 230.2L515.3 225.9L514.0 220.9L511.7 225.6z" stroke="#96ff68"/>
<path d="M495.3 240.0L497.6 237.4L496.3 233.9L494.0 237.3z" stroke="#0011ff"/>
<path d="M481.7 220.9L484.0 215.7L482.7 212.6L480.4 215.9z" stroke="#ff1400"/>
<path d="M507.9 209.6L510.2 209.2L508.9 208.7L506.6 209.1z" stroke="#f90000"/>
<path d="M527.1 218.0L529.4 213.7L528.1 211.3L525.8 212.8z" stroke="#f90000"/>
<path d="M505.8 229.9L508.1 225.5L506.8 220.4L504.5 225.4z" stroke="#a2ff5c"/>
<path d="M509.4 230.0L511.7 225.6L510.4 220.6L508.1 225.5z" stroke="#9eff60"/>
<path d="M498.9 240.1L501.2 237.4L499.9 233.9L497.6 237.4z" stroke="#000fff"/>
<path d="M490.2 225.5L492.5 220.6L491.2 215.4L488.9 220.7z" stroke="#ffba00"/>
<path d="M502.5 240.2L504.8 237.5L503.5 234.0L501.2 237.4z" stroke="#000eff"/>
<path d="M506.1 240.2L508.4 237.6L507.1 234.0L504.8 237.5z" stroke="#000bff"/>
<path d="M509.7 240.3L512.0 237.7L510.7 234.1L508.4 237.6z" stroke="#0009ff"/>
<path d="M518.9 226.2L521.2 221.8L519.9 216.7L517.6 221.3z" stroke="#ffd800"/>
<path d="M513.3 240.4L515.6 237.8L514.3 234.3L512.0 237.7z" stroke="#0006ff"/>
<path d="M524.8 222.4L527.1 218.0L525.8 212.8L523.5 217.3z" stroke="#ff5500"/>
<path d="M516.9 240.4L519.2 237.9L517.9 234.4L515.6 237.8z" stroke="#0002ff"/>
<path d="M527.7 240.6L530.0 238.3L528.7 235.1L526.4 238.2z" stroke="#0000f3"/>
<path d="M520.5 240.5L522.8 238.0L521.5 234.6L519.2 237.9z" stroke="#0000fd"/>
<path d="M524.1 240.6L526.4 238.2L525.1 234.9L522.8 238.0z" stroke="#0000f8"/>
<path d="M428.3 240.7L430.6 238.4L429.3 235.2L427.0 238.3z" stroke="#0000ef"/>
<path d="M485.3 220.8L487.6 215.6L486.3 212.1L484.0 215.7z" stroke="#ff0d00"/>
<path d="M431.9 240.8L434.2 238.6L432.9 235.4L430.6 238.4z" stroke="#0000eb"/>
<path d="M493.8 225.4L496.1 220.5L494.8 215.2L492.5 220.6z" stroke="#ffb400"/>
<path d="M435.5 240.8L437.8 238.7L436.5 235.5L434.2 238.6z" stroke="#0000e8"/>
<path d="M439.1 240.9L441.4 238.8L440.1 235.7L437.8 238.7z" stroke="#0000e5"/>
<path d="M491.2 215.4L493.5 211.0L492.2 210.5L489.9 211.5z" stroke="#f90000"/>
<path d="M442.7 240.9L445.0 238.9L443.7 235.8L441.4 238.8z" stroke="#0000e2"/>
<path d="M446.3 241.0L448.6 239.0L447.3 236.0L445.0 238.9z" stroke="#0000df"/>
<path d="M515.3 225.9L517.6 221.3L516.3 216.1L514.0 220.9z" stroke="#ffc700"/>
<path d="M449.9 241.0L452.2 239.1L450.9 236.1L448.6 239.0z" stroke="#0000dc"/>
<path d="M523.5 217.3L525.8 212.8L524.6 210.8L522.2 212.0z" stroke="#f90000"/>
<path d="M497.4 225.4L499.7 220.4L498.4 215.1L496.1 220.5z" stroke="#ffaf00"/>
<path d="M453.5 241.0L455.8 239.2L454.5 236.2L452.2 239.1z" stroke="#0000d9"/>
<path d="M457.1 241.1L459.4 239.2L458.1 236.3L455.8 239.2z" stroke="#0000d6"/>
<path d="M488.9 220.7L491.2 215.4L489.9 211.5L487.6 215.6z" stroke="#ff0500"/>
<path d="M460.7 241.1L463.0 239.3L461.7 236.5L459.4 239.2z" stroke="#0000d3"/>
<path d="M511.7 225.6L514.0 220.9L512.7 215.6L510.4 220.6z" stroke="#ffba00"/>
<path d="M500.9 225.3L503.3 220.4L502.0 215.0L499.7 220.4z" stroke="#ffac00"/>
<path d="M464.3 241.1L466.6 239.4L465.3 236.6L463.0 239.3z" stroke="#0000d1"/>
<path d="M521.2 221.8L523.5 217.3L522.2 212.0L519.9 216.7z" stroke="#ff3a00"/>
<path d="M467.8 241.1L470.2 239.5L468.9 236.7L466.6 239.4z" stroke="#0000ce"/>
<path d="M504.5 225.4L506.8 220.4L505.6 215.1L503.3 220.4z" stroke="#ffad00"/>
<path d="M508.1 225.5L510.4 220.6L509.2 215.3L506.8 220.4z" stroke="#ffb100"/>
<path d="M471.4 241.2L473.7 239.6L472.5 236.8L470.2 239.5z" stroke="#0000cc"/>
<path d="M475.0 241.2L477.3 239.7L476.1 236.9L473.7 239.6z" stroke="#0000ca"/>
<path d="M494.8 215.2L497.1 210.5L495.8 210.0L493.5 211.0z" stroke="#f90000"/>
<path d="M478.6 241.2L480.9 239.7L479.7 237.0L477.3 239.7z" stroke="#0000c8"/>
<path d="M492.5 220.6L494.8 215.2L493.5 211.0L491.2 215.4z" stroke="#fb0000"/>
<path d="M519.9 216.7L522.2 212.0L521.0 210.2L518.7 211.2z" stroke="#f90000"/>
<path d="M482.2 241.2L484.5 239.8L483.2 237.1L480.9 239.7z" stroke="#0000c6"/>
<path d="M485.8 241.3L488.1 239.9L486.8 237.2L484.5 239.8z" stroke="#0000c4"/>
<path d="M489.4 241.3L491.7 240.0L490.4 237.2L488.1 239.9z" stroke="#0000c2"/>
<path d="M517.6 221.3L519.9 216.7L518.7 211.2L516.3 216.1z" stroke="#ff2200"/>
<path d="M493.0 241.3L495.3 240.0L494.0 237.3L491.7 240.0z" stroke="#0000c0"/>
<path d="M496.6 241.3L498.9 240.1L497.6 237.4L495.3 240.0z" stroke="#0000bf"/>
<path d="M496.1 220.5L498.4 215.1L497.1 210.5L494.8 215.2z" stroke="#f90000"/>
<path d="M498.4 215.1L500.7 210.0L499.4 209.5L497.1 210.5z" stroke="#f90000"/>
<path d="M500.2 241.4L502.5 240.2L501.2 237.4L498.9 240.1z" stroke="#0000bd"/>
<path d="M516.3 216.1L518.7 211.2L517.4 209.7L515.1 210.5z" stroke="#f90000"/>
<path d="M503.8 241.4L506.1 240.2L504.8 237.5L502.5 240.2z" stroke="#0000bb"/>
<path d="M514.0 220.9L516.3 216.1L515.1 210.5L512.7 215.6z" stroke="#ff0d00"/>
<path d="M507.4 241.4L509.7 240.3L508.4 237.6L506.1 240.2z" stroke="#0000b9"/>
<path d="M499.7 220.4L502.0 215.0L500.7 210.0L498.4 215.1z" stroke="#f90000"/>
<path d="M511.0 241.4L513.3 240.4L512.0 237.7L509.7 240.3z" stroke="#0000b8"/>
<path d="M514.6 241.5L516.9 240.4L515.6 237.8L513.3 240.4z" stroke="#0000b6"/>
<path d="M502.0 215.0L504.3 209.8L503.0 209.3L500.7 210.0z" stroke="#f90000"/>
<path d="M518.2 241.5L520.5 240.5L519.2 237.9L516.9 240.4z" stroke="#0000b4"/>
<path d="M510.4 220.6L512.7 215.6L511.5 210.0L509.2 215.3z" stroke="#fd0000"/>
<path d="M512.7 215.6L515.1 210.5L513.8 209.4L511.5 210.0z" stroke="#f90000"/>
<path d="M521.8 241.5L524.1 240.6L522.8 238.0L520.5 240.5z" stroke="#0000b2"/>
<path d="M503.3 220.4L505.6 215.1L504.3 209.8L502.0 215.0z" stroke="#f90000"/>
<path d="M525.4 241.5L527.7 240.6L526.4 238.2L524.1 240.6z" stroke="#0000b0"/>
<path d="M506.8 220.4L509.2 215.3L507.9 209.6L505.6 215.1z" stroke="#f90000"/>
<path d="M505.6 215.1L507.9 209.6L506.6 209.1L504.3 209.8z" stroke="#f90000"/>
<path d="M429.6 241.6L431.9 240.8L430.6 238.4L428.3 240.7z" stroke="#0000ad"/>
<path d="M509.2 215.3L511.5 210.0L510.2 209.2L507.9 209.6z" stroke="#f90000"/>
<path d="M433.2 241.6L435.5 240.8L434.2 238.6L431.9 240.8z" stroke="#0000ab"/>
<path d="M436.8 241.7L439.1 240.9L437.8 238.7L435.5 240.8z" stroke="#0000aa"/>
<path d="M440.4 241.7L442.7 240.9L441.4 238.8L439.1 240.9z" stroke="#0000a9"/>
<path d="M444.0 241.7L446.3 241.0L445.0 238.9L442.7 240.9z" stroke="#0000a9"/>
<path d="M447.6 241.7L449.9 241.0L448.6 239.0L446.3 241.0z" stroke="#0000a8"/>
<path d="M451.2 241.8L453.5 241.0L452.2 239.1L449.9 241.0z" stroke="#0000a8"/>
<path d="M454.8 241.8L457.1 241.1L455.8 239.2L453.5 241.0z" stroke="#0000a8"/>
<path d="M458.4 241.8L460.7 241.1L459.4 239.2L457.1 241.1z" stroke="#0000a8"/>
<path d="M461.9 241.8L464.3 241.1L463.0 239.3L460.7 241.1z" stroke="#0000a8"/>
<path d="M465.5 241.9L467.8 241.1L466.6 239.4L464.3 241.1z" stroke="#0000a8"/>
<path d="M469.1 241.9L471.4 241.2L470.2 239.5L467.8 241.1z" stroke="#0000a8"/>
<path d="M472.7 241.9L475.0 241.2L473.7 239.6L471.4 241.2z" stroke="#0000a8"/>
<path d="M476.3 241.9L478.6 241.2L477.3 239.7L475.0 241.2z" stroke="#0000a8"/>
<path d="M479.9 242.0L482.2 241.2L480.9 239.7L478.6 241.2z" stroke="#0000a8"/>
<path d="M483.5 242.0L485.8 241.3L484.5 239.8L482.2 241.2z" stroke="#0000a8"/>
<path d="M487.1 242.0L489.4 241.3L488.1 239.9L485.8 241.3z" stroke="#0000a8"/>
<path d="M490.7 242.0L493.0 241.3L491.7 240.0L489.4 241.3z" stroke="#0000a8"/>
<path d="M494.3 242.1L496.6 241.3L495.3 240.0L493.0 241.3z" stroke="#0000a8"/>
<path d="M497.9 242.1L500.2 241.4L498.9 240.1L496.6 241.3z" stroke="#0000a8"/>
<path d="M501.5 242.1L503.8 241.4L502.5 240.2L500.2 241.4z" stroke="#0000a8"/>
<path d="M505.1 242.1L507.4 241.4L506.1 240.2L503.8 241.4z" stroke="#0000a8"/>
<path d="M508.7 242.2L511.0 241.4L509.7 240.3L507.4 241.4z" stroke="#0000a8"/>
<path d="M512.3 242.2L514.6 241.5L513.3 240.4L511.0 241.4z" stroke="#0000a8"/>
<path d="M515.9 242.2L518.2 241.5L516.9 240.4L514.6 241.5z" stroke="#0000a8"/>
<path d="M519.5 242.2L521.8 241.5L520.5 240.5L518.2 241.5z" stroke="#0000a8"/>
<path d="M523.1 242.3L525.4 241.5L524.1 240.6L521.8 241.5z" stroke="#0000a8"/>
<path d="M430.9 242.4L433.2 241.6L431.9 240.8L429.6 241.6z" stroke="#0000a8"/>
<path d="M434.5 242.4L436.8 241.7L435.5 240.8L433.2 241.6z" stroke="#0000a8"/>
<path d="M438.1 242.4L440.4 241.7L439.1 240.9L436.8 241.7z" stroke="#0000a8"/>
<path d="M441.7 242.4L444.0 241.7L442.7 240.9L440.4 241.7z" stroke="#0000a8"/>
<path d="M445.3 242.5L447.6 241.7L446.3 241.0L444.0 241.7z" stroke="#0000a8" fill="#aab2e6"/>
<path d="M448.9 242.5L451.2 241.8L449.9 241.0L447.6 241.7z" stroke="#0000a8" fill="#aab2e6"/>
<path d="M452.5 242.5L454.8 241.8L453.5 241.0L451.2 241.8z" stroke="#0000a8" fill="#aab2e6"/>
<path d="M456.0 242.5L458.4 241.8L457.1 241.1L454.8 241.8z" stroke="#0000a8" fill="#aab2e6"/>
<path d="M459.6 242.6L461.9 241.8L460.7 241.1L458.4 241.8z" stroke="#0000a8" fill="#aab2e6"/>
<path d="M463.2 242.6L465.5 241.9L464.3 241.1L461.9 241.8z" stroke="#0000a8" fill="#aab2e6"/>
<path d="M466.8 242.6L469.1 241.9L467.8 241.1L465.5 241.9z" stroke="#0000a8" fill="#aab2e6"/>
<path d="M470.4 242.6L472.7 241.9L471.4 241.2L469.1 241.9z" stroke="#0000a8" fill="#aab2e6"/>
<path d="M474.0 242.7L476.3 241.9L475.0 241.2L472.7 241.9z" stroke="#0000a8" fill="#aab2e6"/>
<path d="M477.6 242.7L479.9 242.0L478.6 241.2L476.3 241.9z" stroke="#0000a8" fill="#aab2e6"/>
<path d="M481.2 242.7L483.5 242.0L482.2 241.2L479.9 242.0z" stroke="#0000a8" fill="#aab2e6"/>
<path d="M484.8 242.7L487.1 242.0L485.8 241.3L483.5 242.0z" stroke="#0000a8" fill="#aab2e6"/>
<path d="M488.4 242.8L490.7 242.0L489.4 241.3L487.1 242.0z" stroke="#0000a8" fill="#aab2e6"/>
<path d="M492.0 242.8L494.3 242.1L493.0 241.3L490.7 242.0z" stroke="#0000a8" fill="#aab2e6"/>
<path d="M495.6 242.8L497.9 242.1L496.6 241.3L494.3 242.1z" stroke="#0000a8" fill="#aab2e6"/>
<path d="M499.2 242.8L501.5 242.1L500.2 241.4L497.9 242.1z" stroke="#0000a8" fill="#aab2e6"/>
<path d="M502.8 242.9L505.1 242.1L503.8 241.4L501.5 242.1z" stroke="#0000a8" fill="#aab2e6"/>
<path d="M506.4 242.9L508.7 242.2L507.4 241.4L505.1 242.1z" stroke="#0000a8" fill="#aab2e6"/>
<path d="M510.0 242.9L512.3 242.2L511.0 241.4L508.7 242.2z" stroke="#0000a8" fill="#aab2e6"/>
<path d="M513.6 242.9L515.9 242.2L514.6 241.5L512.3 242.2z" stroke="#0000a8" fill="#aab2e6"/>
<path d="M517.2 243.0L519.5 242.2L518.2 241.5L515.9 242.2z" stroke="#0000a8" fill="#aab2e6"/>
<path d="M520.8 243.0L523.1 242.3L521.8 241.5L519.5 242.2z" stroke="#0000a8" fill="#aab2e6"/>
<path d="M432.2 243.1L434.5 242.4L433.2 241.6L430.9 242.4z" stroke="#0000a8" fill="#aab2e6"/>
<path d="M435.8 243.1L438.1 242.4L436.8 241.7L434.5 242.4z" stroke="#0000a8" fill="#aab2e6"/>
<path d="M439.4 243.2L441.7 242.4L440.4 241.7L438.1 242.4z" stroke="#0000a8" fill="#aab2e6"/>
<path d="M443.0 243.2L445.3 242.5L444.0 241.7L441.7 242.4z" stroke="#0000a8" fill="#aab2e6"/>
<path d="M446.6 243.2L448.9 242.5L447.6 241.7L445.3 242.5z" stroke="#0000a8" fill="#aab2e6"/>
<path d="M450.1 243.2L452.5 242.5L451.2 241.8L448.9 242.5z" stroke="#0000a8" fill="#aab2e6"/>
<path d="M453.7 243.3L456.0 242.5L454.8 241.8L452.5 242.5z" stroke="#0000a8" fill="#aab2e6"/>
<path d="M457.3 243.3L459.6 242.6L458.4 241.8L456.0 242.5z" stroke="#0000a8" fill="#aab2e6"/>
<path d="M460.9 243.3L463.2 242.6L461.9 241.8L459.6 242.6z" stroke="#0000a8" fill="#aab2e6"/>
<path d="M464.5 243.3L466.8 242.6L465.5 241.9L463.2 242.6z" stroke="#0000a8" fill="#aab2e6"/>
<path d="M468.1 243.4L470.4 242.6L469.1 241.9L466.8 242.6z" stroke="#0000a8" fill="#aab2e6"/>
<path d="M471.7 243.4L474.0 242.7L472.7 241.9L470.4 242.6z" stroke="#0000a8" fill="#aab2e6"/>
<path d="M475.3 243.4L477.6 242.7L476.3 241.9L474.0 242.7z" stroke="#0000a8" fill="#aab2e6"/>
<path d="M478.9 243.4L481.2 242.7L479.9 242.0L477.6 242.7z" stroke="#0000a8" fill="#aab2e6"/>
<path d="M482.5 243.5L484.8 242.7L483.5 242.0L481.2 242.7z" stroke="#0000a8" fill="#aab2e6"/>
<path d="M486.1 243.5L488.4 242.8L487.1 242.0L484.8 242.7z" stroke="#0000a8" fill="#aab2e6"/>
<path d="M489.7 243.5L492.0 242.8L490.7 242.0L488.4 242.8z" stroke="#0000a8" fill="#aab2e6"/>
<path d="M493.3 243.5L495.6 242.8L494.3 242.1L492.0 242.8z" stroke="#0000a8" fill="#aab2e6"/>
<path d="M496.9 243.6L499.2 242.8L497.9 242.1L495.6 242.8z" stroke="#0000a8" fill="#aab2e6"/>
<path d="M500.5 243.6L502.8 242.9L501.5 242.1L499.2 242.8z" stroke="#0000a8" fill="#aab2e6"/>
<path d="M504.1 243.6L506.4 242.9L505.1 242.1L502.8 242.9z" stroke="#0000a8" fill="#aab2e6"/>
<path d="M507.7 243.6L510.0 242.9L508.7 242.2L506.4 242.9z" stroke="#0000a8" fill="#aab2e6"/>
<path d="M511.3 243.7L513.6 242.9L512.3 242.2L510.0 242.9z" stroke="#0000a8" fill="#aab2e6"/>
<path d="M514.9 243.7L517.2 243.0L515.9 242.2L513.6 242.9z" stroke="#0000a8" fill="#aab2e6"/>
<path d="M518.4 243.7L520.8 243.0L519.5 242.2L517.2 243.0z" stroke="#0000a8" fill="#aab2e6"/>
<path d="M433.5 243.9L435.8 243.1L434.5 242.4L432.2 243.1z" stroke="#0000a8" fill="#aab2e6"/>
<path d="M437.1 243.9L439.4 243.2L438.1 242.4L435.8 243.1z" stroke="#0000a8" fill="#aab2e6"/>
<path d="M440.7 243.9L443.0 243.2L441.7 242.4L439.4 243.2z" stroke="#0000a8" fill="#aab2e6"/>
<path d="M444.2 243.9L446.6 243.2L445.3 242.5L443.0 243.2z" stroke="#0000a8" fill="#aab2e6"/>
<path d="M447.8 244.0L450.1 243.2L448.9 242.5L446.6 243.2z" stroke="#0000a8" fill="#aab2e6"/>
<path d="M451.4 244.0L453.7 243.3L452.5 242.5L450.1 243.2z" stroke="#0000a8" fill="#aab2e6"/>
<path d="M455.0 244.0L457.3 243.3L456.0 242.5L453.7 243.3z" stroke="#0000a8" fill="#aab2e6"/>
<path d="M458.6 244.0L460.9 243.3L459.6 242.6L457.3 243.3z" stroke="#0000a8" fill="#aab2e6"/>
<path d="M462.2 244.1L464.5 243.3L463.2 242.6L460.9 243.3z" stroke="#0000a8" fill="#aab2e6"/>
<path d="M465.8 244.1L468.1 243.4L466.8 242.6L464.5 243.3z" stroke="#0000a8" fill="#aab2e6"/>
<path d="M469.4 244.1L471.7 243.4L470.4 242.6L468.1 243.4z" stroke="#0000a8" fill="#aab2e6"/>
<path d="M473.0 244.1L475.3 243.4L474.0 242.7L471.7 243.4z" stroke="#0000a8" fill="#aab2e6"/>
<path d="M476.6 244.2L478.9 243.4L477.6 242.7L475.3 243.4z" stroke="#0000a8" fill="#aab2e6"/>
<path d="M480.2 244.2L482.5 243.5L481.2 242.7L478.9 243.4z" stroke="#0000a8" fill="#aab2e6"/>
<path d="M483.8 244.2L486.1 243.5L484.8 242.7L482.5 243.5z" stroke="#0000a8" fill="#aab2e6"/>
<path d="M487.4 244.2L489.7 243.5L488.4 242.8L486.1 243.5z" stroke="#0000a8" fill="#aab2e6"/>
<path d="M491.0 244.3L493.3 243.5L492.0 242.8L489.7 243.5z" stroke="#0000a8" fill="#aab2e6"/>
<path d="M494.6 244.3L496.9 243.6L495.6 242.8L493.3 243.5z" stroke="#0000a8" fill="#aab2e6"/>
<path d="M498.2 244.3L500.5 243.6L499.2 242.8L496.9 243.6z" stroke="#0000a8" fill="#aab2e6"/>
<path d="M501.8 244.3L504.1 243.6L502.8 242.9L500.5 243.6z" stroke="#0000a8" fill="#aab2e6"/>
<path d="M505.4 244.4L507.7 243.6L506.4 242.9L504.1 243.6z" stroke="#0000a8" fill="#aab2e6"/>
<path d="M509.0 244.4L511.3 243.7L510.0 242.9L507.7 243.6z" stroke="#0000a8" fill="#aab2e6"/>
<path d="M512.5 244.4L514.9 243.7L513.6 242.9L511.3 243.7z" stroke="#0000a8" fill="#aab2e6"/>
<path d="M516.1 244.4L518.4 243.7L517.2 243.0L514.9 243.7z" stroke="#0000a8" fill="#aab2e6"/>
<path d="M434.8 244.6L437.1 243.9L435.8 243.1L433.5 243.9z" stroke="#0000a8" fill="#aab2e6"/>
<path d="M438.3 244.6L440.7 243.9L439.4 243.2L437.1 243.9z" stroke="#0000a8" fill="#aab2e6"/>
<path d="M441.9 244.7L444.2 243.9L443.0 243.2L440.7 243.9z" stroke="#0000a8" fill="#aab2e6"/>
<path d="M445.5 244.7L447.8 244.0L446.6 243.2L444.2 243.9z" stroke="#0000a8" fill="#aab2e6"/>
<path d="M449.1 244.7L451.4 244.0L450.1 243.2L447.8 244.0z" stroke="#0000a8" fill="#aab2e6"/>
<path d="M452.7 244.7L455.0 244.0L453.7 243.3L451.4 244.0z" stroke="#0000a8" fill="#aab2e6"/>
<path d="M456.3 244.8L458.6 244.0L457.3 243.3L455.0 244.0z" stroke="#0000a8" fill="#aab2e6"/>
<path d="M459.9 244.8L462.2 244.1L460.9 243.3L458.6 244.0z" stroke="#0000a8" fill="#aab2e6"/>
<path d="M463.5 244.8L465.8 244.1L464.5 243.3L462.2 244.1z" stroke="#0000a8" fill="#aab2e6"/>
<path d="M467.1 244.8L469.4 244.1L468.1 243.4L465.8 244.1z" stroke="#0000a8" fill="#aab2e6"/>
<path d="M470.7 244.9L473.0 244.1L471.7 243.4L469.4 244.1z" stroke="#0000a8" fill="#aab2e6"/>
<path d="M474.3 244.9L476.6 244.2L475.3 243.4L473.0 244.1z" stroke="#0000a8" fill="#aab2e6"/>
<path d="M477.9 244.9L480.2 244.2L478.9 243.4L476.6 244.2z" stroke="#0000a8" fill="#aab2e6"/>
<path d="M481.5 244.9L483.8 244.2L482.5 243.5L480.2 244.2z" stroke="#0000a8" fill="#aab2e6"/>
<path d="M485.1 245.0L487.4 244.2L486.1 243.5L483.8 244.2z" stroke="#0000a8" fill="#aab2e6"/>
<path d="M488.7 245.0L491.0 244.3L489.7 243.5L487.4 244.2z" stroke="#0000a8" fill="#aab2e6"/>
<path d="M492.3 245.0L494.6 244.3L493.3 243.5L491.0 244.3z" stroke="#0000a8" fill="#aab2e6"/>
<path d="M495.9 245.0L498.2 244.3L496.9 243.6L494.6 244.3z" stroke="#0000a8" fill="#aab2e6"/>
<path d="M499.5 245.1L501.8 244.3L500.5 243.6L498.2 244.3z" stroke="#0000a8" fill="#aab2e6"/>
<path d="M503.1 245.1L505.4 244.4L504.1 243.6L501.8 244.3z" stroke="#0000a8" fill="#aab2e6"/>
<path d="M506.6 245.1L509.0 244.4L507.7 243.6L505.4 244.4z" stroke="#0000a8" fill="#aab2e6"/>
<path d="M510.2 245.1L512.5 244.4L511.3 243.7L509.0 244.4z" stroke="#0000a8" fill="#aab2e6"/>
<path d="M513.8 245.2L516.1 244.4L514.9 243.7L512.5 244.4z" stroke="#0000a8" fill="#aab2e6"/>
<path d="M436.0 245.4L438.3 244.6L437.1 243.9L434.8 244.6z" stroke="#0000a8" fill="#aab2e6"/>
<path d="M439.6 245.4L441.9 244.7L440.7 243.9L438.3 244.6z" stroke="#0000a8" fill="#aab2e6"/>
<path d="M443.2 245.4L445.5 244.7L444.2 243.9L441.9 244.7z" stroke="#0000a8" fill="#aab2e6"/>
<path d="M446.8 245.4L449.1 244.7L447.8 244.0L445.5 244.7z" stroke="#0000a8" fill="#aab2e6"/>
<path d="M450.4 245.5L452.7 244.7L451.4 244.0L449.1 244.7z" stroke="#0000a8" fill="#aab2e6"/>
<path d="M454.0 245.5L456.3 244.8L455.0 244.0L452.7 244.7z" stroke="#0000a8" fill="#aab2e6"/>
<path d="M457.6 245.5L459.9 244.8L458.6 244.0L456.3 244.8z" stroke="#0000a8" fill="#aab2e6"/>
<path d="M461.2 245.5L463.5 244.8L462.2 244.1L459.9 244.8z" stroke="#0000a8" fill="#aab2e6"/>
<path d="M464.8 245.6L467.1 244.8L465.8 244.1L463.5 244.8z" stroke="#0000a8" fill="#aab2e6"/>
<path d="M468.4 245.6L470.7 244.9L469.4 244.1L467.1 244.8z" stroke="#0000a8" fill="#aab2e6"/>
<path d="M472.0 245.6L474.3 244.9L473.0 244.1L470.7 244.9z" stroke="#0000a8" fill="#aab2e6"/>
<path d="M475.6 245.6L477.9 244.9L476.6 244.2L474.3 244.9z" stroke="#0000a8" fill="#aab2e6"/>
<path d="M479.2 245.7L481.5 244.9L480.2 244.2L477.9 244.9z" stroke="#0000a8" fill="#aab2e6"/>
<path d="M482.8 245.7L485.1 245.0L483.8 244.2L481.5 244.9z" stroke="#0000a8" fill="#aab2e6"/>
<path d="M486.4 245.7L488.7 245.0L487.4 244.2L485.1 245.0z" stroke="#0000a8" fill="#aab2e6"/>
<path d="M490.0 245.7L492.3 245.0L491.0 244.3L488.7 245.0z" stroke="#0000a8" fill="#aab2e6"/>
<path d="M493.6 245.8L495.9 245.0L494.6 244.3L492.3 245.0z" stroke="#0000a8" fill="#aab2e6"/>
<path d="M497.1 245.8L499.5 245.1L498.2 244.3L495.9 245.0z" stroke="#0000a8" fill="#aab2e6"/>
<path d="M500.7 245.8L503.1 245.1L501.8 244.3L499.5 245.1z" stroke="#0000a8" fill="#aab2e6"/>
<path d="M504.3 245.8L506.6 245.1L505.4 244.4L503.1 245.1z" stroke="#0000a8" fill="#aab2e6"/>
<path d="M507.9 245.9L510.2 245.1L509.0 244.4L506.6 245.1z" stroke="#0000a8" fill="#aab2e6"/>
<path d="M511.5 245.9L513.8 245.2L512.5 244.4L510.2 245.1z" stroke="#0000a8" fill="#aab2e6"/>
<path d="M437.3 246.1L439.6 245.4L438.3 244.6L436.0 245.4z" stroke="#0000a8" fill="#aab2e6"/>
<path d="M440.9 246.1L443.2 245.4L441.9 244.7L439.6 245.4z" stroke="#0000a8" fill="#aab2e6"/>
<path d="M444.5 246.2L446.8 245.4L445.5 244.7L443.2 245.4z" stroke="#0000a8" fill="#aab2e6"/>
<path d="M448.1 246.2L450.4 245.5L449.1 244.7L446.8 245.4z" stroke="#0000a8" fill="#aab2e6"/>
<path d="M451.7 246.2L454.0 245.5L452.7 244.7L450.4 245.5z" stroke="#0000a8" fill="#aab2e6"/>
<path d="M455.3 246.2L457.6 245.5L456.3 244.8L454.0 245.5z" stroke="#0000a8" fill="#aab2e6"/>
<path d="M458.9 246.3L461.2 245.5L459.9 244.8L457.6 245.5z" stroke="#0000a8" fill="#aab2e6"/>
<path d="M462.5 246.3L464.8 245.6L463.5 244.8L461.2 245.5z" stroke="#0000a8" fill="#aab2e6"/>
<path d="M466.1 246.3L468.4 245.6L467.1 244.8L464.8 245.6z" stroke="#0000a8" fill="#aab2e6"/>
<path d="M469.7 246.3L472.0 245.6L470.7 244.9L468.4 245.6z" stroke="#0000a8" fill="#aab2e6"/>
<path d="M473.3 246.4L475.6 245.6L474.3 244.9L472.0 245.6z" stroke="#0000a8" fill="#aab2e6"/>
<path d="M476.9 246.4L479.2 245.7L477.9 244.9L475.6 245.6z" stroke="#0000a8" fill="#aab2e6"/>
<path d="M480.5 246.4L482.8 245.7L481.5 244.9L479.2 245.7z" stroke="#0000a8" fill="#aab2e6"/>
<path d="M484.1 246.4L486.4 245.7L485.1 245.0L482.8 245.7z" stroke="#0000a8" fill="#aab2e6"/>
<path d="M487.7 246.5L490.0 245.7L488.7 245.0L486.4 245.7z" stroke="#0000a8" fill="#aab2e6"/>
<path d="M491.2 246.5L493.6 245.8L492.3 245.0L490.0 245.7z" stroke="#0000a8" fill="#aab2e6"/>
<path d="M494.8 246.5L497.1 245.8L495.9 245.0L493.6 245.8z" stroke="#0000a8" fill="#aab2e6"/>
<path d="M498.4 246.5L500.7 245.8L499.5 245.1L497.1 245.8z" stroke="#0000a8" fill="#aab2e6"/>
<path d="M502.0 246.6L504.3 245.8L503.1 245.1L500.7 245.8z" stroke="#0000a8" fill="#aab2e6"/>
<path d="M505.6 246.6L507.9 245.9L506.6 245.1L504.3 245.8z" stroke="#0000a8" fill="#aab2e6"/>
<path d="M509.2 246.6L511.5 245.9L510.2 245.1L507.9 245.9z" stroke="#0000a8" fill="#aab2e6"/>
<path d="M438.6 246.9L440.9 246.1L439.6 245.4L437.3 246.1z" stroke="#0000a8" fill="#aab2e6"/>
<path d="M442.2 246.9L444.5 246.2L443.2 245.4L440.9 246.1z" stroke="#0000a8" fill="#aab2e6"/>
<path d="M445.8 246.9L448.1 246.2L446.8 245.4L444.5 246.2z" stroke="#0000a8" fill="#aab2e6"/>
<path d="M449.4 246.9L451.7 246.2L450.4 245.5L448.1 246.2z" stroke="#0000a8" fill="#aab2e6"/>
<path d="M453.0 247.0L455.3 246.2L454.0 245.5L451.7 246.2z" stroke="#0000a8" fill="#aab2e6"/>
<path d="M456.6 247.0L458.9 246.3L457.6 245.5L455.3 246.2z" stroke="#0000a8" fill="#aab2e6"/>
<path d="M460.2 247.0L462.5 246.3L461.2 245.5L458.9 246.3z" stroke="#0000a8" fill="#aab2e6"/>
<path d="M463.8 247.0L466.1 246.3L464.8 245.6L462.5 246.3z" stroke="#0000a8" fill="#aab2e6"/>
<path d="M467.4 247.1L469.7 246.3L468.4 245.6L466.1 246.3z" stroke="#0000a8" fill="#aab2e6"/>
<path d="M471.0 247.1L473.3 246.4L472.0 245.6L469.7 246.3z" stroke="#0000a8" fill="#aab2e6"/>
<path d="M474.6 247.1L476.9 246.4L475.6 245.6L473.3 246.4z" stroke="#0000a8" fill="#aab2e6"/>
<path d="M478.2 247.1L480.5 246.4L479.2 245.7L476.9 246.4z" stroke="#0000a8" fill="#aab2e6"/>
<path d="M481.8 247.2L484.1 246.4L482.8 245.7L480.5 246.4z" stroke="#0000a8" fill="#aab2e6"/>
<path d="M485.3 247.2L487.7 246.5L486.4 245.7L484.1 246.4z" stroke="#0000a8" fill="#aab2e6"/>
<path d="M488.9 247.2L491.2 246.5L490.0 245.7L487.7 246.5z" stroke="#0000a8" fill="#aab2e6"/>
<path d="M492.5 247.2L494.8 246.5L493.6 245.8L491.2 246.5z" stroke="#0000a8" fill="#aab2e6"/>
<path d="M496.1 247.3L498.4 246.5L497.1 245.8L494.8 246.5z" stroke="#0000a8" fill="#aab2e6"/>
<path d="M499.7 247.3L502.0 246.6L500.7 245.8L498.4 246.5z" stroke="#0000a8" fill="#aab2e6"/>
<path d="M503.3 247.3L505.6 246.6L504.3 245.8L502.0 246.6z" stroke="#0000a8" fill="#aab2e6"/>
<path d="M506.9 247.3L509.2 246.6L507.9 245.9L505.6 246.6z" stroke="#0000a8" fill="#aab2e6"/>
<path d="M439.9 247.6L442.2 246.9L440.9 246.1L438.6 246.9z" stroke="#0000a8" fill="#aab2e6"/>
<path d="M443.5 247.6L445.8 246.9L444.5 246.2L442.2 246.9z" stroke="#0000a8" fill="#aab2e6"/>
<path d="M447.1 247.7L449.4 246.9L448.1 246.2L445.8 246.9z" stroke="#0000a8" fill="#aab2e6"/>
<path d="M450.7 247.7L453.0 247.0L451.7 246.2L449.4 246.9z" stroke="#0000a8" fill="#aab2e6"/>
<path d="M454.3 247.7L456.6 247.0L455.3 246.2L453.0 247.0z" stroke="#0000a8" fill="#aab2e6"/>
<path d="M457.9 247.7L460.2 247.0L458.9 246.3L456.6 247.0z" stroke="#0000a8" fill="#aab2e6"/>
<path d="M461.5 247.8L463.8 247.0L462.5 246.3L460.2 247.0z" stroke="#0000a8" fill="#aab2e6"/>
<path d="M465.1 247.8L467.4 247.1L466.1 246.3L463.8 247.0z" stroke="#0000a8" fill="#aab2e6"/>
<path d="M468.7 247.8L471.0 247.1L469.7 246.3L467.4 247.1z" stroke="#0000a8" fill="#aab2e6"/>
<path d="M472.3 247.8L474.6 247.1L473.3 246.4L471.0 247.1z" stroke="#0000a8" fill="#aab2e6"/>
<path d="M475.9 247.9L478.2 247.1L476.9 246.4L474.6 247.1z" stroke="#0000a8" fill="#aab2e6"/>
<path d="M479.4 247.9L481.8 247.2L480.5 246.4L478.2 247.1z" stroke="#0000a8" fill="#aab2e6"/>
<path d="M483.0 247.9L485.3 247.2L484.1 246.4L481.8 247.2z" stroke="#0000a8" fill="#aab2e6"/>
<path d="M486.6 247.9L488.9 247.2L487.7 246.5L485.3 247.2z" stroke="#0000a8" fill="#aab2e6"/>
<path d="M490.2 248.0L492.5 247.2L491.2 246.5L488.9 247.2z" stroke="#0000a8" fill="#aab2e6"/>
<path d="M493.8 248.0L496.1 247.3L494.8 246.5L492.5 247.2z" stroke="#0000a8" fill="#aab2e6"/>
<path d="M497.4 248.0L499.7 247.3L498.4 246.5L496.1 247.3z" stroke="#0000a8" fill="#aab2e6"/>
<path d="M501.0 248.0L503.3 247.3L502.0 246.6L499.7 247.3z" stroke="#0000a8" fill="#aab2e6"/>
<path d="M504.6 248.1L506.9 247.3L505.6 246.6L503.3 247.3z" stroke="#0000a8" fill="#aab2e6"/>
<path d="M441.2 248.4L443.5 247.6L442.2 246.9L439.9 247.6z" stroke="#0000a8" fill="#aab2e6"/>
<path d="M444.8 248.4L447.1 247.7L445.8 246.9L443.5 247.6z" stroke="#0000a8" fill="#aab2e6"/>
<path d="M448.4 248.4L450.7 247.7L449.4 246.9L447.1 247.7z" stroke="#0000a8" fill="#aab2e6"/>
<path d="M452.0 248.4L454.3 247.7L453.0 247.0L450.7 247.7z" stroke="#0000a8" fill="#aab2e6"/>
<path d="M455.6 248.5L457.9 247.7L456.6 247.0L454.3 247.7z" stroke="#0000a8" fill="#aab2e6"/>
<path d="M459.2 248.5L461.5 247.8L460.2 247.0L457.9 247.7z" stroke="#0000a8" fill="#aab2e6"/>
<path d="M462.8 248.5L465.1 247.8L463.8 247.0L461.5 247.8z" stroke="#0000a8" fill="#aab2e6"/>
<path d="M466.4 248.5L468.7 247.8L467.4 247.1L465.1 247.8z" stroke="#0000a8" fill="#aab2e6"/>
<path d="M470.0 248.6L472.3 247.8L471.0 247.1L468.7 247.8z" stroke="#0000a8" fill="#aab2e6"/>
<path d="M473.5 248.6L475.9 247.9L474.6 247.1L472.3 247.8z" stroke="#0000a8" fill="#aab2e6"/>
<path d="M477.1 248.6L479.4 247.9L478.2 247.1L475.9 247.9z" stroke="#0000a8" fill="#aab2e6"/>
<path d="M480.7 248.6L483.0 247.9L481.8 247.2L479.4 247.9z" stroke="#0000a8" fill="#aab2e6"/>
<path d="M484.3 248.7L486.6 247.9L485.3 247.2L483.0 247.9z" stroke="#0000a8" fill="#aab2e6"/>
<path d="M487.9 248.7L490.2 248.0L488.9 247.2L486.6 247.9z" stroke="#0000a8" fill="#aab2e6"/>
<path d="M491.5 248.7L493.8 248.0L492.5 247.2L490.2 248.0z" stroke="#0000a8" fill="#aab2e6"/>
<path d="M495.1 248.7L497.4 248.0L496.1 247.3L493.8 248.0z" stroke="#0000a8" fill="#aab2e6"/>
<path d="M498.7 248.8L501.0 248.0L499.7 247.3L497.4 248.0z" stroke="#0000a8" fill="#aab2e6"/>
<path d="M502.3 248.8L504.6 248.1L503.3 247.3L501.0 248.0z" stroke="#0000a8" fill="#aab2e6"/>
<path d="M442.5 249.1L444.8 248.4L443.5 247.6L441.2 248.4z" stroke="#0000a8" fill="#aab2e6"/>
<path d="M446.1 249.1L448.4 248.4L447.1 247.7L444.8 248.4z" stroke="#0000a8" fill="#aab2e6"/>
<path d="M449.7 249.2L452.0 248.4L450.7 247.7L448.4 248.4z" stroke="#0000a8" fill="#aab2e6"/>
<path d="M453.3 249.2L455.6 248.5L454.3 247.7L452.0 248.4z" stroke="#0000a8" fill="#aab2e6"/>
<path d="M456.9 249.2L459.2 248.5L457.9 247.7L455.6 248.5z" stroke="#0000a8" fill="#aab2e6"/>
<path d="M460.5 249.2L462.8 248.5L461.5 247.8L459.2 248.5z" stroke="#0000a8" fill="#aab2e6"/>
<path d="M464.1 249.3L466.4 248.5L465.1 247.8L462.8 248.5z" stroke="#0000a8" fill="#aab2e6"/>
<path d="M467.6 249.3L470.0 248.6L468.7 247.8L466.4 248.5z" stroke="#0000a8" fill="#aab2e6"/>
<path d="M471.2 249.3L473.5 248.6L472.3 247.8L470.0 248.6z" stroke="#0000a8" fill="#aab2e6"/>
<path d="M474.8 249.3L477.1 248.6L475.9 247.9L473.5 248.6z" stroke="#0000a8" fill="#aab2e6"/>
<path d="M478.4 249.4L480.7 248.6L479.4 247.9L477.1 248.6z" stroke="#0000a8" fill="#aab2e6"/>
<path d="M482.0 249.4L484.3 248.7L483.0 247.9L480.7 248.6z" stroke="#0000a8" fill="#aab2e6"/>
<path d="M485.6 249.4L487.9 248.7L486.6 247.9L484.3 248.7z" stroke="#0000a8" fill="#aab2e6"/>
<path d="M489.2 249.4L491.5 248.7L490.2 248.0L487.9 248.7z" stroke="#0000a8" fill="#aab2e6"/>
<path d="M492.8 249.5L495.1 248.7L493.8 248.0L491.5 248.7z" stroke="#0000a8" fill="#aab2e6"/>
<path d="M496.4 249.5L498.7 248.8L497.4 248.0L495.1 248.7z" stroke="#0000a8" fill="#aab2e6"/>
<path d="M500.0 249.5L502.3 248.8L501.0 248.0L498.7 248.8z" stroke="#0000a8" fill="#aab2e6"/>
<path d="M443.8 249.9L446.1 249.1L444.8 248.4L442.5 249.1z" stroke="#0000a8" fill="#aab2e6"/>
<path d="M447.4 249.9L449.7 249.2L448.4 248.4L446.1 249.1z" stroke="#0000a8" fill="#aab2e6"/>
<path d="M451.0 249.9L453.3 249.2L452.0 248.4L449.7 249.2z" stroke="#0000a8" fill="#aab2e6"/>
<path d="M454.6 249.9L456.9 249.2L455.6 248.5L453.3 249.2z" stroke="#0000a8" fill="#aab2e6"/>
<path d="M458.1 250.0L460.5 249.2L459.2 248.5L456.9 249.2z" stroke="#0000a8" fill="#aab2e6"/>
<path d="M461.7 250.0L464.1 249.3L462.8 248.5L460.5 249.2z" stroke="#0000a8" fill="#aab2e6"/>
<path d="M465.3 250.0L467.6 249.3L466.4 248.5L464.1 249.3z" stroke="#0000a8" fill="#aab2e6"/>
<path d="M468.9 250.0L471.2 249.3L470.0 248.6L467.6 249.3z" stroke="#0000a8" fill="#aab2e6"/>
<path d="M472.5 250.1L474.8 249.3L473.5 248.6L471.2 249.3z" stroke="#0000a8" fill="#aab2e6"/>
<path d="M476.1 250.1L478.4 249.4L477.1 248.6L474.8 249.3z" stroke="#0000a8" fill="#aab2e6"/>
<path d="M479.7 250.1L482.0 249.4L480.7 248.6L478.4 249.4z" stroke="#0000a8" fill="#aab2e6"/>
<path d="M483.3 250.1L485.6 249.4L484.3 248.7L482.0 249.4z" stroke="#0000a8" fill="#aab2e6"/>
<path d="M486.9 250.2L489.2 249.4L487.9 248.7L485.6 249.4z" stroke="#0000a8" fill="#aab2e6"/>
<path d="M490.5 250.2L492.8 249.5L491.5 248.7L489.2 249.4z" stroke="#0000a8" fill="#aab2e6"/>
<path d="M494.1 250.2L496.4 249.5L495.1 248.7L492.8 249.5z" stroke="#0000a8" fill="#aab2e6"/>
<path d="M497.7 250.2L500.0 249.5L498.7 248.8L496.4 249.5z" stroke="#0000a8" fill="#aab2e6"/>
<path d="M445.1 250.6L447.4 249.9L446.1 249.1L443.8 249.9z" stroke="#0000a8" fill="#aab2e6"/>
<path d="M448.7 250.6L451.0 249.9L449.7 249.2L447.4 249.9z" stroke="#0000a8" fill="#aab2e6"/>
<path d="M452.2 250.7L454.6 249.9L453.3 249.2L451.0 249.9z" stroke="#0000a8" fill="#aab2e6"/>
<path d="M455.8 250.7L458.1 250.0L456.9 249.2L454.6 249.9z" stroke="#0000a8" fill="#aab2e6"/>
<path d="M459.4 250.7L461.7 250.0L460.5 249.2L458.1 250.0z" stroke="#0000a8" fill="#aab2e6"/>
<path d="M463.0 250.7L465.3 250.0L464.1 249.3L461.7 250.0z" stroke="#0000a8" fill="#aab2e6"/>
<path d="M466.6 250.8L468.9 250.0L467.6 249.3L465.3 250.0z" stroke="#0000a8" fill="#aab2e6"/>
<path d="M470.2 250.8L472.5 250.1L471.2 249.3L468.9 250.0z" stroke="#0000a8" fill="#aab2e6"/>
<path d="M473.8 250.8L476.1 250.1L474.8 249.3L472.5 250.1z" stroke="#0000a8" fill="#aab2e6"/>
<path d="M477.4 250.8L479.7 250.1L478.4 249.4L476.1 250.1z" stroke="#0000a8" fill="#aab2e6"/>
<path d="M481.0 250.9L483.3 250.1L482.0 249.4L479.7 250.1z" stroke="#0000a8" fill="#aab2e6"/>
<path d="M484.6 250.9L486.9 250.2L485.6 249.4L483.3 250.1z" stroke="#0000a8" fill="#aab2e6"/>
<path d="M488.2 250.9L490.5 250.2L489.2 249.4L486.9 250.2z" stroke="#0000a8" fill="#aab2e6"/>
<path d="M491.8 250.9L494.1 250.2L492.8 249.5L490.5 250.2z" stroke="#0000a8" fill="#aab2e6"/>
<path d="M495.4 251.0L497.7 250.2L496.4 249.5L494.1 250.2z" stroke="#0000a8" fill="#aab2e6"/>
<path d="M446.3 251.4L448.7 250.6L447.4 249.9L445.1 250.6z" stroke="#0000a8" fill="#aab2e6"/>
<path d="M449.9 251.4L452.2 250.7L451.0 249.9L448.7 250.6z" stroke="#0000a8" fill="#aab2e6"/>
<path d="M453.5 251.4L455.8 250.7L454.6 249.9L452.2 250.7z" stroke="#0000a8" fill="#aab2e6"/>
<path d="M457.1 251.4L459.4 250.7L458.1 250.0L455.8 250.7z" stroke="#0000a8" fill="#aab2e6"/>
<path d="M460.7 251.5L463.0 250.7L461.7 250.0L459.4 250.7z" stroke="#0000a8" fill="#aab2e6"/>
<path d="M464.3 251.5L466.6 250.8L465.3 250.0L463.0 250.7z" stroke="#0000a8" fill="#aab2e6"/>
<path d="M467.9 251.5L470.2 250.8L468.9 250.0L466.6 250.8z" stroke="#0000a8" fill="#aab2e6"/>
<path d="M471.5 251.5L473.8 250.8L472.5 250.1L470.2 250.8z" stroke="#0000a8" fill="#aab2e6"/>
<path d="M475.1 251.6L477.4 250.8L476.1 250.1L473.8 250.8z" stroke="#0000a8" fill="#aab2e6"/>
<path d="M478.7 251.6L481.0 250.9L479.7 250.1L477.4 250.8z" stroke="#0000a8" fill="#aab2e6"/>
<path d="M482.3 251.6L484.6 250.9L483.3 250.1L481.0 250.9z" stroke="#0000a8" fill="#aab2e6"/>
<path d="M485.9 251.6L488.2 250.9L486.9 250.2L484.6 250.9z" stroke="#0000a8" fill="#aab2e6"/>
<path d="M489.5 251.7L491.8 250.9L490.5 250.2L488.2 250.9z" stroke="#0000a8" fill="#aab2e6"/>
<path d="M493.1 251.7L495.4 251.0L494.1 250.2L491.8 250.9z" stroke="#0000a8" fill="#aab2e6"/>
<path d="M447.6 252.1L449.9 251.4L448.7 250.6L446.3 251.4z" stroke="#0000a8" fill="#aab2e6"/>
<path d="M451.2 252.1L453.5 251.4L452.2 250.7L449.9 251.4z" stroke="#0000a8" fill="#aab2e6"/>
<path d="M454.8 252.2L457.1 251.4L455.8 250.7L453.5 251.4z" stroke="#0000a8" fill="#aab2e6"/>
<path d="M458.4 252.2L460.7 251.5L459.4 250.7L457.1 251.4z" stroke="#0000a8" fill="#aab2e6"/>
<path d="M462.0 252.2L464.3 251.5L463.0 250.7L460.7 251.5z" stroke="#0000a8" fill="#aab2e6"/>
<path d="M465.6 252.2L467.9 251.5L466.6 250.8L464.3 251.5z" stroke="#0000a8" fill="#aab2e6"/>
<path d="M469.2 252.3L471.5 251.5L470.2 250.8L467.9 251.5z" stroke="#0000a8" fill="#aab2e6"/>
<path d="M472.8 252.3L475.1 251.6L473.8 250.8L471.5 251.5z" stroke="#0000a8" fill="#aab2e6"/>
<path d="M476.4 252.3L478.7 251.6L477.4 250.8L475.1 251.6z" stroke="#0000a8" fill="#aab2e6"/>
<path d="M480.0 252.3L482.3 251.6L481.0 250.9L478.7 251.6z" stroke="#0000a8" fill="#aab2e6"/>
<path d="M483.6 252.4L485.9 251.6L484.6 250.9L482.3 251.6z" stroke="#0000a8" fill="#aab2e6"/>
<path d="M487.2 252.4L489.5 251.7L488.2 250.9L485.9 251.6z" stroke="#0000a8" fill="#aab2e6"/>
<path d="M490.8 252.4L493.1 251.7L491.8 250.9L489.5 251.7z" stroke="#0000a8" fill="#aab2e6"/>
<path d="M448.9 252.9L451.2 252.1L449.9 251.4L447.6 252.1z" stroke="#0000a8" fill="#aab2e6"/>
<path d="M452.5 252.9L454.8 252.2L453.5 251.4L451.2 252.1z" stroke="#0000a8" fill="#aab2e6"/>
<path d="M456.1 252.9L458.4 252.2L457.1 251.4L454.8 252.2z" stroke="#0000a8" fill="#aab2e6"/>
<path d="M459.7 252.9L462.0 252.2L460.7 251.5L458.4 252.2z" stroke="#0000a8" fill="#aab2e6"/>
<path d="M463.3 253.0L465.6 252.2L464.3 251.5L462.0 252.2z" stroke="#0000a8" fill="#aab2e6"/>
<path d="M466.9 253.0L469.2 252.3L467.9 251.5L465.6 252.2z" stroke="#0000a8" fill="#aab2e6"/>
<path d="M470.5 253.0L472.8 252.3L471.5 251.5L469.2 252.3z" stroke="#0000a8" fill="#aab2e6"/>
<path d="M474.1 253.0L476.4 252.3L475.1 251.6L472.8 252.3z" stroke="#0000a8" fill="#aab2e6"/>
<path d="M477.7 253.1L480.0 252.3L478.7 251.6L476.4 252.3z" stroke="#0000a8" fill="#aab2e6"/>
<path d="M481.3 253.1L483.6 252.4L482.3 251.6L480.0 252.3z" stroke="#0000a8" fill="#aab2e6"/>
<path d="M484.9 253.1L487.2 252.4L485.9 251.6L483.6 252.4z" stroke="#0000a8" fill="#aab2e6"/>
<path d="M488.5 253.1L490.8 252.4L489.5 251.7L487.2 252.4z" stroke="#0000a8" fill="#aab2e6"/>
<path d="M450.2 253.6L452.5 252.9L451.2 252.1L448.9 252.9z" stroke="#0000a8" fill="#aab2e6"/>
<path d="M453.8 253.6L456.1 252.9L454.8 252.2L452.5 252.9z" stroke="#0000a8" fill="#aab2e6"/>
<path d="M457.4 253.7L459.7 252.9L458.4 252.2L456.1 252.9z" stroke="#0000a8" fill="#aab2e6"/>
<path d="M461.0 253.7L463.3 253.0L462.0 252.2L459.7 252.9z" stroke="#0000a8" fill="#aab2e6"/>
<path d="M464.6 253.7L466.9 253.0L465.6 252.2L463.3 253.0z" stroke="#0000a8" fill="#aab2e6"/>
<path d="M468.2 253.7L470.5 253.0L469.2 252.3L466.9 253.0z" stroke="#0000a8" fill="#aab2e6"/>
<path d="M471.8 253.8L474.1 253.0L472.8 252.3L470.5 253.0z" stroke="#0000a8" fill="#aab2e6"/>
<path d="M475.4 253.8L477.7 253.1L476.4 252.3L474.1 253.0z" stroke="#0000a8" fill="#aab2e6"/>
<path d="M479.0 253.8L481.3 253.1L480.0 252.3L477.7 253.1z" stroke="#0000a8" fill="#aab2e6"/>
<path d="M482.6 253.8L484.9 253.1L483.6 252.4L481.3 253.1z" stroke="#0000a8" fill="#aab2e6"/>
<path d="M486.2 253.9L488.5 253.1L487.2 252.4L484.9 253.1z" stroke="#0000a8" fill="#aab2e6"/>
<path d="M451.5 254.4L453.8 253.6L452.5 252.9L450.2 253.6z" stroke="#0000a8" fill="#aab2e6"/>
<path d="M455.1 254.4L457.4 253.7L456.1 252.9L453.8 253.6z" stroke="#0000a8" fill="#aab2e6"/>
<path d="M458.7 254.4L461.0 253.7L459.7 252.9L457.4 253.7z" stroke="#0000a8" fill="#aab2e6"/>
<path d="M462.3 254.4L464.6 253.7L463.3 253.0L461.0 253.7z" stroke="#0000a8" fill="#aab2e6"/>
<path d="M465.9 254.5L468.2 253.7L466.9 253.0L464.6 253.7z" stroke="#0000a8" fill="#aab2e6"/>
<path d="M469.5 254.5L471.8 253.8L470.5 253.0L468.2 253.7z" stroke="#0000a8" fill="#aab2e6"/>
<path d="M473.1 254.5L475.4 253.8L474.1 253.0L471.8 253.8z" stroke="#0000a8" fill="#aab2e6"/>
<path d="M476.7 254.5L479.0 253.8L477.7 253.1L475.4 253.8z" stroke="#0000a8" fill="#aab2e6"/>
<path d="M480.3 254.6L482.6 253.8L481.3 253.1L479.0 253.8z" stroke="#0000a8" fill="#aab2e6"/>
<path d="M483.9 254.6L486.2 253.9L484.9 253.1L482.6 253.8z" stroke="#0000a8" fill="#aab2e6"/>
<path d="M452.8 255.1L455.1 254.4L453.8 253.6L451.5 254.4z" stroke="#0000a8" fill="#aab2e6"/>
<path d="M456.4 255.1L458.7 254.4L457.4 253.7L455.1 254.4z" stroke="#0000a8" fill="#aab2e6"/>
<path d="M460.0 255.2L462.3 254.4L461.0 253.7L458.7 254.4z" stroke="#0000a8" fill="#aab2e6"/>
<path d="M463.6 255.2L465.9 254.5L464.6 253.7L462.3 254.4z" stroke="#0000a8" fill="#aab2e6"/>
<path d="M467.2 255.2L469.5 254.5L468.2 253.7L465.9 254.5z" stroke="#0000a8" fill="#aab2e6"/>
<path d="M470.8 255.2L473.1 254.5L471.8 253.8L469.5 254.5z" stroke="#0000a8" fill="#aab2e6"/>
<path d="M474.4 255.3L476.7 254.5L475.4 253.8L473.1 254.5z" stroke="#0000a8" fill="#aab2e6"/>
<path d="M478.0 255.3L480.3 254.6L479.0 253.8L476.7 254.5z" stroke="#0000a8" fill="#aab2e6"/>
<path d="M481.5 255.3L483.9 254.6L482.6 253.8L480.3 254.6z" stroke="#0000a8" fill="#aab2e6"/>
<path d="M454.1 255.9L456.4 255.1L455.1 254.4L452.8 255.1z" stroke="#0000a8" fill="#aab2e6"/>
<path d="M457.7 255.9L460.0 255.2L458.7 254.4L456.4 255.1z" stroke="#0000a8" fill="#aab2e6"/>
<path d="M461.3 255.9L463.6 255.2L462.3 254.4L460.0 255.2z" stroke="#0000a8" fill="#aab2e6"/>
<path d="M464.9 255.9L467.2 255.2L465.9 254.5L463.6 255.2z" stroke="#0000a8" fill="#aab2e6"/>
<path d="M468.5 256.0L470.8 255.2L469.5 254.5L467.2 255.2z" stroke="#0000a8" fill="#aab2e6"/>
<path d="M472.1 256.0L474.4 255.3L473.1 254.5L470.8 255.2z" stroke="#0000a8" fill="#aab2e6"/>
<path d="M475.6 256.0L478.0 255.3L476.7 254.5L474.4 255.3z" stroke="#0000a8" fill="#aab2e6"/>
<path d="M479.2 256.0L481.5 255.3L480.3 254.6L478.0 255.3z" stroke="#0000a8" fill="#aab2e6"/>
<path d="M455.4 256.6L457.7 255.9L456.4 255.1L454.1 255.9z" stroke="#0000a8" fill="#aab2e6"/>
<path d="M459.0 256.6L461.3 255.9L460.0 255.2L457.7 255.9z" stroke="#0000a8" fill="#aab2e6"/>
<path d="M462.6 256.7L464.9 255.9L463.6 255.2L461.3 255.9z" stroke="#0000a8" fill="#aab2e6"/>
<path d="M466.2 256.7L468.5 256.0L467.2 255.2L464.9 255.9z" stroke="#0000a8" fill="#aab2e6"/>
<path d="M469.7 256.7L472.1 256.0L470.8 255.2L468.5 256.0z" stroke="#0000a8" fill="#aab2e6"/>
<path d="M473.3 256.7L475.6 256.0L474.4 255.3L472.1 256.0z" stroke="#0000a8" fill="#aab2e6"/>
<path d="M476.9 256.8L479.2 256.0L478.0 255.3L475.6 256.0z" stroke="#0000a8" fill="#aab2e6"/>
<path d="M456.7 257.4L459.0 256.6L457.7 255.9L455.4 256.6z" stroke="#0000a8" fill="#aab2e6"/>
<path d="M460.3 257.4L462.6 256.7L461.3 255.9L459.0 256.6z" stroke="#0000a8" fill="#aab2e6"/>
<path d="M463.8 257.4L466.2 256.7L464.9 255.9L462.6 256.7z" stroke="#0000a8" fill="#aab2e6"/>
<path d="M467.4 257.4L469.7 256.7L468.5 256.0L466.2 256.7z" stroke="#0000a8" fill="#aab2e6"/>
<path d="M471.0 257.5L473.3 256.7L472.1 256.0L469.7 256.7z" stroke="#0000a8" fill="#aab2e6"/>
<path d="M474.6 257.5L476.9 256.8L475.6 256.0L473.3 256.7z" stroke="#0000a8" fill="#aab2e6"/>
<path d="M457.9 258.1L460.3 257.4L459.0 256.6L456.7 257.4z" stroke="#0000a8" fill="#aab2e6"/>
<path d="M461.5 258.1L463.8 257.4L462.6 256.7L460.3 257.4z" stroke="#0000a8" fill="#aab2e6"/>
<path d="M465.1 258.2L467.4 257.4L466.2 256.7L463.8 257.4z" stroke="#0000a8" fill="#aab2e6"/>
<path d="M468.7 258.2L471.0 257.5L469.7 256.7L467.4 257.4z" stroke="#0000a8" fill="#aab2e6"/>
<path d="M472.3 258.2L474.6 257.5L473.3 256.7L471.0 257.5z" stroke="#0000a8" fill="#aab2e6"/>
<path d="M459.2 258.9L461.5 258.1L460.3 257.4L457.9 258.1z" stroke="#0000a8" fill="#aab2e6"/>
<path d="M462.8 258.9L465.1 258.2L463.8 257.4L461.5 258.1z" stroke="#0000a8" fill="#aab2e6"/>
<path d="M466.4 258.9L468.7 258.2L467.4 257.4L465.1 258.2z" stroke="#0000a8" fill="#aab2e6"/>
<path d="M470.0 258.9L472.3 258.2L471.0 257.5L468.7 258.2z" stroke="#0000a8" fill="#aab2e6"/>
<path d="M460.5 259.6L462.8 258.9L461.5 258.1L459.2 258.9z" stroke="#0000a8" fill="#aab2e6"/>
<path d="M464.1 259.6L466.4 258.9L465.1 258.2L462.8 258.9z" stroke="#0000a8" fill="#aab2e6"/>
<path d="M467.7 259.7L470.0 258.9L468.7 258.2L466.4 258.9z" stroke="#0000a8" fill="#aab2e6"/>
<path d="M461.8 260.4L464.1 259.6L462.8 258.9L460.5 259.6z" stroke="#0000a8" fill="#aab2e6"/>
<path d="M465.4 260.4L467.7 259.7L466.4 258.9L464.1 259.6z" stroke="#0000a8" fill="#aab2e6"/>
<path d="M463.1 261.1L465.4 260.4L464.1 259.6L461.8 260.4z" stroke="#0000a8" fill="#aab2e6"/>
</g>
<text transform="translate(390.6,234.3) rotate(-90) scale(0.89,1)" font-size="6.61" text-anchor="middle" dominant-baseline="central" fill="#222" style="stroke-width:0.22">degree of accuracy</text>
<text x="418.8" y="177.7" font-size="12" text-anchor="middle" dominant-baseline="central" fill="#222" font-weight="normal" style="stroke-width:0.2">F</text>
<text transform="translate(422.5,296.0) rotate(32) scale(0.8,1)" font-size="8.20" text-anchor="middle" dominant-baseline="central" fill="#222">lb<tspan dy='2'>g</tspan></text>
<text transform="translate(513.4,303.4) rotate(-17) scale(0.8,1)" font-size="8.20" text-anchor="middle" dominant-baseline="central" fill="#222">lbc</text>
</svg></body></html>
